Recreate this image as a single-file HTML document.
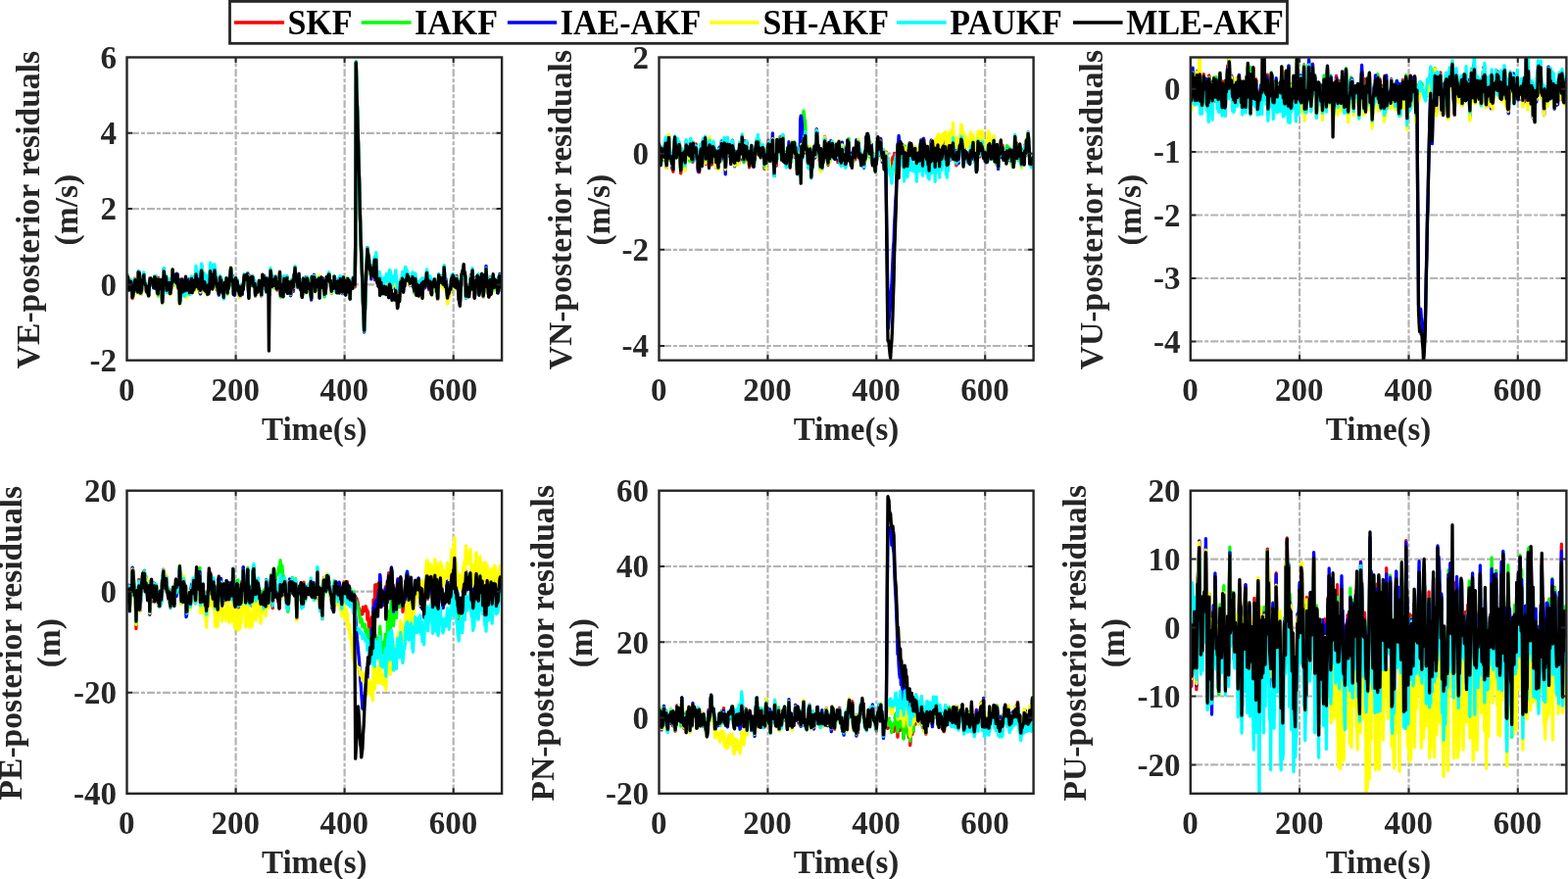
<!DOCTYPE html>
<html><head><meta charset="utf-8"><title>Posterior residuals</title><style>html,body{margin:0;padding:0;background:#fff;}svg{display:block;}text{font-family:'Liberation Serif','Times New Roman',serif;font-weight:bold;}</style></head><body>
<svg width="1600" height="897" viewBox="0 0 1600 897">
<rect width="1600" height="897" fill="#fff"/>
<defs>
<clipPath id="c0"><rect x="129.5" y="58.5" width="382.6" height="309.2"/></clipPath>
<clipPath id="c1"><rect x="672.5" y="58.5" width="382.1" height="309.2"/></clipPath>
<clipPath id="c2"><rect x="1214.8" y="58.5" width="383.6" height="309.2"/></clipPath>
<clipPath id="c3"><rect x="129.5" y="500.7" width="382.6" height="309.1"/></clipPath>
<clipPath id="c4"><rect x="672.5" y="500.7" width="382.1" height="309.1"/></clipPath>
<clipPath id="c5"><rect x="1214.8" y="500.7" width="383.6" height="309.1"/></clipPath>
</defs>
<path d="M240.6 58.5V367.7M351.6 58.5V367.7M462.7 58.5V367.7" stroke="#b3b3b3" stroke-width="2.2" stroke-dasharray="8 2 4 2" stroke-dashoffset="4.2" fill="none"/>
<path d="M129.5 290.4H512.1M129.5 213.1H512.1M129.5 135.8H512.1" stroke="#b3b3b3" stroke-width="2.2" stroke-dasharray="8 2 4 2" stroke-dashoffset="11.6" fill="none"/>
<g clip-path="url(#c0)" fill="none" stroke-width="3.3" stroke-linejoin="round" stroke-linecap="round">
<path stroke="#ff0000" d="M129.5 287.7l.6-6.8 .5 2.1 .6 2 .5 8.9 .6-5.1 .5 4.7 .6-2.8 .5-2.1 .6 4.6 .6 11.5 .5-1.6 .6-3 .5-8.3 .6 2.4 .5-10.1 .6 5.8 .5-.7 .6-2.7 .6 2.6 .5 8.9 .6-19.9 .5 .6 .6-1 .5 11.9 .6 8.9 .5 1.7 .6-2.3 .5-10.9 .6-1.4 .6-2.7 .5-3 .6 8.4 .5 .8 .6 2.7 .5 1.1 .6 5.6 .5-7.2 .6 3.3 .6 5.3 .5 1.2 .6-9 .5-8.2 .6 2.8 .5-2.2 .6 4.6 .5-.4 .6 1.1 .6 1.4 .5 2.1 .6-5.5 .5-4.3 .6 10.2 .5-12.1 .6 7.3 .5 .7 .6 8.9 .6 .1 .5-15.2 .6 11.4 .5-4.7 .6 4.9 .5-1.6 .6-6.3 .5 6.9 .6 14.6 .5-7.6 .6-16.5 .6-7.4 .5 8.4 .6 2.6 .5 3.5 .6-7.3 .5 12.7 .6-2.4 .5-7.3 .6 .7 .6 2.2 .5-4.8 .6 12.4 .5 1 .6-4.1 .5-4.1 .6-1.2 .5-12.2 .6 11.6 .6-5.8 .5 4.4 .6-4.3 .5 5.9 .6 .3 .5-10 .6 9.7 .5-6.6 .6 12 .6-1.7 .5-5.5 .6 20.7 .5-1.8 .6-10.9 .5-7.3 .6-3.4 .5 5.3 .6 7 .6-10.6 .5 1.7 .6 9.1 .5-5.1 .6-8.4 .5 7.6 .6 6.4 .5-4.3 .6-2 .5-4 .6-.5 .6 11.7 .5-.9 .6-9.8 .5-.3 .6-3.1 .5 13.2 .6-2.2 .5-9 .6 8.8 .6-7.6 .5 1.3 .6 3.3 .5-11.5 .6 6.1 .5 1.5 .6-2.7 .5-.9 .6 10.4 .6-1.9 .5 3.6 .6 2.7 .5-18.1 .6-5.6 .5 2.3 .6 17.1 .5-7.5 .6 1.2 .6 7.4 .5-6.7 .6 8.7 .5-.1 .6-.6 .5 .7 .6 1.6 .5-9.9 .6 9.3 .5-3 .6-2.7 .6-16.5 .5 11.9 .6-6.9 .5-5.3 .6 14.9 .5-2.6 .6-4.9 .5 2.6 .6-12 .6 11.3 .5-1.1 .6 7.5 .5 3.6 .6-4.6 .5 5.6 .6-6.2 .5 9.6 .6-4.9 .6-11.2 .5 13.2 .6-12.8 .5 5.4 .6 4.5 .5 2.7 .6-8.9 .5 13.7 .6-10.7 .6-.3 .5 1.7 .6-4.2 .5-4.3 .6 7.4 .5 5.3 .6-7.7 .5 5 .6-3.2 .6-5.8 .5-5.7 .6-4.9 .5 7.7 .6 1.2 .5-2.6 .6 4.5 .5 11.9 .6-2.1 .5 4.9 .6-10 .6-4.6 .5 3.9 .6 5.8 .5-8.7 .6 9 .5-3 .6 8.8 .5 1.5 .6-.4 .6-6.9 .5 1.5 .6-7 .5 7.4 .6-7.5 .5 4.4 .6-11.1 .5-1.1 .6 5.4 .6-2.4 .5-2.2 .6-.6 .5 4.2 .6-4.1 .5 10.7 .6 8.8 .5-10 .6-.3 .6-8.1 .5-2 .6 .3 .5-.3 .6 .1 .5 4 .6 4 .5 0 .6-.9 .6 12.3 .5-6.1 .6 3.4 .5-3.6 .6 3.6 .5-3.8 .6 1.9 .5-6.9 .6 7.9 .5-.7 .6-2.6 .6 7.4 .5-5.9 .6-15.4 .5 2.2 .6 2.2 .5-3.3 .6 7.4 .5 1.2 .6 .3 .6 6.4 .5-13 .6 6.4 .5 1.5 .6 1.1 .5 .7 .6 6.1 .5-13 .6-11.1 .6 5.8 .5 8.7 .6 4.7 .5-5.2 .6-3.2 .5 1.1 .6-3.9 .5 7.9 .6-9.4 .6 6.2 .5 6.7 .6 1.2 .5-2.6 .6-3.3 .5 1.3 .6-4 .5-8.1 .6 20.5 .5 3 .6-9.7 .6 4.1 .5-5.1 .6 8.5 .5-8.5 .6-7.5 .5 1.1 .6 10.3 .5-4.5 .6-6.2 .6-3.1 .5 14.4 .6 0 .5-10.2 .6 7.9 .5 4.5 .6-9.4 .5 12.4 .6-6.4 .6-9.5 .5 7.2 .6-4.6 .5 8.8 .6-11.9 .5-2.7 .6-7.5 .5 8 .6 1.8 .6 .9 .5-2.6 .6 9.9 .5-3.3 .6-10.8 .5 6.4 .6 3 .5 7.4 .6-5 .6 10.1 .5 1.8 .6-5.3 .5-13.3 .6 6.6 .5 6.5 .6-3.8 .5-6.6 .6-4.3 .5 14.3 .6-12.4 .6 1.9 .5 7.4 .6-2.2 .5-4.5 .6 4.5 .5 .9 .6 8.8 .5 3.2 .6-22.1 .6 9.5 .5 .3 .6-3.3 .5-6.4 .6 2.7 .5 12.5 .6-2.7 .5-3 .6-5.5 .6 4.9 .5-5 .6 .5 .5-3.6 .6 20 .5-12.9 .6-5.1 .5-2.6 .6 4.3 .6 4.4 .5-7.5 .6 2.4 .5 10.4 .6 5.3 .5-8.5 .6 5.8 .5-8.8 .6-6.6 .5 4.9 .6-1.9 .6-1 .5-7.2 .6 1.1 .5 9.5 .6 .2 .5 4.2 .6 1.1 .5-8 .6 3.1 .6 4.1 .5 1.6 .6-13 .5 9.4 .6 3.4 .5-2.4 .6-4.5 .5 10.3 .6-12.1 .6 .2 .5 8.8 .6 .9 .5-3.4 .6-8.2 .5 10.2 .6-8.1 .5-1.3 .6 11.6 .6-9.3 .5-5.4 .6 8.6 .5-6.2 .6 11.9 .5 3 .6-5.8 .5-6.7 .6 3.4 .6-5 .5 13.4 .6-3.7 .5-8.8 .6 16.2 .5-14.8 .6 3.3 .5-2.7 .6-2.9 .5 5.9 .6-9 .6 5 .5 1.4 .6 3.6 .5-45.2 .6-183.3 .5 22.8 .6 20.1 .5 15.4 .6 22.4 .6 23 .5 19.5 .6 23.2 .5 19 .6 17.5 .5 14.6 .6 14.6 .5 13.5 .6 18.8 .6 11.3 .5 16 .6-13 .5-15.3 .6-18.1 .5-12.6 .6-9.1 .5-12.3 .6 5.9 .6 .8 .5 4.4 .6 8.1 .5-4.3 .6 8.6 .5 3.6 .6-4.1 .5-2.2 .6-1.6 .5-1 .6 0 .6-8.1 .5 19.8 .6-6.8 .5-12.2 .6 15.2 .5 7.3 .6-.3 .5 2.6 .6-.9 .6-7.5 .5 17.5 .6-2.3 .5-10.2 .6 5.9 .5 1.5 .6 3.9 .5-7.3 .6 6.4 .6-12.4 .5 1.1 .6 .9 .5 1.2 .6-6.6 .5 4.5 .6 4.5 .5-3.5 .6 3.6 .6-12.5 .5-1.3 .6 2.1 .5 4.8 .6 .3 .5 10.2 .6-3.8 .5-.7 .6-.5 .6-3.6 .5 5.7 .6 1.4 .5-9.9 .6 6.4 .5 3.6 .6 8.9 .5-1.7 .6-4.5 .5-1.4 .6 8.2 .6-10.6 .5-2.6 .6 3.6 .5-4.1 .6-6.6 .5 10.3 .6 3.1 .5-7.6 .6 2.5 .6-2.7 .5-3.2 .6-1.6 .5 1.5 .6-5.9 .5 4.8 .6-.6 .5 4.7 .6 .1 .6 2.7 .5-2.4 .6 1.9 .5-2.2 .6-1.5 .5-3.9 .6 8.1 .5-2.5 .6 8.6 .6-5.7 .5-8.6 .6 5.3 .5 11.6 .6-8.1 .5 .6 .6 4 .5 4.3 .6-.6 .6 1.8 .5-8.8 .6-.7 .5-2.2 .6-2.7 .5 15.5 .6-9.5 .5-5.3 .6 4.2 .5 .7 .6 .1 .6-7 .5-1.1 .6-7.7 .5 2.9 .6 3.5 .5 5.9 .6 6.3 .5-5.3 .6-4.7 .6 2.5 .5 9.2 .6 2.7 .5-11.1 .6 2 .5-.7 .6 4.3 .5-8.2 .6-.2 .6 4.9 .5-2.1 .6 8.3 .5-2.2 .6 10.1 .5-9.9 .6-15.5 .5 6.6 .6-5.5 .6 4.3 .5 .5 .6-.3 .5 2 .6-6 .5 7.6 .6-2.9 .5-13 .6 13.9 .5 7 .6-6.3 .6 4.3 .5 5.1 .6 5.2 .5-2.4 .6 2.6 .5-3.4 .6-2.2 .5-.5 .6 1.4 .6-12.2 .5-3 .6 6.9 .5-8.9 .6 2 .5-.8 .6 8.6 .5-2.3 .6 .2 .6 3 .5-10 .6 4.8 .5 1 .6 11.8 .5 6.1 .6 1 .5 3.2 .6-9.1 .6-8.6 .5-9.5 .6-3 .5-2.3 .6-.5 .5-3.4 .6 10.2 .5-2.8 .6 4.4 .6 19.7 .5-11.2 .6 1.1 .5 1 .6 4.9 .5 .1 .6-2.8 .5-8.6 .6-2 .5-6.7 .6 12.4 .6-11.6 .5-4.1 .6 14.2 .5-3 .6 9.2 .5 6.3 .6-6.7 .5-8.4 .6-2.4 .6 2.7 .5-3.2 .6 3.2 .5-5.9 .6 17 .5-2.5 .6-2.9 .5-1.3 .6-2.2 .6-11.6 .5 15.9 .6-3 .5 9.6 .6-5.9 .5-12 .6-3.1 .5 10.6 .6-18.4 .6 11.5 .5 9.7 .6-3.5 .5 7.4 .6 4.8 .5-10.4 .6-7.1 .5-3 .6 14.6 .5-1.6 .6-3.6 .6-6.9 .5-2.1 .6 8.4 .5 4.6 .6-8.9 .5 4.5 .6-4 .5-1.8 .6 3.2 .6 7.8 .5 .3 .6-.8 .5-13.8 .6-2.3 .5 11.3 .6-1.5 .5 2.9 .6-2.7"/>
<path stroke="#00ff00" d="M129.5 288.1l.6-7.1 .5 2.2 .6 2.9 .5 9.7 .6-6.3 .5 2.1 .6-3.4 .5-1.8 .6 4.1 .6 12.2 .5-.6 .6-2.6 .5-6.6 .6 4.7 .5-11.4 .6 3.6 .5-.5 .6-2 .6 2.6 .5 8 .6-20.2 .5 2.7 .6-.1 .5 11.6 .6 7.8 .5 .5 .6-3.1 .5-11.4 .6-1.5 .6-2.5 .5-2.6 .6 8.7 .5 .6 .6 2.2 .5 1.2 .6 6 .5-6.3 .6 3.4 .6 5.2 .5 1.9 .6-8.5 .5-8.1 .6 2.3 .5-3.5 .6 3 .5-.9 .6 1.2 .6 2.4 .5 3.5 .6-5.1 .5-4.7 .6 10.8 .5-11.5 .6 7.3 .5 .8 .6 10 .6 1 .5-16.7 .6 8.6 .5-6 .6 5.9 .5-.7 .6-6.3 .5 7.1 .6 15.2 .5-8.2 .6-18.5 .6-7.9 .5 10.2 .6 3.4 .5 1.9 .6-8.1 .5 13.9 .6-.3 .5-6.2 .6-.3 .6 1.2 .5-5 .6 12.6 .5 1.4 .6-3.5 .5-3.4 .6-1.3 .5-14 .6 9.8 .6-6.2 .5 5.8 .6-2.7 .5 6.3 .6 .5 .5-9.8 .6 8.5 .5-8.9 .6 11.6 .6-.5 .5-4.2 .6 21.1 .5-2.2 .6-10.4 .5-6 .6-2.5 .5 4.8 .6 5.8 .6-12 .5 2.4 .6 9.8 .5-5.2 .6-8.3 .5 8.2 .6 5.4 .5-6.5 .6-2.2 .5-3.3 .6-1.6 .6 10.4 .5 .6 .6-8.7 .5-.2 .6-2 .5 14.2 .6-2.8 .5-10 .6 9 .6-6.2 .5 2.2 .6 2.5 .5-12.2 .6 6.9 .5 2.2 .6-4 .5-1.8 .6 10.4 .6-1.8 .5 3.4 .6 3.3 .5-17.8 .6-6.7 .5 1.8 .6 17.6 .5-7.3 .6 .3 .6 5.5 .5-7.2 .6 10.3 .5 1.9 .6 .3 .5 .7 .6 1.4 .5-10.9 .6 7.3 .5-4.1 .6-2.3 .6-15 .5 14.6 .6-5.9 .5-6 .6 15 .5-2.2 .6-5.4 .5 2.4 .6-11.6 .6 10.5 .5-3.7 .6 6.3 .5 5.6 .6-2.5 .5 5.1 .6-8 .5 9.5 .6-5.2 .6-12.3 .5 13.9 .6-11.2 .5 4.7 .6 3.4 .5 3.9 .6-6.6 .5 13.7 .6-13.1 .6-1.3 .5 2 .6-3.7 .5-3.5 .6 9.3 .5 6.7 .6-9 .5 3.7 .6-2.6 .6-4.5 .5-5.9 .6-6.3 .5 7.5 .6 1.3 .5-2.4 .6 3.5 .5 11.1 .6-2 .5 4.4 .6-10.6 .6-3.5 .5 5.7 .6 6.1 .5-9.1 .6 8 .5-4.3 .6 8.6 .5 2.5 .6 .3 .6-6.8 .5 2 .6-5.3 .5 7.9 .6-9.4 .5 2.4 .6-12.1 .5-1.3 .6 6 .6-1.2 .5-1.2 .6-.9 .5 1.5 .6-5.9 .5 11.5 .6 10.9 .5-9.5 .6-.2 .6-6.7 .5-.8 .6 1.1 .5 .1 .6 .2 .5 3.7 .6 3.8 .5-.1 .6-1.8 .6 11.3 .5-6.2 .6 3.6 .5-5.1 .6 .9 .5-4.7 .6 2.6 .5-5.6 .6 7.9 .5-1.2 .6-1.3 .6 8.8 .5-4.9 .6-15.4 .5 1.3 .6 2.2 .5-1.8 .6 8.6 .5 1 .6-.4 .6 6.3 .5-13 .6 4.7 .5-1 .6 1.1 .5 2.7 .6 7.9 .5-13.2 .6-11.9 .6 5.8 .5 7.9 .6 3.9 .5-4.2 .6-2 .5 1.5 .6-3.4 .5 8 .6-10.7 .6 4.4 .5 5.3 .6-.3 .5-2.3 .6-.6 .5 3.3 .6-5 .5-9.5 .6 21.1 .5 3.9 .6-9.9 .6 5.4 .5-3.5 .6 7.2 .5-9.9 .6-8 .5 1.5 .6 12.2 .5-3.2 .6-6.8 .6-3.7 .5 14.5 .6 0 .5-10.8 .6 6.8 .5 3.1 .6-9.9 .5 13.3 .6-6.1 .6-10 .5 7.5 .6-4.5 .5 7.1 .6-13.6 .5-3.1 .6-6.4 .5 10.7 .6 3.9 .6-.2 .5-4.5 .6 10.2 .5-2.1 .6-9.4 .5 7.1 .6 1.7 .5 5.5 .6-5.5 .6 10.9 .5 3 .6-3.9 .5-12.5 .6 5.6 .5 4.6 .6-3.8 .5-4.9 .6-3.3 .5 13.1 .6-15 .6 .7 .5 8.6 .6 .1 .5-3 .6 2.9 .5-1.3 .6 8.8 .5 4 .6-20.8 .6 9.3 .5-1.7 .6-2.6 .5-3.5 .6 2.6 .5 10.1 .6-4.1 .5-2.3 .6-4.8 .6 5.4 .5-4.4 .6-.1 .5-5.1 .6 19.3 .5-12.9 .6-3.6 .5-1.4 .6 4 .6 4.3 .5-6.6 .6 3 .5 9.9 .6 5 .5-8.7 .6 5.3 .5-9.1 .6-7.1 .5 4.5 .6-1.6 .6-.6 .5-6.6 .6 .8 .5 8.5 .6 .9 .5 7.4 .6 2.6 .5-9.6 .6 .5 .6 2.2 .5 1 .6-11.8 .5 11.4 .6 3.1 .5-5.3 .6-5.3 .5 11.7 .6-11.1 .6 .6 .5 8.8 .6 1.1 .5-3.8 .6-9 .5 9.8 .6-7.2 .5-.1 .6 12.5 .6-8.6 .5-6.2 .6 7.1 .5-6.3 .6 11.9 .5 1.8 .6-7.3 .5-7.2 .6 4.8 .6-3.2 .5 14 .6-3.9 .5-8.4 .6 17.9 .5-14.4 .6 2.5 .5-2.5 .6-2 .5 5.6 .6-10.6 .6 4 .5 .2 .6 2.3 .5-45.3 .6-182.4 .5 23.8 .6 20.6 .5 15.4 .6 22.1 .6 22.1 .5 19.3 .6 24.6 .5 20.5 .6 18.8 .5 14.9 .6 13.1 .5 11.9 .6 18.8 .6 11.7 .5 17.5 .6-11.6 .5-16.8 .6-21 .5-14.7 .6-9.1 .5-12.2 .6 5.9 .6 2.6 .5 6.6 .6 8.7 .5-4.7 .6 7.2 .5 4 .6-1 .5-.4 .6-2.5 .5-2.2 .6-1.4 .6-9.6 .5 17.9 .6-8.8 .5-12 .6 17.5 .5 8.4 .6-.2 .5 2.7 .6-1.1 .6-7.6 .5 17.5 .6-3 .5-10.9 .6 6.7 .5 2.8 .6 4.8 .5-6.1 .6 6 .6-13.2 .5 1.1 .6 1 .5 .7 .6-7.9 .5 3.3 .6 4.7 .5-1.6 .6 6.1 .6-11.7 .5-2.6 .6 .8 .5 4.5 .6 .1 .5 10 .6-4.8 .5-2.9 .6-1.1 .6-.9 .5 7.9 .6 0 .5-11.8 .6 6.7 .5 4.8 .6 10.1 .5-1.2 .6-4.2 .5-.7 .6 9 .6-11.3 .5-4.1 .6 2.8 .5-3.9 .6-6.6 .5 9.6 .6 2.7 .5-7.7 .6 2.8 .6-2.5 .5-2.6 .6-.6 .5 1.5 .6-6.3 .5 4.9 .6-1.4 .5 3.4 .6 .3 .6 3.7 .5-3.7 .6 1.4 .5-1.4 .6-2.1 .5-4.2 .6 9.3 .5-.7 .6 9.4 .6-5.3 .5-9.4 .6 4.2 .5 12.2 .6-8 .5-.9 .6 3.8 .5 3.9 .6-1.4 .6 3.3 .5-7 .6-.8 .5-2.3 .6-2.9 .5 14.2 .6-10.2 .5-5.1 .6 3.5 .5 0 .6 1.8 .6-5.7 .5-2.2 .6-7.1 .5 5.3 .6 2.9 .5 2.5 .6 5.1 .5-3.1 .6-3.1 .6 2.3 .5 8 .6 1.4 .5-11.9 .6 2.1 .5 .9 .6 5.8 .5-8.2 .6-1.1 .6 4.4 .5-2.1 .6 8 .5-2.8 .6 8.9 .5-9.5 .6-14 .5 8.3 .6-3.2 .6 5.2 .5-.5 .6-1.8 .5 2.2 .6-5.8 .5 5.8 .6-4.9 .5-13.5 .6 13.5 .5 7.1 .6-5.4 .6 5.9 .5 7 .6 4.8 .5-5 .6 1.6 .5-1.9 .6-2.1 .5-.9 .6 2.4 .6-11.3 .5-2.2 .6 7.2 .5-8.5 .6 2.4 .5-.8 .6 5.9 .5-4.6 .6 .4 .6 5.4 .5-8.2 .6 3.6 .5-1.2 .6 10.4 .5 5.4 .6 .9 .5 4.6 .6-9.1 .6-9.6 .5-8.8 .6-.5 .5-.8 .6-1.7 .5-5.2 .6 9.3 .5-2.4 .6 5 .6 20.1 .5-9.5 .6 1.4 .5-1 .6 5.1 .5 1.9 .6-2.4 .5-8.8 .6-1.2 .5-5.8 .6 12.1 .6-13.1 .5-5.1 .6 14.6 .5-2.4 .6 8.3 .5 4.6 .6-8.1 .5-8.2 .6-.4 .6 3.3 .5-5.1 .6 1.8 .5-6.1 .6 17.2 .5-1.5 .6-1.1 .5 1.7 .6 .1 .6-12.9 .5 12.7 .6-4.9 .5 9.6 .6-5 .5-11.2 .6-2.9 .5 11.7 .6-17.8 .6 10.1 .5 8.1 .6-4.2 .5 7.5 .6 4.6 .5-9.8 .6-5.9 .5-2.8 .6 13.8 .5-2.5 .6-3.2 .6-6.9 .5-2.7 .6 9.2 .5 5.4 .6-9.3 .5 4.5 .6-2.9 .5-1.7 .6 3.4 .6 8.1 .5-.4 .6-1.2 .5-13.8 .6-1.8 .5 12.1 .6-2.8 .5-.2 .6-4.1"/>
<path stroke="#0000ff" d="M129.5 286.8l.6-6.1 .5 3.1 .6 3.1 .5 9.1 .6-6.9 .5 2.2 .6-3.9 .5-1.1 .6 5.2 .6 11.8 .5-1.6 .6-3.2 .5-6.7 .6 5.5 .5-10.3 .6 3.8 .5-.9 .6-1.8 .6 3.4 .5 7.4 .6-21.1 .5 3.4 .6 .8 .5 11.4 .6 5.9 .5-1.1 .6-3.3 .5-10.3 .6 .2 .6-2.2 .5-3.2 .6 7.8 .5-.2 .6 2.8 .5 1.5 .6 5.3 .5-6.2 .6 3.8 .6 5.1 .5 2 .6-8.8 .5-7.8 .6 3.4 .5-2.2 .6 3 .5-1.5 .6 1.6 .6 2.2 .5 2.7 .6-5.4 .5-4.4 .6 10.1 .5-11.4 .6 7.3 .5-.5 .6 8.3 .6 1.3 .5-14.2 .6 10.3 .5-6.2 .6 4.7 .5-.2 .6-5.3 .5 6.2 .6 13.9 .5-8.2 .6-18.3 .6-7.7 .5 10.4 .6 4.3 .5 2.7 .6-8.8 .5 13 .6-.7 .5-6.3 .6 .4 .6 2.4 .5-4.7 .6 12.2 .5 .7 .6-4.2 .5-4.2 .6-2 .5-13.8 .6 11 .6-4.8 .5 6.6 .6-2.8 .5 5.4 .6-.6 .5-11.2 .6 8.6 .5-8.2 .6 11.9 .6-1.3 .5-5.1 .6 21.3 .5-1.4 .6-9.4 .5-6.1 .6-3.1 .5 4.1 .6 6.1 .6-10.2 .5 2.2 .6 8.1 .5-5.9 .6-7.1 .5 8.7 .6 5.5 .5-5 .6-1.1 .5-4.3 .6-2.1 .6 12 .5 1.2 .6-9.8 .5-1.7 .6-3.3 .5 14.6 .6-.9 .5-9.4 .6 8.1 .6-7.5 .5 1.8 .6 2.9 .5-12.1 .6 5.3 .5 1.3 .6-2.2 .5-1.1 .6 10.2 .6-1.4 .5 3.6 .6 2.9 .5-17.8 .6-5.7 .5 .8 .6 15.6 .5-7.7 .6 .3 .6 7.2 .5-5.3 .6 9.6 .5 .2 .6 .3 .5 1.2 .6 1.4 .5-10.4 .6 7.9 .5-3.9 .6-1.8 .6-14.2 .5 14.4 .6-5.7 .5-6.2 .6 13.9 .5-1.9 .6-4.5 .5 .2 .6-14.2 .6 12 .5-.7 .6 5.7 .5 2.9 .6-4.7 .5 5.4 .6-4.7 .5 11.7 .6-5.2 .6-12.6 .5 13.2 .6-12.1 .5 5.4 .6 4.4 .5 4.3 .6-7.7 .5 12.2 .6-13.6 .6-1 .5 4.4 .6-2.4 .5-5.5 .6 6.7 .5 6.8 .6-8 .5 3 .6-3.6 .6-4.8 .5-5.2 .6-6.5 .5 6.8 .6 2.7 .5-.7 .6 5.9 .5 12.6 .6-2.7 .5 3.5 .6-11.3 .6-5.7 .5 3.4 .6 5.8 .5-7.5 .6 10.3 .5-3.4 .6 7.4 .5 .5 .6-.2 .6-5.9 .5 2.9 .6-5.7 .5 8.6 .6-7.5 .5 2.5 .6-13.7 .5-2 .6 5.6 .6-1.4 .5-1.3 .6-1.7 .5 2.7 .6-4.6 .5 12.2 .6 11.4 .5-10 .6-1.5 .6-7.5 .5-1.2 .6 1.3 .5 .5 .6-1 .5 3.3 .6 4.6 .5 1 .6-1.1 .6 10.8 .5-7.2 .6 3 .5-3.9 .6 2.2 .5-5.2 .6 1.8 .5-6 .6 8.3 .5-.7 .6-1.2 .6 8.6 .5-5.2 .6-14.2 .5 2.5 .6 .7 .5-4.3 .6 8.2 .5 2.5 .6 .5 .6 5.7 .5-13.8 .6 5 .5-.3 .6 1.1 .5 2.1 .6 8.3 .5-11.7 .6-11.2 .6 4.6 .5 6.3 .6 3.2 .5-5 .6-1.4 .5 2.1 .6-4.8 .5 8.5 .6-8.4 .6 6.3 .5 5.6 .6-.8 .5-4.3 .6-2.7 .5 4.3 .6-1.9 .5-7.8 .6 20 .5 2 .6-8.7 .6 6.6 .5-5.1 .6 6.1 .5-10.6 .6-9.8 .5 .2 .6 11.7 .5-2.7 .6-5.7 .6-3.3 .5 14.8 .6-.5 .5-9.6 .6 8.7 .5 3.4 .6-10.1 .5 12.6 .6-5.8 .6-8 .5 7.3 .6-6.9 .5 7.2 .6-11.6 .5-3.1 .6-7.2 .5 10.2 .6 3.1 .6-.9 .5-4.6 .6 10.6 .5-2.2 .6-9.6 .5 6.8 .6 2.5 .5 6.4 .6-6.6 .6 10.2 .5 3.1 .6-4.1 .5-12.5 .6 6.9 .5 5.7 .6-5.4 .5-6 .6-2.9 .5 13.6 .6-14.1 .6 1.3 .5 8.7 .6-.3 .5-4.2 .6 3.5 .5 .1 .6 9 .5 4.5 .6-21.6 .6 7.2 .5-2.4 .6-4.1 .5-4.9 .6 4.1 .5 11.9 .6-3.5 .5-1.4 .6-4.3 .6 4.3 .5-6.3 .6-.2 .5-2.6 .6 21.4 .5-12.2 .6-3.5 .5-1.6 .6 3.7 .6 2.4 .5-8.2 .6 2.6 .5 9 .6 4 .5-7.9 .6 7.8 .5-7.6 .6-7.4 .5 3.4 .6-2.6 .6-.5 .5-5.8 .6 1 .5 8.4 .6 0 .5 5.2 .6 2.3 .5-7 .6 1.5 .6 2 .5 1.5 .6-12 .5 10.9 .6 2.6 .5-4.7 .6-5.1 .5 11 .6-11.3 .6 1.5 .5 9 .6-.3 .5-5.2 .6-8.2 .5 12.3 .6-5.6 .5-.4 .6 10.8 .6-10.6 .5-5.9 .6 8.4 .5-6.2 .6 12.1 .5 2.7 .6-7.3 .5-8.2 .6 3.8 .6-2.5 .5 13.9 .6-4.8 .5-8.4 .6 17.9 .5-14.8 .6 2.9 .5-2.4 .6-2.8 .5 5.4 .6-10.1 .6 5.3 .5 1.1 .6 2.1 .5-45.1 .6-182.2 .5 22.6 .6 19.5 .5 16.4 .6 23.6 .6 21.8 .5 18.6 .6 24.1 .5 19.5 .6 16.6 .5 14.7 .6 16.3 .5 14.2 .6 18.3 .6 11.6 .5 17.3 .6-12.5 .5-16.2 .6-20.5 .5-15.1 .6-9.4 .5-12.5 .6 5.5 .6 1.3 .5 6.1 .6 8.4 .5-4.4 .6 9.4 .5 5.8 .6-3.6 .5-3.3 .6-3.3 .5-2.2 .6 .6 .6-6.6 .5 19.2 .6-8.4 .5-11.9 .6 15.1 .5 6.9 .6 .4 .5 3.7 .6-.6 .6-7.4 .5 17.8 .6-3.1 .5-10.7 .6 6.5 .5 0 .6 1.8 .5-5.9 .6 9 .6-10.6 .5 1.6 .6 .2 .5 .4 .6-7.6 .5 3 .6 4.2 .5-2.8 .6 4.7 .6-12 .5-1.5 .6 2.3 .5 4.7 .6-1 .5 9.7 .6-2.5 .5 0 .6 .5 .6-2.8 .5 5.3 .6 .2 .5-10.5 .6 5.9 .5 1.7 .6 8.7 .5-.7 .6-5 .5-1.3 .6 9.6 .6-10.4 .5-3.6 .6 4 .5-2.4 .6-6.7 .5 9.9 .6 4.1 .5-7.3 .6 1.2 .6-5.8 .5-5.7 .6-.5 .5 4 .6-3.9 .5 5.1 .6-1.8 .5 4 .6 .4 .6 3.6 .5-3.1 .6 1.6 .5-.2 .6-.4 .5-4.1 .6 7.6 .5-4.1 .6 8.7 .6-5.3 .5-9.1 .6 5.1 .5 11 .6-10.3 .5 0 .6 7.1 .5 5.4 .6-2.9 .6 .7 .5-8.8 .6-.6 .5-1.4 .6-1.8 .5 15.9 .6-8.6 .5-4 .6 4.2 .5-.4 .6 0 .6-7.2 .5-1.9 .6-6.8 .5 4.4 .6 3.2 .5 3.8 .6 5.3 .5-3.5 .6-3.2 .6 1.8 .5 7.9 .6 2.2 .5-10.4 .6 2.9 .5 0 .6 4.3 .5-9.2 .6-.7 .6 5.1 .5-3.2 .6 7.1 .5-1.4 .6 11 .5-8.9 .6-15.6 .5 6.2 .6-5.1 .6 3.9 .5-.4 .6-.2 .5 3.8 .6-4.6 .5 6.2 .6-4.7 .5-13.5 .6 12.6 .5 6 .6-6.4 .6 6.2 .5 8.1 .6 5.3 .5-5 .6 1.7 .5-.7 .6-1.5 .5-2.1 .6 1.7 .6-11.6 .5-3.6 .6 7 .5-8.8 .6 1.8 .5-1.3 .6 7.1 .5-2.8 .6 1.1 .6 4.5 .5-8.1 .6 5.2 .5-.8 .6 10.5 .5 6.8 .6 1.4 .5 4.3 .6-8.8 .6-9.9 .5-9.3 .6-2.3 .5-3 .6-1.9 .5-3.8 .6 10.3 .5-2.1 .6 4.5 .6 18.6 .5-11.8 .6 1.1 .5 1.1 .6 5.7 .5 .5 .6-2.5 .5-7.1 .6 0 .5-5.7 .6 11 .6-13.4 .5-4.2 .6 14 .5-4.3 .6 9 .5 7.3 .6-7.2 .5-10.7 .6-3.4 .6 3.2 .5-2.9 .6 3.2 .5-4.7 .6 17.6 .5-1.9 .6-1 .5 1.2 .6-1.6 .6-13.1 .5 14.8 .6-3.2 .5 8.8 .6-6.6 .5-12.1 .6-4 .5 9.1 .6-18.1 .6 11.6 .5 9.7 .6-3 .5 8.1 .6 4.7 .5-10.8 .6-6.4 .5-1.2 .6 15.7 .5-1.9 .6-4.3 .6-8 .5-3.1 .6 8.6 .5 4.2 .6-10.2 .5 5.2 .6-2 .5-1.6 .6 3.4 .6 9 .5 .1 .6-2.3 .5-14.4 .6-2.8 .5 11.5 .6-1 .5 1.5 .6-3.7"/>
<path stroke="#ffff00" d="M129.5 289.6l.6-8.6 .5 .9 .6 2 .5 9.5 .6-5.8 .5 3.1 .6-1.8 .5 .3 .6 4.3 .6 10.4 .5-1.4 .6-2.6 .5-6.9 .6 3.5 .5-11.5 .6 4.6 .5-.2 .6-2.1 .6 3.4 .5 8.8 .6-20.6 .5 1.1 .6-.6 .5 12.8 .6 8.3 .5-.6 .6-3.6 .5-11.6 .6-.7 .6-.6 .5-2.1 .6 6.5 .5-.4 .6 3.9 .5 2.1 .6 5.3 .5-7.5 .6 1.4 .6 5 .5 3.1 .6-8.3 .5-7.1 .6 3.1 .5-3.4 .6 3.3 .5-.5 .6 1 .6-.1 .5 1.1 .6-5.3 .5-3 .6 12.3 .5-9.9 .6 8.9 .5 .6 .6 7.6 .6-.7 .5-16 .6 9.7 .5-5.2 .6 6.1 .5-.8 .6-6.7 .5 6.7 .6 14.4 .5-8.2 .6-16.8 .6-7 .5 9.2 .6 3.7 .5 2.8 .6-8.9 .5 12.5 .6-2.1 .5-7.6 .6 .4 .6 3.4 .5-3.4 .6 13.2 .5 1.1 .6-4.2 .5-5.1 .6-3.1 .5-13.6 .6 11.9 .6-4.1 .5 6 .6-3.9 .5 5.7 .6 1.6 .5-9 .6 7.8 .5-10.4 .6 12.6 .6 2 .5-4.4 .6 19.8 .5-1.9 .6-9.6 .5-6.3 .6-2.3 .5 5.4 .6 5.8 .6-10.8 .5 2.9 .6 9 .5-5.7 .6-7.8 .5 8.3 .6 6.2 .5-4.6 .6-2.5 .5-5.4 .6-2 .6 10.9 .5-1.2 .6-10.5 .5-1.2 .6-3.3 .5 13.7 .6-1.1 .5-8.4 .6 9.7 .6-5.7 .5 1.8 .6 2.1 .5-13.6 .6 5.1 .5 2.4 .6-1.9 .5-1.5 .6 8.8 .6-3.9 .5 3 .6 3.7 .5-17.5 .6-5.1 .5 2.3 .6 16 .5-8.8 .6 1.1 .6 8.1 .5-5.9 .6 10.2 .5 1.2 .6-.6 .5-.6 .6 .5 .5-10.6 .6 9.3 .5-3 .6-3 .6-15.1 .5 14.7 .6-6.1 .5-6.3 .6 14.2 .5-2.7 .6-4.4 .5 3.2 .6-12.1 .6 9.6 .5-4.1 .6 6.8 .5 5.7 .6-3.1 .5 5.1 .6-7.6 .5 8.5 .6-5.8 .6-10.2 .5 15.5 .6-10.7 .5 5.9 .6 3.8 .5 3 .6-8.3 .5 12.4 .6-12.8 .6-.9 .5 2.8 .6-2.7 .5-4.5 .6 6.8 .5 5.6 .6-9 .5 2.9 .6-3.9 .6-5.3 .5-5.4 .6-4.5 .5 9.6 .6 3.3 .5-1.2 .6 4.3 .5 10.7 .6-3.7 .5 3.6 .6-9.2 .6-2.7 .5 4.6 .6 4.2 .5-9.9 .6 8.7 .5-2 .6 9.8 .5 .6 .6-2.4 .6-7.3 .5 3.1 .6-5 .5 7.4 .6-9.8 .5 3.3 .6-11.4 .5-1.2 .6 5.5 .6-1.7 .5-1.1 .6-.1 .5 3.6 .6-5.1 .5 10.8 .6 9.9 .5-10.1 .6-.5 .6-7.6 .5-1.5 .6 1.5 .5 1.3 .6 .2 .5 3.5 .6 3.5 .5-.1 .6-1 .6 10.8 .5-8.2 .6 2.6 .5-2.8 .6 4.1 .5-3.7 .6 1.3 .5-8 .6 6.7 .5 .5 .6-.4 .6 7.4 .5-6.3 .6-14.6 .5 3.8 .6 3.7 .5-2.5 .6 6.8 .5-.1 .6-.5 .6 6.2 .5-14 .6 4.6 .5-.5 .6 .7 .5 1.7 .6 8.5 .5-12.5 .6-12 .6 6.4 .5 9.5 .6 4.7 .5-4.6 .6-2.5 .5 1.3 .6-4.6 .5 7.7 .6-9.5 .6 5.9 .5 6 .6-.9 .5-3.7 .6-1.9 .5 2.6 .6-3.8 .5-7 .6 21.6 .5 2.3 .6-11 .6 4.5 .5-4.4 .6 8.8 .5-7.7 .6-8.2 .5-.3 .6 10.2 .5-3.5 .6-5.7 .6-2.7 .5 14.5 .6-1.5 .5-10.7 .6 8.4 .5 3.1 .6-10.7 .5 12.7 .6-5.7 .6-8.2 .5 7.3 .6-6.4 .5 7.1 .6-11.5 .5-1.3 .6-6.4 .5 9.2 .6 3.1 .6 .6 .5-3.7 .6 9.7 .5-2.7 .6-9.3 .5 6.7 .6 1.5 .5 5.4 .6-6 .6 10.5 .5 2.8 .6-3.7 .5-11.9 .6 5.7 .5 4.2 .6-3.7 .5-3.7 .6-2.6 .5 12.3 .6-15.4 .6 1.4 .5 8.4 .6-1.5 .5-3.8 .6 5.2 .5 .2 .6 8 .5 2.9 .6-22.2 .6 8.6 .5-.1 .6-3 .5-6.1 .6 3.3 .5 13.1 .6-3.7 .5-3.3 .6-4.1 .6 5.5 .5-5.7 .6-.4 .5-5.1 .6 18.9 .5-12 .6-1.6 .5-.4 .6 4.6 .6 4.8 .5-7.7 .6 .3 .5 6.9 .6 4.1 .5-8.6 .6 6 .5-7.4 .6-5.9 .5 4.5 .6-1.7 .6-.8 .5-6.1 .6 1.7 .5 9.1 .6 0 .5 5.3 .6 3.3 .5-8.1 .6-.5 .6 1.9 .5 3.3 .6-10.8 .5 10.4 .6 1.3 .5-5.3 .6-4.8 .5 11.3 .6-10.3 .6 1.4 .5 7.8 .6 .5 .5-2.8 .6-8.7 .5 9.7 .6-6.9 .5-.4 .6 11.3 .6-9.2 .5-5.7 .6 5.6 .5-6.9 .6 13.6 .5 3.7 .6-6.3 .5-7.1 .6 4.1 .6-4.3 .5 13.5 .6-4.6 .5-9.5 .6 16.8 .5-14.2 .6 4.5 .5-1.8 .6-3.5 .5 5.2 .6-10.2 .6 4.5 .5 1 .6 2.9 .5-44.8 .6-181.2 .5 24.2 .6 19.1 .5 14.3 .6 22.4 .6 22.1 .5 18.6 .6 24.2 .5 20.6 .6 18.1 .5 14.9 .6 14.4 .5 13 .6 18.5 .6 10.7 .5 16.4 .6-11.9 .5-15.1 .6-18.7 .5-14.1 .6-9.9 .5-12.8 .6 5.3 .6 .9 .5 5.3 .6 9.5 .5-4 .6 7.4 .5 4.2 .6-2.7 .5-1 .6-1.2 .5-1.8 .6-1.3 .6-9.3 .5 19 .6-7.3 .5-10.8 .6 16.7 .5 6.5 .6-1.5 .5 3.2 .6-1.2 .6-8.4 .5 17.7 .6-1.8 .5-8.7 .6 6.8 .5 .8 .6 2.5 .5-7.1 .6 8.1 .6-11.5 .5 .1 .6-.3 .5 1.3 .6-6.2 .5 3 .6 2.9 .5-2.5 .6 6.2 .6-11 .5-1.8 .6 1.2 .5 5.1 .6 0 .5 9.5 .6-3.7 .5-.8 .6-.3 .6-3.5 .5 4.5 .6-.3 .5-9.8 .6 7.5 .5 3.4 .6 8.9 .5-.5 .6-4.2 .5-1 .6 10 .6-10.2 .5-5 .6 1.2 .5-3.9 .6-6 .5 10.4 .6 4.5 .5-6.7 .6 .8 .6-5 .5-3.3 .6 .5 .5 3.5 .6-4.5 .5 5.2 .6-2.4 .5 4 .6 0 .6 2.1 .5-3.1 .6 2.2 .5-2.1 .6-3.3 .5-4.3 .6 8.9 .5-1.7 .6 9.6 .6-5.1 .5-9.1 .6 4.3 .5 11.8 .6-6.6 .5 1.5 .6 4.2 .5 3.1 .6-2.5 .6 1.4 .5-8.4 .6 .3 .5-.6 .6-1.8 .5 14.7 .6-10.5 .5-5.2 .6 3 .5-1.7 .6 .1 .6-5.3 .5-.5 .6-6 .5 5.2 .6 2.9 .5 2 .6 4.3 .5-2.3 .6-2.6 .6 2.5 .5 8.7 .6 .8 .5-12.2 .6 2.6 .5 1.2 .6 4.9 .5-9.9 .6-2.3 .6 4.6 .5-.2 .6 9.4 .5-2.3 .6 9.7 .5-9 .6-15.6 .5 6.4 .6-4.3 .6 5.1 .5 1.4 .6 .3 .5 2.4 .6-5.1 .5 7.5 .6-5.2 .5-15.1 .6 13.9 .5 8.4 .6-5.7 .6 5.5 .5 7.3 .6 6.6 .5-3.3 .6-.9 .5-5.1 .6-3 .5-1 .6 2.8 .6-11.3 .5-3.9 .6 6.6 .5-8.5 .6 3.5 .5 .1 .6 8.2 .5-3.1 .6-.7 .6 4.5 .5-8.6 .6 2.6 .5-2 .6 10.7 .5 6.3 .6 1.7 .5 4.8 .6-9.8 .6-11 .5-9.3 .6-1.3 .5-2 .6-1.1 .5-3.6 .6 10.2 .5-2.4 .6 3.8 .6 18.8 .5-10.9 .6 1.1 .5 .5 .6 6.4 .5 1.9 .6-2.7 .5-7.2 .6-.8 .5-7.1 .6 12 .6-12.2 .5-4.3 .6 14.1 .5-4.8 .6 6.6 .5 4.5 .6-7.1 .5-7.9 .6-.6 .6 3.1 .5-4.5 .6 3.2 .5-4.9 .6 17.9 .5-.6 .6-1.4 .5-.8 .6-2.4 .6-13.9 .5 14.3 .6-2.1 .5 10.8 .6-5.3 .5-12.1 .6-3.6 .5 10.7 .6-18.5 .6 10.3 .5 9 .6-3.7 .5 7.1 .6 4.7 .5-9.4 .6-6.1 .5-2.6 .6 13.8 .5-3.8 .6-4.5 .6-6.4 .5-1.3 .6 10.6 .5 5.5 .6-9.1 .5 4.5 .6-4.1 .5-2.8 .6 2.3 .6 7.6 .5 1 .6-.6 .5-13.7 .6-1.8 .5 12.6 .6-1.1 .5 .9 .6-4"/>
<path stroke="#00ffff" d="M129.5 287l.6-5.7 .5 4.5 .6 3 .5 7.7 .6-8 .5 1.2 .6-3.5 .5-.9 .6 3.7 .6 11.2 .5-.6 .6-2.1 .5-6.3 .6 5 .5-10.8 .6 4.3 .5 .3 .6-1.7 .6 1.5 .5 7 .6-20.5 .5 2.3 .6 1.2 .5 12.9 .6 6.4 .5-1.1 .6-2.5 .5-10.5 .6-1.7 .6-2.8 .5-2.6 .6 8.2 .5 .3 .6 2.4 .5 1.3 .6 5.8 .5-5.9 .6 3.5 .6 4.3 .5 1.8 .6-7.5 .5-6.5 .6 2.9 .5-3.3 .6 3.5 .5-1.2 .6 .6 .6 2 .5 2.5 .6-5.9 .5-5.1 .6 10.3 .5-10.2 .6 8.8 .5 .8 .6 8.1 .6 .6 .5-14.2 .6 10.2 .5-7.2 .6 4.2 .5-1.3 .6-6 .5 6.7 .6 14.4 .5-7.9 .6-17.6 .6-7.5 .5 9 .6 3.8 .5 4.2 .6-6.3 .5 14.2 .6-2.3 .5-8.2 .6-.5 .6 1.7 .5-4.7 .6 11.5 .5 .4 .6-3.5 .5-3.3 .6-.8 .5-13.5 .6 10.9 .6-5 .5 6.4 .6-3.3 .5 4.1 .6 .3 .5-8 .6 9.5 .5-8.8 .6 11.4 .6-.4 .5-3.6 .6 20.7 .5-3.8 .6-10.6 .5-4.4 .6-1 .5 5.2 .6 6 .6-10.9 .5 2.7 .6 9.4 .5-5.1 .6-8.5 .5 7 .6 4 .5-6.9 .6-1.6 .5-2.1 .6-.1 .6 11.7 .5-.3 .6-10.2 .5-2.3 .6-6 .5 11.7 .6-2.2 .5-8 .6 8.7 .6-9.1 .5-1.5 .6 1.4 .5-11.6 .6 7.6 .5 2.9 .6-2.6 .5-1.5 .6 9.7 .6-2.3 .5 4.3 .6 3.9 .5-18.1 .6-6 .5 1.1 .6 15.5 .5-8.2 .6 1.4 .6 7.4 .5-7.1 .6 8.4 .5 .8 .6 1.7 .5 1.3 .6 .5 .5-11.1 .6 8.2 .5-3.7 .6-2.2 .6-15.1 .5 14.2 .6-5.9 .5-5.9 .6 15 .5-2.1 .6-5.4 .5 2.5 .6-10.8 .6 10.6 .5-3.5 .6 7.3 .5 6.9 .6-2.5 .5 4.9 .6-6.1 .5 10.5 .6-4.9 .6-11.6 .5 13.7 .6-12 .5 6.4 .6 5.4 .5 3.9 .6-7.1 .5 13.6 .6-13.2 .6-1.7 .5 1.6 .6-4.2 .5-4.6 .6 8 .5 6.3 .6-9 .5 2.8 .6-3.7 .6-4.7 .5-4.9 .6-4 .5 10.2 .6 2 .5-4 .6 3.9 .5 12.8 .6-2.9 .5 2.5 .6-9.7 .6-2.4 .5 4.1 .6 4.1 .5-9.2 .6 9.3 .5-4.1 .6 7.4 .5 2.3 .6 .1 .6-7.4 .5 2.2 .6-4.7 .5 8.2 .6-9 .5 3.1 .6-11.5 .5-1.1 .6 5.2 .6-2.3 .5-1.9 .6-.1 .5 5 .6-3.2 .5 11.4 .6 9 .5-11.2 .6-.8 .6-7.4 .5-1.3 .6 1.1 .5-.7 .6-1.1 .5 5.1 .6 4.7 .5-2.1 .6-3.3 .6 10.7 .5-6.4 .6 4.4 .5-2.3 .6 4.5 .5-3.6 .6 1.3 .5-7.6 .6 7.1 .5-.6 .6-1.3 .6 8.3 .5-4.5 .6-14.3 .5 2.3 .6 2 .5-3.6 .6 6.6 .5 1.9 .6 1.5 .6 6 .5-14.9 .6 4.6 .5-.1 .6 .7 .5 2 .6 8 .5-13.2 .6-12 .6 5.5 .5 8.7 .6 5.6 .5-4.1 .6-2.7 .5 .4 .6-4.9 .5 8.6 .6-8.5 .6 6.4 .5 5.7 .6-1.5 .5-3.7 .6-1.6 .5 3.1 .6-4.2 .5-8.3 .6 21.6 .5 3.4 .6-10.7 .6 4.8 .5-3.3 .6 7.2 .5-10.8 .6-9 .5 .8 .6 12 .5-2.7 .6-6.4 .6-3.3 .5 16.3 .6 1 .5-11.3 .6 7.5 .5 3.8 .6-10.5 .5 11.9 .6-6.5 .6-8.6 .5 6.5 .6-7.1 .5 7.3 .6-11.7 .5-1.8 .6-6.5 .5 10 .6 5.1 .6 1.5 .5-4.3 .6 9.5 .5-3.6 .6-10.9 .5 6.8 .6 2.2 .5 5.5 .6-6.2 .6 9.8 .5 2.3 .6-4.3 .5-12.2 .6 7.7 .5 7 .6-3.4 .5-5.4 .6-3.1 .5 12.8 .6-16.4 .6 .8 .5 9.8 .6-.6 .5-4.7 .6 2.8 .5-1.6 .6 8.4 .5 4.6 .6-20.2 .6 10.3 .5-.6 .6-4 .5-5.9 .6 2.6 .5 11.5 .6-3.4 .5-1.7 .6-4.3 .6 3.3 .5-5.3 .6 2.3 .5-3.1 .6 19.1 .5-14.1 .6-3.8 .5-.6 .6 5 .6 4.5 .5-7.6 .6 2 .5 9 .6 4.3 .5-8.8 .6 5.6 .5-8.6 .6-7 .5 3.8 .6-1.9 .6-.6 .5-6.2 .6 1.7 .5 8.8 .6-.8 .5 4.9 .6 3.4 .5-7.3 .6 1 .6 2.1 .5 1.7 .6-10.8 .5 11.6 .6 3.3 .5-4.5 .6-5.7 .5 10 .6-12.7 .6 .4 .5 9.2 .6 1.1 .5-4.1 .6-9.6 .5 10.9 .6-5.2 .5 .3 .6 11.5 .6-10 .5-6.5 .6 8 .5-5.5 .6 12.2 .5 1.2 .6-7.4 .5-5.5 .6 5.6 .6-4.6 .5 12 .6-4.9 .5-8 .6 17.9 .5-14.3 .6 3.3 .5-2 .6-2.5 .5 5.3 .6-10.8 .6 3.8 .5 .9 .6 3.7 .5-44.6 .6-182.6 .5 22.7 .6 18.5 .5 14.7 .6 23 .6 23.1 .5 20.7 .6 24.6 .5 19.7 .6 17.4 .5 14 .6 13.9 .5 12.9 .6 19.3 .6 13 .5 17 .6-13.5 .5-15.8 .6-19.2 .5-14.9 .6-9.8 .5-11.8 .6 6.7 .6 1.5 .5 4.5 .6 6.7 .5-4.8 .6 8.9 .5 3.2 .6-4.8 .5-1.6 .6-1 .5-.7 .6-.4 .6-9.2 .5 17.9 .6-9.7 .5-12.5 .6 17.7 .5 8.2 .6-1.1 .5 2.9 .6-.3 .6-7.6 .5 17.4 .6-2.1 .5-10.1 .6 6.1 .5 2.6 .6 4.5 .5-6.2 .6 7.1 .6-13.2 .5 .7 .6 1.8 .5 1.5 .6-8.1 .5 3 .6 4.9 .5-2.3 .6 4.6 .6-12.1 .5-2.2 .6 1.4 .5 5 .6 .4 .5 10 .6-5.1 .5-2.7 .6-1.1 .6-2.3 .5 6.2 .6-.5 .5-11.1 .6 7.6 .5 4.2 .6 8.8 .5-1.3 .6-4.3 .5-1.3 .6 9.1 .6-10.3 .5-3.1 .6 3.4 .5-3.5 .6-7.6 .5 11.4 .6 3.2 .5-9.5 .6-2.9 .6-4.9 .5-2.2 .6 2 .5 4.7 .6-3.3 .5 5.4 .6-2.4 .5 2.9 .6 .4 .6 3.7 .5-2.4 .6 1.8 .5-2 .6-1.6 .5-3.7 .6 9.3 .5-1.1 .6 7.8 .6-6.4 .5-8.6 .6 5 .5 11.6 .6-8.4 .5 .6 .6 5.8 .5 4.5 .6-3.2 .6 .1 .5-8.9 .6 0 .5-.8 .6-1.2 .5 15.5 .6-10.2 .5-5.4 .6 4.3 .5 .5 .6 .7 .6-5.6 .5-.6 .6-8.2 .5 3.1 .6 1.9 .5 3.3 .6 6 .5-4 .6-3.7 .6 2.1 .5 8.4 .6 3.1 .5-9 .6 2.4 .5-.4 .6 4.8 .5-8.4 .6 .1 .6 6.1 .5-.8 .6 8.8 .5-2.7 .6 8.6 .5-10.1 .6-15.2 .5 7.1 .6-5.2 .6 3.4 .5-.4 .6-.6 .5 2.9 .6-4.4 .5 7 .6-5.2 .5-13.3 .6 14.5 .5 8.1 .6-5.1 .6 5 .5 5.1 .6 4.5 .5-4.3 .6 1.1 .5-2 .6-2.5 .5-2.1 .6 1.9 .6-11.6 .5-2.5 .6 8.2 .5-9.7 .6 1.3 .5 .5 .6 10.8 .5-.9 .6-.5 .6 2.8 .5-10.3 .6 2.6 .5-.8 .6 11.8 .5 6.5 .6 1.5 .5 4.6 .6-9.7 .6-10.3 .5-8.7 .6-1.4 .5-3.1 .6-2 .5-3.8 .6 10.9 .5-1.1 .6 5.1 .6 19.1 .5-10.2 .6 1.7 .5-.9 .6 4.7 .5 1.5 .6-1.9 .5-8 .6-2.1 .5-7.1 .6 11.4 .6-13.9 .5-5.8 .6 14.6 .5-2.3 .6 9.6 .5 5.9 .6-7.5 .5-8.3 .6-.2 .6 4.6 .5-4.5 .6 .6 .5-6.1 .6 19 .5-.9 .6-2.5 .5-1 .6-1.2 .6-12.4 .5 13.6 .6-4.2 .5 10.2 .6-6 .5-12.5 .6-3.2 .5 11.6 .6-16.9 .6 10.3 .5 8.7 .6-2.3 .5 8 .6 2.5 .5-11.8 .6-5.5 .5-.3 .6 15.6 .5-3.1 .6-4.1 .6-6.1 .5-2.1 .6 8.1 .5 3.5 .6-9.3 .5 5.5 .6-3.6 .5-2.8 .6 3.1 .6 8.2 .5-.3 .6-1 .5-12.4 .6-1.8 .5 10.4 .6-2.2 .5 1.6 .6-2.9"/>
<path stroke="#000000" d="M129.5 289.8l.6-7.7 .5 1.5 .6 3.1 .5 9.3 .6-7.6 .5 1.1 .6-2.2 .5 .7 .6 4.7 .6 10.9 .5-1.9 .6-3.3 .5-7.2 .6 5 .5-10.5 .6 3.3 .5-.6 .6-.4 .6 3.1 .5 7.1 .6-20.6 .5 1.8 .6-.3 .5 12.5 .6 7.5 .5-.9 .6-2.2 .5-9.4 .6-.5 .6-2.5 .5-2.9 .6 7.8 .5 .3 .6 2.1 .5 .7 .6 6.2 .5-5.6 .6 3.5 .6 4.7 .5 1.5 .6-8.4 .5-8 .6 1.7 .5-3.4 .6 3.3 .5-1 .6 2.1 .6 2.3 .5 2.3 .6-5.8 .5-4.4 .6 11.4 .5-10.1 .6 7 .5-.6 .6 9 .6 .7 .5-15.1 .6 9.9 .5-5.7 .6 5 .5-1.8 .6-6.8 .5 7 .6 16.1 .5-6.6 .6-17.1 .6-7.9 .5 8.2 .6 2 .5 2.9 .6-7.4 .5 13.5 .6-.7 .5-5.9 .6 .7 .6 2.7 .5-4.7 .6 11.4 .5-.2 .6-5.2 .5-4.5 .6-1 .5-13.9 .6 10.2 .6-4.6 .5 6.1 .6-4.1 .5 4.6 .6 1.1 .5-7.9 .6 9.1 .5-9.2 .6 12.6 .6 1.7 .5-4.5 .6 19.7 .5-3.4 .6-11.8 .5-7 .6-1.9 .5 5.6 .6 6.7 .6-10.5 .5 1.8 .6 7.7 .5-6.3 .6-8.4 .5 7.8 .6 6.1 .5-3.5 .6-1.1 .5-3.2 .6-.3 .6 10.6 .5-1.4 .6-9.9 .5-.8 .6-2.1 .5 14.2 .6-2.9 .5-9.5 .6 9.7 .6-6.7 .5 1.4 .6 2.3 .5-12.9 .6 6.4 .5 2.5 .6-2.4 .5-1.5 .6 9.7 .6-3.2 .5 2.2 .6 2.6 .5-16 .6-4.2 .5 1.8 .6 16.3 .5-7.1 .6 1.8 .6 6.5 .5-7.5 .6 9 .5 .7 .6 0 .5 .5 .6 1.9 .5-9.2 .6 9.1 .5-3.5 .6-3.4 .6-16.4 .5 14.2 .6-5.3 .5-5.5 .6 15.1 .5-2.4 .6-6.2 .5 1.6 .6-12.3 .6 9.9 .5-3.4 .6 6 .5 4 .6-2.8 .5 6.9 .6-6.8 .5 10.1 .6-4.8 .6-12 .5 14.1 .6-11.1 .5 5.9 .6 4.4 .5 3.2 .6-8.3 .5 12.3 .6-13.7 .6-1.5 .5 2.4 .6-3.1 .5-3.7 .6 8.1 .5 6.9 .6-7.4 .5 2.7 .6-5.3 .6-5.8 .5-4.8 .6-4.9 .5 9.1 .6 4 .5-1.2 .6 3.7 .5 11.2 .6-3.2 .5 3 .6-11.2 .6-5.1 .5 4.1 .6 6.3 .5-7 .6 9.6 .5-4.9 .6 6.5 .5 2.1 .6 1.2 .6-6.4 .5 2.4 .6-5.3 .5 7.3 .6-8.8 .5 3.9 .6-11.5 .5-2.1 .6 4.8 .6-2.5 .5-2.5 .6-.6 .5 4.4 .6-2.5 .5 12.9 .6 9.3 .5-11 .6-1.1 .6-7.6 .5-1.7 .6-.1 .5-.4 .6 .4 .5 5.1 .6 4.3 .5-.8 .6-1.9 .6 11.8 .5-6.4 .6 3.2 .5-3.4 .6 3.4 .5-5.2 .6 .2 .5-6.9 .6 9.1 .5 .6 .6-1.6 .6 6.5 .5-7 .6-13.6 .5 3.8 .6 2 .5-3.2 .6 7.6 .5 1.4 .6 0 .6 5.8 .5-13.6 .6 5.5 .5 .1 .6 8.5 .5 59.9 .6-57.3 .5-12.9 .6-11.7 .6 4.9 .5 7 .6 4.3 .5-2.7 .6-.3 .5 1.9 .6-6.1 .5 6.3 .6-8.8 .6 6.2 .5 5.7 .6-.1 .5-3.4 .6-2.4 .5 2.6 .6-5.3 .5-8.5 .6 22.1 .5 2.3 .6-11.4 .6 5.6 .5-2.2 .6 9 .5-10 .6-8.3 .5 1.3 .6 11.2 .5-3.6 .6-6.4 .6-3.3 .5 15.7 .6-.2 .5-11.8 .6 7.1 .5 4 .6-10 .5 11.2 .6-5.9 .6-7.1 .5 7.4 .6-7.1 .5 5.9 .6-12.3 .5-1 .6-6.1 .5 9 .6 3.6 .6 1.4 .5-3.7 .6 9.2 .5-3.4 .6-10.3 .5 7.5 .6 2.9 .5 5.7 .6-5.7 .6 11.2 .5 2.6 .6-5.8 .5-13.6 .6 7.1 .5 6.2 .6-4.1 .5-5.2 .6-2.9 .5 13.2 .6-14.5 .6 2 .5 8.3 .6-1.3 .5-3.4 .6 4.2 .5-.5 .6 8.2 .5 3 .6-22.1 .6 9 .5 0 .6-3.3 .5-5.3 .6 3.1 .5 11.6 .6-4.1 .5-3.5 .6-3.8 .6 6.1 .5-5.4 .6 .3 .5-2.9 .6 20.1 .5-13.5 .6-5 .5-2.5 .6 5.1 .6 5.3 .5-7.8 .6 .8 .5 8.1 .6 5.8 .5-7.3 .6 5.3 .5-9.4 .6-6.8 .5 4.5 .6-1.5 .6 .6 .5-5.9 .6 .8 .5 7.2 .6-1.6 .5 6.2 .6 4.8 .5-6.6 .6 .2 .6 1.3 .5 2 .6-12.2 .5 9.3 .6 2.3 .5-2.8 .6-3.6 .5 11.3 .6-11.6 .6 1.6 .5 9.6 .6 .9 .5-4.3 .6-10.4 .5 8.8 .6-7.1 .5-.1 .6 12 .6-8.9 .5-6.2 .6 7.9 .5-4.7 .6 12.8 .5 2.3 .6-6.7 .5-7.7 .6 2.5 .6-4.8 .5 13.5 .6-4.3 .5-7.1 .6 18.5 .5-15.3 .6 2.1 .5-1.7 .6-1.5 .5 5.6 .6-10.6 .6 3.4 .5 .3 .6 3.3 .5-45.1 .6-181.7 .5 24.1 .6 19.1 .5 14.9 .6 22.5 .6 22 .5 18.8 .6 24.4 .5 21.6 .6 18.6 .5 13.5 .6 13.3 .5 13.6 .6 20.1 .6 12.3 .5 14.4 .6-14.9 .5-15.9 .6-19.1 .5-13.2 .6-8 .5-11.9 .6 5.6 .6 1.1 .5 5.3 .6 9.1 .5-4.6 .6 7.3 .5 4.5 .6-.9 .5-1.1 .6-4.4 .5-2.7 .6 .1 .6-8.2 .5 19 .6-7.9 .5-11.1 .6 16.7 .5 6.9 .6-.6 .5 4.2 .6 .1 .6-8.1 .5 16.9 .6-2.9 .5-10.3 .6 5.5 .5 1 .6 4.7 .5-6.2 .6 6.3 .6-7.2 .5 6.3 .6 .5 .5 1.5 .6-6.8 .5 2.9 .6 4.1 .5-1.7 .6 4.9 .6-12.4 .5-1.4 .6 2.3 .5 3.9 .6-.3 .5 10.4 .6-3.5 .5-1.3 .6 .2 .6-1.6 .5 5.9 .6-.1 .5-9.4 .6 7.4 .5 2 .6 8.5 .5-1 .6-7.5 .5-4.3 .6 5.9 .6-14 .5-5.9 .6 4.6 .5-2.1 .6-6 .5 10.3 .6 3.6 .5-7.1 .6 1.5 .6-4 .5-2.9 .6-.6 .5 1.4 .6-6.2 .5 4.1 .6-2.2 .5 3.8 .6 .8 .6 2.6 .5-3.9 .6 2.2 .5-.1 .6-1 .5-3.9 .6 8.6 .5-2.8 .6 8.4 .6-4.6 .5-7.9 .6 5.8 .5 11.3 .6-10.4 .5-.3 .6 6.6 .5 4.9 .6-2.8 .6 .8 .5-8.7 .6 .2 .5-1.3 .6-1.5 .5 15.5 .6-10.8 .5-6.3 .6 3.3 .5 .3 .6 .9 .6-6.2 .5-.7 .6-6.4 .5 5.1 .6 2.8 .5 2.3 .6 4.9 .5-3.7 .6-2.8 .6 3.3 .5 8.8 .6 1.7 .5-12.5 .6 .1 .5-.7 .6 4.6 .5-7.5 .6 1.6 .6 5.9 .5-2.8 .6 8.1 .5-2 .6 9 .5-9.9 .6-14.2 .5 7.9 .6-5.3 .6 3.7 .5 .1 .6-.8 .5 2.5 .6-5.2 .5 6.5 .6-4.1 .5-13 .6 12.6 .5 7 .6-5.2 .6 5.6 .5 6.4 .6 4.9 .5-5.1 .6 1.2 .5-1.6 .6-3.1 .5-2.6 .6 2.1 .6-10.2 .5-1.4 .6 7.4 .5-10 .6 2 .5 .5 .6 9.3 .5-2.3 .6-.5 .6 3.9 .5-9.3 .6 2.8 .5-.5 .6 12.1 .5 7.3 .6 2.1 .5 4 .6-11.4 .6-11.3 .5-9.9 .6-1.8 .5-2 .6-1.6 .5-4.6 .6 9.8 .5-1.7 .6 5 .6 19.4 .5-10.2 .6 1.3 .5 0 .6 6.2 .5 3.4 .6-.5 .5-8.2 .6-2.4 .5-7.6 .6 10.9 .6-13.7 .5-5.5 .6 13.7 .5-2.8 .6 9.9 .5 7.6 .6-6.4 .5-9.5 .6-2.7 .6 1.4 .5-5.9 .6 4 .5-2.5 .6 18.6 .5-2.2 .6-3.7 .5-2.5 .6-2.4 .6-11.1 .5 16.2 .6-2.8 .5 9.4 .6-6.1 .5-12.5 .6-3.3 .5 11.7 .6-17.5 .6 10.1 .5 8.4 .6-3.4 .5 8.2 .6 5.3 .5-10.7 .6-6.2 .5-.8 .6 15.1 .5-2.4 .6-4.5 .6-9.3 .5-4.6 .6 8.2 .5 5.4 .6-8 .5 5.8 .6-2.5 .5-2.2 .6 3.3 .6 8.9 .5-.6 .6-1.8 .5-13.2 .6-1.8 .5 11.8 .6-2.1 .5 .9 .6-2.9"/>
</g>
<path d="M240.6 58.5v5.5M240.6 367.7v-5.5M351.6 58.5v5.5M351.6 367.7v-5.5M462.7 58.5v5.5M462.7 367.7v-5.5M129.5 290.4h5.5M512.1 290.4h-5.5M129.5 213.1h5.5M512.1 213.1h-5.5M129.5 135.8h5.5M512.1 135.8h-5.5" stroke="#262626" stroke-width="2" fill="none"/>
<rect x="129.5" y="58.5" width="382.6" height="309.2" fill="none" stroke="#262626" stroke-width="2.4"/>
<text transform="translate(129.2 408.8) scale(1 1.045)" text-anchor="middle" font-size="33" fill="#262626">0</text>
<text transform="translate(240.3 408.8) scale(1 1.045)" text-anchor="middle" font-size="33" fill="#262626">200</text>
<text transform="translate(351.3 408.8) scale(1 1.045)" text-anchor="middle" font-size="33" fill="#262626">400</text>
<text transform="translate(462.4 408.8) scale(1 1.045)" text-anchor="middle" font-size="33" fill="#262626">600</text>
<text x="119.1" y="378.9" text-anchor="end" font-size="33" fill="#262626">-2</text>
<text x="119.1" y="301.6" text-anchor="end" font-size="33" fill="#262626">0</text>
<text x="119.1" y="224.3" text-anchor="end" font-size="33" fill="#262626">2</text>
<text x="119.1" y="147.0" text-anchor="end" font-size="33" fill="#262626">4</text>
<text x="119.1" y="69.7" text-anchor="end" font-size="33" fill="#262626">6</text>
<text x="320.8" y="449.0" text-anchor="middle" font-size="33" fill="#262626">Time(s)</text>
<text transform="translate(39.7 214.1) rotate(-90)" text-anchor="middle" font-size="33.6" fill="#262626"><tspan x="0" y="0">VE-posterior residuals</tspan><tspan x="0" y="39.3">(m/s)</tspan></text>
<path d="M783.4 58.5V367.7M894.3 58.5V367.7M1005.2 58.5V367.7" stroke="#b3b3b3" stroke-width="2.2" stroke-dasharray="8 2 4 2" stroke-dashoffset="4.2" fill="none"/>
<path d="M672.5 353.0H1054.6M672.5 254.8H1054.6M672.5 156.7H1054.6" stroke="#b3b3b3" stroke-width="2.2" stroke-dasharray="8 2 4 2" stroke-dashoffset="11.6" fill="none"/>
<g clip-path="url(#c1)" fill="none" stroke-width="3.3" stroke-linejoin="round" stroke-linecap="round">
<path stroke="#ff0000" d="M672.5 148.1l.6 5.6 .5 .5 .6 13.3 .5-4.7 .6-9.4 .5 6.1 .6 .5 .5-1.8 .6-.2 .5 3.7 .6-11.8 .6-6.8 .5 19.6 .6 4.2 .5-17.6 .6 6.5 .5-13.1 .6-4.6 .5 19.4 .6 4.1 .5-.7 .6 .1 .6 5 .5 6 .6-7.9 .5 11.2 .6-18.4 .5-5.9 .6-10.3 .5 6.6 .6 1.3 .5 9.5 .6-6.3 .6-2.9 .5 .4 .6 4.8 .5-8 .6 4.1 .5 15.6 .6 11.1 .5-11.2 .6-7.7 .5 .9 .6 4.1 .6 2.2 .5-5.7 .6 4.6 .5 6.6 .6-14.8 .5-11.7 .6 8.2 .5-5.8 .6 3.7 .5 4.8 .6-1.6 .6 7.3 .5-5.8 .6-9.3 .5 8.1 .6 7.4 .5-11.7 .6 15.9 .5-16 .6 4.9 .5-5.3 .6 1.9 .6 2.2 .5-6.3 .6 8.3 .5 8 .6-1.1 .5 12.2 .6-7.4 .5 9 .6-11.5 .5-8.8 .6-6.3 .6 2.6 .5 16.1 .6-11.9 .5-12.2 .6 9.1 .5-4.5 .6 7.1 .5-10.1 .6 22.1 .5-8.9 .6-2.1 .6-3 .5 4.7 .6 .2 .5 11.1 .6-25 .5 11 .6 8.4 .5-9.4 .6 13.5 .5-10.2 .6-8.5 .6-.6 .5 2.9 .6 3.1 .5 6.7 .6-3.7 .5 11.3 .6-10.8 .5 .8 .6 3.5 .5 7.3 .6-17 .6-1.5 .5 8.1 .6-4.9 .5-3.4 .6-1 .5 8.2 .6 2.5 .5-3.9 .6 1.1 .5-15.1 .6 3.2 .6 26.7 .5-9.1 .6-14.5 .5-.5 .6-2.8 .5 5.6 .6 5.2 .5-.8 .6-7.5 .5 5.5 .6 11 .6-10.9 .5 9 .6-14.3 .5 1.9 .6 2.5 .5 1.2 .6 13.8 .5-7 .6-.4 .5-2.4 .6 2.9 .6-2.1 .5-2.3 .6 8.1 .5-.6 .6-13.1 .5 9.9 .6-2.4 .5-5.7 .6 3.1 .5-17.1 .6 15.8 .6-.4 .5 5 .6-16.1 .5 12.2 .6-.3 .5 .8 .6-10.1 .5 12.4 .6 6.5 .5-2 .6-8 .6 16.1 .5-6.7 .6 4.8 .5-5.1 .6-12.5 .5 13.4 .6-.8 .5-6.6 .6 11.8 .6-11.1 .5 3.7 .6-11.8 .5 1.1 .6-6.5 .5 8.2 .6-2.9 .5-5.7 .6 8.2 .5-6.5 .6 4.3 .6-.5 .5 10.7 .6-3.7 .5 .5 .6-2.8 .5-1.9 .6 2.6 .5 6.6 .6 10.7 .5-1.5 .6-8.4 .6 7.6 .5-7 .6-7.3 .5-9.1 .6-3.5 .5 10.9 .6-7.2 .5 16.5 .6-6 .5-10.5 .6 6.6 .6-2.3 .5-8.6 .6 17.9 .5 2.7 .6 12.8 .5-10.5 .6-5.1 .5 8.3 .6 .5 .5-19.8 .6 10 .6-5.6 .5-4.2 .6 4.3 .5-10.9 .6-3.7 .5 3.3 .6 6.3 .5 12.5 .6-3.2 .5-19.8 .6 24.2 .6 2.6 .5-9.3 .6 7.2 .5 .5 .6 3.7 .5-1.5 .6-7.1 .5-5.4 .6 3.4 .5-6 .6 6.2 .6 14.5 .5-8.6 .6 2.4 .5-16.7 .6-2.9 .5 10.2 .6-.3 .5-5.2 .6-4 .5 12.8 .6-4.8 .6 7.5 .5-8.1 .6 20.1 .5-13.6 .6-5.9 .5 11.3 .6 8.6 .5-7.9 .6-8.7 .5-7.5 .6-2.6 .6 3.9 .5 8.3 .6-4.2 .5-11.1 .6-3 .5 5.2 .6-7.4 .5 15 .6-4.1 .5-.7 .6 5.2 .6 11.1 .5 4.9 .6-6 .5-2.7 .6-7.8 .5 10.4 .6 15.2 .5-9.3 .6 .1 .5-6.1 .6-11 .6-.9 .5-1.3 .6 5.8 .5-9.4 .6-4.2 .5-11.4 .6 8.3 .5 13.4 .6-2.6 .5 7.5 .6 4.7 .6 2.5 .5 7.6 .6-19.4 .5 7.6 .6 9.2 .5-3.8 .6-2.6 .5-7.1 .6-4.4 .5-13.4 .6 20.5 .6-12.2 .5 8 .6-3 .5 11.5 .6 4.2 .5-7.9 .6-10.7 .5 15.8 .6-15.4 .5-7 .6 7.3 .6 6 .5-9.8 .6 11 .5-4.9 .6 2.1 .5-1.7 .6 7.3 .5 .5 .6-13.7 .5 7.5 .6 1.3 .6 9.5 .5-13.3 .6-3.9 .5 8 .6 9.3 .5-13.5 .6 10.7 .5-14.5 .6-2.5 .5 10.7 .6-4.3 .6 6.6 .5 4.3 .6 6 .5 .5 .6-2.2 .5-14.8 .6-1.2 .5-7.9 .6 8 .5-5.9 .6 18 .6-4.4 .5-.8 .6 3.9 .5 .6 .6 2.4 .5-8.5 .6 3.4 .5-6.5 .6 .8 .5 5.3 .6 2.8 .6-5.7 .5-9.6 .6 3 .5 6 .6 2.2 .5-11.8 .6 12.7 .5 .4 .6-5.8 .5 6.8 .6 7.5 .6-2.9 .5-3.2 .6-2.2 .5 1.7 .6 3.5 .5-6.1 .6-3.5 .5 7.5 .6-22.6 .5 12.4 .6-16.4 .6 2 .5 2.5 .6 3.4 .5 14.3 .6-1.8 .5-7.7 .6 9.2 .5-6.7 .6 11.2 .5 .6 .6-6.5 .6 5.5 .5-2.2 .6 6.3 .5 6.2 .6-13.7 .5 5.8 .6-7.6 .5-12.6 .6-2.2 .5 14.5 .6 .4 .6-4.8 .5-5.7 .6-.2 .5 9.8 .6 1.1 .5 2 .6-.9 .5-6.3 .6 17.6 .5 .3 .6-1.7 .6-12.5 .5-1 .6 4.2 .5 2.6 .6-.7 .5 2.9 .6 3.9 .5 6.2 .6 .8 .5-4.2 .6-4.9 .6 .6 .5-4.2 .6-2 .5-.4 .6 2.9 .5-6.7 .6 2.6 .5 0 .6 3.8 .5-1.9 .6-1.1 .6-2.7 .5-2.4 .6 2.7 .5-2.7 .6-4.4 .5-4.8 .6 3.1 .5-2.1 .6 7.4 .5-6.4 .6 8.3 .6-1 .5 13.5 .6-10.8 .5-6.9 .6 5.9 .5 7.8 .6-8.6 .5 15.4 .6-3.7 .5-5 .6-5.1 .6-9.6 .5 12.3 .6-12.3 .5 .8 .6 6.9 .5-1.1 .6 6.4 .5-.4 .6-8.8 .5 2.6 .6-1.5 .6 5.1 .5-5.1 .6 14.9 .5-6.2 .6-1.2 .5-4.3 .6 6.8 .5 0 .6-7.2 .5-3.3 .6-6.9 .6 2.9 .5 9.3 .6 14.1 .5-29.4 .6-.7 .5 6.1 .6 1.2 .5 5.7 .6 .7 .5 4.2 .6 5.9 .6-10.2 .5 18 .6-9.3 .5 10.8 .6-15.3 .5-2.4 .6 6 .5-19 .6 7.5 .5-7.3 .6 3 .6 11.7 .5 1.3 .6-6.5 .5 20.5 .6-20.3 .5 3.1 .6 4.7 .5 1.1 .6-8.6 .5 16.1 .6-16.4 .6 13.6 .5-16.6 .6 2 .5 7 .6 2 .5-5.9 .6-11.7 .5-.7 .6 8.1 .6 .4 .5 2.7 .6-3.6 .5 13.4 .6-2.6 .5 9.8 .6-15.4 .5 6.9 .6-9.8 .5-5.5 .6 5.1 .6 7.3 .5 1.6 .6-13 .5-2.2 .6 10.9 .5-13 .6 16.9 .5 .5 .6-.6 .5 1.7 .6 2.2 .6 3.8 .5-12.9 .6 5.7 .5-.1 .6 2.2 .5-6.3 .6-5.8 .5-2.6 .6 .8 .5-8.2 .6-.3 .6 3.9 .5 7.5 .6 14.3 .5-17 .6 12.5 .5 2.2 .6-4.1 .5-4.4 .6 2.5 .5-2.7 .6 2.9 .6 4.1 .5-7.2 .6 1.8 .5 7.3 .6-8.6 .5-4.5 .6 2.9 .5 7.5 .6-5.6 .5-7.5 .6 10.3 .6-1.7 .5 .3 .6 7.3 .5-3 .6 10.2 .5-3.8 .6-13.8 .5-13.5 .6 13.6 .5-5.2 .6 10.2 .6-6.8 .5-2.5 .6 3 .5-6.1 .6-.6 .5 5.6 .6 6.9 .5-1.3 .6-.3 .5 3.5 .6-2.9 .6 2.3 .5-1 .6 1.7 .5-5.2 .6-5.1 .5 9.4 .6-10.3 .5 6.7 .6-5.3 .5 9 .6-12.3 .6 8.2 .5 4.1 .6-6.6 .5-9.9 .6 17.7 .5 3.4 .6-9.1 .5-1.1 .6 12.5 .5-18.9 .6 13.5 .6 8 .5-14.6 .6-5.5 .5 5.6 .6-1.8 .5-8 .6 14.4 .5-6.5 .6-5.8 .5 9.4 .6 2.9 .6-1.2 .5-2.4 .6 .1 .5-3.5 .6 9.7 .5-12.4 .6 2.6 .5 9 .6-5.7 .5 2.6 .6-6.5 .6 6.5 .5 3.5 .6-5.9 .5 9.5 .6-4 .5-6.6 .6 13.4 .5-5.7 .6-5.2 .5-17.6 .6 7.2 .6-2.9 .5 10.1 .6 6.4 .5-7.5 .6-3.9 .5 8.5 .6-4 .5-3.8 .6 5.6 .5 4.6 .6 9.1 .6-12.4 .5 1 .6 5.6 .5-3.8 .6 2.6 .5-15.2 .6 3.4 .5 7.4 .6-13.8 .5 3.1 .6 2 .6-14.9 .5 5 .6 7.5 .5 18.8 .6-.2 .5 .3 .6 2.3 .5-4.3 .6-1.4 .5-2.4 .6-1.1"/>
<path stroke="#00ff00" d="M672.5 146.8l.6 6.2 .5 2 .6 13.9 .5-6 .6-11.6 .5 6.3 .6 2.6 .5-.2 .6 .2 .5 3.5 .6-11.6 .6-7.1 .5 18.8 .6 3.2 .5-18.7 .6 7.1 .5-12.3 .6-5.1 .5 20.3 .6 5.2 .5-2.2 .6-1.5 .6 2.7 .5 5.2 .6-7.7 .5 11.8 .6-15.3 .5-1.5 .6-8.5 .5 3.9 .6-4.9 .5 6.9 .6-3.7 .6-.3 .5 3.1 .6 7.9 .5-7.4 .6 2.7 .5 12.3 .6 7.1 .5-14.2 .6-8.1 .5 2.3 .6 6.3 .6 1.9 .5-5.3 .6 7.2 .5 7.8 .6-14.7 .5-10 .6 9.7 .5-8.8 .6 .4 .5 5.1 .6 1.4 .6 9.3 .5-8.5 .6-10.2 .5 11.6 .6 7.6 .5-14.5 .6 13.5 .5-18.8 .6 6.3 .5-1.3 .6 3.2 .6 3 .5-4 .6 6.5 .5 2.2 .6-6.8 .5 10.7 .6-4.6 .5 11.9 .6-9.6 .5-6.5 .6-2.8 .6 3 .5 13.5 .6-11.4 .5-8.7 .6 9.8 .5-8.8 .6 2.7 .5-11.6 .6 23.5 .5-4.8 .6 1.2 .6-4.3 .5 .3 .6-2.2 .5 11.2 .6-25.5 .5 9.9 .6 7.8 .5-8 .6 14.6 .5-9.8 .6-7.8 .6-.4 .5 2.5 .6 4.3 .5 8.1 .6-4.3 .5 11.9 .6-10.4 .5 .9 .6 3.8 .5 7 .6-17.9 .6-1.7 .5 9.4 .6-2.5 .5-3.6 .6-5.3 .5 4.9 .6 4.8 .5 1.1 .6 3.5 .5-16 .6 .6 .6 24.7 .5-8.4 .6-13.1 .5-1.7 .6-7.1 .5 3.2 .6 7.1 .5 3.3 .6-7.3 .5 1 .6 10.3 .6-6.7 .5 10.4 .6-15.8 .5 2.8 .6 3.6 .5-1.1 .6 10.6 .5-7.4 .6 .1 .5-2 .6 4.1 .6-1.4 .5-2.2 .6 7.1 .5-2 .6-10.9 .5 13.4 .6-2.6 .5-7.4 .6 3.5 .5-14.6 .6 17.4 .6 0 .5 6.4 .6-16.2 .5 8.1 .6-2.3 .5 .7 .6-12.1 .5 11.4 .6 7.7 .5-1 .6-7.9 .6 14.3 .5-8.3 .6 5.3 .5-3.1 .6-11.9 .5 12.8 .6-1.4 .5-7.3 .6 12.8 .6-7.9 .5 6.4 .6-9.6 .5 1.2 .6-8.9 .5 5.7 .6-3.1 .5-5.7 .6 6.7 .5-9.5 .6 3.4 .6 1.4 .5 10.1 .6-5.4 .5 .3 .6-.3 .5 1.2 .6 2 .5 3.5 .6 10.5 .5 1.8 .6-7 .6 5.7 .5-6.6 .6-4.3 .5-8 .6-3.8 .5 7.4 .6-9.7 .5 17.2 .6-4.6 .5-8.6 .6 7.4 .6-4.5 .5-10.5 .6 20.2 .5 5.9 .6 11.5 .5-13.8 .6-7.5 .5 6.8 .6 .7 .5-16.8 .6 13.1 .6-5.5 .5-5.6 .6 3.7 .5-10.9 .6-3.4 .5 4.2 .6 5.7 .5 12.4 .6-2 .5-20.8 .6 21.8 .6 2 .5-8.7 .6 7 .5 .1 .6 5.2 .5 0 .6-7.4 .5-8.1 .6 1.7 .5-4.3 .6 7.7 .6 12.9 .5-9.9 .6 5.7 .5-12.2 .6-3 .5 7.5 .6-1.4 .5-4.7 .6-3.2 .5 10.4 .6-9.9 .6 7.6 .5-3.8 .6 21.5 .5-14.7 .6-5.2 .5 13.4 .6 9.5 .5-9 .6-8.2 .5-5.3 .6-3.1 .6 2.5 .5-12.4 .6-24.9 .5-3.2 .6 4.2 .5 10 .6-4.6 .5 22.6 .6 5.3 .5-1.7 .6 5.4 .6 11.6 .5 3.3 .6-7.8 .5-3.3 .6-8 .5 9.9 .6 16 .5-7.7 .6 .7 .5-4 .6-9.8 .6-1.3 .5-.9 .6 7 .5-7.5 .6-3.8 .5-14.7 .6 3.4 .5 13.2 .6-.3 .5 7.6 .6 3.7 .6 .7 .5 6.8 .6-16.7 .5 9.6 .6 9 .5-4.2 .6-1.8 .5-4.9 .6-1.9 .5-13.4 .6 17.5 .6-15.2 .5 6.6 .6-2.2 .5 12 .6 3.8 .5-8 .6-11.8 .5 14.9 .6-12.5 .5-3.4 .6 5.6 .6 3.1 .5-10.1 .6 12.7 .5-2.3 .6 4 .5-2.2 .6 4.5 .5-1.5 .6-13.9 .5 5.3 .6-1.4 .6 9.9 .5-11.7 .6-2.7 .5 9 .6 12.3 .5-11.3 .6 9.8 .5-16.2 .6-2.5 .5 14 .6-1.2 .6 4.6 .5-2.4 .6 3.1 .5 2.6 .6 .5 .5-13.5 .6-.8 .5-10.1 .6 4.5 .5-7 .6 19.3 .6-3.9 .5 .3 .6 6.3 .5 1.2 .6 2 .5-8.2 .6 4.6 .5-5 .6-.8 .5 .8 .6 .1 .6-4 .5-7.6 .6 2.7 .5 3.5 .6 1.5 .5-9.4 .6 14.3 .5 .7 .6-4.9 .5 6.6 .6 6.3 .6-2.7 .5-2.7 .6 0 .5 4.4 .6 3.2 .5-8.5 .6-5 .5 7.4 .6-23.2 .5 12.8 .6-16.9 .6 .4 .5 2.9 .6 5.7 .5 14.7 .6-3.4 .5-8.8 .6 8.2 .5-6.8 .6 14 .5 5.2 .6-5.6 .6 2.3 .5-4.4 .6 7.4 .5 7 .6-13.3 .5 5.6 .6-9.8 .5-13.5 .6-1.7 .5 13 .6-1.2 .6-4.4 .5-6.2 .6-.8 .5 11.5 .6 2.6 .5 2.7 .6 .3 .5-6.6 .6 15.7 .5-.8 .6 .7 .6-8.9 .5-.3 .6 1.7 .5 2.2 .6-.1 .5 .9 .6 .1 .5 3.2 .6 4.8 .5 2.1 .6 2.2 .6 5.7 .5-7 .6-3.5 .5-.7 .6 3.7 .5-7.4 .6-.5 .5-4 .6-.4 .5-1.5 .6 1.5 .6-2.2 .5-5.6 .6-.2 .5-3.7 .6-2.9 .5-3.3 .6 3.1 .5-1.4 .6 8.2 .5-5.5 .6 8.7 .6-.9 .5 14.2 .6-13 .5-9.3 .6 6.3 .5 9.3 .6-8.8 .5 11.1 .6-6.8 .5-2.3 .6 .3 .6-6.6 .5 12.1 .6-14.2 .5-1.3 .6 5.6 .5-1.1 .6 6.3 .5 .3 .6-6.9 .5 1.7 .6-3.6 .6 8.2 .5-2 .6 13.3 .5-9.6 .6-1.3 .5-3.2 .6 5.4 .5-1.6 .6-7.3 .5-4.5 .6-5.3 .6 5.9 .5 10.2 .6 14.3 .5-27.7 .6 1.3 .5 5.5 .6-1.5 .5 4.8 .6 1.9 .5 3.5 .6 2.9 .6-13.5 .5 17.7 .6-7 .5 11.9 .6-16.6 .5-2.1 .6 8.4 .5-18.9 .6 6.7 .5-5 .6 7.7 .6 12.4 .5-.4 .6-8.6 .5 16.7 .6-23.3 .5 4.9 .6 6.2 .5-1.3 .6-10.7 .5 15.7 .6-14.8 .6 16.7 .5-14.1 .6 2 .5 5.3 .6 2.4 .5-2.6 .6-8.9 .5-1.3 .6 5.3 .6-3.1 .5 .5 .6-3.4 .5 14.8 .6-2.6 .5 8.1 .6-15.4 .5 9.7 .6-8.6 .5-6.7 .6 4.7 .6 8.6 .5 1.6 .6-11.3 .5 .2 .6 9.2 .5-16.5 .6 13.6 .5-1.5 .6-1.2 .5 2.4 .6 2.7 .6 4.6 .5-8.4 .6 9.9 .5-2.3 .6-.9 .5-5.8 .6-3 .5-1.7 .6-.2 .5-9.3 .6-1.5 .6 2 .5 4.6 .6 14.9 .5-13.4 .6 12.7 .5 .6 .6-2.9 .5-3.7 .6 2.1 .5-1.5 .6 2.5 .6 3.7 .5-4.1 .6 2 .5 3.7 .6-9.8 .5-4.6 .6 3.4 .5 8.2 .6-7.2 .5-8.3 .6 13 .6 .4 .5-1.1 .6 6.8 .5-1.8 .6 9.5 .5-5.7 .6-14.8 .5-13 .6 13.8 .5-6.7 .6 10.6 .6-4.9 .5-1 .6 2.8 .5-7 .6 0 .5 6.5 .6 7.1 .5-2.3 .6-1.7 .5 5.3 .6-1.7 .6 .6 .5-1.3 .6 3.1 .5-7.5 .6-7.5 .5 11.2 .6-8.4 .5 6.4 .6-4.9 .5 9.8 .6-12.2 .6 8.2 .5 3.7 .6-8.5 .5-11.5 .6 18.4 .5 4.9 .6-9.8 .5-2.8 .6 13.3 .5-17.4 .6 14.7 .6 7.6 .5-15.2 .6-5.4 .5 5.8 .6-1.4 .5-8.5 .6 14.2 .5-4.9 .6-5.1 .5 7.6 .6 1.2 .6-.4 .5-.3 .6 1.8 .5-3.5 .6 8.1 .5-16.2 .6 .4 .5 9.8 .6-6.6 .5 1.7 .6-3 .6 10.2 .5 3.9 .6-7.3 .5 8.4 .6-3.8 .5-6.7 .6 15 .5-2.8 .6-5.7 .5-19.6 .6 7.4 .6-2.6 .5 9.5 .6 4.1 .5-9 .6-4.2 .5 9.4 .6-3.7 .5-4.2 .6 7 .5 5 .6 8.3 .6-14.2 .5-2.9 .6 4.3 .5 .7 .6 8.6 .5-13.7 .6 1 .5 4.8 .6-13.6 .5 4.6 .6 4 .6-14.5 .5 3.6 .6 6.1 .5 16.1 .6-1.8 .5 .8 .6 3.6 .5-3.5 .6 .2 .5-1.2 .6-1.6"/>
<path stroke="#0000ff" d="M672.5 149.8l.6 4.8 .5-1.4 .6 13.6 .5-3.7 .6-9.9 .5 6.4 .6 .5 .5-5.4 .6-3.8 .5 5.6 .6-5.8 .6-3.4 .5 20.1 .6 4 .5-18.5 .6 6.3 .5-12.9 .6-5.2 .5 18.6 .6 2.6 .5-2.8 .6-2.5 .6 3.9 .5 8.8 .6-6.6 .5 9.1 .6-20.2 .5-4.4 .6-6.3 .5 9.5 .6 .6 .5 8.9 .6-6.1 .6-3.2 .5-.6 .6 5 .5-6.2 .6 2.8 .5 10.9 .6 10.5 .5-8.2 .6-6.8 .5-1.3 .6 3.4 .6 2.9 .5-5.8 .6 5.6 .5 7.1 .6-13.9 .5-8.4 .6 10.7 .5-9.6 .6-1 .5 3.3 .6-2.1 .6 7.9 .5-5.7 .6-7.5 .5 11.2 .6 6.8 .5-13.6 .6 15.7 .5-15.1 .6 7.6 .5-4.6 .6 .2 .6 1.7 .5-5.6 .6 8.8 .5 7.4 .6-1.6 .5 12.2 .6-8.8 .5 7.9 .6-11.7 .5-9 .6-2.9 .6 5.3 .5 13.3 .6-14.2 .5-10.4 .6 11.1 .5-5.8 .6 6.1 .5-11.6 .6 20.5 .5-5.9 .6 1.1 .6-5.3 .5 .4 .6-.6 .5 13.2 .6-23.5 .5 11.1 .6 7.2 .5-10.6 .6 12.6 .5-9.1 .6-6 .6 .2 .5 3 .6 4.2 .5 6 .6-5.2 .5 13.4 .6-12.1 .5-2.1 .6 4.7 .5 8.7 .6-18.3 .6-1.8 .5 10.5 .6-3.5 .5-6.8 .6-6.5 .5 6.9 .6 6 .5 1.5 .6 3.9 .5-13.3 .6 4.7 .6 24.2 .5-10.5 .6-16 .5-2 .6-4.6 .5 5.1 .6 7.8 .5 1.5 .6-8.1 .5 2.9 .6 7.1 .6-12.4 .5 9.3 .6-14.8 .5 4.1 .6 5.7 .5 3.1 .6 13.8 .5-7.9 .6-3 .5-3.4 .6 3.7 .6-.4 .5 .4 .6 8.5 .5-3.6 .6-13.7 .5 12.9 .6-.8 .5-6.7 .6 1.4 .5-19 .6 15.7 .6 1.8 .5 8.2 .6-15.4 .5 7.6 .6-2.3 .5 2.6 .6-10.5 .5 10.8 .6 6 .5-1.4 .6-8.8 .6 13.7 .5-6.1 .6 6.6 .5-4.3 .6-11.6 .5 13.5 .6-1.5 .5-6.2 .6 13.3 .6-11 .5 3.7 .6-9 .5 4 .6-8.7 .5 4.3 .6-4 .5-4.9 .6 9.9 .5-6.1 .6 2.8 .6-.7 .5 11.1 .6-3.3 .5-1.7 .6-4.7 .5-1.5 .6 2.2 .5 3.4 .6 9.5 .5 3.1 .6-3.7 .6 6 .5-9 .6-4.4 .5-5.4 .6-2.9 .5 6.5 .6-9 .5 18 .6-4.2 .5-8.4 .6 4.6 .6-8.8 .5-11.7 .6 21.7 .5 8.5 .6 13.3 .5-13.6 .6-8.4 .5 6.9 .6-.5 .5-18.9 .6 11.8 .6-3.4 .5-1.7 .6 5.1 .5-11.4 .6-3.9 .5 3.6 .6 5.7 .5 12.3 .6-2.2 .5-20.9 .6 21.7 .6 1.3 .5-7.1 .6 9.9 .5 .7 .6 2.6 .5-1.3 .6-5.2 .5-6.7 .6-1.6 .5-9.5 .6 6.8 .6 15.9 .5-8.6 .6 3.2 .5-11.8 .6-.8 .5 6.2 .6-3.2 .5-4.3 .6-1.3 .5 13.7 .6-7.4 .6 5.7 .5-8.1 .6 21.3 .5-10.3 .6-4.5 .5 9.7 .6 8.7 .5-6.4 .6-47.2 .5-3.8 .6 1.1 .6 8.9 .5 16.3 .6 3.2 .5-4.7 .6-5.1 .5 5.8 .6-5.5 .5 17.6 .6-2.3 .5-1.5 .6 5.7 .6 10.7 .5 1.9 .6-6.9 .5-2.3 .6-9.1 .5 9.2 .6 17.4 .5-7 .6-2.1 .5-7.4 .6-8.7 .6 1.2 .5-.7 .6 7.2 .5-8.1 .6-6 .5-15.1 .6 4.4 .5 13.2 .6-.8 .5 7.4 .6 3.5 .6 2.3 .5 9 .6-16.5 .5 9.7 .6 8.7 .5-5.4 .6-1.5 .5-4.6 .6-4.1 .5-16.3 .6 16.5 .6-12.3 .5 10.3 .6-2.7 .5 9 .6 3.1 .5-8.7 .6-10.8 .5 17 .6-13.1 .5-4.7 .6 6.6 .6 5.1 .5-8.6 .6 12.6 .5-2.6 .6 4.2 .5-3 .6 3.2 .5-1.9 .6-12.2 .5 6.3 .6-1.5 .6 10.2 .5-11.1 .6-4.3 .5 7.3 .6 11.6 .5-11.7 .6 10.8 .5-16.2 .6-4.1 .5 12.6 .6-1.8 .6 4.9 .5-.9 .6 4.4 .5 3.5 .6-.3 .5-15.9 .6-1.3 .5-7 .6 8.7 .5-5.3 .6 16 .6-7.3 .5 1.6 .6 8 .5 .6 .6 1.5 .5-6.8 .6 5.7 .5-6 .6-.3 .5 1 .6-1.6 .6-7.4 .5-9.2 .6 4.5 .5 6.6 .6 2.3 .5-11 .6 13.7 .5 .7 .6-4.4 .5 6.8 .6 3.5 .6-5.5 .5-1.1 .6 2.2 .5 4.9 .6 5.5 .5-7.5 .6-6.8 .5 5.4 .6-23.1 .5 14.7 .6-15 .6 2.2 .5 2.3 .6 2 .5 12.6 .6-3.4 .5-9.3 .6 7.9 .5-6.2 .6 14.5 .5 5.5 .6-5.9 .6 3.8 .5-2 .6 6.2 .5 4.3 .6-14.3 .5 6.7 .6-9.4 .5-12.5 .6 .5 .5 14 .6-2.1 .6-4.6 .5-7.3 .6-3 .5 11.3 .6 6.1 .5 6.8 .6 0 .5-10.5 .6 13.8 .5 .7 .6 0 .6-10.8 .5 36.2 .6 40.1 .5 35.6 .6 30.4 .5 33.8 .6-8.7 .5-6.3 .6-4.1 .5-6.8 .6-12.5 .6-5.9 .5-12.2 .6-13.5 .5-12.7 .6-6 .5-16.9 .6-10.4 .5-12.2 .6-8 .5-13.6 .6-11.4 .6-12.4 .5-12.7 .6-10.3 .5 4.5 .6 5.8 .5-2.6 .6 3.7 .5-.9 .6 9.2 .5-6.7 .6 6.4 .6-3.1 .5 13.6 .6-9.4 .5-5.1 .6 5.8 .5 5.1 .6-11.1 .5 11.1 .6-6.8 .5-1 .6 .6 .6-9.4 .5 10.2 .6-11.7 .5 2.2 .6 5.3 .5-2 .6 7.6 .5 1.1 .6-9 .5 1 .6 .3 .6 10.7 .5-4.5 .6 9.7 .5-10.2 .6-.1 .5-2.7 .6 7 .5-1.6 .6-9.8 .5-3.7 .6-4.7 .6 2.6 .5 7.2 .6 15.7 .5-27 .6 .8 .5 8.7 .6 2.6 .5 6 .6 .2 .5 1.6 .6 2.1 .6-11.9 .5 21.1 .6-7.5 .5 10.3 .6-15.8 .5-5.8 .6 5 .5-16.1 .6 8.6 .5-7.7 .6 4.1 .6 10 .5-.4 .6-5.7 .5 20.1 .6-21.6 .5 5.4 .6 7.6 .5 1.5 .6-9.5 .5 15.6 .6-15.5 .6 14.5 .5-18.5 .6-.7 .5 7 .6 3.2 .5-4.1 .6-9.4 .5-.6 .6 5.7 .6-1.7 .5 1.5 .6-4.1 .5 14.7 .6-2 .5 9.2 .6-13.9 .5 9.4 .6-10.2 .5-7.2 .6 5.3 .6 8.1 .5 1 .6-12.3 .5-1.4 .6 8.3 .5-16.6 .6 16.4 .5 2 .6 .1 .5 .5 .6-.2 .6 2.9 .5-9.1 .6 10.3 .5 .9 .6 2.2 .5-6.1 .6-7 .5-4.4 .6 1.1 .5-6.7 .6 .6 .6 2 .5 3.9 .6 14.9 .5-15 .6 12.1 .5 1.3 .6-3.2 .5-3.2 .6 2.4 .5-2.5 .6 4.6 .6 4.6 .5-6.7 .6-.1 .5 3.2 .6-9.3 .5-2.7 .6 2.3 .5 4.9 .6-4.4 .5-3.1 .6 11.9 .6-3.6 .5-1.8 .6 9.2 .5-.3 .6 9.2 .5-6 .6-13.5 .5-11.6 .6 11.7 .5-9.7 .6 11.1 .6-3.6 .5-1.5 .6 1.9 .5-6.2 .6 .1 .5 5.4 .6 7.5 .5 .4 .6 0 .5 4 .6-1.2 .6 2.2 .5-3.1 .6 .6 .5-7.3 .6-8.4 .5 10.3 .6-9.6 .5 4.8 .6-5.3 .5 11.5 .6-9.8 .6 9.4 .5 2.4 .6-9.4 .5-11 .6 16.5 .5 4.6 .6-7.4 .5-1.5 .6 13.1 .5-17.4 .6 14.7 .6 9 .5-13.9 .6-8 .5 1.8 .6-1.8 .5-6 .6 16 .5-4 .6-4.4 .5 8.2 .6 1.6 .6-.8 .5-1.9 .6-.5 .5-3.9 .6 10.5 .5-13.3 .6 2 .5 9.6 .6-7.8 .5 2.1 .6-3.1 .6 7.7 .5 .7 .6-7.3 .5 8.8 .6-5.3 .5-6.7 .6 14.6 .5-2.7 .6-6.5 .5-19.4 .6 9.6 .6-2.7 .5 8 .6 6.2 .5-6.2 .6-1.7 .5 9.6 .6-6.3 .5-5.8 .6 6.8 .5 4.3 .6 7.4 .6-12.3 .5 2.5 .6 6.6 .5-2.4 .6 3.1 .5-17.1 .6 1.8 .5 6 .6-13 .5 5.9 .6 4.8 .6-14.3 .5 3.1 .6 5.1 .5 15.5 .6-1.7 .5 1.2 .6 4.3 .5-3.8 .6-1.1 .5-1.1 .6-1.1"/>
<path stroke="#ffff00" d="M672.5 153.1l.6 1.4 .5-3.5 .6 13 .5-4.5 .6-9.6 .5 8.2 .6 3.6 .5-1 .6-2.2 .5 3.4 .6-9.7 .6-6.2 .5 20.3 .6 5.2 .5-17.5 .6 6 .5-16 .6-6.6 .5 20.4 .6 4.3 .5-2.2 .6 .4 .6 3.9 .5 4.5 .6-8 .5 10.4 .6-17.4 .5-2.8 .6-8.6 .5 6.2 .6 1.2 .5 10.1 .6-6 .6-5.4 .5-2.4 .6 5.8 .5-7 .6 2 .5 13.6 .6 12.2 .5-9.4 .6-7.4 .5-.2 .6 4.5 .6 1.5 .5-6.7 .6 7.3 .5 11.9 .6-11 .5-10.3 .6 7.4 .5-8.5 .6 1.5 .5 3.7 .6-2.4 .6 7.1 .5-7 .6-8.1 .5 9.4 .6 6 .5-13.4 .6 14.7 .5-15.9 .6 8 .5-2.9 .6 .1 .6 1.8 .5-5.1 .6 6.9 .5 5.9 .6-4.2 .5 10.8 .6-5.4 .5 10.2 .6-11.5 .5-7.7 .6-4.8 .6 2.9 .5 14.3 .6-12.1 .5-8.1 .6 12.4 .5-5.6 .6 5 .5-12.5 .6 21 .5-5.9 .6 0 .6-4 .5 3.5 .6-1.3 .5 8.3 .6-27.7 .5 9.7 .6 7.8 .5-8.2 .6 16 .5-8 .6-8.3 .6-.7 .5 3.7 .6 4.9 .5 7.8 .6-4 .5 10.8 .6-11.2 .5 1.3 .6 4.1 .5 7.7 .6-16.6 .6-1.5 .5 8.4 .6-5.8 .5-6.6 .6-5.1 .5 5 .6 1.8 .5-.6 .6 2.8 .5-13.9 .6 4.8 .6 27.2 .5-7.1 .6-12.9 .5-1 .6-4.2 .5 3.8 .6 5 .5 .3 .6-6.8 .5 2.7 .6 8.4 .6-9.3 .5 11.4 .6-15.4 .5 .3 .6 4.5 .5 3.3 .6 13.1 .5-6.4 .6-.8 .5-4.5 .6 1.9 .6-1.4 .5 .5 .6 10.1 .5-3.7 .6-15.9 .5 12.3 .6-1.6 .5-7.9 .6 1.2 .5-15.8 .6 17.1 .6 1 .5 8.3 .6-12.8 .5 9.6 .6-4 .5 1.5 .6-9.2 .5 11.3 .6 5.1 .5-2.9 .6-7.6 .6 14.9 .5-9.2 .6 3.6 .5-4.5 .6-10.6 .5 14.3 .6-2.3 .5-8 .6 12.4 .6-10.1 .5 6 .6-6.9 .5 4.1 .6-7.6 .5 6.1 .6-2.8 .5-4.9 .6 8.3 .5-7.2 .6 2.9 .6-1.3 .5 9.5 .6-5 .5-.7 .6-3.6 .5-3.1 .6 .7 .5 3.9 .6 9.9 .5 3.1 .6-2.9 .6 8.5 .5-7.1 .6-6.1 .5-7 .6-.3 .5 10.1 .6-10.1 .5 12.7 .6-8.7 .5-7.8 .6 9.3 .6-4.2 .5-11 .6 17.4 .5 3.6 .6 12.4 .5-12.7 .6-8.2 .5 6.1 .6-.9 .5-17.3 .6 15.2 .6-1.9 .5-2.7 .6 3.5 .5-10.8 .6-1 .5 2.8 .6 2.2 .5 10.3 .6-2 .5-18.8 .6 24.2 .6 2.1 .5-8.7 .6 9.4 .5 .8 .6 2.9 .5-1.7 .6-6.8 .5-6.8 .6 1.1 .5-6.1 .6 6.3 .6 14.1 .5-9.9 .6 2.2 .5-15.7 .6-2.5 .5 9.6 .6 0 .5-4.3 .6-2.6 .5 13.3 .6-6 .6 7.7 .5-6.2 .6 21.4 .5-14.2 .6-5.4 .5 13.9 .6 8.5 .5-11.8 .6-10.1 .5-6.9 .6-3.2 .6 1.8 .5 7.1 .6-3.8 .5-8.4 .6-1.9 .5 3.6 .6-9.3 .5 17.8 .6-.7 .5-1.5 .6 3.8 .6 9.8 .5 3.1 .6-7.8 .5-4.1 .6-7.6 .5 12.1 .6 18 .5-7.7 .6-1.3 .5-5.8 .6-11 .6-2.4 .5-.2 .6 8.5 .5-8.6 .6-5.1 .5-12.7 .6 6.7 .5 12.9 .6-3.5 .5 6.7 .6 5.4 .6 4.2 .5 9.9 .6-18.7 .5 7.9 .6 8.6 .5-6.1 .6-2.4 .5-4.9 .6-3.7 .5-16.2 .6 17.4 .6-12.3 .5 9.2 .6-2.5 .5 10.5 .6 2.9 .5-8.1 .6-9.5 .5 18.6 .6-12.4 .5-6.4 .6 4.9 .6 3.5 .5-9.9 .6 13 .5-2.7 .6 3.7 .5-3 .6 3.2 .5-.8 .6-10.8 .5 7 .6-2.3 .6 7 .5-13.6 .6-3.3 .5 9.2 .6 10.9 .5-12.6 .6 12.6 .5-12.6 .6-2.9 .5 11.3 .6-2 .6 5.4 .5-.6 .6 4.3 .5 2.8 .6-.5 .5-16.5 .6-1.1 .5-4.8 .6 8.2 .5-8.3 .6 16.4 .6-4.1 .5 2.6 .6 5.1 .5-1.9 .6 3 .5-4.4 .6 5 .5-8.6 .6-3.5 .5-.6 .6 0 .6-3.3 .5-5.3 .6 4.8 .5 4.4 .6-.1 .5-13.6 .6 11.6 .5 1.7 .6-3.1 .5 7.9 .6 5.7 .6-3.4 .5-1.5 .6 .3 .5 3 .6 3.6 .5-6.2 .6-3.8 .5 7 .6-21 .5 14.2 .6-17.9 .6 1.1 .5 3.5 .6 2.7 .5 11.4 .6-5 .5-8.7 .6 10.9 .5-5.5 .6 12.7 .5 3.1 .6-6.2 .6 2.9 .5-4.6 .6 6.8 .5 6.6 .6-12.9 .5 7.1 .6-7.9 .5-13 .6-2.9 .5 13 .6-.3 .6-3.6 .5-6 .6-1.1 .5 10.9 .6 4.7 .5 3.8 .6-1.9 .5-7.8 .6 17 .5 .6 .6-2.2 .6-12.5 .5-.7 .6 2.7 .5 3.2 .6 .6 .5 1.2 .6 1.4 .5 6.9 .6 7.3 .5-.6 .6-.6 .6 8 .5-4.2 .6-4.4 .5-3.7 .6 2 .5-8.5 .6-1.9 .5-4 .6 1.6 .5 0 .6 .5 .6-3 .5-5.8 .6-.6 .5-3.4 .6-2.7 .5-2.3 .6 5.1 .5-1 .6 5.7 .5-7.1 .6 9.9 .6-1.7 .5 11.7 .6-12 .5-5.5 .6 8.3 .5 7.3 .6-11.2 .5 9.4 .6-6.9 .5-1 .6 1.4 .6-7.5 .5 10.6 .6-13.6 .5 .3 .6 4.9 .5-1.7 .6 7.4 .5 1.5 .6-6.7 .5 .9 .6-4.1 .6 10.6 .5-.2 .6 11 .5-12.1 .6-2.7 .5-3.6 .6 8 .5-.2 .6-6.6 .5-2.5 .6-7.6 .6 1.3 .5 8 .6 16.7 .5-25.2 .6 1.5 .5 5.9 .6-1.6 .5 3.4 .6 2.8 .5 5.3 .6 3.6 .6-13.4 .5 16.7 .6-9.8 .5 10.7 .6-14.3 .5-.6 .6 8.9 .5-17.4 .6 5.3 .5-9 .6 5.9 .6 14.4 .5-2.7 .6-13.5 .5 16.1 .6-21.7 .5 2.3 .6 5.2 .5-.7 .6-11.1 .5 15.6 .6-15.8 .6 15.1 .5-14 .6 2.3 .5 5.8 .6 1.5 .5-2.8 .6-7.8 .5-.8 .6 4.8 .6-5.2 .5-.4 .6-1.1 .5 17.1 .6-2.1 .5 8.1 .6-16.6 .5 7.7 .6-8.5 .5-5.4 .6 5 .6 6.2 .5-.4 .6-11.6 .5-.7 .6 8.4 .5-16.3 .6 17 .5 1 .6-2 .5 .2 .6 2.5 .6 5.6 .5-9.5 .6 9.2 .5 .9 .6 2.5 .5-3.7 .6-3.4 .5-3.5 .6-3.9 .5-11.3 .6 .7 .6 5.2 .5 7.4 .6 14.2 .5-17.9 .6 11.6 .5 1.5 .6-5.9 .5-4.6 .6 4.6 .5-1.3 .6 2.9 .6 5.7 .5-2.7 .6 1.1 .5 0 .6-12.5 .5-2 .6 6.3 .5 7.3 .6-5.7 .5-5.2 .6 12.3 .6-3.7 .5-3.5 .6 7.3 .5-1.1 .6 10.6 .5-2.6 .6-11.5 .5-11 .6 10.8 .5-11.5 .6 10.3 .6-3 .5-.7 .6 1.4 .5-8.1 .6 1 .5 6.7 .6 5.1 .5-2.2 .6 .2 .5 5.1 .6-1.8 .6 1.3 .5 .5 .6 4 .5-9.6 .6-10.2 .5 10.9 .6-8.6 .5 7.2 .6-1.4 .5 13 .6-11.4 .6 7.6 .5 .6 .6-7.6 .5-5.7 .6 19.6 .5 2.8 .6-9.5 .5 .1 .6 14.3 .5-17.2 .6 14.2 .6 7.4 .5-13 .6-3.6 .5 3.7 .6-4.5 .5-9.8 .6 14.3 .5-3.5 .6-3 .5 8.3 .6-.3 .6-2 .5-.9 .6 1.1 .5-3 .6 11.2 .5-12.1 .6 .9 .5 8.4 .6-5.2 .5 2.4 .6-5.9 .6 7.4 .5 2.1 .6-5.9 .5 11.8 .6-3.8 .5-11 .6 12 .5-1.8 .6-5.1 .5-20.8 .6 6.1 .6-2.1 .5 12.2 .6 8.8 .5-6.5 .6-3.6 .5 8 .6-5.7 .5-5.1 .6 5.4 .5 5.6 .6 10.2 .6-13.6 .5-1.7 .6 4.6 .5-2.2 .6 4.9 .5-15.3 .6 1.7 .5 4.8 .6-14.3 .5 5.3 .6 5.2 .6-14.2 .5 3.5 .6 7.2 .5 17.9 .6-.3 .5 2.3 .6 3 .5-6.3 .6-2.3 .5-1.5 .6-.7"/>
<path stroke="#00ffff" d="M672.5 148.6l.6 4.4 .5-3.1 .6 13.1 .5-3.2 .6-9.4 .5 8.3 .6 1.1 .5-6.9 .6-3.8 .5 5.2 .6-8.4 .6-5.7 .5 19.3 .6 4.5 .5-16.6 .6 8.6 .5-10.9 .6-4.7 .5 18.7 .6 2 .5-4.5 .6 .7 .6 6.1 .5 5.6 .6-8.1 .5 10.3 .6-18 .5-4.3 .6-10.1 .5 5.4 .6 .6 .5 9 .6-8.3 .6-4.4 .5 2.5 .6 7.8 .5-6.5 .6 2.1 .5 11.8 .6 10.6 .5-9.2 .6-7.6 .5 1.7 .6 6.4 .6 2.7 .5-5.8 .6 5.3 .5 6.3 .6-15.9 .5-10.6 .6 12.3 .5-7.3 .6-1.2 .5 2.6 .6-2.2 .6 7.7 .5-6.5 .6-7 .5 12.9 .6 8.2 .5-13.1 .6 14.8 .5-17.4 .6 5.7 .5-4.2 .6 1.8 .6 2.8 .5-3.7 .6 9.8 .5 6.1 .6-6.7 .5 7.9 .6-7.6 .5 9.8 .6-12.7 .5-8 .6 .2 .6 6.6 .5 13.1 .6-14.3 .5-11.4 .6 9.5 .5-6.7 .6 5.1 .5-10.5 .6 23.4 .5-6.1 .6-.3 .6-2.8 .5 3.8 .6-2 .5 10.9 .6-22.9 .5 11.4 .6 6.3 .5-11.2 .6 13.2 .5-9.5 .6-7.4 .6-1.6 .5 2.2 .6 4.4 .5 7.1 .6-5.1 .5 11.9 .6-9.5 .5 1.9 .6 4.7 .5 6.8 .6-16.5 .6 .5 .5 8.1 .6-7 .5-5.6 .6-3.2 .5 5.9 .6 2.5 .5-.6 .6 2.8 .5-15.2 .6 2.2 .6 25.4 .5-8.4 .6-13.5 .5-1.9 .6-4 .5 7 .6 7.5 .5 .6 .6-6.6 .5 5.8 .6 10.6 .6-12.1 .5 7.1 .6-16.6 .5 2.3 .6 5.9 .5 .8 .6 10.5 .5-6.5 .6 2.1 .5-1.7 .6 .7 .6-3.2 .5-.1 .6 9.3 .5-3.5 .6-14.9 .5 12.1 .6-1.7 .5-5.3 .6 4.1 .5-17.4 .6 14.8 .6 0 .5 8 .6-13.7 .5 7.9 .6-5 .5 2.3 .6-7.1 .5 11.6 .6 4.8 .5-2.2 .6-6.4 .6 15.6 .5-8.2 .6 3.8 .5-4.3 .6-10.8 .5 13.2 .6-.8 .5-7.7 .6 12 .6-8.8 .5 5.6 .6-10.3 .5 .3 .6-9.6 .5 5 .6-4.6 .5-5.1 .6 11.7 .5-3.5 .6 6.2 .6-.7 .5 8 .6-5.4 .5-1.4 .6-4 .5-.4 .6 5.3 .5 6.4 .6 9.7 .5-.7 .6-8.2 .6 5 .5-7.5 .6-4.1 .5-4.7 .6-3.9 .5 8.6 .6-9.5 .5 15.4 .6-3.9 .5-6.3 .6 8.9 .6-3.9 .5-11.7 .6 17 .5 5.6 .6 14.6 .5-12.4 .6-7.5 .5 6 .6-2.1 .5-18.8 .6 14.3 .6-2.3 .5-4.4 .6 2 .5-11.2 .6-1.5 .5 3.2 .6 2.2 .5 9.3 .6-2.3 .5-17.3 .6 24.7 .6 3.2 .5-7.7 .6 8.6 .5 1.2 .6 3.9 .5-1.8 .6-8.2 .5-8.3 .6 1.5 .5-4.5 .6 7.8 .6 13.2 .5-11.3 .6 2.4 .5-14.1 .6-1.8 .5 8.9 .6-1.3 .5-5.4 .6-3.4 .5 10.2 .6-8.8 .6 8.5 .5-3.7 .6 23.5 .5-11.5 .6-4.3 .5 12 .6 8.3 .5-9.4 .6-10.2 .5-8.2 .6-2.2 .6 4 .5 9.1 .6-5 .5-13.3 .6-4.8 .5 3.9 .6-8.3 .5 17.7 .6-.9 .5-.1 .6 6 .6 11.3 .5 3.6 .6-6 .5-3.5 .6-10.2 .5 10.8 .6 19 .5-7.6 .6-3.2 .5-8.9 .6-11.9 .6-.8 .5 .1 .6 8.7 .5-7.6 .6-5.5 .5-12.7 .6 7.7 .5 13.8 .6-3.1 .5 4.7 .6 2 .6 2.3 .5 10.8 .6-15.3 .5 9.4 .6 6.7 .5-6.6 .6-2.2 .5-4.5 .6-2.6 .5-14 .6 18.7 .6-12.1 .5 9.4 .6-3.5 .5 9.1 .6 1.9 .5-9.7 .6-10.7 .5 17.9 .6-11.2 .5-2.9 .6 6.4 .6 1.6 .5-12.7 .6 12.3 .5-2.1 .6 3.3 .5-2.5 .6 6.5 .5 .1 .6-13.5 .5 4 .6-3.6 .6 8.1 .5-10.9 .6 .5 .5 10.8 .6 10.3 .5-11.8 .6 14 .5-13.9 .6-4.9 .5 10 .6-5.8 .6 3.8 .5 3.1 .6 7 .5 2.5 .6-2.5 .5-18.4 .6-2 .5-5.7 .6 8.4 .5-7.1 .6 17.8 .6-3.2 .5 2.6 .6 5.8 .5-1.4 .6 1.8 .5-8 .6 3.5 .5-7.9 .6-2.6 .5 2 .6 4 .6-3.4 .5-7.9 .6 4 .5 3.5 .6 .2 .5-10.6 .6 14 .5 .1 .6-6.2 .5 6.5 .6 7 .6-.9 .5-.9 .6-.9 .5 3.3 .6 4.1 .5-9.1 .6-6.2 .5 6.7 .6-20.9 .5 17.9 .6-15.3 .6-3.1 .5-1.7 .6 3.4 .5 14.3 .6-2.2 .5-6.7 .6 9.1 .5-7.4 .6 13.5 .5 3.3 .6-7.4 .6 3.2 .5-2.8 .6 6.4 .5 5.8 .6-12.1 .5 7.2 .6-8.9 .5-11.3 .6-.5 .5 12.2 .6-1.2 .6-1.9 .5-5.1 .6-4.4 .5 7.9 .6 3.2 .5 4.1 .6-.6 .5-7.2 .6 16 .5 1.1 .6 .9 .6-11 .5-1.5 .6 1.3 .5 2 .6 2 .5 4.9 .6 2.9 .5 3.2 .6 3.7 .5 .9 .6 1.7 .6 6.5 .5-7.3 .6-5.4 .5-3.2 .6 2.7 .5-7.5 .6-.6 .5-4.3 .6-1.6 .5-2.5 .6 1.4 .6-2 .5-3.5 .6 6.5 .5 1.2 .6-.5 .5-1.2 .6 5.1 .5-3.3 .6 7.1 .5-6 .6 8.6 .6-.5 .5 14.5 .6-11.1 .5-5.3 .6 6.9 .5 5.1 .6-11.4 .5 11.4 .6-5.5 .5-1.9 .6-2.1 .6-9.2 .5 11.8 .6-13.2 .5-1.3 .6 6.5 .5 1.5 .6 7.4 .5-.5 .6-6.7 .5 2.6 .6-2.4 .6 8.8 .5-3.3 .6 12.1 .5-11.7 .6-2.8 .5-3.2 .6 7.1 .5 .2 .6-6.5 .5-4.3 .6-6.4 .6 3.1 .5 6.2 .6 12.4 .5-27.7 .6 2.2 .5 6.8 .6 .3 .5 7.5 .6 4.5 .5 2.9 .6 1.7 .6-12.7 .5 16.4 .6-9.1 .5 10.9 .6-15.4 .5-.8 .6 10.6 .5-16.5 .6 6.2 .5-7.4 .6 5.4 .6 11 .5-2.4 .6-8 .5 19.7 .6-20.9 .5 3.6 .6 4 .5-2 .6-11.4 .5 17.4 .6-12.1 .6 17.2 .5-16.9 .6 .5 .5 6.6 .6 2.2 .5-3.9 .6-8.6 .5-1.3 .6 4.7 .6-3.6 .5 1.4 .6-.4 .5 16.4 .6-4.1 .5 7 .6-15.4 .5 9.3 .6-10.5 .5-9 .6 2.2 .6 4.7 .5-.4 .6-11.8 .5-1.2 .6 7.9 .5-16.2 .6 15.6 .5 .9 .6 1.8 .5 3.9 .6 1 .6 2.8 .5-12 .6 6.2 .5 .1 .6 3.7 .5-5.1 .6-7.3 .5-5.1 .6-.3 .5-7.5 .6 .5 .6 4.3 .5 8 .6 15.8 .5-15.9 .6 11.5 .5 1.5 .6-2.6 .5-2.7 .6 1.7 .5-4 .6 1.7 .6 3.8 .5-3.4 .6 4.3 .5 4 .6-12.4 .5-6.4 .6 2.3 .5 7.1 .6-6.5 .5-7.1 .6 13.3 .6 1.3 .5 .4 .6 7.7 .5-1.9 .6 8.9 .5-5.2 .6-14.2 .5-11.8 .6 13.8 .5-7.8 .6 9.1 .6-5.9 .5-2.1 .6 1.4 .5-7 .6-.5 .5 5.6 .6 7 .5-.1 .6 .4 .5 4.9 .6-1.3 .6 2.4 .5-.6 .6 2.3 .5-6.1 .6-6.3 .5 10 .6-11.6 .5 6 .6-3.9 .5 8 .6-13.2 .6 8.9 .5 3.6 .6-7.4 .5-9.9 .6 17.4 .5 3.1 .6-8 .5 0 .6 11.8 .5-19.7 .6 13.5 .6 8.4 .5-13.8 .6-5.7 .5 5.6 .6-.1 .5-9.5 .6 12.5 .5-4.4 .6-3.7 .5 7.1 .6-.8 .6-.3 .5 0 .6 2.2 .5-2.2 .6 9.9 .5-14 .6 .6 .5 7.9 .6-7 .5 3.7 .6-4.8 .6 5.8 .5 2.9 .6-5.5 .5 10.3 .6-3.7 .5-7 .6 14 .5-3.9 .6-7.2 .5-21 .6 8.7 .6-.2 .5 10 .6 5.5 .5-6 .6-.9 .5 9.6 .6-5.9 .5-6.8 .6 5.2 .5 4.8 .6 7.7 .6-14.3 .5-.2 .6 5.7 .5-1.9 .6 4.7 .5-14.3 .6 2.8 .5 5.8 .6-14.5 .5 2.5 .6 2.5 .6-12.8 .5 6.6 .6 8.7 .5 17.8 .6-1.2 .5 .3 .6 3.5 .5-5.7 .6-4.8 .5-2.4 .6-.5"/>
<path stroke="#000000" d="M672.5 146.9l.6 3.7 .5 1.9 .6 16 .5-5.5 .6-11.6 .5 5.8 .6 2.2 .5 0 .6-1.8 .5 2.9 .6-9 .6-5.4 .5 19.2 .6 3.6 .5-17.5 .6 7.6 .5-13.2 .6-5.3 .5 18.8 .6 2.2 .5-2.1 .6 1.7 .6 3.5 .5 3 .6-7.1 .5 12.5 .6-18.1 .5-5.6 .6-9.5 .5 7.4 .6 2.8 .5 11.1 .6-6 .6-3.3 .5 .8 .6 4.7 .5-10 .6 1.7 .5 13.2 .6 12 .5-7.4 .6-8.5 .5-1.7 .6 4.8 .6 1.5 .5-7.9 .6 4 .5 7 .6-11.2 .5-6.8 .6 9.9 .5-8.4 .6 1.2 .5 3.4 .6-3 .6 7.9 .5-4.8 .6-7.3 .5 10.2 .6 5.4 .5-14.6 .6 15.1 .5-16.6 .6 7.4 .5-1.5 .6 1.6 .6 1.6 .5-4.6 .6 7 .5 4.3 .6-2.2 .5 12.8 .6-7.7 .5 9.5 .6-10.1 .5-7.8 .6-4.6 .6 3.6 .5 13.6 .6-14 .5-10.6 .6 11.9 .5-5.3 .6 3.2 .5-13.8 .6 21.5 .5-6.3 .6-.6 .6-4.2 .5 4.7 .6 2.2 .5 13.5 .6-23.7 .5 10 .6 6.9 .5-10.5 .6 11.4 .5-10.5 .6-5.4 .6 .4 .5 1.6 .6 2.5 .5 5.3 .6-5.6 .5 11.9 .6-9.6 .5 2.3 .6 5.4 .5 7.2 .6-17.2 .6 .7 .5 10.4 .6-5.5 .5-7.4 .6-5.5 .5 6.3 .6 3.6 .5 0 .6 3.5 .5-14.2 .6 1.3 .6 23.5 .5-7.4 .6-12.7 .5-.9 .6-2.3 .5 5 .6 3.6 .5-1.3 .6-6.9 .5 6.1 .6 13.7 .6-9.7 .5 7 .6-16.1 .5 1.7 .6 3.7 .5-.2 .6 12.4 .5-3.9 .6 1.1 .5-4.1 .6 .5 .6-4 .5-1.6 .6 9.6 .5-1.7 .6-14.9 .5 10.5 .6-2.1 .5-5.8 .6 4.5 .5-14.4 .6 16.6 .6-.8 .5 7.1 .6-14.3 .5 8.7 .6-1.3 .5 3.8 .6-10.1 .5 9.1 .6 4.2 .5-1.2 .6-7.2 .6 14.7 .5-7.1 .6 4.6 .5-5.8 .6-12.7 .5 14.1 .6-.3 .5-5.7 .6 14 .6-10.4 .5 3.1 .6-11.4 .5 1 .6-7.7 .5 7.7 .6-3.7 .5-4.2 .6 13.2 .5-5.1 .6 1.9 .6-3.6 .5 9.3 .6-3.9 .5-.5 .6-3.5 .5-2.1 .6 1.9 .5 5.3 .6 9.7 .5-1.7 .6-7.4 .6 8.3 .5-4.3 .6-2.4 .5-7.3 .6-5.8 .5 7.6 .6-6.6 .5 16.7 .6-7.3 .5-9.8 .6 7.5 .6-2.9 .5-9 .6 19.7 .5 4.2 .6 9.7 .5-13.8 .6-5.4 .5 8.8 .6-1.7 .5-22.1 .6 12.7 .6-1.6 .5-2.5 .6 3.9 .5-10.3 .6-2 .5 3.1 .6 5.2 .5 12.5 .6-2.9 .5-19.4 .6 23.4 .6 .9 .5-8 .6 8.7 .5-.7 .6 1.6 .5-3 .6-6.8 .5-6.9 .6 2.2 .5-3.6 .6 8.1 .6 13.5 .5-11 .6 2 .5-14.6 .6-1.2 .5 9.4 .6-.8 .5-4.5 .6-4.1 .5 11 .6-6.1 .6 10.4 .5-4.3 .6 20.8 .5-13.7 .6-5.4 .5 11.6 .6 6.6 .5-11.2 .6-3.8 .5 25.5 .6-37.9 .6 3.2 .5 7.9 .6-5.1 .5-12.1 .6-2 .5 6.6 .6-9.4 .5 14.5 .6-1.8 .5 .4 .6 5.7 .6 8.1 .5 1.4 .6-5.2 .5-1.8 .6-7.6 .5 12.1 .6 16.8 .5-9 .6-.7 .5-4.7 .6-10.4 .6-3.7 .5-3.3 .6 8.7 .5-4.6 .6-3.7 .5-13.7 .6 4.2 .5 10.9 .6-3 .5 5.8 .6 3.9 .6 3.1 .5 9.1 .6-18.2 .5 9 .6 10.5 .5-4 .6-2.5 .5-4.8 .6-1.2 .5-14.6 .6 16.7 .6-14.2 .5 7.4 .6-2.9 .5 11.4 .6 3.9 .5-8.8 .6-12.2 .5 16.4 .6-10.5 .5-1.4 .6 7.8 .6 1.8 .5-13.1 .6 12.5 .5-1.7 .6 4.1 .5-2.1 .6 3.5 .5-2.2 .6-12.9 .5 4.8 .6-3.5 .6 9.3 .5-11.2 .6-2.5 .5 8.6 .6 11.1 .5-11.7 .6 13.8 .5-11.5 .6-1.9 .5 10.7 .6-6.1 .6 1.8 .5-1.3 .6 5.2 .5 4.5 .6-.6 .5-16.1 .6-.9 .5-7.1 .6 6.9 .5-4.5 .6 19 .6-5 .5 2.5 .6 7 .5 .3 .6 2.2 .5-10.8 .6-1.1 .5-8.2 .6 1.3 .5 5.2 .6 3.2 .6-6.4 .5-9.9 .6 4.1 .5 4.3 .6 1.2 .5-8.2 .6 15.2 .5 .1 .6-4.4 .5 6.8 .6 5.2 .6-4.2 .5-3.9 .6-2.2 .5 3.4 .6 5.5 .5-7.8 .6-5.2 .5 7.7 .6-22.2 .5 13.7 .6-17.3 .6 .1 .5 2.5 .6 3.6 .5 14.4 .6-.9 .5-7.5 .6 7.7 .5-7.3 .6 14.1 .5 5.8 .6-5.9 .6 4.9 .5-1.6 .6 5.2 .5 3.6 .6-13.6 .5 5.8 .6-11.3 .5-14.5 .6-1.7 .5 12.5 .6-.6 .6-.7 .5-3.7 .6-2.4 .5 9.5 .6 3.3 .5 3.3 .6-.2 .5-5.5 .6 17.6 .5-.3 .6-1.2 .6-12.1 .5 44.3 .6 50.5 .5 50.5 .6 43.2 .5-.4 .6 2.9 .5 6.2 .6 5.9 .5 3.2 .6-10.8 .6-6.5 .5-9.7 .6-17.6 .5-18.1 .6-16.8 .5-26.8 .6-14.4 .5-16.6 .6-15.4 .5-22.9 .6-21 .6-22.1 .5 14.8 .6 20 .5-15.8 .6-16.2 .5-5 .6 2 .5 0 .6 9.8 .5-6.3 .6 6.7 .6-2.1 .5 15.6 .6-9.5 .5-5 .6 6.9 .5 4.8 .6-9.8 .5 11.9 .6-10.1 .5-4.8 .6-.6 .6-8.4 .5 12.8 .6-11.7 .5-.5 .6 5.5 .5 .8 .6 8.7 .5 1.2 .6-6.4 .5 .2 .6-4.9 .6 9 .5-3.7 .6 9.9 .5-9.2 .6 .6 .5-1.9 .6 8 .5-.1 .6-9 .5-5.2 .6-5.6 .6 2.4 .5 6.7 .6 15.7 .5-25.4 .6 2.2 .5 5 .6-3 .5 6.9 .6 4.9 .5 2 .6 1.4 .6-13.6 .5 18.4 .6-5.3 .5 11.5 .6-17.6 .5-1.5 .6 10 .5-18 .6 5.1 .5-8.3 .6 6.2 .6 13.8 .5 0 .6-11 .5 17.7 .6-19.4 .5 4.3 .6 4.4 .5-.6 .6-11.3 .5 16.4 .6-11.8 .6 17.3 .5-16.6 .6 1 .5 6.3 .6 1.8 .5-3.2 .6-8.3 .5-1.5 .6 3.6 .6-3 .5 2.8 .6-2.9 .5 12.7 .6-3.5 .5 9.6 .6-12.3 .5 11 .6-9.9 .5-8.7 .6 2.9 .6 6.1 .5 1.3 .6-10.7 .5 1.2 .6 11.6 .5-15.1 .6 16.3 .5 .3 .6-3 .5-.9 .6 .4 .6 4.5 .5-8.3 .6 8.2 .5-1.7 .6 .6 .5-7.5 .6-6.1 .5-.9 .6 1.7 .5-7.4 .6 1.3 .6 5.4 .5 7.4 .6 13.8 .5-16.8 .6 9.1 .5-3.4 .6-4.5 .5 .4 .6 5.6 .5-3.7 .6 1.5 .6 5.7 .5-4.6 .6 1.4 .5 6.7 .6-8.7 .5-5.5 .6 2.1 .5 4.9 .6-8.6 .5-6.4 .6 13.9 .6-1.4 .5-1.4 .6 7 .5-1.5 .6 13.7 .5-1.4 .6-15.5 .5-14.4 .6 12.6 .5-10.1 .6 7.3 .6-6.4 .5-.9 .6 4.7 .5-2.4 .6 2.7 .5 5.4 .6 4.2 .5-4.1 .6-1.9 .5 7.4 .6 1.7 .6 .6 .5-2.7 .6 3 .5-7.9 .6-9.7 .5 8.8 .6-10 .5 7.7 .6-2.2 .5 10 .6-12.6 .6 8.1 .5 3 .6-8.1 .5-9.2 .6 18.2 .5 3.3 .6-8.6 .5-2.1 .6 11.5 .5-18.3 .6 14.7 .6 8.2 .5-13 .6-4.7 .5 3 .6-3.3 .5-9.2 .6 13.9 .5-4.3 .6-2 .5 11.1 .6 1.8 .6-2.2 .5-3.4 .6-.9 .5-1.6 .6 11.7 .5-13.1 .6 .3 .5 7.3 .6-7 .5 3.2 .6-4.9 .6 5.2 .5 1.4 .6-6.3 .5 11.1 .6-2.9 .5-6.3 .6 15.6 .5-3.7 .6-7.9 .5-19.6 .6 9.2 .6-2.6 .5 9.3 .6 6.3 .5-7 .6-3.5 .5 8 .6-6.2 .5-6.1 .6 5.6 .5 5.1 .6 9.7 .6-11 .5 .9 .6 5.2 .5-1.2 .6 6.8 .5-14.1 .6 .2 .5 2.4 .6-13.5 .5 4.4 .6 2.8 .6-13.9 .5 5.8 .6 8.9 .5 16.2 .6-2.9 .5 .3 .6 3.1 .5-5.6 .6-.3 .5 1 .6-2.6"/>
</g>
<path d="M783.4 58.5v5.5M783.4 367.7v-5.5M894.3 58.5v5.5M894.3 367.7v-5.5M1005.2 58.5v5.5M1005.2 367.7v-5.5M672.5 353.0h5.5M1054.6 353.0h-5.5M672.5 254.8h5.5M1054.6 254.8h-5.5M672.5 156.7h5.5M1054.6 156.7h-5.5" stroke="#262626" stroke-width="2" fill="none"/>
<rect x="672.5" y="58.5" width="382.1" height="309.2" fill="none" stroke="#262626" stroke-width="2.4"/>
<text transform="translate(672.2 408.8) scale(1 1.045)" text-anchor="middle" font-size="33" fill="#262626">0</text>
<text transform="translate(783.1 408.8) scale(1 1.045)" text-anchor="middle" font-size="33" fill="#262626">200</text>
<text transform="translate(894.0 408.8) scale(1 1.045)" text-anchor="middle" font-size="33" fill="#262626">400</text>
<text transform="translate(1004.9 408.8) scale(1 1.045)" text-anchor="middle" font-size="33" fill="#262626">600</text>
<text x="662.1" y="364.2" text-anchor="end" font-size="33" fill="#262626">-4</text>
<text x="662.1" y="266.0" text-anchor="end" font-size="33" fill="#262626">-2</text>
<text x="662.1" y="167.9" text-anchor="end" font-size="33" fill="#262626">0</text>
<text x="662.1" y="69.7" text-anchor="end" font-size="33" fill="#262626">2</text>
<text x="863.5" y="449.0" text-anchor="middle" font-size="33" fill="#262626">Time(s)</text>
<text transform="translate(582.7 214.1) rotate(-90)" text-anchor="middle" font-size="33.6" fill="#262626"><tspan x="0" y="0">VN-posterior residuals</tspan><tspan x="0" y="39.3">(m/s)</tspan></text>
<path d="M1326.1 58.5V367.7M1437.5 58.5V367.7M1548.8 58.5V367.7" stroke="#b3b3b3" stroke-width="2.2" stroke-dasharray="8 2 4 2" stroke-dashoffset="4.2" fill="none"/>
<path d="M1214.8 348.4H1598.4M1214.8 284.0H1598.4M1214.8 219.5H1598.4M1214.8 155.1H1598.4M1214.8 90.7H1598.4" stroke="#b3b3b3" stroke-width="2.2" stroke-dasharray="8 2 4 2" stroke-dashoffset="11.6" fill="none"/>
<g clip-path="url(#c2)" fill="none" stroke-width="3.3" stroke-linejoin="round" stroke-linecap="round">
<path stroke="#ff0000" d="M1214.8 89l.6-13.1 .5 28.9 .6-12.6 .5-16.2 .6 24.4 .5-5.8 .6-3.9 .6-11.8 .5 25.4 .6-12.4 .5-15.7 .6-3.5 .5 25.5 .6-12.8 .6 6 .5-5 .6-9.5 .5 28.6 .6-7.2 .5-6.2 .6 18.2 .5-3.7 .6-19.1 .6-11.9 .5 6.7 .6 9.8 .5-2.6 .6-2.9 .5 2.8 .6 18.5 .6-.7 .5-26.2 .6 20.1 .5-24.3 .6 4.7 .5 16.9 .6-5.8 .6-5.4 .5 10.5 .6 1.8 .5-16.7 .6-.2 .5-1.6 .6 22.1 .6-13.6 .5 .7 .6-9.4 .5 11.7 .6 6.5 .5-14.8 .6 17.2 .6-5.1 .5-8.3 .6-9.1 .5 27.5 .6-8.4 .5-2 .6 11.5 .5-24.6 .6 10.2 .6 .5 .5-.5 .6 17.3 .5-1.4 .6-26.1 .5 10.4 .6-16.3 .6-10.1 .5 9.3 .6 12.6 .5-25.5 .6 19.4 .5 4.5 .6-6.4 .6-3.6 .5 6.6 .6 14.6 .5-7.7 .6 16 .5-11.7 .6 4.9 .6 4.9 .5-18.4 .6 .2 .5 9.9 .6 1.2 .5-8 .6-9.2 .6-3.2 .5 19.3 .6-10.4 .5-1.4 .6 19.8 .5-11 .6 12 .5-11.3 .6-7.4 .6 4.1 .5-4.7 .6 8.8 .5 12 .6-13.4 .5-16.2 .6 24.2 .6-32.5 .5 19.3 .6 1.8 .5 4.2 .6-20.4 .5 40.9 .6-29.1 .6-10.8 .5 14 .6-3.5 .5-16.9 .6 32.2 .5-15.1 .6 15.2 .6-9.5 .5-10.8 .6 19.4 .5-8.3 .6 16.9 .5-5.1 .6-7.2 .6-.1 .5 7.3 .6-2.9 .5-7.9 .6-.3 .5-2.8 .6-29 .5 19.3 .6 12 .6-33.9 .5 23.5 .6 17.3 .5-5.1 .6 3.5 .5-19.8 .6-1.2 .6 30.7 .5-4.1 .6-13.8 .5 9 .6-5.9 .5-.1 .6-12.1 .6-1 .5 5.7 .6 19.6 .5-5.9 .6 2.1 .5-8.3 .6-1.6 .6 2 .5-8.9 .6 7.6 .5 9.3 .6-13.8 .5 5 .6 1.5 .6 .1 .5 5.8 .6-11.3 .5 11 .6-30.1 .5 11.1 .6 .8 .5 18.1 .6-10 .6 12.8 .5-1.9 .6-15.7 .5-9.7 .6 10.7 .5-1.1 .6 15.8 .6 8.8 .5-41 .6 31.2 .5-2.6 .6-7 .5 19.2 .6-2.7 .6-14.1 .5 10.9 .6-10.3 .5-13.6 .6 4 .5-.3 .6-4.3 .6 23.4 .5-11.2 .6-25.1 .5 10.2 .6 16.4 .5 15.2 .6-13.3 .5-7.5 .6 15.4 .6-23.2 .5 26.3 .6-4.5 .5-4.1 .6-6 .5 2.2 .6-26.1 .6 44.8 .5-15.3 .6 .9 .5 16.6 .6-13.4 .5-2.1 .6-5.9 .6-16.2 .5-10.7 .6 22.4 .5-5.1 .6 10.7 .5 15.3 .6-11 .6-6.1 .5-25.8 .6 22.3 .5 6.6 .6-7.5 .5-3.6 .6 9.2 .6-6 .5 26.6 .6-17 .5-1.6 .6-8 .5-.1 .6-.2 .5 7.8 .6 2.6 .6 6.6 .5-9.7 .6 8 .5 10.8 .6-26.2 .5 6.6 .6-13.8 .6 12.2 .5 6.6 .6 3.7 .5 10.1 .6-25.8 .5-15.2 .6 27.2 .6-5.5 .5 3.5 .6 6.4 .5-3.4 .6-20 .5 5.4 .6 19.4 .6-9.4 .5 15.3 .6 2.2 .5-3.3 .6-23.7 .5 3.9 .6 6.9 .6-17.5 .5 2.1 .6 11.3 .5 16.8 .6-8.3 .5-3.8 .6-13.2 .5 1.6 .6 .1 .6 22.1 .5 2 .6-29.3 .5 18.5 .6-7.9 .5 15.1 .6 4 .6-.3 .5-16.4 .6-20.8 .5 28.1 .6 4.2 .5-3.4 .6 14.4 .6-8.1 .5-4.3 .6-8.9 .5-4.6 .6-7.4 .5 7.5 .6-7.3 .6 4.2 .5 9.5 .6 12.7 .5-19.9 .6 9.2 .5-2.4 .6-4.6 .6 9.1 .5-5.7 .6 .6 .5-2.1 .6 9.2 .5 16.9 .6-9.5 .5-18.3 .6 2.4 .6-10.4 .5-9.5 .6 13.4 .5 10.9 .6-5.8 .5 12.3 .6-23.2 .6 14.3 .5 13.7 .6-21.1 .5 5.4 .6-11.1 .5 13.7 .6 .9 .6-9.8 .5-11.8 .6 29.5 .5-.9 .6-.2 .5 1.1 .6 19.5 .6-12.8 .5-10.4 .6 1.3 .5-10.3 .6 8.9 .5-18.1 .6-.2 .6 6.2 .5-7.1 .6-3.9 .5 23.5 .6-12 .5 17.5 .6-25.4 .5 3.5 .6 21.1 .6-17.8 .5 3.1 .6 5.1 .5-1.1 .6 3.2 .5 13.1 .6-31.3 .6 27.6 .5-2.4 .6-23.4 .5 25.3 .6-12.6 .5 2 .6 4.3 .6-1.4 .5-4.2 .6 3.3 .5 3.4 .6-20.8 .5 17 .6-6.5 .6 8.2 .5-13.5 .6 3.8 .5 5.8 .6 12.2 .5-16.4 .6 2.6 .6-8.6 .5 .2 .6 3.8 .5 11 .6 13 .5-21.9 .6-4.9 .5 24.2 .6-17.6 .6-4.9 .5 6.8 .6-13.5 .5 13.5 .6 7.9 .5-7.9 .6-.2 .6-8.7 .5-3.6 .6 11.8 .5 29.7 .6-37.6 .5 15.8 .6-1.4 .6-7.9 .5 12.3 .6-28 .5 25.4 .6-13.1 .5-8.3 .6 7.9 .6 5.8 .5-6.9 .6-3.3 .5-6.8 .6 15.5 .5 18.5 .6-16.5 .6-2.6 .5 4.9 .6-5.7 .5-5.1 .6 1.4 .5-3.7 .6-1 .5 3.3 .6 8.1 .6-3.2 .5 2.8 .6-2.7 .5 2 .6 1.3 .5 1 .6-2.1 .6-3 .5 .2 .6 6.3 .5-6.9 .6 4.2 .5-6.8 .6 .2 .6-.2 .5-6.2 .6-12.3 .5 17.3 .6 4.5 .5 9.4 .6-17.9 .6 4.1 .5-1.9 .6 4.1 .5-18.6 .6 17.6 .5 10.9 .6 15.2 .6-32.1 .5 1.1 .6 3.6 .5 4.8 .6-5 .5 4.6 .6-17.3 .5 16.3 .6 25.1 .6-21.2 .5-.7 .6 19.6 .5-24 .6 5.4 .5-7.3 .6-.3 .6-4.1 .5-4.1 .6 21 .5 15.3 .6 5.5 .5-37 .6 0 .6-7 .5 14 .6 .8 .5-4.6 .6-14.7 .5-5 .6 23.1 .6 8.5 .5 8.7 .6 10.1 .5-37.6 .6 15.1 .5-17.6 .6 4 .6 .5 .5 7.9 .6 2.8 .5 5.9 .6-4.2 .5-1.6 .6-2.2 .5-3.5 .6-4.2 .6 24.8 .5-16.4 .6 8 .5-16.6 .6-3.2 .5-2.1 .6 21.3 .6-18.1 .5 16.1 .6-2.9 .5 6.2 .6-15.5 .5 15.8 .6-.8 .6 18.4 .5-19.8 .6-14.4 .5-10.1 .6 15.4 .5 2.9 .6 10.2 .6-19.6 .5-15.4 .6 13.9 .5 21.1 .6-2.5 .5-10 .6-.6 .5-7.2 .6 14.3 .6-5.2 .5 6.9 .6-12.2 .5-.9 .6 15.9 .5 6.6 .6-17.6 .6-.6 .5-9.8 .6-6 .5 18.3 .6-14.9 .5 3.1 .6 18.9 .6 11 .5-11 .6-.7 .5-13.2 .6 4.9 .5-4 .6 10.6 .6-1.2 .5 8.3 .6 3.2 .5-27.2 .6 13.4 .5 17.3 .6-10.9 .6-15.1 .5 7.5 .6-4.3 .5 2 .6-7.1 .5 5.8 .6-13.8 .5 17 .6-14.5 .6 10 .5 .4 .6-3.9 .5 12.1 .6-17.8 .5 20.8 .6-.5 .6-1.4 .5-12 .6 3.9 .5-13.2 .6-.5 .5 25.1 .6-1.1 .6 5.7 .5-12.8 .6 19.2 .5 1.2 .6-3 .5-18.6 .6-3.5 .6-11 .5 8.6 .6 4.2 .5-9 .6 6.9 .5 7.9 .6-15.8 .6 24.1 .5-12.4 .6 2.3 .5-1.2 .6 5 .5 4 .6-19.6 .5 18.8 .6-3.1 .6-3.6 .5 1.6 .6-.1 .5-2.5 .6-1 .5 7.5 .6-2.3 .6 7.1 .5-17.3 .6-2.7 .5-2.5 .6 9.1 .5 13.9 .6-45.7 .6 16.7 .5 .8 .6 26.4 .5-34.2 .6 19.1 .5 2 .6 9.9 .6-9.7 .5 15.5 .6-15.3 .5 5.1 .6-1.7 .5 28.5 .6-23.8 .6 14.6 .5 10.2 .6-34.8 .5 0 .6 7.9 .5-3.2 .6 1.1 .5-21.6 .6-1.8 .6 2.7 .5 5.2 .6 2.2 .5-8.2 .6 24.3 .5-.3 .6 2.3 .6-3.3 .5 .2 .6 17 .5-19.6 .6 2.9 .5 5.2 .6-2.6 .6 .8 .5 6.1 .6-1.5 .5-33.3 .6 1.3 .5-.1 .6 28 .6-19.5 .5 18.8 .6-10.5 .5-.4 .6 .2 .5-2.6 .6 5.6 .6 18.3 .5-21.2 .6-1.5 .5 10.2 .6 8.4 .5-9.2 .6 11.1 .5-11.8 .6-9.4 .6-6.7 .5-2.2 .6 18 .5-6.8 .6 10.3 .5-21.5 .6 7.9 .6 16.9 .5 1 .6 .1 .5-8.6 .6-11.1 .5 .2 .6-4.7"/>
<path stroke="#00ff00" d="M1214.8 92l.6-14.9 .5 25.9 .6-15.5 .5-17.6 .6 24.5 .5-2.6 .6-1.2 .6-11 .5 26.3 .6-12 .5-16.8 .6-2.6 .5 28 .6-12.1 .6 3.3 .5-7.7 .6-9.2 .5 29.2 .6-8.2 .5-6.1 .6 19.1 .5-3.5 .6-17.7 .6-10.5 .5 4.3 .6 6.4 .5-3.4 .6-2.9 .5 3.9 .6 19.8 .6-1.2 .5-24.4 .6 22.1 .5-24.7 .6 4.6 .5 14.9 .6-7.8 .6-5.5 .5 11.9 .6 5.1 .5-14.8 .6-2.6 .5-5.9 .6 19.9 .6-12.3 .5 1.7 .6-9.7 .5 12.6 .6 8.3 .5-10.8 .6 19.5 .6-7.7 .5-12.3 .6-13.7 .5 27 .6-4.8 .5 .2 .6 12.4 .5-23.6 .6 10.8 .6 .8 .5-3.7 .6 13.7 .5-.4 .6-25.3 .5 10.6 .6-12.7 .6-8.1 .5 6.3 .6 8.4 .5-27.1 .6 21 .5 6.9 .6-6.8 .6-2.4 .5 8.9 .6 14.7 .5-9 .6 15.1 .5-11.9 .6 4.4 .6 3.4 .5-20.5 .6 .2 .5 12.3 .6 2.7 .5-7.7 .6-8.9 .6-4.2 .5 18.9 .6-9.8 .5-3 .6 19.5 .5-8.4 .6 11.6 .5-13.2 .6-7.6 .6 4.8 .5-4.3 .6 9.8 .5 13.6 .6-11.4 .5-15.6 .6 23.6 .6-34 .5 17.4 .6 0 .5 1.9 .6-22.6 .5 41.2 .6-25 .6-8.4 .5 12.7 .6-3.8 .5-15 .6 31.7 .5-18.4 .6 15.5 .6-7 .5-9 .6 21.2 .5-5.9 .6 16.1 .5-8.2 .6-8 .6 1.8 .5 5.3 .6-6.4 .5-7 .6-.1 .5-5.2 .6-30.2 .5 20 .6 14.1 .6-32.7 .5 22.7 .6 14.8 .5-6.7 .6 6.9 .5-13.2 .6 3.6 .6 30.4 .5-7.3 .6-18.2 .5 5.8 .6-7.8 .5-1.6 .6-13.1 .6 2 .5 10.2 .6 22 .5-5 .6 1.2 .5-8.7 .6-2.4 .6-.4 .5-11.1 .6 7.3 .5 9.7 .6-13.8 .5 5 .6 .7 .6-1.7 .5 5.2 .6-9.8 .5 12.3 .6-28.5 .5 11.9 .6 1.2 .5 19.8 .6-9.1 .6 12.4 .5-.7 .6-16.2 .5-11.1 .6 10.8 .5-2.8 .6 13.6 .6 9.1 .5-40.1 .6 30.3 .5-4.4 .6-7.3 .5 22.3 .6-.1 .6-15.3 .5 9.8 .6-9.3 .5-11.3 .6 4.2 .5 .3 .6-2.1 .6 21.7 .5-18.2 .6-30.9 .5 10.1 .6 21 .5 18.9 .6-13 .5-7.5 .6 15.7 .6-23.9 .5 26.2 .6-3.4 .5-3.7 .6-7.3 .5 1.7 .6-25.3 .6 44.7 .5-16.2 .6 1.3 .5 18.1 .6-12.1 .5 .6 .6-4.8 .6-20.5 .5-16.3 .6 19.5 .5-5.6 .6 12.9 .5 18.6 .6-7.3 .6-3.2 .5-25.5 .6 19.4 .5 2.4 .6-9.5 .5-3.4 .6 10.4 .6-3.6 .5 31 .6-14.7 .5-4.4 .6-11.3 .5-.4 .6-.5 .5 6.8 .6 2.8 .6 6.8 .5-9.9 .6 9.4 .5 13.8 .6-26.1 .5 3.8 .6-16.1 .6 9.4 .5 5.6 .6 5.3 .5 14.2 .6-24 .5-16.4 .6 25.7 .6-7.3 .5 4 .6 7.1 .5-4.8 .6-19 .5 7.7 .6 18.4 .6-12.5 .5 15.8 .6 5.2 .5-2.7 .6-21.9 .5 7.2 .6 8.5 .6-18.7 .5-1 .6 9.9 .5 14.9 .6-10 .5-2.1 .6-10.3 .5 2.1 .6-2.3 .6 18.6 .5 1.7 .6-28.3 .5 15.5 .6-9.5 .5 19.6 .6 7.3 .6-.3 .5-17 .6-23 .5 26.2 .6 6.1 .5 .2 .6 13.9 .6-10.1 .5-5.4 .6-10.3 .5-6.5 .6-4.8 .5 11.2 .6-5.7 .6 5.6 .5 10.4 .6 11.3 .5-21.3 .6 8.7 .5-2.5 .6-6.7 .6 6.4 .5-7.1 .6 1.3 .5-.6 .6 8.8 .5 15 .6-11.2 .5-17.3 .6 6.8 .6-6 .5-7.5 .6 12.5 .5 9 .6-5.6 .5 16.1 .6-22 .6 12.7 .5 10.4 .6-25 .5 3.7 .6-11.2 .5 12.5 .6-.9 .6-8.3 .5-7.6 .6 29.9 .5-4.1 .6-1.8 .5 1.7 .6 19.5 .6-11.7 .5-8 .6 3 .5-9.7 .6 7.7 .5-19.2 .6-1.2 .6 4.9 .5-6.3 .6-3.9 .5 22.4 .6-11.8 .5 20.6 .6-21.7 .5 3.2 .6 19.4 .6-18 .5 .9 .6 2.5 .5-1.1 .6 5.1 .5 15.1 .6-29.5 .6 27.7 .5-6.4 .6-25.6 .5 27 .6-11.7 .5 1.6 .6 4.6 .6-1.6 .5-4.1 .6 6 .5 5.7 .6-21.9 .5 14.2 .6-5.4 .6 10.7 .5-15.1 .6 1.1 .5 6.1 .6 9.5 .5-19.1 .6 3.5 .6-7.3 .5 .9 .6 4.1 .5 11.7 .6 14 .5-21 .6-3.7 .5 26.9 .6-15.7 .6-4.9 .5 6.9 .6-16.4 .5 8.3 .6 4.4 .5-7.2 .6 2.2 .6-10.2 .5-5.9 .6 13.2 .5 32.5 .6-37.2 .5 14.6 .6-.3 .6-3.8 .5 14.1 .6-28.2 .5 23.9 .6-15.7 .5-8.2 .6 10.5 .6 4.8 .5-8.9 .6-1.3 .5-4.2 .6 13.9 .5 15.3 .6-18 .6-3.3 .5 3 .6-4.8 .5-1 .6 3.5 .5-4.7 .6-1.8 .5 2.8 .6 5.3 .6-7.3 .5 1.8 .6 2 .5 5.9 .6 .6 .5-.9 .6-1 .6-.2 .5-.3 .6 4.2 .5-6.5 .6 3.5 .5-6.8 .6 2.5 .6 .8 .5-5.7 .6-12.7 .5 16.4 .6 3.1 .5 9 .6-17.4 .6 3.4 .5-2.7 .6 4.6 .5-19.2 .6 15.4 .5 9.7 .6 14.5 .6-30.7 .5 3.7 .6 4.5 .5 4.6 .6-3.8 .5 6.7 .6-16 .5 15 .6 21.9 .6-22.5 .5 1 .6 22 .5-23.7 .6 3.3 .5-9.4 .6-1.3 .6-2.6 .5-2.1 .6 18.9 .5 14.4 .6 8 .5-32.7 .6 2 .6-9.7 .5 9.2 .6-2.5 .5-3 .6-12.2 .5-4.3 .6 23.4 .6 7.1 .5 6 .6 9.7 .5-35.5 .6 14.8 .5-19.2 .6 5.4 .6 2.1 .5 8.3 .6 3.2 .5 5.4 .6-5.6 .5-2.2 .6-1.6 .5-3.2 .6-4.1 .6 24.5 .5-16.1 .6 10 .5-15.9 .6-5.4 .5-3.4 .6 23.6 .6-17.3 .5 14.3 .6-2.9 .5 6.2 .6-13.5 .5 18.3 .6-.3 .6 16.6 .5-22.2 .6-17.1 .5-11.3 .6 15.8 .5 3 .6 10.1 .6-18.4 .5-14.1 .6 15 .5 21.1 .6-4.4 .5-11.6 .6 .6 .5-5.4 .6 15.2 .6-4.5 .5 9.2 .6-11.4 .5-3.1 .6 14.6 .5 6 .6-18.7 .6 .6 .5-6.4 .6-5.5 .5 14.3 .6-18.7 .5 2.1 .6 19.6 .6 10.7 .5-11.9 .6 0 .5-10.8 .6 6.5 .5-1.4 .6 12.1 .6-4 .5 7.2 .6 3.7 .5-29.8 .6 11.4 .5 19.3 .6-9.2 .6-14 .5 6.7 .6-6.1 .5 1.7 .6-7.8 .5 6.8 .6-13.3 .5 18.4 .6-11.9 .6 9.6 .5-.8 .6-2.1 .5 14.4 .6-17.7 .5 18.3 .6-2.7 .6-1.8 .5-13 .6 2.5 .5-12.9 .6 1.6 .5 26.1 .6-3 .6 3 .5-13.7 .6 19.2 .5 1.8 .6-2 .5-16.9 .6-1.2 .6-10.6 .5 5.7 .6 1.7 .5-7.5 .6 10.9 .5 8.2 .6-16.4 .6 25.1 .5-13 .6-1 .5-4.8 .6 2.5 .5 4.9 .6-15.8 .5 23.1 .6-1.1 .6-3 .5-.7 .6-2.3 .5-1.4 .6-.1 .5 6 .6-3.2 .6 7.8 .5-15.5 .6-1.7 .5-4.4 .6 4.8 .5 11.3 .6-44.6 .6 19.6 .5 4.2 .6 30.4 .5-32.3 .6 16.6 .5-.8 .6 9.9 .6-10.4 .5 13.1 .6-18.8 .5 4.5 .6-1.3 .5 26.9 .6-22.8 .6 17 .5 12.5 .6-31.4 .5 1 .6 8.3 .5-2.4 .6-.1 .5-23.6 .6-4 .6 1.4 .5 4.2 .6 1.4 .5-8 .6 26.4 .5 1.9 .6 3.6 .6-3.8 .5-.6 .6 16.1 .5-20.9 .6 3.3 .5 6.9 .6-3 .6-.6 .5 6 .6-.5 .5-30.9 .6 1.8 .5-2.1 .6 26.3 .6-20 .5 18.8 .6-9.9 .5 .9 .6 1 .5-3.4 .6 4.4 .6 19.1 .5-21.3 .6-1.7 .5 12.6 .6 8 .5-11.6 .6 10 .5-13.8 .6-8.3 .6-3.9 .5-3.1 .6 17.2 .5-4.4 .6 11.6 .5-23.3 .6 6.7 .6 17.8 .5 .9 .6-1.3 .5-10.3 .6-10.6 .5 3.3 .6-2.2"/>
<path stroke="#0000ff" d="M1214.8 90.7l.6-9.5 .5 26.5 .6-19.1 .5-19.5 .6 26.9 .5 .1 .6-1.1 .6-13.7 .5 23.2 .6-11.6 .5-13.7 .6-3.2 .5 25 .6-12.5 .6 4 .5-10 .6-10.9 .5 32.7 .6-3.9 .5-8.7 .6 14.1 .5-3.1 .6-13.6 .6-8.7 .5 4.6 .6 6.2 .5-5.6 .6-5.5 .5 4.3 .6 22.3 .6-.3 .5-25.7 .6 22.6 .5-23.4 .6 3.7 .5 14 .6-7.8 .6-4.7 .5 11.2 .6 3.4 .5-15 .6 .1 .5-3.7 .6 19.9 .6-14.3 .5 2.1 .6-7.6 .5 13.3 .6 6.7 .5-14.2 .6 18.2 .6-5.2 .5-9.8 .6-11.1 .5 25.6 .6-9.7 .5 0 .6 15.6 .5-24.6 .6 8.3 .6-.8 .5-1.2 .6 16.5 .5-1.2 .6-26 .5 9.6 .6-14.1 .6-7.8 .5 8.6 .6 9.1 .5-29.1 .6 19.6 .5 6.7 .6-6.1 .6-.4 .5 10.6 .6 12.5 .5-11.2 .6 17 .5-9.8 .6 4.7 .6 5.3 .5-16.4 .6 1.3 .5 9.9 .6-.6 .5-9.9 .6-10.3 .6-4.5 .5 19.2 .6-9.5 .5-2.7 .6 18 .5-12 .6 11.2 .5-10.9 .6-5.8 .6 6.6 .5-3.2 .6 8.6 .5 10.7 .6-12.4 .5-15.1 .6 23.3 .6-34.2 .5 18.8 .6 1.8 .5 5.5 .6-18.9 .5 40.4 .6-29.5 .6-10.5 .5 15 .6-2.7 .5-16.9 .6 32.8 .5-17.2 .6 12.7 .6-8.4 .5-8.7 .6 19.4 .5-8.3 .6 17.4 .5-4.3 .6-5.8 .6 .8 .5 2.7 .6-9.3 .5-8.3 .6 2.1 .5-2.5 .6-29.2 .5 21.4 .6 13.8 .6-34.5 .5 22.3 .6 16.4 .5-7.6 .6 3.4 .5-14.2 .6 5.1 .6 31.8 .5-7.9 .6-16.9 .5 8.5 .6-5.6 .5-.7 .6-13.9 .6-1.2 .5 7.8 .6 21.6 .5-4.9 .6 1.3 .5-11 .6-4.1 .6 .9 .5-9.1 .6 8.7 .5 10.7 .6-13.1 .5 6.7 .6 1.1 .6-3.6 .5 4.9 .6-10.1 .5 12.6 .6-27.2 .5 12.5 .6-.6 .5 18.7 .6-6.9 .6 13.9 .5-4.1 .6-18.9 .5-11 .6 11.1 .5-2.2 .6 14.3 .6 9.8 .5-39.9 .6 31.2 .5-2.3 .6-5 .5 20.5 .6-4.9 .6-18.2 .5 10.5 .6-7.2 .5-11.8 .6 4.7 .5 2.4 .6-4.3 .6 19.1 .5-14.4 .6-27.2 .5 8.7 .6 19.5 .5 19.8 .6-12.8 .5-10.4 .6 15.1 .6-23.1 .5 24.8 .6-3.3 .5-1.4 .6-5.9 .5 4.5 .6-23.6 .6 40.5 .5-20.2 .6 1.3 .5 18.8 .6-11.6 .5-1.6 .6-7.1 .6-18.5 .5-12.8 .6 21.7 .5-4.1 .6 11.5 .5 15.8 .6-9.6 .6-5.3 .5-25.1 .6 22.6 .5 5.6 .6-9.2 .5-5.9 .6 9.2 .6-2.7 .5 30.4 .6-15 .5-2.1 .6-9.1 .5-.7 .6 .6 .5 8.7 .6 1.3 .6 3.4 .5-10.2 .6 10.1 .5 10.7 .6-27.6 .5 7.5 .6-12 .6 9.5 .5 1.8 .6 2.5 .5 12.2 .6-25.3 .5-13.8 .6 30.8 .6-5.3 .5 2.3 .6 8 .5-2.8 .6-22.8 .5 .6 .6 15 .6-8.3 .5 20.2 .6 4.8 .5-3.5 .6-21.4 .5 7 .6 5.7 .6-18.7 .5 2.4 .6 11.2 .5 14.7 .6-8.5 .5-1.7 .6-12 .5 2.4 .6 .4 .6 20.4 .5-.5 .6-32.3 .5 16.5 .6-6.8 .5 18.1 .6 4.8 .6-1 .5-15.8 .6-21.2 .5 25.1 .6 1.6 .5-1.2 .6 15.5 .6-8.9 .5-2.6 .6-6.6 .5-4.9 .6-7.2 .5 6.9 .6-8.3 .6 5.5 .5 10.8 .6 13.3 .5-21.1 .6 7.8 .5-.5 .6-4.2 .6 7.8 .5-5 .6 1.2 .5-4.1 .6 6.4 .5 18.6 .6-7.5 .5-19.4 .6 1.2 .6-12.5 .5-12.4 .6 13.6 .5 14.3 .6-1.5 .5 17 .6-22.1 .6 13.2 .5 12.6 .6-20.7 .5 6.6 .6-12.2 .5 8.5 .6-4.5 .6-8.6 .5-6.1 .6 31.4 .5-4.2 .6-3.3 .5-.8 .6 19.4 .6-12 .5-10.9 .6 .4 .5-10.3 .6 8.1 .5-17.3 .6 1.5 .6 7.4 .5-4.6 .6-2.4 .5 24 .6-10.6 .5 19.7 .6-24.4 .5 2.6 .6 20 .6-18.2 .5 2.5 .6 2.9 .5-3.9 .6 2 .5 13.7 .6-29 .6 28.2 .5-5.4 .6-25.9 .5 26.6 .6-11.7 .5 1.5 .6 4.3 .6-1.4 .5-3 .6 6.1 .5 5.8 .6-20 .5 13.7 .6-7.4 .6 11.3 .5-13 .6 .3 .5 2.8 .6 10.4 .5-17.4 .6 3.2 .6-6.5 .5 1.9 .6 4.7 .5 12.2 .6 12.1 .5-23.3 .6-4.6 .5 26.7 .6-15.2 .6-3.8 .5 6.5 .6-15.5 .5 12.3 .6 7.3 .5-7.7 .6 .1 .6-11.2 .5-6.6 .6 12.2 .5 32.3 .6-35.6 .5 15.5 .6-3.2 .6-7.3 .5 13.6 .6-26.5 .5 24.8 .6-15.5 .5-9.9 .6 9.5 .6 7.2 .5-6.8 .6-2.6 .5-6.8 .6 15.6 .5 19.1 .6-17.3 .6-5.3 .5 76.6 .6 70.7 .5 72.3 .6 9.4 .5 1.6 .6-6.8 .5 .1 .6 7.8 .6 4.7 .5 9.7 .6 7.6 .5 12.3 .6-7.5 .5-8.5 .6-8.8 .6-26.7 .5-27.9 .6-23.4 .5-32.3 .6-17.4 .5-27.4 .6-22.3 .6-26.1 .5-17.7 .6-22.2 .5 27.1 .6 13.5 .5 16.8 .6-28.4 .6-6.4 .5-11 .6-3.2 .5-19.5 .6 15.1 .5 6.1 .6 11.4 .6-33.2 .5 2.1 .6 4 .5 6 .6-3.1 .5 6.4 .6-15.7 .5 14.7 .6 21.3 .6-22.6 .5 2.3 .6 23.8 .5-22.5 .6 2.6 .5-11.6 .6-2.3 .6-2.6 .5-1.5 .6 20.9 .5 14 .6 6.2 .5-34.6 .6 .5 .6-8.6 .5 10.4 .6-1.5 .5-1.4 .6-10.7 .5-4.8 .6 22.5 .6 8.5 .5 6.9 .6 9.5 .5-36.9 .6 15.4 .5-17.9 .6 3.4 .6 1.6 .5 10.8 .6 5.4 .5 3.2 .6-9.5 .5-3.1 .6-2.8 .5-4.6 .6-2.5 .6 26.1 .5-15.4 .6 9.8 .5-18.5 .6-5.7 .5 1.1 .6 26.2 .6-17.7 .5 13.6 .6-3.2 .5 4.3 .6-18.5 .5 15.9 .6 1 .6 19.6 .5-17.9 .6-15.2 .5-9.7 .6 16.5 .5 .9 .6 9.6 .6-19.6 .5-17.8 .6 14.5 .5 23.2 .6-2.5 .5-10.2 .6-.6 .5-7 .6 15 .6-4.8 .5 8.8 .6-11.8 .5-4.7 .6 13.5 .5 8.9 .6-15.1 .6-2.7 .5-12.5 .6-7.8 .5 17.5 .6-13.2 .5 5 .6 19.5 .6 9.9 .5-11.6 .6 2 .5-9 .6 5.5 .5-6.6 .6 9.9 .6-.8 .5 10.1 .6 3.9 .5-30.5 .6 7.9 .5 15.1 .6-7 .6-9.4 .5 5.9 .6-7.5 .5 3.4 .6-6.7 .5 5.5 .6-15 .5 16.7 .6-13 .6 11.9 .5 3 .6-5.1 .5 7.4 .6-19.1 .5 19.6 .6-.4 .6 1.3 .5-11.1 .6 4.9 .5-11 .6-.7 .5 22.1 .6-2.5 .6 4.5 .5-15.3 .6 20.6 .5 7.4 .6 1.9 .5-18.3 .6-5.3 .6-14.4 .5 4.7 .6 2.9 .5-7.9 .6 9.5 .5 6.2 .6-18.3 .6 25.1 .5-11.2 .6 .2 .5-3.7 .6 5.2 .5 5.2 .6-18.4 .5 23.7 .6 1 .6-4.6 .5-2.4 .6-2.3 .5 .5 .6 1.9 .5 6.9 .6-3.4 .6 7.8 .5-18.1 .6-4.2 .5-3.8 .6 6.7 .5 13.3 .6-43.9 .6 19 .5 2 .6 27.6 .5-34.2 .6 16.5 .5-.1 .6 10 .6-10.6 .5 13.7 .6-16.6 .5 4.7 .6-.2 .5 31.5 .6-23.7 .6 14.8 .5 13.3 .6-30.7 .5 2.4 .6 8.4 .5-6.1 .6-3.8 .5-26.2 .6-3.7 .6 3.8 .5 7.2 .6 3.1 .5-6.9 .6 24.2 .5-3.1 .6 .9 .6-.7 .5 5.2 .6 19.6 .5-19.8 .6 1.7 .5 3 .6-5.8 .6-2.3 .5 5.1 .6 0 .5-31.4 .6 1.3 .5 1.1 .6 29.5 .6-18.2 .5 18.7 .6-13.7 .5-1.9 .6 1.1 .5-2.3 .6 7 .6 20.5 .5-21.9 .6-3.4 .5 10.5 .6 11.1 .5-7.9 .6 6.9 .5-17 .6-8 .6-3.5 .5-2.2 .6 17.4 .5-4.8 .6 12.5 .5-23.7 .6 4.8 .6 15.2 .5 2.5 .6 3.8 .5-8.4 .6-12.5 .5 .6 .6-2.5"/>
<path stroke="#ffff00" d="M1214.8 92.5l.6-9.8 .5 29.4 .6-15.5 .5-20.3 .6 20.4 .5-4.9 .6-1.2 .6-12 .5 24.5 .6-10.7 .5-14.6 .6-4.4 .5 25.6 .6-9.2 .6 6.3 .5-34.4 .6-9.7 .5 31.2 .6 21.1 .5-7.7 .6 14.5 .5-3.2 .6-16.4 .6-11.1 .5 4.2 .6 6.3 .5-2 .6 .4 .5 4.3 .6 17.6 .6-1.3 .5-22.8 .6 21.2 .5-28.4 .6 2 .5 14.8 .6-7.6 .6-3.3 .5 13 .6 3.8 .5-15 .6-.6 .5-4.7 .6 18.2 .6-14.1 .5 3.9 .6-7.3 .5 10.6 .6 4.9 .5-13.4 .6 17.5 .6-7.1 .5-7.2 .6-6.6 .5 28 .6-8.3 .5-2 .6 14.6 .5-20.8 .6 8.4 .6-3.6 .5-2.6 .6 16.7 .5-2.4 .6-27.2 .5 10.9 .6-13.3 .6-8.1 .5 7.4 .6 6 .5-27.7 .6 24.3 .5 5.6 .6-8.9 .6 0 .5 13.1 .6 14.4 .5-11.3 .6 13.6 .5-11.5 .6 3.8 .6 1.1 .5-21.9 .6 2.2 .5 16.8 .6 4.8 .5-7.9 .6-9.4 .6-3.6 .5 19 .6-12.9 .5-6.1 .6 19.7 .5-4.7 .6 14.7 .5-12.7 .6-8.5 .6 1.1 .5-6.6 .6 12 .5 13.7 .6-14.2 .5-19.2 .6 20 .6-32.3 .5 22 .6 1.3 .5 5.9 .6-17.7 .5 38.9 .6-30.9 .6-10.6 .5 14 .6-1.7 .5-15.9 .6 32.9 .5-15.8 .6 13.8 .6-9.7 .5-10.9 .6 19.9 .5-6.6 .6 17.3 .5-4.4 .6-4.7 .6-.3 .5 3.1 .6-6 .5-6.5 .6 1.8 .5-3.4 .6-30.1 .5 19.1 .6 13.6 .6-33.6 .5 20.7 .6 17.2 .5-1.3 .6 6.9 .5-18.4 .6-2.6 .6 26.9 .5-7.2 .6-12.5 .5 9.7 .6-7.9 .5-1.8 .6-13 .6 2.3 .5 9.5 .6 19.4 .5-5.4 .6 2.2 .5-10.3 .6-2 .6 2.4 .5-11.5 .6 4 .5 9.3 .6-10.6 .5 9 .6 2 .6-3.9 .5 2.8 .6-10.9 .5 11.7 .6-29.4 .5 11 .6 2.5 .5 21 .6-5.9 .6 17.6 .5 .1 .6-21.1 .5-18.7 .6 6.7 .5-1.3 .6 15.8 .6 12.5 .5-36.3 .6 30.3 .5-6.4 .6-8.6 .5 20.6 .6 0 .6-13.3 .5 11.6 .6-9.4 .5-11.8 .6 5.7 .5-1.2 .6-7.1 .6 18.6 .5-14 .6-26.9 .5 11.1 .6 18.7 .5 12.5 .6-13.9 .5-3.1 .6 24.3 .6-23.6 .5 27.7 .6-.8 .5-2.9 .6-7.9 .5 2 .6-25.5 .6 44.6 .5-19.1 .6-4.5 .5 16 .6-10.1 .5-2.1 .6-6.4 .6-15.4 .5-11.3 .6 21.5 .5-6 .6 10.6 .5 16.2 .6-9.4 .6-3.7 .5-21.9 .6 21.6 .5 .1 .6-10.6 .5-2.2 .6 10.9 .6-4.2 .5 27.4 .6-17.2 .5 .1 .6-6.9 .5-1 .6-2.1 .5 5.2 .6 3.4 .6 8.6 .5-9.3 .6 9.4 .5 11.8 .6-28.5 .5 4.2 .6-13.6 .6 11.2 .5 4 .6 2.4 .5 11.4 .6-24.1 .5-12.4 .6 30.8 .6-6.4 .5 .2 .6 6.4 .5-.7 .6-18 .5 5 .6 17.3 .6-8.6 .5 17.1 .6 0 .5-6.9 .6-23.7 .5 4.2 .6 5 .6-17.4 .5 4.4 .6 14.6 .5 16.7 .6-9.3 .5-4.6 .6-13.3 .5 2.4 .6 .7 .6 20.2 .5 0 .6-29.8 .5 16.9 .6-8 .5 17.4 .6 2.3 .6 .3 .5-12.8 .6-20.8 .5 25.4 .6 3.5 .5-.1 .6 17.2 .6-8.6 .5-4.4 .6-9.6 .5-6.3 .6-5.1 .5 7.9 .6-10.9 .6 2.8 .5 10.9 .6 16.2 .5-18.7 .6 4.7 .5-4.4 .6-4.8 .6 8.5 .5-5.2 .6 .6 .5-3.1 .6 8.3 .5 18.1 .6-6.9 .5-17.7 .6 1.5 .6-8.2 .5-6.9 .6 14.2 .5 10.3 .6-5.8 .5 14.7 .6-23.7 .6 12.3 .5 10 .6-24.2 .5 2.4 .6-10.6 .5 18.1 .6 1.8 .6-10.2 .5-9.5 .6 28.9 .5-2.4 .6 1.8 .5 1.2 .6 17.9 .6-11.9 .5-9 .6 2.7 .5-12.1 .6 2.9 .5-21.4 .6 .6 .6 8.9 .5-1.4 .6 .3 .5 23.1 .6-16.7 .5 13.6 .6-24.5 .5 3.4 .6 22.1 .6-16.7 .5 .9 .6 3.9 .5 1.8 .6 7.4 .5 15.5 .6-28.9 .6 25.2 .5-7.2 .6-25.4 .5 22.8 .6-15.3 .5 2.5 .6 6 .6-.1 .5-2.3 .6 5.9 .5 3.2 .6-22.5 .5 17.5 .6-5 .6 9.4 .5-14.4 .6 .6 .5 4.9 .6 10.2 .5-18.8 .6 4.4 .6-3.4 .5 1.5 .6-.2 .5 7.9 .6 14.4 .5-19.3 .6-3.8 .5 25 .6-17 .6-4.5 .5 7.4 .6-14.9 .5 13.3 .6 7.3 .5-8.5 .6 2.3 .6-8.8 .5-5.9 .6 12.3 .5 30.2 .6-38.5 .5 14.8 .6-1.1 .6-6.4 .5 12 .6-28.2 .5 25.6 .6-12.1 .5-8.4 .6 8.3 .6 3.9 .5-12.3 .6-6.1 .5-2.6 .6 22.4 .5 20.9 .6-19.2 .6-5.1 .5 1.8 .6-7.1 .5 .6 .6 7.9 .5-7.9 .6-4.5 .5-1 .6 6 .6-5.3 .5 2.1 .6-3.4 .5 .4 .6 1.8 .5 2.6 .6 1.8 .6 1.4 .5-3 .6 0 .5-5.6 .6 7.9 .5-6.9 .6 1.4 .6 2.3 .5-4.8 .6-12.4 .5 14.4 .6 2 .5 10.3 .6-17.3 .6 2.5 .5-2.1 .6 5.4 .5-21 .6 16.5 .5 15 .6 16.4 .6-32.7 .5 0 .6 2.8 .5 5.4 .6-3.6 .5 7.1 .6-17.5 .5 14.1 .6 21.7 .6-22.6 .5 2 .6 22.1 .5-23 .6 3.8 .5-10 .6-.2 .6-1.6 .5-4 .6 18.1 .5 14.5 .6 6.8 .5-35.6 .6-.4 .6-8.2 .5 14.7 .6-.4 .5-6.3 .6-14 .5-2.9 .6 22.1 .6 5.3 .5 8.4 .6 12.2 .5-33.9 .6 17.8 .5-19.3 .6 2.1 .6 2.4 .5 11.5 .6 3.2 .5 4.8 .6-5 .5-3.5 .6-3.2 .5-3.2 .6-5.2 .6 23.4 .5-13.2 .6 10.5 .5-19.7 .6-7.9 .5-2.8 .6 23.3 .6-18.8 .5 11.9 .6-3.3 .5 10.2 .6-12.9 .5 17.8 .6 1.7 .6 18 .5-20 .6-15.7 .5-12.4 .6 14.8 .5 2.9 .6 10.8 .6-17.6 .5-12.7 .6 14.1 .5 18.7 .6-3.4 .5-12.3 .6-2 .5-6.2 .6 14.7 .6-5 .5 8.8 .6-10.3 .5-2.2 .6 13.7 .5 6.8 .6-15.9 .6-.8 .5-11.2 .6-10.6 .5 13.8 .6-15.9 .5 5.1 .6 23.1 .6 13.6 .5-11.4 .6 .7 .5-8.4 .6 8.4 .5-3.1 .6 10.8 .6-3.7 .5 3.6 .6 2.3 .5-26.8 .6 12.5 .5 17.1 .6-10.1 .6-14.5 .5 4.7 .6-5.1 .5 4.7 .6-9.5 .5 4.5 .6-12.3 .5 19.2 .6-13.5 .6 7.8 .5-.8 .6-2.7 .5 16.3 .6-14.1 .5 17.5 .6-7.3 .6-2.4 .5-12.5 .6 3.5 .5-8.9 .6 4.7 .5 26 .6-3.7 .6 2.3 .5-13.8 .6 19.7 .5 2.2 .6-3.9 .5-17.7 .6 .2 .6-12.6 .5 4 .6 4.4 .5-4.9 .6 9.8 .5 6.6 .6-16.8 .6 22.4 .5-15.8 .6-.3 .5-1.5 .6 4.8 .5 3.4 .6-20 .5 21.1 .6-.8 .6-3.3 .5 2 .6 1.8 .5-.4 .6-2.3 .5 6.7 .6 1.4 .6 7.2 .5-20.2 .6-2.8 .5-4.2 .6 4.4 .5 11.9 .6-40.9 .6 22.3 .5 4.5 .6 27.8 .5-37.3 .6 15.5 .5 2.5 .6 10.9 .6-10.7 .5 14.3 .6-15.7 .5 5.4 .6-2.7 .5 25.9 .6-28.8 .6 12.1 .5 15.2 .6-27.1 .5 2.2 .6 7.8 .5-2.4 .6-1.8 .5-24 .6-3 .6 1.5 .5 6.7 .6 2.5 .5-7.2 .6 27 .5-2.8 .6-1.6 .6-2.8 .5 4.3 .6 19.8 .5-21.8 .6 .2 .5 3.8 .6-3.9 .6 3.4 .5 9.3 .6-2.6 .5-34.9 .6 3.4 .5 1.2 .6 26 .6-21.5 .5 17.6 .6-11.6 .5 0 .6 1.7 .5-2.3 .6 6.2 .6 18.4 .5-22.5 .6-.3 .5 12.4 .6 5.8 .5-14.5 .6 12.1 .5-8.4 .6-6.6 .6-5 .5-3.4 .6 16.1 .5-7.2 .6 11.9 .5-21.9 .6 5.8 .6 17.5 .5 3.1 .6 1.3 .5-6.9 .6-10.4 .5-3.4 .6-5.9"/>
<path stroke="#00ffff" d="M1214.8 88.9l.6-10.9 .5 27.9 .6-14.6 .5-17.1 .6 26.5 .5-1.4 .6-2.8 .6-13.6 .5 24.1 .6-12.2 .5-13.8 .6-2.3 .5 27.2 .6-10.8 .6 3.3 .5-5.8 .6-1.1 .5 24.7 .6-7.6 .5-11.5 .6 19.1 .5-10.6 .6-15.4 .6-7.1 .5 14.3 .6-.1 .5-5.2 .6 5 .5 9.5 .6 6.3 .6 .3 .5-15.9 .6 27 .5-36.3 .6 7.6 .5 16.9 .6-12.5 .6-3 .5 17.9 .6 7.2 .5-28.7 .6-2.3 .5-9.8 .6 20.8 .6-12 .5 4 .6-9.8 .5 13.7 .6 12.8 .5-22.1 .6 21.3 .6 4.5 .5-11.9 .6-14.6 .5 20.9 .6-7.3 .5 2.6 .6 14 .5-6.2 .6 .4 .6-13.4 .5 2.4 .6 10.3 .5 6.8 .6-24.4 .5 7.5 .6-19.3 .6-1.2 .5 12.2 .6 7.1 .5-31.2 .6 19.1 .5 6.5 .6-.4 .6-9.9 .5 10.2 .6 18.2 .5-14.6 .6 16.1 .5-1.5 .6-5.6 .6 1.2 .5-12.8 .6-2.2 .5 10.9 .6 3.8 .5-10 .6-8.5 .6 1.7 .5 9.2 .6-16 .5-.3 .6 25.4 .5-7.7 .6 15 .5-5.1 .6-17.7 .6-.8 .5 5.5 .6 15.5 .5 .6 .6-5.2 .5-26.3 .6 26.4 .6-37.7 .5 22.5 .6 7.6 .5 1.5 .6-25.9 .5 39.4 .6-19.5 .6-17.3 .5 14.7 .6-3.4 .5-10.1 .6 25.1 .5-16.3 .6 18.4 .6-11.3 .5-10.4 .6 20.7 .5-11.9 .6 21.3 .5-2.4 .6 .9 .6 .8 .5-5.4 .6-4.1 .5-8.2 .6 8.6 .5 9 .6-41.8 .5 14 .6 13.3 .6-32.7 .5 18.3 .6 14.7 .5-2.7 .6 7.2 .5-23.4 .6 8.6 .6 31.3 .5-13.2 .6-8.6 .5 7.9 .6-14.7 .5-.7 .6-9.8 .6 12.4 .5-7.6 .6 23.8 .5 8.7 .6-8.8 .5-13.2 .6 4.1 .6-1.9 .5-16.9 .6 7.3 .5 22.6 .6-18 .5 4.5 .6-.4 .6 8.2 .5 4.9 .6-22.2 .5 9.9 .6-11 .5-.8 .6 13.1 .5 16.3 .6-11.8 .6 7.8 .5 2.1 .6-19.2 .5-20.2 .6 7.5 .5 9.4 .6 14.4 .6 15.4 .5-36 .6 27.7 .5 9 .6-31.6 .5 20.9 .6-2.7 .6-12.7 .5 12.2 .6-3.7 .5-14.7 .6 5 .5 7.5 .6-14.1 .6 32.5 .5-19.1 .6-32.7 .5 24.8 .6-.3 .5 20.3 .6-20.5 .5-10.4 .6 14.8 .6-22.6 .5 26.5 .6-2.7 .5-2.3 .6-5.9 .5 2.4 .6-26 .6 43.8 .5-15.4 .6 .5 .5 15.9 .6-11.1 .5 1.5 .6-5.8 .6-19.8 .5-13.9 .6 20.8 .5-4.5 .6 13.7 .5 18 .6-11.1 .6-7.6 .5-24.5 .6 23.6 .5 3 .6-11 .5-5.5 .6 7.4 .6-1.5 .5 33.7 .6-16.2 .5-5.2 .6-11.1 .5-1.9 .6 1.5 .5 9.9 .6 3.2 .6 6.7 .5-10.5 .6 7.2 .5 11.2 .6-25.2 .5 8 .6-14.1 .6 8.9 .5 3.8 .6 4.7 .5 12.9 .6-25.7 .5-17.1 .6 27 .6-4.4 .5 5 .6 6.5 .5-3.9 .6-19.3 .5 5 .6 16.8 .6-10.4 .5 17.2 .6 5.2 .5-2.6 .6-22.8 .5 5.4 .6 6.4 .6-19.3 .5 .5 .6 10.7 .5 15.1 .6-8.3 .5-2.7 .6-12.7 .5 1.7 .6-1.2 .6 18.7 .5 .9 .6-27.8 .5 19.8 .6-5 .5 18.8 .6 3.8 .6-.4 .5-15.8 .6-23.3 .5 25.1 .6 5.2 .5-2.3 .6 11.2 .6-10.3 .5 1.4 .6-5.6 .5-8.4 .6-9.1 .5 7.6 .6-9.2 .6 4.4 .5 13.5 .6 14.2 .5-21.5 .6 7.8 .5-3.7 .6-6.2 .6 9.2 .5-3.3 .6 2.4 .5-2.4 .6 8.3 .5 16.6 .6-10.9 .5-19.4 .6 5.3 .6-7.6 .5-10.3 .6 12.8 .5 10.3 .6-5.2 .5 15.7 .6-23.5 .6 12.5 .5 12.1 .6-22.1 .5 4.2 .6-11.9 .5 12.9 .6 .8 .6-7.7 .5-10 .6 27.8 .5-2.8 .6 .3 .5 1.2 .6 18.2 .6-12.3 .5-7.9 .6 3.5 .5-10.4 .6 7.8 .5-18 .6-1.5 .6 4.6 .5-6.8 .6-3.7 .5 22.7 .6-13.4 .5 18.7 .6-22 .5 5.5 .6 21.1 .6-17.8 .5 .6 .6 1.7 .5-.8 .6 6.7 .5 15.6 .6-30.3 .6 27.4 .5-5.3 .6-25.2 .5 26.6 .6-10.8 .5 2 .6 4.4 .6-2.3 .5-6.7 .6 2.3 .5 3.4 .6-21.3 .5 15 .6-6.9 .6 12.6 .5-9.8 .6 3.2 .5 4.1 .6 8.8 .5-18.8 .6 3.8 .6-6 .5-.4 .6 1.6 .5 12.7 .6 16.7 .5-20.1 .6-4.7 .5 24 .6-18.6 .6-5.8 .5 6.7 .6-16.6 .5 9.8 .6 7.2 .5-4.9 .6 3.9 .6-7.5 .5-5 .6 11.8 .5 29.3 .6-40.7 .5 13.5 .6 .9 .6-3.4 .5 14.7 .6-27.3 .5 25 .6-15.4 .5-11.2 .6 8.1 .6 6.3 .5-7.7 .6-2.8 .5-4.1 .6 16.7 .5 16.9 .6-18.5 .6-5.2 .5 2.5 .6-5.1 .5-2.5 .6 2.2 .5-6.6 .6-.5 .5 2.6 .6 6.5 .6-4.6 .5 4 .6-.6 .5 3.9 .6 3.4 .5 1.5 .6-1.6 .6 4.3 .5-8 .6-6.4 .5-7.6 .6 4.1 .5-5.1 .6 2.2 .6 1.3 .5-6 .6-9.7 .5 7.3 .6 6.8 .5 19 .6-20.4 .6-3.3 .5-2.2 .6 13.7 .5-13.9 .6 14.2 .5 2.6 .6 8.6 .6-26.7 .5 2.2 .6-1.6 .5 5.8 .6-1.4 .5 11.1 .6-13.3 .5 12.6 .6 21.1 .6-21.4 .5-.9 .6 24.4 .5-18.4 .6 5 .5-14.1 .6-4.8 .6-4.7 .5-.9 .6 19.4 .5 10.9 .6 4.2 .5-34.7 .6 1.8 .6-6.9 .5 13.1 .6 1.7 .5-3.2 .6-12.1 .5-6.4 .6 19.2 .6 9.7 .5 7.8 .6 11.1 .5-33.7 .6 13.8 .5-20.3 .6 4.9 .6 3.8 .5 11.3 .6-2 .5 .4 .6-1.9 .5 2.5 .6-4.7 .5-5.5 .6-1.2 .6 25.4 .5-18.9 .6 11.7 .5-16.1 .6-.4 .5-1.9 .6 17.5 .6-26.9 .5 17.5 .6-1.8 .5 14.1 .6-7.9 .5 14.3 .6-4.3 .6 15.3 .5-22.9 .6-14.4 .5-6.4 .6 16.7 .5-1.4 .6 7.5 .6-22.2 .5-19 .6 15.4 .5 27.4 .6-3.9 .5-14.7 .6 1.9 .5-.9 .6 11.9 .6-9.2 .5 12.8 .6-8.1 .5-4.6 .6 14.2 .5 12.7 .6-18.7 .6-7.4 .5-8.1 .6 2.3 .5 10.4 .6-21.7 .5 5 .6 22.7 .6 12.3 .5-10.9 .6 3.8 .5-18.7 .6 5.9 .5-5.8 .6 3.9 .6-5.1 .5 18.2 .6 7 .5-31.9 .6 9.2 .5 21.4 .6-8.1 .6-11.9 .5 5.2 .6-7 .5-2.2 .6-6.2 .5 15.2 .6-9.5 .5 20.2 .6-20.3 .6 1.1 .5 3.5 .6 1 .5 10.1 .6-20.7 .5 18 .6-1.1 .6 5.9 .5-12.9 .6 .5 .5-15.4 .6 1.9 .5 22.6 .6-3.2 .6 7.7 .5-15.5 .6 11.6 .5 6.2 .6 5.5 .5-18.1 .6-6.5 .6-5.8 .5 10.1 .6 5.9 .5-14 .6 4.1 .5 11.2 .6-12.9 .6 28.6 .5-12.6 .6-7.2 .5-7.9 .6-1.9 .5 5.6 .6-10.7 .5 24.1 .6 .7 .6-2.7 .5-3.4 .6-5.5 .5-1.3 .6-3 .5 4 .6 3.7 .6 9.1 .5-17.4 .6 5.9 .5-5.1 .6-3.3 .5 13.8 .6-35.3 .6 15.4 .5-1.3 .6 24.7 .5-33.8 .6 21.4 .5 9.9 .6 6.7 .6-15.4 .5 13.6 .6-14.7 .5 5.1 .6-.6 .5 29.6 .6-24.1 .6 16.5 .5 13.8 .6-34.1 .5-4.1 .6-.7 .5-6.4 .6 3 .5-18.4 .6 .7 .6 4 .5 5.2 .6-.3 .5-9.4 .6 24.5 .5-2.1 .6 5.1 .6 1.9 .5-4.5 .6 19.6 .5-14.1 .6 3.3 .5 6 .6-6.2 .6-7.6 .5 2.9 .6 6.1 .5-27.5 .6 5.8 .5-5.4 .6 21.4 .6-21.7 .5 15.4 .6-12.7 .5 4 .6 1.5 .5-3.5 .6 4.5 .6 24 .5-15.2 .6-3.7 .5 5.4 .6 8.1 .5-7.7 .6 9.9 .5-11.5 .6-11 .6-3.3 .5 1.3 .6 13.5 .5-4.4 .6 10.4 .5-24.3 .6 4.8 .6 20.2 .5-.7 .6-2.8 .5-2 .6-8.6 .5 .3 .6-6.2"/>
<path stroke="#000000" d="M1214.8 88.3l.6-13.8 .5 27.9 .6-11.9 .5-15.3 .6 23.6 .5-5.2 .6-1.5 .6-12.2 .5 22.7 .6-12.2 .5-11.9 .6-1.9 .5 25.5 .6-12.2 .6 4.8 .5-7.4 .6-11.4 .5 27.2 .6-7.3 .5-5.9 .6 17.6 .5-2.9 .6-16.4 .6-10.6 .5 5.4 .6 7.9 .5-3 .6-4.5 .5 2 .6 20.5 .6 2 .5-23.4 .6 20.3 .5-24.5 .6 4.4 .5 14 .6-7.4 .6-4.3 .5 12.6 .6 3.3 .5-17.1 .6-1.5 .5-4.4 .6 19.3 .6-13.6 .5 2.9 .6-6.4 .5 12.9 .6 4.9 .5-15.2 .6 17 .6-6.5 .5-9 .6-11.7 .5 26.2 .6-5.4 .5 1.2 .6 13.3 .5-24.6 .6 7.9 .6-.9 .5-.1 .6 17.9 .5-1.5 .6-26.3 .5 11.3 .6-13.7 .6-8.7 .5 8.3 .6 10.7 .5-27.3 .6 19.4 .5 5.5 .6-5.1 .6-.3 .5 6.5 .6 9.8 .5-11.8 .6 15.1 .5-11.9 .6 6.1 .6 8.4 .5-18.3 .6-2 .5 11.1 .6 4.2 .5-6.8 .6-10.4 .6-4.7 .5 19.9 .6-10.9 .5-3.6 .6 21.8 .5-6.9 .6 11.6 .5-16.1 .6-10.6 .6 4.3 .5-2.4 .6 12.2 .5 12.5 .6-13.4 .5-17.6 .6 20.7 .6-34.8 .5 20 .6 4.7 .5 6.3 .6-19.7 .5 40.2 .6-29.4 .6-10.7 .5 13.8 .6-2.7 .5-17.9 .6 31.5 .5-14.6 .6 15.4 .6-8.9 .5-10.6 .6 19 .5-7.8 .6 18.7 .5-5.4 .6-9.5 .6-.6 .5 5.9 .6-4.9 .5-5.8 .6 3.4 .5-3.3 .6-31.5 .5 19 .6 12.4 .6-34.4 .5 21.7 .6 15.9 .5-4.6 .6 6.5 .5-15.4 .6 1.2 .6 28.9 .5-7.7 .6-14.4 .5 9.4 .6-7.2 .5-2.8 .6-13.7 .6 1.9 .5 8.8 .6 18.8 .5-4.3 .6 5 .5-6.6 .6 0 .6-.3 .5-15.4 .6 4.3 .5 12 .6-10.2 .5 5.1 .6-1.7 .6-3.3 .5 5.4 .6-10.6 .5 11.3 .6-27.1 .5 13.7 .6 1.4 .5 17.1 .6-10.4 .6 15.9 .5 .4 .6-18.8 .5-15 .6 8.5 .5-1.5 .6 16.9 .6 12.2 .5-38.6 .6 30.8 .5-2.9 .6-6.7 .5 19.5 .6-1.3 .6-15.3 .5 7.2 .6-11.7 .5-12 .6 6.6 .5 2.5 .6-2.7 .6 20.9 .5-16.9 .6-28.1 .5 9.9 .6 16.2 .5 15 .6-12.2 .5-4.2 .6 18.7 .6-23 .5 25 .6-3.6 .5-2.3 .6-7.9 .5 1.3 .6-24.3 .6 43.2 .5-19 .6 .1 .5 18.6 .6-9.5 .5 1.4 .6-3.7 .6-16.9 .5-13.8 .6 16 .5-9.3 .6 13.1 .5 20.1 .6-8 .6-5.2 .5-26.2 .6 20 .5 2.3 .6-9.7 .5-4.7 .6 9.7 .6-2.3 .5 30.8 .6-17.2 .5-4.1 .6-10 .5 .2 .6 2.2 .5 9.3 .6 1.9 .6 6 .5-9.1 .6 7.7 .5 10.5 .6-25.8 .5 7.4 .6-13 .6 11 .5 5.2 .6 2.3 .5 9.4 .6-26 .5-15.8 .6 27.5 .6-4.4 .5 5.7 .6 8.3 .5-3.5 .6-20.7 .5 2.5 .6 15.5 .6-8.7 .5 50.5 .6-28 .5-3.7 .6-23.5 .5 8.2 .6 9.9 .6-19.9 .5-1.3 .6 9 .5 15.1 .6-6.9 .5-1.1 .6-12.6 .5 2.6 .6 0 .6 17.7 .5-2 .6-30.5 .5 17.3 .6-7.3 .5 19.8 .6 6.7 .6-.4 .5-16.9 .6-21.2 .5 27.6 .6 4 .5-1.7 .6 13.2 .6-11.6 .5-1.6 .6-4 .5-4.6 .6-8.2 .5 7.1 .6-8 .6 4.2 .5 10.3 .6 12.8 .5-21.9 .6 7 .5-2.5 .6-5.3 .6 6.7 .5-6.8 .6 .1 .5-2.4 .6 11.5 .5 20.3 .6-9.2 .5-19.8 .6 3.3 .6-8.8 .5-8.5 .6 14.4 .5 11.6 .6-4.5 .5 14.8 .6-22.3 .6 14.5 .5 11.5 .6-24.6 .5 2.4 .6-11.7 .5 13.2 .6 .6 .6-8.7 .5-11.2 .6 30.3 .5-.7 .6-1.9 .5 0 .6 20.2 .6-12.8 .5-11.7 .6 1.1 .5-9.9 .6 8.7 .5-15.7 .6 1 .6 4.6 .5-5.5 .6-2.4 .5 21 .6-14.3 .5 18.6 .6-22.9 .5 6.4 .6 21.9 .6-19.3 .5 1.1 .6 2.1 .5-2.7 .6 5.5 .5 13.7 .6-33.1 .6 27.7 .5-.5 .6-21.7 .5 25 .6-13.7 .5 1.7 .6 6 .6-2 .5-5.8 .6 5.6 .5 5.6 .6-23 .5 13.1 .6-5.7 .6 11.7 .5-14.5 .6 .5 .5 5 .6 10.9 .5-16.4 .6 5.4 .6-5.2 .5 1.3 .6 2.6 .5 11.1 .6 13.7 .5-22 .6-6.1 .5 22.6 .6-18.2 .6-3.9 .5 8.6 .6-13.4 .5 11.6 .6 6.1 .5-7.9 .6 1.6 .6-10.2 .5-6.1 .6 12.4 .5 29.7 .6-37.5 .5 18.8 .6 3.1 .6-6.1 .5 9.3 .6-30.7 .5 25.3 .6-11.8 .5-7.7 .6 7.4 .6 2.5 .5-8.8 .6-1.6 .5-5 .6 16.6 .5 20.5 .6-16.9 .6-5.9 .5 79.5 .6 71.5 .5 73.9 .6 13.4 .5 8.1 .6-2.4 .5 1.5 .6 3.8 .6-.1 .5 8 .6 5.9 .5 13.5 .6-5.5 .5-10 .6-9.8 .6-27.1 .5-29.5 .6-24.5 .5-31.4 .6-17.4 .5-29.4 .6-25 .6-26.4 .5-15.4 .6-22.1 .5 23.5 .6 8.5 .5 16.4 .6-26 .6-4.2 .5-9.6 .6-3.8 .5-22.6 .6 10.9 .5 4.9 .6 14.3 .6-29 .5 3.7 .6 3.2 .5 5.5 .6-1.3 .5 7.1 .6-19.7 .5 12.1 .6 23.1 .6-20.4 .5 2.3 .6 23.4 .5-23.3 .6 1.6 .5-11.1 .6-.8 .6-1.2 .5-1.9 .6 18.9 .5 12.5 .6 6.6 .5-33.3 .6 1.4 .6-8.6 .5 9.4 .6-2.6 .5-2.3 .6-12.4 .5-4.9 .6 23.8 .6 6.8 .5 7.4 .6 13.2 .5-34.5 .6 14 .5-19.3 .6 5.3 .6 2 .5 7.4 .6 1.9 .5 5.1 .6-2.9 .5 .2 .6-3.5 .5-5.8 .6-5 .6 24 .5-14.7 .6 9.5 .5-19.2 .6-5.4 .5 .7 .6 26.1 .6-19.3 .5 12.1 .6-2.1 .5 8.4 .6-16.1 .5 15.1 .6-3.7 .6 15.9 .5-17.9 .6-11.3 .5-9.2 .6 13.8 .5 .8 .6 10.7 .6-16.6 .5-12.2 .6 15.3 .5 17.6 .6-8.5 .5-11.8 .6 2.2 .5-3.4 .6 16.6 .6-4.9 .5 6.7 .6-12.9 .5-5.1 .6 14.2 .5 8.4 .6-17.2 .6 .3 .5-6 .6-4.3 .5 15.5 .6-17.2 .5 1.9 .6 18.7 .6 9.8 .5-11.5 .6 3 .5-9 .6 5.5 .5-5.9 .6 8 .6-5.3 .5 7.2 .6 4.8 .5-27.2 .6 11.7 .5 17.2 .6-8 .6-12 .5 6.4 .6-6.3 .5 3.1 .6-5.1 .5 7 .6-14.5 .5 16.5 .6-15.2 .6 8.5 .5 .2 .6-1.6 .5 16.1 .6-16.6 .5 17.6 .6-3.2 .6-1.8 .5-12.7 .6 3.1 .5-14.1 .6-1 .5 24.3 .6-1.7 .6 6.5 .5-12 .6 19.4 .5 3.5 .6-.7 .5-17.7 .6-4.6 .6-13.8 .5 8.2 .6 5 .5-8.9 .6 6.8 .5 7.3 .6-13.9 .6 26 .5-14.3 .6-1.3 .5-2.4 .6 5.6 .5 4.8 .6-18.7 .5 21.8 .6-1.7 .6-3.6 .5 .9 .6-2.3 .5-4.3 .6-1.7 .5 6.5 .6-1.9 .6 9.4 .5-15.7 .6-2.6 .5-4.3 .6 6.6 .5 12.8 .6-44.9 .6 17.8 .5 1.8 .6 28.6 .5-29.8 .6 19.6 .5-1.6 .6 9.6 .6-8.7 .5 14.5 .6-18.7 .5 3.5 .6-.7 .5 27.9 .6-25.5 .6 16.4 .5 15.9 .6-31.4 .5-.9 .6 6.2 .5-2.4 .6 1.4 .5-24.6 .6-5.8 .6 1.6 .5 6.9 .6 1.4 .5-8.4 .6 26.1 .5 .3 .6 2.3 .6-4.2 .5 .1 .6 17.5 .5-19.9 .6 3.2 .5 6.6 .6-3.2 .6-1.3 .5 6.5 .6 0 .5-32.5 .6 1.3 .5-.1 .6 29.4 .6-18.6 .5 17.3 .6-12.8 .5-1.1 .6 2 .5-2 .6 5.1 .6 19.4 .5-19.7 .6-3.1 .5 8.4 .6 7.4 .5-10 .6 10.9 .5-13.8 .6-8.6 .6-3.2 .5-2.1 .6 14.6 .5-7.6 .6 11.8 .5-20.2 .6 8.9 .6 18.4 .5 2.1 .6 .3 .5-8.4 .6-11.6 .5-.7 .6-4.1"/>
</g>
<path d="M1326.1 58.5v5.5M1326.1 367.7v-5.5M1437.5 58.5v5.5M1437.5 367.7v-5.5M1548.8 58.5v5.5M1548.8 367.7v-5.5M1214.8 348.4h5.5M1598.4 348.4h-5.5M1214.8 284.0h5.5M1598.4 284.0h-5.5M1214.8 219.5h5.5M1598.4 219.5h-5.5M1214.8 155.1h5.5M1598.4 155.1h-5.5M1214.8 90.7h5.5M1598.4 90.7h-5.5" stroke="#262626" stroke-width="2" fill="none"/>
<rect x="1214.8" y="58.5" width="383.6" height="309.2" fill="none" stroke="#262626" stroke-width="2.4"/>
<text transform="translate(1214.5 408.8) scale(1 1.045)" text-anchor="middle" font-size="33" fill="#262626">0</text>
<text transform="translate(1325.8 408.8) scale(1 1.045)" text-anchor="middle" font-size="33" fill="#262626">200</text>
<text transform="translate(1437.2 408.8) scale(1 1.045)" text-anchor="middle" font-size="33" fill="#262626">400</text>
<text transform="translate(1548.5 408.8) scale(1 1.045)" text-anchor="middle" font-size="33" fill="#262626">600</text>
<text x="1204.4" y="359.6" text-anchor="end" font-size="33" fill="#262626">-4</text>
<text x="1204.4" y="295.2" text-anchor="end" font-size="33" fill="#262626">-3</text>
<text x="1204.4" y="230.7" text-anchor="end" font-size="33" fill="#262626">-2</text>
<text x="1204.4" y="166.3" text-anchor="end" font-size="33" fill="#262626">-1</text>
<text x="1204.4" y="101.9" text-anchor="end" font-size="33" fill="#262626">0</text>
<text x="1406.6" y="449.0" text-anchor="middle" font-size="33" fill="#262626">Time(s)</text>
<text transform="translate(1125.0 214.1) rotate(-90)" text-anchor="middle" font-size="33.6" fill="#262626"><tspan x="0" y="0">VU-posterior residuals</tspan><tspan x="0" y="39.3">(m/s)</tspan></text>
<path d="M240.6 500.7V809.8M351.6 500.7V809.8M462.7 500.7V809.8" stroke="#b3b3b3" stroke-width="2.2" stroke-dasharray="8 2 4 2" stroke-dashoffset="4.2" fill="none"/>
<path d="M129.5 706.8H512.1M129.5 603.7H512.1" stroke="#b3b3b3" stroke-width="2.2" stroke-dasharray="8 2 4 2" stroke-dashoffset="11.6" fill="none"/>
<g clip-path="url(#c3)" fill="none" stroke-width="3.3" stroke-linejoin="round" stroke-linecap="round">
<path stroke="#ff0000" d="M129.5 612.9l.6-9.9 .5-.6 .6-2.5 .5-.3 .6 22.3 .5-18.8 .6-5 .5 2.7 .6 6.2 .6-21.8 .5-2 .6 5.7 .5 8.5 .6 10.4 .5 1.4 .6 7.7 .5 24.6 .6-28 .6-9.8 .5 7.3 .6-1.7 .5-17.8 .6 24 .5 .8 .6-5.2 .5-3.8 .6-6.3 .5-2.2 .6-11 .6 4.5 .5 1.6 .6-11.6 .5 9.9 .6 10.9 .5-8.8 .6 2.8 .5 2.3 .6 9.1 .6-.4 .5-.6 .6-7.4 .5 25.8 .6-19.3 .5-3.8 .6-11.7 .5 13.2 .6 6.9 .6 2.6 .5-8.4 .6-8.5 .5 16.9 .6-10.3 .5 1.8 .6-7.6 .5 6.8 .6 1.1 .6 8.4 .5 4.4 .6-2.9 .5 3.9 .6-16 .5 7.6 .6-1.6 .5-3.3 .6-15.5 .5-.4 .6-9 .6 12.4 .5 4.1 .6-2.4 .5 4.3 .6-12.2 .5 8.5 .6 8 .5 .3 .6 6.8 .6-5.1 .5-3.7 .6 11.6 .5 4 .6-2.2 .5-4.4 .6 1.8 .5-6.4 .6-7.4 .6 12 .5 6 .6-18.4 .5 0 .6-7.4 .5 10.6 .6-3.6 .5-2 .6-2.5 .6 .4 .5 4.2 .6-16 .5 11.3 .6 12.8 .5 8.8 .6-8.7 .5-.9 .6 7.5 .6-20.5 .5 .5 .6 8.8 .5 6.8 .6-8.9 .5 26.5 .6-2.1 .5-8.6 .6-3.9 .5-4.7 .6 0 .6-1.4 .5 4 .6 7 .5-15.7 .6-2.6 .5 4.1 .6-4 .5-2.5 .6-1.9 .6 9.5 .5-.8 .6 4.3 .5-6.1 .6-22.5 .5 9.1 .6 4.8 .5-7.8 .6 17 .6 1.3 .5-14.3 .6 28.6 .5-1.9 .6-1.3 .5-.2 .6 2.8 .5-17.5 .6 14.8 .6-5 .5-.5 .6 7.6 .5-3.7 .6 12.8 .5-19.5 .6 8.3 .5-9.7 .6-2.9 .5-17.7 .6 6.7 .6-6.2 .5 1 .6 9.5 .5 7.5 .6 .5 .5 6 .6-15.5 .5 18.5 .6-9.7 .6 19.2 .5-8.8 .6 3.3 .5-2.3 .6-4.1 .5 7.6 .6-25.6 .5 .3 .6 19.6 .6-10.5 .5-2.2 .6-1.8 .5 12.6 .6 4.9 .5-15.6 .6 2.7 .5-6 .6 5.3 .6 2.6 .5-.9 .6 10.3 .5-16.3 .6 2.4 .5-1.1 .6 .8 .5 13.8 .6-1.8 .6-14.8 .5 1.3 .6 7.3 .5-9.3 .6 12.8 .5-1.4 .6-26.2 .5 23.6 .6 0 .5 9.4 .6 5.4 .6-7.4 .5 1.5 .6-16.1 .5 13 .6-11.3 .5 21.9 .6-5.2 .5 2.8 .6-1.1 .6-17 .5 13.5 .6-19.7 .5 4.3 .6 1.8 .5-20.6 .6 11.8 .5 5.8 .6 8 .6 15 .5-1.2 .6-18.5 .5-5 .6-13.2 .5 29.1 .6-8.7 .5 12.5 .6 2.1 .6-15.6 .5 8.1 .6 2.3 .5 5.6 .6-7.7 .5-26.9 .6-3.6 .5 8.6 .6 15.1 .6-3 .5 8.7 .6-13 .5 8.6 .6-.2 .5-11.2 .6 9.2 .5-1.7 .6 8.3 .5-.7 .6 5.2 .6-2.4 .5 3.6 .6-6 .5 1.4 .6 7 .5-11.2 .6 9.4 .5-4.4 .6 8.6 .6-22.5 .5 16.3 .6-7.3 .5 3.7 .6 6.7 .5-16 .6-2.2 .5-1.3 .6 .5 .6-7.8 .5 2.5 .6 5.7 .5 23.6 .6-20.1 .5-20.3 .6 5.7 .5 5.4 .6 13.6 .6-3.7 .5 2.2 .6 3.3 .5 3.1 .6 4.1 .5 1.6 .6 5.7 .5-10.1 .6-14.5 .5 5.3 .6 7 .6-6.8 .5 3.8 .6 1.4 .5-9.6 .6-3.4 .5-2.7 .6 3.9 .5 10.2 .6 4.8 .6 5.8 .5-4.3 .6 10.7 .5-5.7 .6-11.2 .5-13.8 .6 2.6 .5-2 .6 2.3 .6 7.1 .5-11.3 .6 12.9 .5-10.1 .6 3.3 .5 7.4 .6-.7 .5-9.3 .6 11.5 .6 26.3 .5-14.9 .6-8.8 .5-5.9 .6 .2 .5-3.2 .6 9.9 .5-4.5 .6-5.6 .6 19.4 .5-12.7 .6-10 .5 16 .6-17.7 .5 12.6 .6 4.1 .5 1.8 .6-8.5 .5-4.8 .6 5.5 .6-1.8 .5-5.2 .6 4.4 .5-6 .6 1.8 .5 4 .6-7.8 .5 8.7 .6 3.5 .6 .7 .5-2.1 .6-7.3 .5 13.2 .6-3.5 .5 4.4 .6-10.3 .5 .2 .6 4.6 .6-23.7 .5 22.2 .6-1.7 .5-1.7 .6-.4 .5 19.8 .6-8.5 .5-12.6 .6 8.7 .6 23.1 .5-16.6 .6-13.3 .5-12.2 .6 0 .5 8.7 .6-5.9 .5 7.1 .6-11.5 .5-.6 .6 11.9 .6-10.2 .5 6.7 .6 3.2 .5 1.9 .6 5.6 .5 2.8 .6 2.3 .5 8.2 .6-6.2 .6 9 .5 .7 .6-27.4 .5 7.4 .6-8.8 .5-.2 .6 5.5 .5 5.9 .6-5.4 .6 7.5 .5-8 .6-5.3 .5 7.9 .6 2.1 .5 7.3 .6-5 .5 13 .6-15.9 .6 .1 .5-7.5 .6-2.4 .5 9.4 .6 1.8 .5-6.3 .6-3.7 .5 8.1 .6-9.7 .6 11.5 .5-1.1 .6-6 .5 5.3 .6 7.4 .5-4.5 .6 1.8 .5-2.6 .6 6.9 .5-1.1 .6 4.4 .6-6.5 .5 .1 .6-.9 .5 1 .6 1.9 .5-.8 .6 2.3 .5 1.4 .6 4.6 .6 2.7 .5-.3 .6 3.5 .5 2.8 .6-1.1 .5-1.7 .6 .9 .5 1.3 .6-7.4 .6 1.6 .5 .9 .6-2 .5 3.6 .6-4.8 .5 2.7 .6 .5 .5 10.6 .6-8.5 .6 9.4 .5 13 .6-3.2 .5-7.6 .6 3 .5 9.9 .6-18.8 .5 5.6 .6 12.3 .5-35.6 .6 15.7 .6-.2 .5-30.6 .6 .4 .5 6.3 .6-7.2 .5 3.8 .6 10.1 .5-10.3 .6-5.1 .6 3.8 .5-11.6 .6 11.9 .5 20.3 .6-8.6 .5-.1 .6-1 .5 8.3 .6-10.5 .6-.6 .5-1.9 .6-6.1 .5 28.9 .6-20.4 .5 7 .6-21.3 .5 9.1 .6-17.5 .6 6.3 .5 8.8 .6 12 .5-12.3 .6-12.2 .5 4.3 .6 7.9 .5-1.9 .6 25 .6-12.2 .5 4.2 .6-13.5 .5 3.2 .6 10 .5-6.8 .6-12.4 .5-4.4 .6 7.7 .5 13.6 .6 2 .6-2.5 .5-18.9 .6 5.8 .5 11.5 .6 2.6 .5 12 .6-5.9 .5-7.2 .6 1.8 .6-3.9 .5-17.1 .6 10.7 .5-16.4 .6-1 .5 2.7 .6 11.4 .5 5.6 .6-11.9 .6-4.1 .5 16.7 .6-11.6 .5 9.7 .6 9.2 .5 4.8 .6 5.4 .5-10.4 .6-8 .6 5.7 .5-13.6 .6 1.3 .5 3.7 .6-.3 .5 1.9 .6 1.7 .5-13.3 .6 8.9 .6-1.5 .5 .8 .6 18.2 .5-4.8 .6-15.4 .5 18.4 .6-10.3 .5 3.3 .6 16.6 .5-15.3 .6-.3 .6-9 .5-10.4 .6-5.3 .5 1.7 .6 23.7 .5-11.6 .6 6.9 .5-9.8 .6-8.9 .6 3.1 .5-4.2 .6 4.3 .5 12.1 .6 15.2 .5-12.8 .6-1.2 .5 10.8 .6-27.1 .6 24.3 .5-14 .6-6.3 .5 25.3 .6-2.6 .5 4 .6-6.9 .5-1.9 .6-14 .6-6 .5 7.3 .6-2.7 .5 7 .6 17.1 .5 1.9 .6-3.2 .5-8.5 .6 7.1 .5-10.2 .6 5.1 .6-4.2 .5-5.5 .6-4.5 .5 2.6 .6 2.2 .5 12.6 .6-9.4 .5-3.3 .6 7 .6-18 .5-5.8 .6 1.4 .5 15.5 .6-19.6 .5 .9 .6-11.6 .5 23.8 .6 11.7 .6-8.8 .5 11.1 .6-3.2 .5 15.6 .6 5.5 .5 5.1 .6-10.1 .5-3.1 .6-6.7 .6 12.4 .5-4.6 .6 .6 .5-1.5 .6-14.8 .5-3 .6-5.7 .5 9.5 .6-7.9 .6-14.1 .5 7.1 .6 6.9 .5 2.5 .6-11.5 .5 8.8 .6-7.8 .5 5.9 .6-4.6 .5 10.5 .6 10.5 .6-7.5 .5 5.1 .6 9.3 .5-2.3 .6-2 .5-12.3 .6-4.1 .5-1.2 .6-4.9 .6 8.1 .5 14.2 .6-15.8 .5 16.6 .6-10 .5 1.6 .6-16.7 .5 10.8 .6-2.3 .6-1 .5-4.9 .6 20.3 .5-3.7 .6-9.3 .5 13.3 .6 12.7 .5-30.1 .6 29.7 .6-17.4 .5-12.8 .6 9.8 .5 14.3 .6-12.8 .5 4.3 .6-3.1 .5-1.7 .6-4.5 .5 12.6 .6 6.4 .6-11 .5-14.6 .6-2 .5 6.7 .6-7.6 .5 1.7 .6 5.5 .5 14.4 .6-3.2 .6 6.4 .5-1.5 .6-10.5 .5-2.6 .6-8.2 .5-2.4 .6 4.7 .5-.6 .6-5.8"/>
<path stroke="#00ff00" d="M129.5 610l.6-6.1 .5 2.5 .6-3.5 .5-3 .6 20.5 .5-17.4 .6-2.5 .5 2 .6 4.5 .6-21.6 .5-1.8 .6 3.5 .5 8.2 .6 12.8 .5 2.5 .6 5.5 .5 21.1 .6-28.5 .6-7 .5 8.4 .6-1.5 .5-14.9 .6 26.2 .5-1 .6-7.3 .5-2.7 .6-5.4 .5-2.2 .6-10.6 .6 5.2 .5 1.3 .6-15 .5 7.6 .6 9.5 .5-11.5 .6 2.8 .5 4.9 .6 12.9 .6 2.4 .5-2.5 .6-9.4 .5 26.5 .6-18.3 .5-3.8 .6-11 .5 12.9 .6 4.5 .6 1.6 .5-7.8 .6-7.9 .5 16.9 .6-10.4 .5 4.1 .6-6.9 .5 5.5 .6 1.5 .6 6.7 .5 2.1 .6-3.1 .5 4.7 .6-13 .5 10.5 .6-.6 .5-4.4 .6-18.2 .5-1.5 .6-5.5 .6 14.5 .5 1.2 .6-4.6 .5 6 .6-11.7 .5 6.8 .6 6.2 .5-1.9 .6 6.8 .6-2.6 .5-3.5 .6 10.4 .5 5.1 .6-1.9 .5-6.9 .6 3.5 .5 .8 .6-5.9 .6 8.3 .5 3.9 .6-17 .5 .9 .6-8.2 .5 8.2 .6-5.3 .5 .6 .6-2.3 .6-5 .5 2.3 .6-15.6 .5 10.8 .6 14.5 .5 12.2 .6-6.8 .5 .4 .6 5.5 .6-23.5 .5 1.5 .6 11.3 .5 7.4 .6-11.1 .5 25.8 .6 .4 .5-9.5 .6-6.3 .5-2.3 .6 1.8 .6-5.1 .5 2 .6 9.4 .5-12.9 .6-3.3 .5 3.1 .6-3.8 .5 .3 .6-.2 .6 8.7 .5 1.2 .6 4.9 .5-7.5 .6-25.2 .5 10.2 .6 6.5 .5-11.7 .6 11.2 .6-2.3 .5-15.4 .6 30.1 .5 1.2 .6 .5 .5-1.3 .6 2.6 .5-14.9 .6 17.1 .6-3.6 .5 1.7 .6 8 .5-5.8 .6 12.6 .5-17.6 .6 5.7 .5-12.7 .6-1.6 .5-15.3 .6 9.4 .6-5.6 .5-.7 .6 5.3 .5 2.5 .6-.2 .5 10.4 .6-13.7 .5 16.3 .6-12.9 .6 20.8 .5-4.4 .6 3.1 .5-3.3 .6-2.4 .5 7.9 .6-26.5 .5 0 .6 18.3 .6-11.5 .5-2.9 .6-1.6 .5 13.8 .6 6.5 .5-13.8 .6 2.7 .5-5.9 .6 4.6 .6 1.9 .5-.9 .6 9.2 .5-18 .6 4.4 .5 .4 .6-1.8 .5 12.2 .6 .3 .6-12.7 .5 1.9 .6 9.4 .5-8.5 .6 11.9 .5-3.4 .6-27.6 .5 23 .6 0 .5 10.3 .6 4 .6-10.5 .5 .2 .6-15.5 .5 13.3 .6-13.9 .5 20.9 .6-3.3 .5 6.6 .6 3.7 .6-16.3 .5 13 .6-18.8 .5 3.5 .6 .7 .5-20.8 .6 12.4 .5 6 .6 7 .6 14.4 .5-.8 .6-18.9 .5-6 .6-15.6 .5 27.2 .6-10.2 .5 12.7 .6 4.2 .6-13.6 .5 6.9 .6-.8 .5 7 .6-3.6 .5-26.6 .6-4.9 .5 9.2 .6 18.5 .6-1.8 .5 7.9 .6-12.8 .5 8.6 .6 .3 .5-12.2 .6 8.1 .5-.4 .6 8.6 .5-1 .6 4.9 .6-6 .5 .3 .6-6.1 .5 1.8 .6 7.6 .5-11.4 .6 8.6 .5-2.5 .6 11 .6-21.2 .5 15.1 .6-10.6 .5 2.3 .6 10.8 .5-10.2 .6-.2 .5-5.1 .6-3.8 .6-9.6 .5 .9 .6 5.1 .5 24.5 .6-18.2 .5-18.4 .6 3.9 .5 1.4 .6 8 .6-6.3 .5-.2 .6-.7 .5-.5 .6-1.4 .5-5.9 .6 6.4 .5-6.7 .6-6.7 .5 11 .6 4.9 .6-10.6 .5 5.6 .6 7.3 .5-1.7 .6 3.4 .5 4 .6 5 .5 8.7 .6 2.8 .6 6.3 .5-3.9 .6 9.9 .5-5.3 .6-11 .5-14.3 .6 2.7 .5-3.2 .6-.8 .6 7.4 .5-10.4 .6 12.8 .5-8.2 .6 5.5 .5 6.6 .6-4.3 .5-11.3 .6 11.4 .6 24.9 .5-15.8 .6-7.3 .5-2.3 .6 3 .5-1.3 .6 8.7 .5-7.5 .6-7.4 .6 18.8 .5-11.7 .6-5.3 .5 20.5 .6-18.1 .5 6.5 .6-.8 .5 2.6 .6-5.2 .5-3.5 .6 5.4 .6-1.2 .5-5.2 .6 2.7 .5-5.9 .6 5.1 .5 3.8 .6-10.9 .5 7.5 .6 4.3 .6 2.1 .5-2.9 .6-7 .5 13.5 .6-4.4 .5 3.4 .6-10.9 .5-.5 .6 3.1 .6-23 .5 25.2 .6 0 .5-2.2 .6-.9 .5 18.2 .6-11 .5-10.6 .6 10.3 .6 20.4 .5-17.4 .6-11.5 .5-10.3 .6-.2 .5 9.5 .6-3.9 .5 8.7 .6-11.9 .5-4.1 .6 9.3 .6-10.2 .5 5.6 .6 3.5 .5 4.8 .6 7.1 .5 2.5 .6 1.2 .5 7.9 .6-7.6 .6 7.1 .5-.1 .6-26.5 .5 9.2 .6-7.2 .5-.2 .6 4.7 .5 6.1 .6-6.8 .6 7.4 .5-4.1 .6-3.6 .5 5.6 .6 1.7 .5 8.6 .6-6.9 .5 10.4 .6-15.4 .6 2 .5-4.8 .6-1.4 .5 7.8 .6 0 .5-5.7 .6-2.8 .5 7.7 .6-8.2 .6 13.4 .5-1.4 .6-8.8 .5 1 .6 4.8 .5-5.3 .6 3.4 .5-.4 .6 5.3 .5-3.8 .6 3.6 .6-4.6 .5 4.3 .6 2.8 .5 1.5 .6 1.1 .5 .3 .6 2.7 .5 1.4 .6 2.2 .6 2.3 .5 3.5 .6 5.6 .5 3.5 .6-1.9 .5-2 .6 2.3 .5 6 .6-2.9 .6 2.6 .5 .8 .6-3 .5 6.9 .6-1 .5 3.4 .6-1.4 .5 8.5 .6-11.3 .6 6.6 .5 12.2 .6-1.2 .5-6 .6 2.3 .5 9.7 .6-15.1 .5 4.9 .6 12.4 .5-30.1 .6 26.4 .6 9.9 .5-26.4 .6 .4 .5 7.6 .6-3.3 .5 5.4 .6 9.3 .5-12 .6-4.6 .6 3.8 .5-15.3 .6 8.4 .5 19.4 .6-10.4 .5-1.4 .6 1.8 .5 9.8 .6-11.1 .6-.3 .5-2 .6-6 .5 28 .6-23.2 .5 4.4 .6-23.9 .5 8.3 .6-17.5 .6 5.5 .5 8 .6 7.1 .5-21.3 .6-16.2 .5 3 .6 10.6 .5-3.4 .6 21.9 .6-13.3 .5 1.3 .6-14.6 .5 6.6 .6 12 .5-11.6 .6-17 .5-6 .6 7.5 .5 13.3 .6 2.8 .6-2.8 .5-21 .6 3.5 .5 9.2 .6-.6 .5 8.3 .6-6.1 .5-5.1 .6 4 .6-.5 .5-13.8 .6 12.4 .5-19.2 .6-4.9 .5 3.1 .6 14.9 .5 8.9 .6-10.8 .6-4.9 .5 12.1 .6-13.4 .5 11.1 .6 10.4 .5 4.4 .6 4.2 .5-12.1 .6-9.4 .6 5.6 .5-13.9 .6 .7 .5 5.3 .6 2.1 .5 3.4 .6 2.3 .5-11 .6 9.2 .6-4.4 .5-.7 .6 16.7 .5-4.9 .6-13.4 .5 19.1 .6-9.9 .5 5.5 .6 17.8 .5-17.9 .6-3 .6-9.4 .5-11 .6-6.5 .5 2.1 .6 25.2 .5-12 .6 4.3 .5-9.9 .6-4.5 .6 4.5 .5-6.1 .6 1.7 .5 9.9 .6 17.6 .5-8.2 .6 1.2 .5 9.9 .6-28.2 .6 23.9 .5-14.5 .6-7.3 .5 24.8 .6-1.1 .5 3.8 .6-8.9 .5-3.3 .6-15.4 .6-5 .5 11.3 .6-.8 .5 3.9 .6 13.4 .5 2.6 .6-.9 .5-8.3 .6 7.5 .5-11.1 .6 4.2 .6-3.4 .5-7.1 .6-2.5 .5 6 .6 1 .5 11.8 .6-8.4 .5-6.2 .6 4.5 .6-17.2 .5-4.6 .6 2.1 .5 16.9 .6-18.6 .5 1.4 .6-11 .5 21.9 .6 9.7 .6-8.5 .5 11.8 .6-3.8 .5 12.9 .6 3.9 .5 7.5 .6-4.9 .5-1.5 .6-9.3 .6 11 .5-1.9 .6 1.3 .5-3.7 .6-18.3 .5-5.3 .6-4.1 .5 13.1 .6-6.1 .6-15.7 .5 4 .6 5.9 .5 4.4 .6-10.6 .5 8.4 .6-9 .5 4.2 .6-4.3 .5 12.1 .6 10.6 .6-5.8 .5 8.7 .6 10.8 .5-5 .6-4.9 .5-12.4 .6-4 .5-2.1 .6-5.9 .6 8.7 .5 17.4 .6-14.7 .5 14.8 .6-11.2 .5 .3 .6-19 .5 12.4 .6 .6 .6 1.1 .5-5.4 .6 18.1 .5-3.5 .6-6.6 .5 13 .6 9.8 .5-29.7 .6 31.7 .6-17.3 .5-14.4 .6 7.7 .5 14.3 .6-10.8 .5 4.6 .6-4.1 .5-3.3 .6-7.2 .5 11.3 .6 7.8 .6-7.6 .5-12.4 .6-2.2 .5 6 .6-7.6 .5 2.9 .6 6.1 .5 14.1 .6-4.9 .6 5.1 .5-3.1 .6-11 .5-1 .6-7.4 .5-1.6 .6 7.1 .5 .7 .6-6.2"/>
<path stroke="#0000ff" d="M129.5 613.2l.6-9.1 .5-1.4 .6-4.2 .5-1.3 .6 24.7 .5-14.6 .6-4 .5-2 .6 .5 .6-22.7 .5 2.1 .6 10.3 .5 9.2 .6 7.6 .5-1.4 .6 4.1 .5 23.3 .6-25.3 .6-5.1 .5 10.1 .6-2 .5-16.2 .6 27.3 .5 .4 .6-7.1 .5-5.8 .6-10.5 .5-5 .6-8.5 .6 10.4 .5 3.3 .6-17.4 .5 5.7 .6 11.6 .5-9 .6 2.1 .5 3.6 .6 11 .6 .9 .5-2 .6-7.3 .5 27.8 .6-19.5 .5-4.9 .6-10.9 .5 13.3 .6 4.6 .6 1 .5-8 .6-7.8 .5 15.2 .6-12.3 .5 3.6 .6-3.7 .5 8.7 .6 1.5 .6 5.9 .5 2.4 .6-2.3 .5 4.4 .6-15.1 .5 10 .6 .9 .5-2.6 .6-18 .5-3 .6-8.4 .6 12.5 .5 1.7 .6-2.8 .5 6.5 .6-11.6 .5 6 .6 5.9 .5 .3 .6 10.1 .6-1.6 .5-4.9 .6 10.9 .5 5 .6-5.4 .5-9.8 .6 .6 .5-2 .6-4 .6 10.9 .5 5.4 .6-16.5 .5 2 .6-5 .5 12 .6-4.9 .5-4.5 .6-4 .6-2.4 .5 2.4 .6-13.9 .5 12.7 .6 10.7 .5 5.3 .6-10.2 .5 1.9 .6 11 .6-18.9 .5 1.7 .6 8.9 .5 6.8 .6-8.1 .5 26.6 .6-2.1 .5-9.7 .6-6.8 .5-6.5 .6 .4 .6-1.7 .5 3.1 .6 8.4 .5-14.5 .6-4 .5 4.6 .6-2.2 .5-1.6 .6-3 .6 9.5 .5 4.2 .6 8.2 .5-5.9 .6-25.3 .5 7.6 .6 4.6 .5-10.5 .6 12.7 .6-1.1 .5-14.5 .6 28.9 .5-1.5 .6-1.3 .5-.6 .6 3.3 .5-15.5 .6 16.1 .6-4.7 .5 .3 .6 6.2 .5-4.9 .6 15.2 .5-16.7 .6 8.3 .5-10.7 .6-2.4 .5-15.4 .6 8.3 .6-7.1 .5-2 .6 7.5 .5 6.1 .6-.4 .5 6.2 .6-15.5 .5 18.4 .6-9.7 .6 20.8 .5-6.6 .6 2.8 .5-3.3 .6-2.7 .5 8.8 .6-26.9 .5-2.2 .6 18.6 .6-11 .5-4.1 .6-3.7 .5 15.7 .6 10.3 .5-12.7 .6 3.3 .5-6.8 .6 3.6 .6 .6 .5-1.1 .6 10.6 .5-18.2 .6 .6 .5-2 .6 .1 .5 13.4 .6-.9 .6-11.8 .5 3.4 .6 7.6 .5-8.8 .6 13.4 .5-2.8 .6-26.1 .5 23.9 .6-1.9 .5 8.4 .6 5.1 .6-9.7 .5 .6 .6-12.4 .5 15.5 .6-12.7 .5 19.5 .6-4.9 .5 4.5 .6 1.2 .6-15.4 .5 13.7 .6-20.9 .5 2.2 .6 .9 .5-20.8 .6 11.9 .5 6.8 .6 7.1 .6 11.1 .5-3.4 .6-14.6 .5-.9 .6-15.1 .5 26.3 .6-8.8 .5 12.5 .6 4.5 .6-13.5 .5 7.7 .6 1.7 .5 6.8 .6-6.9 .5-28.1 .6-4.5 .5 7.8 .6 14.3 .6-3.2 .5 9.8 .6-12.2 .5 8.6 .6-.4 .5-10.9 .6 9.5 .5-2 .6 9.1 .5 .9 .6 5.5 .6-4.1 .5 2 .6-6.8 .5 2.5 .6 8 .5-10.8 .6 11 .5-5.3 .6 4.1 .6-25.1 .5 17.5 .6-6.7 .5 2.5 .6 7 .5-14.3 .6 .4 .5 .8 .6 .4 .6-9.6 .5 2.9 .6 5.4 .5 20.5 .6-19.6 .5-15.9 .6 8.3 .5 4.2 .6 10.1 .6-5.2 .5 4.9 .6 4.4 .5 1.6 .6 2 .5-1.1 .6 5.2 .5-9.5 .6-13.8 .5 6.7 .6 6.7 .6-7.7 .5 3.2 .6 1.1 .5-6.9 .6-.8 .5-2 .6 4.5 .5 9.8 .6 5.1 .6 6.2 .5-6.6 .6 6.8 .5-5.1 .6-8.3 .5-15.6 .6 1.3 .5 0 .6 2.9 .6 8.4 .5-9.4 .6 11.6 .5-11.4 .6 5.6 .5 7.8 .6-3.2 .5-11.2 .6 10.6 .6 24 .5-16.9 .6-8 .5-2.9 .6 2.5 .5-2.3 .6 8.6 .5-7.6 .6-6.9 .6 21.1 .5-10.8 .6-7.1 .5 19.1 .6-18.2 .5 8.7 .6 1.9 .5 1.9 .6-8.3 .5-4.2 .6 7.7 .6 0 .5-5.4 .6 2.9 .5-6.7 .6 2 .5 4.2 .6-6.4 .5 10.2 .6 2.1 .6-1.7 .5-4.1 .6-9 .5 11.9 .6-1.9 .5 7.4 .6-8.3 .5 .6 .6 2.8 .6-25 .5 22.5 .6-.3 .5-.5 .6-.8 .5 19.3 .6-9.4 .5-12.1 .6 7.2 .6 19 .5-16.4 .6-8.6 .5-8.9 .6-1.3 .5 8.1 .6-5.8 .5 5 .6-11.7 .5 1.6 .6 12 .6-12.5 .5 4.4 .6 2.6 .5 2.1 .6 5.9 .5 4.2 .6 4.1 .5 9 .6-7.4 .6 8.6 .5 1.8 .6-25.9 .5 7.3 .6-10.8 .5-.7 .6 7.6 .5 7.9 .6-6.8 .6 8.4 .5-7 .6-9.5 .5 3.7 .6 3.9 .5 10.7 .6-6.1 .5 10 .6-16.3 .6 2.5 .5-4.4 .6-.5 .5 8.3 .6-1.7 .5-7.2 .6-1.6 .5 10.7 .6-8.9 .6 9.5 .5-2.3 .6-6.6 .5 3.8 .6 7.8 .5-5 .6 1.7 .5-1.5 .6 7.1 .5 .5 .6 5.6 .6-8.1 .5-2.6 .6 8.5 .5 12.3 .6 8.2 .5 7.5 .6 9.1 .5 4.3 .6 6.3 .6 6.8 .5 5.8 .6 8.1 .5 8.8 .6 7.1 .5 7.9 .6 7.7 .5 7.6 .6 .6 .6-.9 .5-2.7 .6-10.1 .5-2.1 .6-9.8 .5-3.1 .6-5.4 .5 4.1 .6-18 .6-1.7 .5 3.9 .6-7.2 .5-11.1 .6-1.9 .5 3.3 .6-19.8 .5 3.8 .6 9.6 .5-34.4 .6 19.9 .6 4.1 .5-29.5 .6-1.4 .5 5.1 .6-6.5 .5 .8 .6 7.1 .5-11.9 .6-5.9 .6 1.6 .5-17.2 .6 7.7 .5 18.3 .6-10.4 .5 2.4 .6 1.5 .5 11.3 .6-9.2 .6 .4 .5-1.1 .6-6.1 .5 28 .6-21.6 .5 7.3 .6-21.4 .5 9.5 .6-15 .6 7.1 .5 6.5 .6 7.2 .5-17 .6-13 .5 4.6 .6 14.1 .5 1.3 .6 25.4 .6-11.8 .5 4.1 .6-13.1 .5 4.3 .6 11.4 .5-8.1 .6-15.2 .5-4.4 .6 9.5 .5 13.8 .6-.2 .6-5.1 .5-19.6 .6 6.4 .5 10.5 .6 .6 .5 11 .6-3.6 .5-3.9 .6 4.1 .6-2.7 .5-16.2 .6 10.6 .5-19.9 .6-3.4 .5 6.7 .6 14.6 .5 4.7 .6-12.4 .6-6.1 .5 10.8 .6-12.4 .5 14.3 .6 11.6 .5 3.8 .6 4.4 .5-12.6 .6-10.9 .6 4.9 .5-12.6 .6 3.5 .5 6.9 .6-.7 .5-.5 .6 .7 .5-12.1 .6 8.9 .6-.7 .5 2.9 .6 18.3 .5-3.7 .6-13.7 .5 18.3 .6-12 .5 3 .6 18.3 .5-15.2 .6-1.8 .6-10 .5-11 .6-5.5 .5 1.4 .6 22.4 .5-12.1 .6 6.9 .5-10.3 .6-6.9 .6 4.6 .5-5.9 .6 1.4 .5 11.1 .6 19 .5-7 .6 .4 .5 7.7 .6-30.3 .6 22.8 .5-15.6 .6-6.1 .5 27 .6-.1 .5 4.5 .6-8.5 .5-2.3 .6-13.2 .6-6.6 .5 8.7 .6-.2 .5 5.1 .6 14.3 .5 2.1 .6-3.4 .5-9.6 .6 8.2 .5-9.2 .6 4.2 .6-6.1 .5-8.5 .6-3.3 .5 5.5 .6 2.7 .5 13.6 .6-6.9 .5-2.4 .6 7 .6-18.5 .5-8.5 .6-2.1 .5 17.1 .6-15.9 .5 3.3 .6-13.9 .5 19.4 .6 12.9 .6-5.9 .5 10.5 .6-6.4 .5 12.2 .6 3.6 .5 5.1 .6-8.8 .5-1.2 .6-4.9 .6 15 .5-1.2 .6 2.7 .5-2.7 .6-17.7 .5-6.7 .6-5.6 .5 12 .6-6.1 .6-13.5 .5 6.3 .6 5.9 .5 3.1 .6-10.8 .5 8.2 .6-10.1 .5 3.8 .6-3.3 .5 11.9 .6 8.4 .6-8.9 .5 6.8 .6 10.2 .5-3.7 .6-2.4 .5-9.9 .6-1.5 .5-2.4 .6-9 .6 5.1 .5 16.2 .6-12.7 .5 16.4 .6-9.9 .5 2.9 .6-16.8 .5 11.1 .6-2.6 .6 .6 .5-1.9 .6 20.1 .5-6.2 .6-12.5 .5 9.7 .6 10.5 .5-28.4 .6 33.9 .6-14.9 .5-14.7 .6 5.3 .5 14.4 .6-7.1 .5 7.3 .6-4.7 .5-6.2 .6-7.7 .5 14.2 .6 9.9 .6-8.5 .5-14.2 .6-1.3 .5 6.5 .6-10.1 .5-.5 .6 6.2 .5 17 .6-3.7 .6 4.5 .5-3 .6-9.7 .5-1.1 .6-9.6 .5-4.1 .6 6.8 .5 1.7 .6-5.7"/>
<path stroke="#ffff00" d="M129.5 616.4l.6-13.3 .5-2.2 .6-2.8 .5 .1 .6 24.1 .5-16.8 .6-4.8 .5-.1 .6 2.9 .6-22.6 .5 .3 .6 8.5 .5 8.7 .6 10 .5 2.3 .6 5.5 .5 20.8 .6-27.9 .6-5.3 .5 9.7 .6-1.5 .5-14.4 .6 26.4 .5-1.7 .6-8.4 .5-4 .6-7.8 .5-5.4 .6-10 .6 8.3 .5 2.3 .6-14.2 .5 7 .6 9.5 .5-9.6 .6 2.4 .5 2.2 .6 10.4 .6 1.3 .5 .2 .6-6.6 .5 25.8 .6-21.3 .5-3.9 .6-5.7 .5 15.7 .6-.2 .6-2.3 .5-6.6 .6-5.2 .5 17 .6-11.1 .5 3.4 .6-6.8 .5 7.9 .6 3.2 .6 6.8 .5 .6 .6-4.2 .5 4.4 .6-15.2 .5 9.7 .6 .3 .5-2.7 .6-17.2 .5-2.7 .6-7.6 .6 14.7 .5 3.5 .6-5.1 .5 2.7 .6-11.5 .5 9.8 .6 7.3 .5-.9 .6 8.2 .6-2.1 .5-2.5 .6 11.1 .5 2.5 .6-6.9 .5-8.2 .6 3.7 .5-2.6 .6-7.8 .6 8.8 .5 5.8 .6-14.9 .5 1.8 .6-7.5 .5 10.5 .6-3 .5 .8 .6-.1 .6-1.1 .5 2.6 .6-17 .5 9.6 .6 12.9 .5 9.6 .6-9.1 .5-1.1 .6 4.7 .6-23.9 .5 3.9 .6 14.3 .5 6 .6-12.8 .5 24.7 .6-.3 .5-6.4 .6-5.9 .5-7.3 .6 .6 .6 .7 .5 7 .6 9.9 .5-15 .6-6.2 .5 .1 .6-4.5 .5-.3 .6-.9 .6 10.2 .5 2.8 .6 8.2 .5-3.8 .6-24.6 .5 7.1 .6 5 .5-7.9 .6 16.2 .6 1.5 .5-13.4 .6 29.3 .5-.7 .6-1.7 .5-2.4 .6 1.2 .5-15.5 .6 19.1 .6-2.5 .5 .4 .6 7.3 .5-3.8 .6 13.4 .5-19.8 .6 8.1 .5-8.5 .6-1.5 .5-16.4 .6 7.7 .6-6.5 .5-.6 .6 9.3 .5 6.8 .6-3 .5 3 .6-15.8 .5 19.9 .6-8.4 .6 24.3 .5-2.3 .6 3.2 .5-5.8 .6-3.7 .5 8.7 .6-27.4 .5-2 .6 18.4 .6-9.3 .5 .5 .6-1.8 .5 11.2 .6 5.6 .5-13.1 .6 5.8 .5-4.5 .6 4.3 .6 .5 .5-1.7 .6 7.6 .5-20.8 .6 1.9 .5-.2 .6 0 .5 16.8 .6 4.2 .6-10.1 .5 2.4 .6 4.9 .5-11.8 .6 13.6 .5 .3 .6-24.7 .5 24 .6-2.5 .5 7.5 .6 3.3 .6-11.1 .5 2.5 .6-11 .5 14.5 .6-14 .5 20.4 .6-3.6 .5 2.5 .6-2.4 .6-17.2 .5 13.5 .6-19.6 .5 5.6 .6 3.4 .5-22.2 .6 10.7 .5 6.3 .6 6.1 .6 13.2 .5 .3 .6-16.4 .5-3.8 .6-13.8 .5 26.2 .6-11.6 .5 13.2 .6 6.9 .6-13.8 .5 4.8 .6 .1 .5 7.5 .6-7.3 .5-30.2 .6-4.9 .5 10.7 .6 18.7 .6-.5 .5 7.3 .6-16.9 .5 7.5 .6 1.1 .5-11.4 .6 7.8 .5-1.8 .6 10.6 .5 2.7 .6 3.5 .6-10.1 .5-1 .6-5.6 .5 1.4 .6 4.3 .5-13.6 .6 11.6 .5-2.1 .6 7.9 .6-24 .5 16.2 .6-9.2 .5 .5 .6 7.7 .5-13.1 .6-.9 .5-2.3 .6-1.3 .6-9.5 .5 2.1 .6 2.9 .5 18.1 .6-20.8 .5-14.9 .6 9.1 .5 3.4 .6 12 .6-2.2 .5 3.8 .6 2.8 .5 .7 .6 2.5 .5-.2 .6 4 .5-7.8 .6-8.8 .5 8.3 .6 3.2 .6-13 .5 1.1 .6 2.8 .5-6.2 .6-1.5 .5-2.6 .6 4.7 .5 10.8 .6 3.3 .6 4.6 .5-5.8 .6 9.5 .5-2 .6-7.7 .5-15.7 .6 1.2 .5-.4 .6 1.6 .6 7.3 .5-10.1 .6 12.3 .5-9.7 .6 4.7 .5 6.2 .6-3.4 .5-9 .6 13.4 .6 25.5 .5-18.1 .6-11.6 .5-4.9 .6 2.7 .5-1.8 .6 9 .5-6 .6-5.9 .6 20.6 .5-10.4 .6-6.8 .5 16.6 .6-20.1 .5 8.1 .6 2.5 .5 4.2 .6-5.8 .5-2.8 .6 5.1 .6-2.6 .5-4.8 .6 4.6 .5-7.5 .6 0 .5 2.2 .6-8.6 .5 10.1 .6 5.7 .6 3.3 .5-2.2 .6-10.5 .5 10.4 .6-2.1 .5 6.9 .6-11.6 .5-2.9 .6 4.1 .6-20.2 .5 26.5 .6 .6 .5-2 .6-2.6 .5 17.5 .6-11 .5-11.9 .6 10.1 .6 21.5 .5-17.2 .6-11.3 .5-10.4 .6-2.4 .5 6.5 .6-5.1 .5 8.8 .6-11.8 .5-2.2 .6 11.8 .6-8.8 .5 6.9 .6 2.7 .5 1.8 .6 6.1 .5 3.8 .6 1.7 .5 6.5 .6-7.7 .6 8.8 .5 2.8 .6-24.5 .5 9.7 .6-7.2 .5-.4 .6 6.8 .5 9.6 .6-4.8 .6 6.8 .5-6.8 .6-4.6 .5 7.6 .6 2.9 .5 6.3 .6-8.2 .5 13.4 .6-11.3 .6 4.2 .5-4.8 .6 .6 .5 12 .6 3.2 .5-6.4 .6-4.7 .5 9.7 .6-5.4 .6 14.7 .5 1.5 .6-5 .5 5.2 .6 9 .5-3.6 .6 4.4 .5 .9 .6 9.8 .5 3 .6 8.2 .6-3.4 .5 4.9 .6 1 .5 .7 .6 1.3 .5 .9 .6 2.1 .5-.6 .6 1.5 .6-.2 .5-.4 .6 4.9 .5 2.6 .6-2.5 .5 0 .6 2.8 .5 5.2 .6-4.1 .6 1.3 .5-.8 .6-3.2 .5 8.9 .6-1 .5 3.2 .6 .4 .5 8.5 .6-14 .6 3.2 .5 9.7 .6-3.4 .5-7.1 .6 3.7 .5 10.2 .6-14.8 .5 7.6 .6 12 .5-35.9 .6 18.5 .6 6.1 .5-23.9 .6 4 .5 7.7 .6-4.9 .5 2.1 .6 8.4 .5-11.4 .6-4.5 .6 4 .5-13.6 .6 8.8 .5 17.3 .6-9.7 .5 1 .6 .4 .5 9.2 .6-9.9 .6 .3 .5-1.6 .6-7.6 .5 24 .6-23.9 .5 5.4 .6-20.5 .5 12.9 .6-12.7 .6 9.9 .5 7.7 .6 5.9 .5-20.3 .6-16.3 .5 1.9 .6 10.1 .5-2 .6 22.7 .6-13.7 .5 3.2 .6-14.6 .5 3 .6 11.3 .5-8 .6-14.3 .5-4.3 .6 5.8 .5 10.1 .6-.3 .6-6.1 .5-22.8 .6 2.4 .5 10.6 .6 1.9 .5 7.9 .6-7 .5-6 .6 1.7 .6-3.9 .5-15.5 .6 12.2 .5-20.2 .6-3.5 .5 4.8 .6 11.5 .5 5.3 .6-12.9 .6-8.4 .5 9.3 .6-14.2 .5 12.1 .6 11.3 .5 3.4 .6 2.5 .5-13.8 .6-11 .6 3.6 .5-15.8 .6 1.1 .5 6.2 .6-.1 .5-2.5 .6-1.8 .5-12 .6 9.4 .6-3.9 .5-.1 .6 19.3 .5-5.7 .6-19.1 .5 16.1 .6-11.2 .5 2.6 .6 17.3 .5-16.8 .6-3.4 .6-9.1 .5-9.1 .6-6.2 .5-1.3 .6 21.2 .5-12.2 .6 6.5 .5-9.6 .6-2.3 .6 9.5 .5-6.7 .6-.6 .5 9.3 .6 14.2 .5-13.7 .6-1.2 .5 12.1 .6-27.5 .6 22.1 .5-14.2 .6-3.7 .5 26.6 .6-1.8 .5 2.6 .6-9.5 .5-2 .6-12.5 .6-4.7 .5 8.1 .6-5.1 .5 2.5 .6 15.4 .5 3.6 .6-2.8 .5-10.7 .6 6.6 .5-8.4 .6 7.5 .6-3.5 .5-8.3 .6-4.1 .5 4.4 .6 1.2 .5 11.4 .6-8.7 .5-3.3 .6 6.2 .6-18.3 .5-6.4 .6 .2 .5 15.9 .6-20 .5 1.5 .6-10.1 .5 23.5 .6 10.8 .6-8.4 .5 13 .6-2.6 .5 11.8 .6 .6 .5 2.8 .6-7.7 .5-.3 .6-5.1 .6 14 .5-2.9 .6-.8 .5-3.3 .6-14.1 .5-2.1 .6-3.8 .5 10.3 .6-10.6 .6-16.6 .5 6 .6 7.8 .5 4.6 .6-9.8 .5 9.7 .6-9.7 .5 1.9 .6-7.1 .5 10 .6 11.7 .6-5.1 .5 8.1 .6 11.4 .5-3.5 .6-3.8 .5-10.4 .6-2.5 .5-4.3 .6-8.1 .6 8.6 .5 19.8 .6-12.4 .5 15.5 .6-11.7 .5 .8 .6-16.6 .5 12.1 .6-2.4 .6-.8 .5-2.2 .6 21.6 .5-5.7 .6-11.2 .5 12.3 .6 12.5 .5-30 .6 31.1 .6-15.5 .5-13.1 .6 8.5 .5 15 .6-11.2 .5 4.3 .6-3.6 .5-2.5 .6-6.4 .5 12.3 .6 9.6 .6-6.8 .5-13.1 .6-2.4 .5 5.1 .6-8.2 .5 2.1 .6 5.2 .5 13.4 .6-3.6 .6 6.4 .5-2.5 .6-9.8 .5 .3 .6-7.7 .5-3.4 .6 6.2 .5 1.9 .6-4.7"/>
<path stroke="#00ffff" d="M129.5 614.8l.6-10.6 .5-1.8 .6-4.1 .5 .7 .6 25.1 .5-16.4 .6-5.3 .5-.4 .6 2.5 .6-21.2 .5 2.5 .6 6.9 .5 6.2 .6 7.7 .5-.2 .6 5.5 .5 22.6 .6-27.1 .6-7.4 .5 8.8 .6-.1 .5-15.5 .6 26.1 .5 .8 .6-6.8 .5-4.8 .6-8.7 .5-4.1 .6-9 .6 8.5 .5 2.5 .6-14.6 .5 7.1 .6 11.3 .5-6.9 .6 4.1 .5 3.3 .6 9.5 .6-.5 .5-2.7 .6-9.5 .5 25 .6-20.5 .5-3 .6-7.1 .5 14.8 .6 2.7 .6 .2 .5-7.7 .6-7.5 .5 15.9 .6-10.7 .5 3.9 .6-8.6 .5 4.6 .6 3.7 .6 8.8 .5 3.8 .6-1 .5 3.3 .6-16.5 .5 11 .6 2 .5-3.6 .6-20.3 .5-3.7 .6-6.5 .6 14.4 .5 2.8 .6-3.1 .5 5.1 .6-12 .5 5.5 .6 4.5 .5 .3 .6 10.4 .6-.8 .5-3.4 .6 10.6 .5 3.8 .6-4.1 .5-5.5 .6 2.8 .5-5.4 .6-9 .6 9.4 .5 6.1 .6-16.1 .5 .7 .6-6.5 .5 12.7 .6-3.4 .5-3.1 .6-4.3 .6-3.3 .5 2.2 .6-13.5 .5 15.8 .6 13.6 .5 5.2 .6-11.1 .5 .1 .6 7.2 .6-20.2 .5 5.5 .6 10.7 .5 2.9 .6-12 .5 27.9 .6 .7 .5-8.8 .6-4.9 .5-3 .6 0 .6-3 .5 4.8 .6 8.3 .5-15.1 .6-5.4 .5 .5 .6-6.9 .5-2.5 .6 .8 .6 12.3 .5 4.3 .6 8.1 .5-7.5 .6-26.5 .5 7.6 .6 4 .5-8.2 .6 15.1 .6-.8 .5-12.3 .6 30.8 .5-3.6 .6-4.5 .5-1.2 .6 5.8 .5-13.6 .6 14 .6-8 .5 2.5 .6 10.7 .5-4.5 .6 11.8 .5-19.7 .6 8.2 .5-10.8 .6-2.4 .5-16 .6 7.3 .6-6.3 .5 .2 .6 6.5 .5 4.5 .6-.4 .5 6 .6-14.5 .5 20.2 .6-9.9 .6 20.7 .5-7.4 .6 .7 .5-4.4 .6 .4 .5 10.2 .6-26.1 .5 .8 .6 18.4 .6-11.4 .5-3.4 .6-4.4 .5 13.2 .6 7.3 .5-13.9 .6 4.3 .5-6.2 .6 2.3 .6-.1 .5-.2 .6 9.8 .5-17.6 .6 4.1 .5 .1 .6-.4 .5 14.2 .6-.3 .6-12.9 .5 3.5 .6 9.2 .5-9 .6 10.5 .5-5.2 .6-26.3 .5 24.3 .6-1.8 .5 8.6 .6 4.2 .6-9.7 .5 2.8 .6-13.8 .5 13.3 .6-11.7 .5 22 .6-6.6 .5 .7 .6 .6 .6-14.1 .5 17.3 .6-17.4 .5 3.4 .6 .9 .5-21.6 .6 9.9 .5 5.4 .6 6 .6 12.4 .5 .4 .6-13.7 .5-3.2 .6-15.2 .5 27.1 .6-10.7 .5 12.3 .6 4.4 .6-14 .5 7.3 .6 .3 .5 4.5 .6-8.8 .5-27.8 .6-2.7 .5 9.5 .6 16.3 .6 .3 .5 11.3 .6-14.7 .5 4.5 .6-2.3 .5-10.4 .6 10.8 .5 .1 .6 9.7 .5-1.1 .6 3.3 .6-4.7 .5 3 .6-4.6 .5 4.5 .6 9.8 .5-11.4 .6 7.1 .5-6.2 .6 5.7 .6-24.4 .5 16.4 .6-7.6 .5 4.5 .6 9 .5-13.4 .6 1.4 .5-.7 .6-2.8 .6-9.4 .5 3.3 .6 4.7 .5 21 .6-19.4 .5-18.5 .6 6.7 .5 5.2 .6 9.5 .6-7.3 .5 2.5 .6 4.1 .5 .2 .6 1.4 .5 1.5 .6 5.6 .5-12.1 .6-11.5 .5 9.7 .6 5.9 .6-9.9 .5 4.6 .6 4.1 .5-6.8 .6-1.3 .5-2.7 .6 3.4 .5 12.9 .6 8.1 .6 6.8 .5-7.1 .6 8.3 .5-4.5 .6-8.7 .5-13.5 .6 2.8 .5-4 .6-1.7 .6 6.4 .5-8.5 .6 14 .5-10.6 .6 3.1 .5 7 .6-1.2 .5-11 .6 9.5 .6 24.9 .5-16.3 .6-7.8 .5-1.7 .6 5 .5-1.6 .6 5.7 .5-8.1 .6-4.6 .6 24.3 .5-9.5 .6-7.7 .5 15.4 .6-20.2 .5 8.2 .6 2.6 .5 3.2 .6-8.2 .5-5.1 .6 5.4 .6-2.6 .5-5.9 .6 4.5 .5-5.1 .6 2.3 .5 1.5 .6-10 .5 10.9 .6 6.6 .6 2.9 .5-.8 .6-7.4 .5 10.3 .6-7.3 .5 3.1 .6-9.6 .5 .3 .6 3.5 .6-23.9 .5 24.1 .6-.4 .5-1 .6 2.1 .5 20.6 .6-11 .5-11.4 .6 9.7 .6 20.5 .5-18.7 .6-12.6 .5-8.4 .6 1.6 .5 9 .6-5.3 .5 5.5 .6-12.1 .5-1.4 .6 9.5 .6-11.8 .5 6.4 .6 3.5 .5 1 .6 3.7 .5 2.7 .6 3.9 .5 8.4 .6-7.1 .6 9.4 .5 2.6 .6-23.8 .5 10.1 .6-9.1 .5-2.7 .6 5.6 .5 8.5 .6-4.2 .6 8.1 .5-8.4 .6-7.2 .5 5.2 .6 2.4 .5 9.1 .6-5.7 .5 12 .6-13.5 .6 4.4 .5-7.1 .6-4.5 .5 7.4 .6 .2 .5-3.1 .6 1 .5 9.8 .6-9.8 .6 10.9 .5-.6 .6-8.5 .5 3 .6 8 .5-5.5 .6 .9 .5-2.6 .6 6.5 .5 .1 .6 7.2 .6-6.6 .5-1 .6 9.8 .5 11.6 .6 1.3 .5 .4 .6 1.6 .5-1.8 .6 .9 .6 .5 .5 0 .6 2.9 .5 1.5 .6-1.3 .5-.2 .6 1.7 .5 4.9 .6-3.9 .6 1.6 .5 .6 .6-2.5 .5 6.5 .6-2.3 .5 2.7 .6-1.3 .5 10.4 .6-9.4 .6 4.6 .5 10.3 .6-1.2 .5-5.9 .6 3 .5 8.1 .6-16.8 .5 6.2 .6 15.5 .5-27.6 .6 23.6 .6 6.2 .5-25.6 .6 .3 .5 5.2 .6-2.3 .5 6.7 .6 7.2 .5-13.9 .6-5.3 .6 6.1 .5-9.1 .6 11.2 .5 19.1 .6-8 .5-.3 .6-.5 .5 10.2 .6-9.6 .6-1.8 .5-2.4 .6-5.4 .5 28.1 .6-20.6 .5 7 .6-23.6 .5 8.6 .6-15.5 .6 8.1 .5 9.4 .6 9.6 .5-16.9 .6-13 .5 3.5 .6 9.2 .5-.7 .6 28.7 .6-9.8 .5 2 .6-13.4 .5 7.9 .6 12 .5-10.8 .6-16.1 .5-4.2 .6 7.7 .5 11.3 .6 .3 .6-4.6 .5-20.7 .6 5.9 .5 13.1 .6 2.4 .5 9.9 .6-6.7 .5-8.4 .6 .7 .6-4.6 .5-17.6 .6 11.6 .5-15.9 .6-1.1 .5 2.9 .6 10 .5 5.5 .6-10 .6-5.4 .5 11.2 .6-13.1 .5 11.1 .6 9.9 .5 5.1 .6 3.5 .5-14.7 .6-11.3 .6 3.9 .5-13.6 .6 3.9 .5 9.9 .6 2.1 .5-.4 .6-1 .5-13.5 .6 6.8 .6-8.3 .5-1.1 .6 19.1 .5-.5 .6-12.2 .5 20.4 .6-10.9 .5 0 .6 13.8 .5-17.1 .6-1.2 .6-8.5 .5-8.1 .6-3.8 .5 .9 .6 23.7 .5-12.7 .6 4 .5-9.7 .6-5.6 .6 2.9 .5-6.6 .6 4.3 .5 11.8 .6 14.2 .5-13.1 .6-.9 .5 11.5 .6-27 .6 24.1 .5-13.8 .6-6.7 .5 24.3 .6-.9 .5 4.8 .6-8.9 .5-3.2 .6-13.4 .6-3 .5 12.5 .6-1.9 .5 1.2 .6 12.4 .5 1.6 .6-4 .5-10.2 .6 7.8 .5-7.6 .6 7.2 .6-3.4 .5-8.2 .6-6.8 .5 3.7 .6 4.3 .5 13.5 .6-9.8 .5-5.2 .6 4.6 .6-18.3 .5-4.5 .6 1.1 .5 17.1 .6-17.1 .5 2.8 .6-11.6 .5 19.2 .6 8 .6-7.7 .5 15.1 .6-1.7 .5 12.6 .6 3.2 .5 4 .6-10.9 .5-3.6 .6-8.2 .6 12.9 .5-.6 .6 2 .5-5.2 .6-18.5 .5-.6 .6-.2 .5 11.6 .6-9.4 .6-15.9 .5 4.1 .6 5.7 .5 5.5 .6-9.7 .5 7.1 .6-11.2 .5 2 .6-5.8 .5 12.2 .6 11.4 .6-5.6 .5 9 .6 11.2 .5-2.5 .6-1.1 .5-12.2 .6-5.8 .5-2.9 .6-7.1 .6 6.1 .5 13.5 .6-16 .5 16.9 .6-9.5 .5 .3 .6-17.7 .5 14.2 .6-1.1 .6-3.8 .5-8 .6 20.2 .5-.9 .6-8.4 .5 11.2 .6 9.6 .5-28.2 .6 34.1 .6-17.1 .5-15.6 .6 7 .5 14.5 .6-11.1 .5 5.1 .6-1.9 .5-3.9 .6-8 .5 13.6 .6 9.3 .6-8.3 .5-13.7 .6-1.3 .5 6.1 .6-9.6 .5 1.3 .6 4.7 .5 11.4 .6-7 .6 5.5 .5-.7 .6-10.2 .5-2.9 .6-7.1 .5-.6 .6 7.5 .5 .6 .6-5.9"/>
<path stroke="#000000" d="M129.5 614.2l.6-9.9 .5-.2 .6-2.8 .5-.4 .6 22.7 .5-17.7 .6-4.9 .5-1 .6 3.4 .6-20.8 .5-.5 .6 7.7 .5 8.7 .6 9.2 .5 .1 .6 3.6 .5 22.6 .6-25.6 .6-6.1 .5 9.4 .6 .6 .5-14.4 .6 24.4 .5-3.1 .6-10.1 .5-5.6 .6-7.7 .5-2.9 .6-7.9 .6 10.3 .5 4.2 .6-14.4 .5 7.4 .6 11.4 .5-9 .6 3 .5 4.4 .6 10.3 .6-.7 .5-4 .6-10.3 .5 26.3 .6-19 .5-3.9 .6-9.6 .5 13.8 .6 3.8 .6 .8 .5-5.9 .6-5.9 .5 15.8 .6-13.4 .5 2.2 .6-4.5 .5 8.8 .6 1.3 .6 5.8 .5 1.2 .6-2.3 .5 5.5 .6-15.3 .5 9.4 .6-.8 .5-4.1 .6-15.1 .5 0 .6-9.6 .6 10.4 .5 1.8 .6-1.9 .5 7.6 .6-10.4 .5 7.7 .6 6.5 .5-2 .6 7.7 .6-2.1 .5-4.1 .6 10.2 .5 4.5 .6-3.5 .5-6.2 .6 2.4 .5-5.2 .6-7.2 .6 11.7 .5 7.6 .6-16.6 .5-.9 .6-9.9 .5 8.5 .6-4.8 .5-.3 .6 .5 .6 1 .5 .7 .6-18.8 .5 12.6 .6 14.2 .5 8.9 .6-8.5 .5 .8 .6 8.6 .6-20.7 .5 1.5 .6 8.8 .5 4.8 .6-10.7 .5 26.6 .6-.6 .5-8 .6-3.2 .5-2.7 .6-.3 .6-5.3 .5 1.5 .6 10.2 .5-11.1 .6-2.8 .5 3.3 .6-3.9 .5-4.2 .6-5.3 .6 8.7 .5 3.9 .6 7.8 .5-7.6 .6-26.1 .5 8.8 .6 4.9 .5-9.4 .6 16.5 .6 2.1 .5-14.4 .6 27 .5-2.6 .6-1.4 .5 .2 .6 3.3 .5-18.2 .6 15.5 .6-3.4 .5 2.4 .6 7.5 .5-7.7 .6 13.2 .5-14.3 .6 9.7 .5-13.3 .6-6.7 .5-18.8 .6 9 .6-3.1 .5 2.4 .6 10.5 .5 7.8 .6-.9 .5 5.4 .6-17.1 .5 15.5 .6-11.6 .6 20.6 .5-5.1 .6 1.7 .5-2.8 .6 .3 .5 9.6 .6-29.6 .5-4.3 .6 18.6 .6-9 .5-1 .6-.7 .5 14.9 .6 7.2 .5-15.1 .6 .9 .5-7.8 .6 3.7 .6 1.6 .5 .5 .6 10.1 .5-19.6 .6 2.2 .5 1.8 .6 1.9 .5 13.4 .6-1.3 .6-13 .5 2.1 .6 4.9 .5-10.2 .6 13.6 .5-1.8 .6-25.4 .5 25.1 .6 .9 .5 10.1 .6 2.4 .6-11.7 .5 1.8 .6-13.8 .5 13.5 .6-12.4 .5 20.3 .6-5.4 .5 3.9 .6 1.1 .6-15.7 .5 14.1 .6-19 .5 4 .6 1.6 .5-19.6 .6 13.2 .5 4.6 .6 4.1 .6 11 .5-1.1 .6-15.4 .5-3.1 .6-13.9 .5 27.4 .6-10.7 .5 12 .6 5.2 .6-12.1 .5 7.9 .6-1.9 .5 4.8 .6-5 .5-26 .6-2.4 .5 10.3 .6 15.1 .6-4.9 .5 5.5 .6-13.7 .5 10.6 .6 1.8 .5-10.4 .6 8 .5-2 .6 10.2 .5 1.2 .6 4.2 .6-6 .5 .9 .6-4.1 .5 3.6 .6 6.2 .5-12.7 .6 10 .5-3.2 .6 7.8 .6-25 .5 14.5 .6-7.9 .5 4.9 .6 9.9 .5-12.4 .6 .1 .5-2.3 .6-2.5 .6-10.5 .5 .4 .6 3.3 .5 21.6 .6-17.8 .5-14.8 .6 11.1 .5 6 .6 11.6 .6-4.9 .5 1.2 .6 2.4 .5 1.6 .6 2.9 .5 1.9 .6 6.6 .5-10 .6-14.3 .5 5.9 .6 5.7 .6-8.3 .5 2.8 .6 .8 .5-7.5 .6 0 .5-2.2 .6 3.2 .5 10 .6 4.3 .6 4.4 .5-8.1 .6 9.1 .5-.4 .6-7.5 .5-14.6 .6 2.1 .5-2.7 .6 .2 .6 8.9 .5-8.8 .6 11.9 .5-10.7 .6 4.6 .5 8.3 .6-1.7 .5-10.3 .6 10.9 .6 23.2 .5-18.2 .6-7.9 .5-1.3 .6 1.1 .5-5.8 .6 7.6 .5-5.5 .6-5.1 .6 21.2 .5-10.3 .6-7.3 .5 17.7 .6-19.9 .5 8.2 .6 2.3 .5 3.7 .6-5.6 .5-4.9 .6 5.1 .6 .4 .5-3.6 .6 5 .5-6.7 .6 .2 .5 1.9 .6-9 .5 10.4 .6 5.5 .6 .1 .5-5 .6-8.3 .5 12.3 .6-4.3 .5 6 .6-7.7 .5 .1 .6 4 .6-22.5 .5 22.5 .6-4.3 .5-2.8 .6 .5 .5 20.3 .6-8.4 .5-10.8 .6 8.2 .6 19.2 .5-18.3 .6-10.6 .5-7.6 .6 1.2 .5 8 .6-5.7 .5 7.9 .6-11.8 .5-4 .6 9.8 .6-8.6 .5 8.1 .6 3.2 .5 1.4 .6 3.6 .5 1.5 .6 2.9 .5 8.1 .6-6.3 .6 10.7 .5 2.9 .6-26.6 .5 7.4 .6-9 .5-1.8 .6 4 .5 6.3 .6-6.2 .6 8.2 .5-4 .6-4.7 .5 4.3 .6 1 .5 7.8 .6-6.6 .5 11.9 .6-16.9 .6 0 .5-4.2 .6 .2 .5 9.6 .6 .3 .5-7.4 .6-4.7 .5 8.6 .6-6 .6 13.7 .5-2.9 .6-8.2 .5 5.1 .6 8 .5-5 .6 1.7 .5-1.9 .6 6.1 .5-3.5 .6 3.8 .6-6.3 .5 .5 .6 82.8 .5 84.1 .6-9.6 .5-8.6 .6-8.4 .5-14 .6-12.8 .6 8.2 .5 7.9 .6 12.4 .5 9.6 .6 5.2 .5 8.8 .6-5.5 .5-3.5 .6-14.3 .6-7.9 .5-11 .6-15.7 .5-4.6 .6-12.8 .5-7 .6-9.4 .5 6.3 .6-16.8 .6-.2 .5 6.3 .6-5.8 .5-10.3 .6 .2 .5 7 .6-17.2 .5 3.3 .6 7.6 .5-37.4 .6 19.4 .6 6.1 .5-27.3 .6-.4 .5 5.5 .6-5.5 .5 .9 .6 6.3 .5-12.7 .6-7.6 .6 .1 .5-14.7 .6 8.4 .5 16.8 .6-12 .5-3.1 .6-.6 .5 9.3 .6-6.9 .6 2.7 .5 .5 .6-4.7 .5 27.2 .6-23.4 .5 6.8 .6-22.5 .5 9.3 .6-14.3 .6 7.3 .5 6.5 .6 9.1 .5-16.6 .6-13.9 .5 2.9 .6 12.9 .5 .8 .6 24.8 .6-11.7 .5 3.5 .6-11.3 .5 7.9 .6 11.8 .5-9.3 .6-14 .5-3.5 .6 8.6 .5 11.9 .6-3.5 .6-6.3 .5-17.1 .6 7.4 .5 8.7 .6 .5 .5 12.8 .6-3.1 .5-5.9 .6 1.4 .6-3.1 .5-13.5 .6 13.3 .5-18 .6-1.5 .5 5.4 .6 12.2 .5 7.1 .6-9.7 .6-5.4 .5 9 .6-16.5 .5 10.7 .6 10.6 .5 4.7 .6 5.3 .5-11.4 .6-9 .6 5.8 .5-13.8 .6 2.5 .5 6.6 .6 .1 .5-.4 .6 .4 .5-11.3 .6 10.7 .6-1 .5-.4 .6 16.5 .5-3.9 .6-11.6 .5 20.7 .6-11.7 .5 1.3 .6 15.6 .5-16.3 .6-1.8 .6-7.3 .5-7.4 .6-6 .5 .2 .6 21.7 .5-14.3 .6 6.2 .5-8.1 .6-4.4 .6 4.4 .5-5.2 .6 3.8 .5 11 .6 16.5 .5-10.8 .6-1.3 .5 9 .6-29.4 .6 23.3 .5-13.9 .6-5.1 .5 26.9 .6-.5 .5 3.4 .6-10.2 .5-3.9 .6-13.6 .6-3.6 .5 11.5 .6-.8 .5 2.4 .6 11.3 .5 2.6 .6-1.4 .5-9.1 .6 8.6 .5-7.7 .6 6.6 .6-5.1 .5-8.8 .6-4.4 .5 3 .6 1.2 .5 15.4 .6-6.1 .5-4.8 .6 4.7 .6-17.2 .5-5.2 .6-1 .5 14.8 .6-18.6 .5 .8 .6-13.3 .5 22 .6 13.5 .6-5.1 .5 11.6 .6-6.4 .5 12.7 .6 3.3 .5 4.7 .6-7.9 .5-1.3 .6-6.2 .6 15.3 .5-1.1 .6 1.1 .5-3.5 .6-17.4 .5-4.4 .6-4.5 .5 10.3 .6-8.6 .6-13.2 .5 7.6 .6 5.6 .5 2.5 .6-10.1 .5 11.1 .6-9.2 .5 .2 .6-7.4 .5 13.7 .6 13.8 .6-6.2 .5 6.3 .6 8.3 .5-5.4 .6-2.3 .5-9.1 .6-3.1 .5-4.9 .6-10.2 .6 7.5 .5 18.1 .6-13.8 .5 15.8 .6-10.1 .5 1.9 .6-17 .5 10.8 .6-3.4 .6-.7 .5-1.5 .6 24.7 .5-1.3 .6-10.6 .5 10.8 .6 10.6 .5-29.8 .6 29.9 .6-19.9 .5-15 .6 9.5 .5 15.3 .6-11 .5 4.3 .6-5.8 .5-4.3 .6-6.5 .5 12.9 .6 9.4 .6-7.7 .5-13 .6 .1 .5 8.8 .6-8.1 .5-.3 .6 6.7 .5 15.6 .6-6.8 .6 3.3 .5-1.2 .6-10.8 .5-3.7 .6-7.9 .5-2.3 .6 5.4 .5-.2 .6-5.9"/>
</g>
<path d="M240.6 500.7v5.5M240.6 809.8v-5.5M351.6 500.7v5.5M351.6 809.8v-5.5M462.7 500.7v5.5M462.7 809.8v-5.5M129.5 706.8h5.5M512.1 706.8h-5.5M129.5 603.7h5.5M512.1 603.7h-5.5" stroke="#262626" stroke-width="2" fill="none"/>
<rect x="129.5" y="500.7" width="382.6" height="309.1" fill="none" stroke="#262626" stroke-width="2.4"/>
<text transform="translate(129.2 850.9) scale(1 1.045)" text-anchor="middle" font-size="33" fill="#262626">0</text>
<text transform="translate(240.3 850.9) scale(1 1.045)" text-anchor="middle" font-size="33" fill="#262626">200</text>
<text transform="translate(351.3 850.9) scale(1 1.045)" text-anchor="middle" font-size="33" fill="#262626">400</text>
<text transform="translate(462.4 850.9) scale(1 1.045)" text-anchor="middle" font-size="33" fill="#262626">600</text>
<text x="119.1" y="821.0" text-anchor="end" font-size="33" fill="#262626">-40</text>
<text x="119.1" y="718.0" text-anchor="end" font-size="33" fill="#262626">-20</text>
<text x="119.1" y="614.9" text-anchor="end" font-size="33" fill="#262626">0</text>
<text x="119.1" y="511.9" text-anchor="end" font-size="33" fill="#262626">20</text>
<text x="320.8" y="891.1" text-anchor="middle" font-size="33" fill="#262626">Time(s)</text>
<text transform="translate(22.2 656.2) rotate(-90)" text-anchor="middle" font-size="33.6" fill="#262626"><tspan x="0" y="0">PE-posterior residuals</tspan><tspan x="0" y="39.3">(m)</tspan></text>
<path d="M783.4 500.7V809.8M894.3 500.7V809.8M1005.2 500.7V809.8" stroke="#b3b3b3" stroke-width="2.2" stroke-dasharray="8 2 4 2" stroke-dashoffset="4.2" fill="none"/>
<path d="M672.5 732.5H1054.6M672.5 655.2H1054.6M672.5 578.0H1054.6" stroke="#b3b3b3" stroke-width="2.2" stroke-dasharray="8 2 4 2" stroke-dashoffset="11.6" fill="none"/>
<g clip-path="url(#c4)" fill="none" stroke-width="3.3" stroke-linejoin="round" stroke-linecap="round">
<path stroke="#ff0000" d="M672.5 736.3l.6-6.7 .5-2.7 .6-1 .5 13 .6 1.2 .5-4.3 .6 6.1 .5-13 .6-7.4 .5 9.1 .6-3.4 .6 .8 .5-2.7 .6 12.1 .5 5.4 .6 3.6 .5-13.4 .6-4.5 .5 3 .6-3.1 .5 7.8 .6-10.4 .6 9 .5-3.3 .6 9 .5-12 .6 5.9 .5 7.6 .6-.1 .5 4.3 .6-20 .5 11.5 .6-17.9 .6 5.3 .5 3.9 .6-6.4 .5 10 .6 .5 .5-6.7 .6 8.3 .5-7.1 .6-13.5 .5 17.1 .6 8.5 .6 1.2 .5 2.5 .6-5.3 .5-6.5 .6 .2 .5 11.1 .6-9.5 .5-5.5 .6 10.6 .5-13.4 .6-3.7 .6 1.8 .5 21.4 .6-14.4 .5 2.4 .6-.2 .5 6.8 .6-19.5 .5 13.1 .6-7.4 .5-.3 .6 5.4 .6-1.7 .5-3.7 .6 18.3 .5-1.3 .6-9.4 .5-7.1 .6 8.8 .5-8.9 .6 8.4 .5 6.8 .6-9.1 .6 .7 .5-2.3 .6 11.2 .5-9.2 .6-.8 .5 3.5 .6 1.8 .5-.1 .6 8.2 .5-6.5 .6 11.6 .6-5.2 .5-5 .6-15.3 .5 8.1 .6-2.1 .5 .1 .6-17 .5-3.8 .6 10.7 .5 5.2 .6 5.5 .6-5 .5 3.6 .6 6.4 .5 9.1 .6-4.1 .5-1.6 .6-1.2 .5-.2 .6-.4 .5-2.4 .6 .7 .6-5.1 .5 9.4 .6-3.4 .5-7.1 .6-2.3 .5 4.6 .6 3.2 .5-8.9 .6-3.5 .5 13 .6-1.1 .6-4.9 .5 7 .6-4.8 .5 4.1 .6 2.5 .5-7.8 .6-3.5 .5 3 .6 .9 .5 1.7 .6-5.4 .6-1.9 .5-2.6 .6 1.2 .5 5.6 .6 9.3 .5 1.5 .6 .2 .5-11.3 .6 4.8 .5-1.9 .6-2.4 .6 2.1 .5 4.1 .6-2.1 .5-6.4 .6 3.9 .5 10 .6-7.3 .5-2.2 .6-10.8 .5 4 .6 6.1 .6-3.9 .5 14.1 .6-.2 .5-6.8 .6-.5 .5-10.9 .6 1.4 .5 16 .6-8.3 .5-4.5 .6 4.9 .6 .5 .5-2.7 .6 2.6 .5-1.2 .6 10.7 .5-7.9 .6 5.5 .5-5.2 .6-1.8 .6 8.2 .5 7 .6-10.4 .5-14.8 .6-4.7 .5-5.9 .6 18.7 .5-9.3 .6 18.3 .5-4.2 .6 4.2 .6-7.4 .5 7.7 .6-17.4 .5 11.9 .6-.1 .5-2.8 .6-.8 .5 8.5 .6-2.5 .5 2.8 .6-17.3 .6-9.1 .5 14.6 .6-4.9 .5 12.9 .6-3.7 .5 5.3 .6 1.3 .5-11.6 .6 19.8 .5-12.3 .6-3.8 .6 4.9 .5-2.2 .6-1 .5 .1 .6-7.4 .5-8.6 .6 17.7 .5 4.1 .6 2.6 .5-6.2 .6-4.2 .6 6.6 .5-13.9 .6 20 .5-13 .6 2 .5-1.9 .6 7.1 .5-3 .6-3.8 .5-5.4 .6 7.7 .6-8.9 .5-3 .6 11.3 .5 2.6 .6-1.9 .5-.4 .6 8.9 .5-8.4 .6-6.2 .5-12.6 .6 15 .6 10.2 .5-6.8 .6-2.3 .5 6.1 .6 5.4 .5-10.1 .6 1.8 .5 5.9 .6-7.1 .5-4.8 .6-9.1 .6 8.6 .5 3.7 .6 1.1 .5-9.9 .6 4 .5 11.5 .6-8.4 .5-1 .6 9.4 .5 3 .6-1.7 .6 .5 .5-5.9 .6-10.8 .5-6.9 .6 16.2 .5 .6 .6 5.4 .5 .3 .6 2.8 .5 1.8 .6-9.6 .6 5.3 .5-13.9 .6-3.7 .5-2.4 .6 7.1 .5 4 .6 13.2 .5-.4 .6-2.3 .5-13.4 .6 7.8 .6 5.8 .5-6.4 .6-4.6 .5 6.7 .6-2.4 .5-.3 .6-12.1 .5-.3 .6 16.4 .5-7.7 .6 7.8 .6-7.8 .5 6.8 .6-10.8 .5 2.2 .6-.6 .5 13.4 .6-4.2 .5 .6 .6-5.6 .5-1.5 .6 7.5 .6-13.3 .5-2 .6 7.2 .5 9.4 .6-4.5 .5-4.1 .6 4.3 .5-5.5 .6 6.9 .5-6.9 .6 14.6 .6-19.1 .5 3.1 .6-3.7 .5 4.1 .6 5.6 .5 10.1 .6-14.1 .5 4 .6-3 .5-1.5 .6-3.2 .6 2.3 .5 5.2 .6-6.5 .5-5.1 .6 11.7 .5 4 .6-4.9 .5-.7 .6 10 .5 2.3 .6-7.5 .6 10.1 .5-9.9 .6 .2 .5-6.6 .6-4.3 .5 11.8 .6 5.9 .5-15.6 .6-2 .5-5.1 .6-5.1 .6 14.2 .5-1.2 .6-8.4 .5 9.2 .6-14.7 .5 1.2 .6 20.5 .5 3.4 .6 3.6 .5-4.2 .6-6.8 .6-3.2 .5 17.2 .6-1.6 .5 2.1 .6-.1 .5-15.8 .6 4 .5-6.1 .6-.5 .5-7.8 .6-2.4 .6 4.8 .5-7.7 .6 8.5 .5-6.3 .6 13.5 .5 .6 .6 7.5 .5 2.9 .6 .5 .5-1.1 .6-9.9 .6-.4 .5-7.5 .6 3.7 .5 9.3 .6 1.9 .5-16.5 .6 5.6 .5-2.7 .6 2.8 .5-7.1 .6 5.3 .6 5.7 .5-2 .6 7.3 .5 1.3 .6 4 .5 2.7 .6-13.3 .5-2.8 .6-3.3 .5 5.2 .6-11.7 .6 2.8 .5 10.3 .6-14.3 .5 11.1 .6-.2 .5 5.2 .6 5.4 .5 11.3 .6-11.4 .5-1.8 .6 5.1 .6-7.1 .5-.6 .6 1.6 .5 3.9 .6 2 .5-3.8 .6-3 .5 5.3 .6-1.4 .5-1.8 .6 2.8 .6 5.8 .5-1.3 .6-3.4 .5 2.3 .6 1.6 .5-3 .6-1.2 .5-8.8 .6-1.6 .5 4.4 .6 2.8 .6 13.2 .5-15.7 .6 7.2 .5 2.1 .6-.2 .5-17.4 .6 15 .5-8.9 .6 7 .5 1 .6 .9 .6 10.3 .5-6.7 .6-17 .5-.5 .6-1.6 .5 10.6 .6-4.8 .5 9.5 .6 7.2 .5-.7 .6 3.2 .6-6.5 .5 14.4 .6-7.1 .5-16 .6-3.4 .5 15.3 .6-9.3 .5 6.7 .6-14 .5-2.5 .6 9.1 .6-1.6 .5-13 .6 .9 .5-.4 .6 11.3 .5-.5 .6-11.3 .5 2.3 .6 4.2 .5 1.2 .6 2 .6-11 .5 8.7 .6 9.9 .5-8.6 .6 .5 .5 10.4 .6-9.5 .5 1.9 .6 12.4 .5-14.6 .6-7.7 .6 11.4 .5-11.9 .6 1.9 .5-.3 .6-1 .5-.9 .6 9.3 .5-6.2 .6 2.3 .5 8.2 .6-11.4 .6-3.8 .5 6.5 .6-2 .5 .2 .6-.9 .5-12.3 .6 4.4 .5 5.4 .6 11.3 .5-1 .6 5.3 .6-5.8 .5-3.6 .6 9.2 .5-4.9 .6 1.9 .5-.1 .6 5.9 .5-9.4 .6 12.1 .6-1.3 .5-14.3 .6-4.3 .5-1.2 .6 7.8 .5 0 .6-7.2 .5 2.4 .6-2.8 .5-1.8 .6 6.8 .6 8.9 .5-3.8 .6 1.8 .5-5.7 .6 7.8 .5-13.4 .6-3 .5 8.1 .6 2.8 .5 2 .6 .5 .6-16.2 .5 15.8 .6-8.1 .5 4.3 .6 5.9 .5-4.5 .6-8.5 .5-.3 .6-.6 .5 1.8 .6 5.9 .6-10.3 .5 8.8 .6 5.9 .5 9.9 .6-4 .5-9 .6 1.9 .5-2.4 .6-7 .5 1.8 .6 10.1 .6-6.4 .5 1.1 .6-6 .5 11.1 .6-6 .5 8.6 .6-20.2 .5 16.9 .6-5.8 .5 5.7 .6 3.3 .6 6.2 .5-3.3 .6-5.2 .5-3.6 .6-10.2 .5 7 .6-.7 .5 8.2 .6-3.9 .5-6.5 .6 1.8 .6-4.9 .5-5.2 .6-2.2 .5 6.9 .6 14.9 .5-15.6 .6-10.3 .5 15.1 .6 17.6 .5-3.7 .6-4.7 .6 5.2 .5-10.1 .6 5 .5 .8 .6 2.7 .5 5.2 .6-23.8 .5 15.3 .6-5.4 .5-7.6 .6 1.8 .6 3.6 .5-.9 .6-5.3 .5-3.4 .6 12.9 .5-3.5 .6-10.6 .5 16.8 .6-6.7 .5-9.5 .6 7.6 .6 11.6 .5-1.9 .6-1.7 .5 9.5 .6-5.1 .5-4 .6 3.7 .5 6.5 .6-1.7 .5-7.9 .6-4.6 .6-1.9 .5-7.7 .6-1.5 .5 7.3 .6 1.7 .5-3.9 .6 3 .5-3 .6-3.4 .5 9.3 .6 4.9 .6-2.5 .5-3.7 .6 5.9 .5-4.4 .6-3.8 .5 3.4 .6 2 .5-3.6 .6 4.6 .5-10.3 .6-.9 .6 9.8 .5 .9 .6-8 .5-10.3 .6 12.6 .5 .2 .6 7.4 .5-5.8 .6 12.9 .5 3.1 .6-7.7 .6 3.9 .5-2.7 .6-2.3 .5 .5 .6-11.1 .5-.7 .6-1.5 .5 7 .6 7.5 .5-1.7 .6-7.7 .6 5.6 .5-3.6 .6 1.9 .5-10.3 .6 12.1 .5 1 .6 .8 .5-3.3 .6-20.9 .5 11.1 .6 3.6"/>
<path stroke="#00ff00" d="M672.5 735.1l.6-7.6 .5-2.6 .6 .2 .5 15.6 .6 3 .5-5.1 .6 3.6 .5-15.2 .6-6.4 .5 10.8 .6-3 .6 1.7 .5-2.8 .6 10.5 .5 5.2 .6 2.7 .5-14.7 .6-2.6 .5 4.8 .6-4.4 .5 5.6 .6-11.3 .6 9.8 .5-3 .6 8.6 .5-12.1 .6 5 .5 6.5 .6-.3 .5 7.5 .6-16.4 .5 12.2 .6-18.3 .6 4.4 .5 3.7 .6-6.6 .5 9.3 .6 .7 .5-3.8 .6 10.7 .5-7.4 .6-17.1 .5 13.8 .6 8.1 .6 0 .5-.7 .6-6.2 .5-3.9 .6 3.2 .5 13.3 .6-9.9 .5-7 .6 10.4 .5-12.5 .6-2 .6 2.8 .5 21.1 .6-15.8 .5 3.2 .6 1 .5 5.8 .6-20.9 .5 11.7 .6-9.3 .5-.1 .6 8.2 .6 .2 .5-6.6 .6 14.4 .5-1.4 .6-6.9 .5-5.9 .6 8.6 .5-7.4 .6 9.6 .5 5.9 .6-9.7 .6 .7 .5-2.8 .6 11.2 .5-9.2 .6 .4 .5 5.6 .6 2.3 .5-2.1 .6 5.2 .5-8.7 .6 13.1 .6-1.3 .5-3.4 .6-14.9 .5 8.1 .6-4.3 .5-1.3 .6-16.4 .5-3.5 .6 10.1 .5 4.1 .6 5 .6-6.4 .5 2.7 .6 8.6 .5 11 .6-5.9 .5-2.8 .6 .3 .5 1.2 .6-.1 .5-1.4 .6 1.2 .6-5.9 .5 8.3 .6-4.3 .5-7.3 .6-3.2 .5 2.7 .6 2.4 .5-3.9 .6 1.2 .5 10.7 .6-3.5 .6-4 .5 7.7 .6-5.1 .5 4.7 .6 3.2 .5-8.9 .6-3.9 .5 3.1 .6 .3 .5 1.6 .6-5.9 .6-3 .5-4 .6-.3 .5 5.2 .6 10.8 .5 4 .6-.7 .5-12.8 .6 4.9 .5-2.5 .6-2.5 .6 4.1 .5 6.8 .6-1.3 .5-6.8 .6 4 .5 10.7 .6-7.6 .5-3.9 .6-12 .5 4.7 .6 6.5 .6-6.6 .5 10.8 .6-1 .5-4 .6 2.6 .5-8.3 .6 3.4 .5 16 .6-10 .5-6.5 .6 4.4 .6 .1 .5-3.5 .6 2.4 .5-.5 .6 10.9 .5-9.7 .6 4.1 .5-4.9 .6 0 .6 9.7 .5 6.1 .6-10.6 .5-13 .6-4 .5-6.4 .6 17.9 .5-9 .6 19.6 .5-3.9 .6 3.8 .6-7.7 .5 7.1 .6-18.9 .5 9.3 .6-.8 .5-1.6 .6 .2 .5 9.8 .6-1.7 .5 2.3 .6-16.7 .6-8.2 .5 15.5 .6-4 .5 12 .6-5 .5 3.9 .6 .4 .5-11.2 .6 21.5 .5-12.2 .6-5.8 .6 4.1 .5-2.9 .6-1.4 .5 .9 .6-6.8 .5-6 .6 19.2 .5 2.2 .6 .1 .5-7.5 .6-4.6 .6 6.3 .5-12 .6 23.3 .5-12.5 .6 .2 .5-1.4 .6 9.4 .5-2 .6-4.9 .5-7.1 .6 7.3 .6-6.8 .5-2.7 .6 8 .5 .9 .6-1.3 .5-.3 .6 8.9 .5-8.2 .6-5.5 .5-12.4 .6 14.9 .6 9.8 .5-7.5 .6-2.5 .5 7.9 .6 6.8 .5-10.4 .6-.4 .5 4.2 .6-3.8 .5-1 .6-10.3 .6 4.9 .5 3.8 .6 2.6 .5-10.5 .6 1.8 .5 10.7 .6-7.4 .5-.7 .6 9.1 .5 3.2 .6-1.3 .6 .9 .5-5.4 .6-11.6 .5-7.3 .6 17 .5 2.6 .6 6 .5-1.6 .6 1 .5 2.4 .6-7.5 .6 6.1 .5-14.4 .6-3.9 .5-1.2 .6 7.9 .5 1.2 .6 9 .5-.3 .6 1 .5-12.7 .6 6.1 .6 4.8 .5-5.1 .6-3.8 .5 5.2 .6-3 .5 1.2 .6-10.3 .5 .3 .6 14.1 .5-9.9 .6 8.8 .6-4.7 .5 10.8 .6-9.5 .5 .1 .6-4.3 .5 10 .6-6.1 .5 2 .6-4.6 .5-3.3 .6 8.6 .6-9.4 .5-1.1 .6 6.6 .5 8.5 .6-6.5 .5-5.2 .6 6.8 .5-2.5 .6 6.8 .5-9.9 .6 11.2 .6-19 .5 5.6 .6-2.9 .5 1.6 .6 3.5 .5 12 .6-11.6 .5 4.9 .6-2.7 .5-1 .6-2.5 .6 1.2 .5 4 .6-5.2 .5-3.2 .6 9.8 .5 2.7 .6-3.5 .5 .1 .6 9.4 .5 2.2 .6-7 .6 10.2 .5-10.5 .6 .1 .5-6.5 .6-4 .5 10.3 .6 2.9 .5-17.2 .6-2.2 .5-4 .6-3.3 .6 14.6 .5-1.6 .6-7.6 .5 11.2 .6-13 .5 1.4 .6 19.4 .5 2.2 .6 4.7 .5-2.2 .6-7.3 .6-5.9 .5 16.1 .6-1.3 .5 .1 .6-.6 .5-12.9 .6 5.8 .5-6.8 .6-2.5 .5-8.5 .6-1.6 .6 4.1 .5-6.9 .6 10.3 .5-6.8 .6 12.6 .5 .3 .6 5.9 .5 1.4 .6 2.3 .5 1.7 .6-9.1 .6-.9 .5-7 .6 1.6 .5 6.3 .6 3.4 .5-13.7 .6 6 .5-3.5 .6 2.2 .5-5.9 .6 6.2 .6 5.1 .5-3.4 .6 6.1 .5 1.2 .6 4.5 .5 2.6 .6-12.1 .5-1.7 .6-3.7 .5 5 .6-9.8 .6 4.4 .5 9.1 .6-16.5 .5 9.6 .6-3 .5 2.7 .6 5.9 .5 13.1 .6-9.8 .5-2.4 .6 4.1 .6-4.8 .5 1.1 .6 1.9 .5 1.7 .6-1 .5-3.9 .6-1.6 .5 6.7 .6-.9 .5-2.4 .6 3.1 .6 7.4 .5-2.2 .6-5.5 .5 .3 .6 .1 .5-2.1 .6 .2 .5-7.8 .6-2.2 .5 3.6 .6 3.1 .6 12 .5-15.9 .6 8.3 .5 2.1 .6 .3 .5-15.6 .6 16.1 .5-8.2 .6 5.7 .5 .9 .6 3.5 .6 10 .5-9.8 .6-17.9 .5 1.1 .6-.7 .5 9 .6-4.3 .5 11.2 .6 7.2 .5-2.1 .6 .6 .6-7.3 .5 15.1 .6-5.9 .5-13.3 .6-3.8 .5 14.1 .6-9.3 .5 7.8 .6-14 .5-5.2 .6 7.9 .6-.6 .5-10.4 .6 5.2 .5 .1 .6 8.5 .5-.3 .6-8.9 .5 1.3 .6 1.5 .5 .7 .6 3.1 .6-11.2 .5 8.5 .6 10.5 .5-10.2 .6 .9 .5 13.4 .6-9.5 .5-.8 .6 9.7 .5-14.3 .6-5.7 .6 13.3 .5-9.3 .6 1.1 .5-2.7 .6-1.7 .5-.8 .6 9 .5-7.1 .6 2.6 .5 9.9 .6-10.8 .6-6.2 .5 4.2 .6-.8 .5 3.6 .6 1.9 .5-11.3 .6 4 .5 3.9 .6 9.9 .5-2.3 .6 3.3 .6-7.6 .5-3.2 .6 12.1 .5-3.6 .6-.6 .5-2.9 .6 6.4 .5-7.6 .6 11.9 .6-1.2 .5-11.6 .6-1.9 .5-.2 .6 8.7 .5-1 .6-8.2 .5 2.6 .6-4.2 .5-5.9 .6 4.5 .6 9.6 .5-1.5 .6 4.5 .5-5.6 .6 4.4 .5-15.3 .6 .2 .5 11.5 .6 1.2 .5 .4 .6 1.9 .6-15.3 .5 16.4 .6-7.1 .5 3.3 .6 4.5 .5-3.9 .6-7.6 .5-1.5 .6-2.2 .5 .3 .6 5.4 .6-9.5 .5 10.4 .6 4.8 .5 7.9 .6-2 .5-6.7 .6 .7 .5-3.4 .6-6.3 .5 3 .6 8.8 .6-9.1 .5 2.1 .6-3.5 .5 12.9 .6-5.9 .5 6.5 .6-21.5 .5 16.7 .6-5.5 .5 6.6 .6 4.6 .6 6 .5-4.1 .6-6.2 .5-2.5 .6-7.1 .5 7.7 .6-1.3 .5 7.3 .6-5.6 .5-5.8 .6 2.9 .6-4.8 .5-5.7 .6-2.9 .5 4.8 .6 12.7 .5-13.8 .6-7.9 .5 13.9 .6 16.2 .5-3.7 .6-4 .6 5.3 .5-11.9 .6 1.7 .5-.3 .6 3.9 .5 7.9 .6-20.9 .5 16.3 .6-6 .5-7.5 .6 2.8 .6 3.1 .5-2.4 .6-4.8 .5-2 .6 14.1 .5-2.7 .6-10.2 .5 18.2 .6-7.7 .5-14.2 .6 6.1 .6 13.9 .5-1 .6-2.7 .5 8.3 .6-4.9 .5-4.5 .6 2.2 .5 5.3 .6-1 .5-8.3 .6-4.6 .6 1.6 .5-5.3 .6-3.7 .5 5.8 .6 3.4 .5-1.9 .6 4.2 .5-3.6 .6-6.1 .5 9.2 .6 7.3 .6-2 .5-5.6 .6 5 .5-4.2 .6-4 .5 2.4 .6 .1 .5-5.7 .6 4.9 .5-7.1 .6 .5 .6 8.3 .5 1.5 .6-6 .5-10.4 .6 12.7 .5 .9 .6 6.1 .5-7.2 .6 13.1 .5 1.7 .6-9.1 .6 3.5 .5 .7 .6 .4 .5 0 .6-11.1 .5 1.6 .6-.7 .5 4.3 .6 4.2 .5-1.9 .6-5.5 .6 7.1 .5-3.9 .6 .6 .5-11.3 .6 11.5 .5 .5 .6 1.2 .5-4 .6-21.3 .5 11.7 .6 4.5"/>
<path stroke="#0000ff" d="M672.5 733.8l.6-7.9 .5-1.7 .6 1.4 .5 16.9 .6 2.3 .5-7.7 .6 2.4 .5-13.7 .6-5.3 .5 10.5 .6-4 .6 1.7 .5-1.6 .6 11.8 .5 4.7 .6 2.1 .5-13.7 .6-3.4 .5 3.7 .6-2.6 .5 8.7 .6-10.1 .6 7.8 .5-5.4 .6 8 .5-11.6 .6 6 .5 7.5 .6-1.6 .5 4.5 .6-17.3 .5 12.3 .6-17.9 .6 4.8 .5 4 .6-5.3 .5 10.2 .6-.4 .5-6.4 .6 8.7 .5-8.7 .6-15.6 .5 16.4 .6 9.7 .6 2.3 .5 .9 .6-6.7 .5-4.3 .6 3.4 .5 12.9 .6-11.1 .5-7 .6 12.9 .5-11.1 .6-3.9 .6-.4 .5 19.3 .6-15.6 .5 3.1 .6 .4 .5 5.3 .6-21 .5 12 .6-8.6 .5 .5 .6 8.2 .6-.1 .5-5.4 .6 16.6 .5 .4 .6-6.8 .5-5.6 .6 9.6 .5-10 .6 4.9 .5 4.6 .6-7.1 .6 2.5 .5-3.9 .6 9.8 .5-10 .6-.9 .5 6.2 .6 5.8 .5 .4 .6 6 .5-8.3 .6 11.5 .6-4 .5-4.3 .6-15.8 .5 5.8 .6-4.2 .5 1.5 .6-14.7 .5-3.7 .6 10.7 .5 3.6 .6 3.5 .6-4.5 .5 5.3 .6 8 .5 9.4 .6-5.8 .5-2.8 .6-.3 .5 1.8 .6 1.5 .5-2 .6-1.7 .6-8.4 .5 8.9 .6-1.9 .5-6.1 .6-1.4 .5 3.9 .6 .8 .5-7.2 .6-.4 .5 11.3 .6-3 .6-2.7 .5 9.8 .6-4.9 .5 3.3 .6 2.8 .5-8.9 .6-5 .5 1.1 .6-.3 .5 3.1 .6-3.8 .6-2.1 .5-4.3 .6-.1 .5 4.8 .6 8.9 .5 3.2 .6 .9 .5-12.2 .6 4.1 .5-1.7 .6-2 .6 3 .5 7.1 .6 .8 .5-6.1 .6 3.1 .5 8.8 .6-8.6 .5-3.3 .6-11.5 .5 4.6 .6 7.2 .6-5.5 .5 11.2 .6-1.9 .5-6.1 .6 3 .5-8 .6 2.3 .5 15.4 .6-9.2 .5-4.9 .6 3.5 .6-1.9 .5-2.5 .6 4.5 .5 1.3 .6 11.9 .5-10 .6 1.8 .5-5.4 .6 1.3 .6 11.1 .5 6.8 .6-12.5 .5-16.4 .6-4.5 .5-5.7 .6 19.2 .5-9.3 .6 17.6 .5-4.5 .6 3.2 .6-7.7 .5 9.2 .6-16.1 .5 12.1 .6-.5 .5-1.7 .6 .7 .5 8.3 .6-4.8 .5 1.5 .6-15.3 .6-7.3 .5 12.8 .6-6.5 .5 13.3 .6-4.1 .5 3.9 .6-.5 .5-12 .6 22 .5-12.8 .6-6.5 .6 5.2 .5 0 .6 .2 .5 0 .6-6.9 .5-6.9 .6 18.9 .5 3.3 .6 1 .5-6.1 .6-3.1 .6 7.2 .5-14.1 .6 19.8 .5-14.1 .6 1.3 .5-.6 .6 8.3 .5-2 .6-3.3 .5-7.1 .6 6.4 .6-7.4 .5-2.6 .6 8.8 .5 1.4 .6-.3 .5 1.3 .6 9.4 .5-8.9 .6-7.7 .5-14.1 .6 15.3 .6 10.9 .5-8 .6-3.9 .5 6.5 .6 7.2 .5-8.2 .6 1.1 .5 3.7 .6-7 .5-2.6 .6-8.7 .6 7.1 .5 4.9 .6 1.2 .5-11.8 .6 2.9 .5 12 .6-7.3 .5-.9 .6 9.6 .5 3.5 .6-1.9 .6 1 .5-4.5 .6-10 .5-7.1 .6 15.4 .5 .3 .6 4.4 .5-1.1 .6 2.7 .5 2.5 .6-10.4 .6 3.7 .5-12.8 .6-1.3 .5-1.8 .6 7.2 .5 3.3 .6 11.6 .5-.7 .6-.9 .5-11.9 .6 9.2 .6 5.9 .5-7.7 .6-4.9 .5 5.7 .6-3.6 .5-.4 .6-11.4 .5-.3 .6 14.5 .5-9.2 .6 10.1 .6-5.1 .5 8 .6-11.2 .5-.3 .6-3.6 .5 13.3 .6-3.6 .5 1 .6-4.9 .5-2.8 .6 8.6 .6-10.5 .5-2.4 .6 6.6 .5 10.8 .6-2.9 .5-4.7 .6 4.6 .5-4.6 .6 7.3 .5-7 .6 13.3 .6-21.1 .5 1.7 .6-4.5 .5 2.9 .6 3.8 .5 9.9 .6-12.6 .5 6.2 .6-2.1 .5-2.4 .6-4.2 .6 2.5 .5 7.5 .6-3.9 .5-6 .6 8.2 .5 4.8 .6-2 .5-1.7 .6 9 .5 3.9 .6-5.4 .6 9 .5-11.9 .6 .2 .5-6.8 .6-4.8 .5 10.8 .6 5 .5-16.5 .6-2.4 .5-5.1 .6-4.4 .6 14.6 .5-1.8 .6-6.7 .5 11.9 .6-12.6 .5 1.2 .6 17.2 .5 0 .6 2.9 .5-1.5 .6-3.2 .6-2.3 .5 17 .6-2.4 .5-1 .6-2.3 .5-15.8 .6 4.7 .5-6.1 .6-1.2 .5-6.7 .6-.8 .6 4.2 .5-8.7 .6 9.2 .5-5.6 .6 13.6 .5 1.2 .6 7.3 .5 1.9 .6 .9 .5 1.7 .6-8.6 .6-1.2 .5-7.9 .6 1.7 .5 7.8 .6 3.2 .5-15.6 .6 4.5 .5-5 .6 2 .5-7.1 .6 4.9 .6 7.9 .5-.3 .6 7 .5 .7 .6 2.8 .5 2.2 .6-11 .5-.2 .6-3.9 .5 2.7 .6-12.8 .6 4 .5 11.5 .6-14.7 .5 10.1 .6-1 .5 4.5 .6 6.5 .5 13.6 .6-10.3 .5-3.9 .6 2.4 .6-7.6 .5-4 .6-66.5 .5-63.1 .6-61 .5-.3 .6-.5 .5 5.5 .6-2.9 .5-1.2 .6 5.9 .6 10.4 .5 .2 .6-1.6 .5 5.5 .6 3.9 .5 13.5 .6 16.2 .5 10.8 .6 9.8 .5 14.7 .6 14.3 .6 24 .5-6.2 .6 17.1 .5 7.2 .6 5.8 .5-12.1 .6 19.2 .5-5.2 .6 6.9 .5 2.9 .6 5.7 .6 14.1 .5-5.7 .6-16.7 .5 .6 .6 .2 .5 9.9 .6-5.7 .5 10.1 .6 8.1 .5-.2 .6 2.4 .6-7.2 .5 14.9 .6-4 .5-13 .6-3.5 .5 16.2 .6-8 .5 9.2 .6-10.4 .5 .1 .6 10.5 .6-.7 .5-12.1 .6 3.6 .5 2.3 .6 12.8 .5 1.9 .6-9.5 .5 1.3 .6 3.3 .5 .9 .6 1.6 .6-11.1 .5 7.4 .6 7.5 .5-10.9 .6 .7 .5 13.3 .6-8.1 .5 1.4 .6 11.4 .5-15.3 .6-6.8 .6 13.9 .5-9 .6 2.2 .5-3.1 .6-2.6 .5-1.2 .6 9.2 .5-6.1 .6 3 .5 9.6 .6-10.7 .6-5.7 .5 3.9 .6-2.3 .5 1.6 .6 1.6 .5-9.8 .6 4.7 .5 3.2 .6 9.5 .5-1.6 .6 3 .6-8.6 .5-4.4 .6 9.8 .5-3.6 .6 4.2 .5 1.4 .6 5.7 .5-10.6 .6 10.7 .6-1.6 .5-12.3 .6-1.9 .5 .2 .6 9.9 .5 1.7 .6-6.7 .5 1.4 .6-5.2 .5-4.4 .6 5.5 .6 8.3 .5-3.5 .6 1.6 .5-8.5 .6 5.9 .5-12.1 .6 .8 .5 9.5 .6 .1 .5 .7 .6 2.3 .6-14.6 .5 16.9 .6-5.7 .5 5.8 .6 4.3 .5-5.8 .6-7.6 .5-.6 .6-2.9 .5-.4 .6 4.4 .6-10.1 .5 11.7 .6 5.4 .5 6.4 .6-3.8 .5-7.9 .6 1.5 .5-1.5 .6-4.4 .5 4.8 .6 9.9 .6-7 .5 1.3 .6-6.3 .5 11.8 .6-5.7 .5 6.8 .6-22 .5 15.5 .6-6.1 .5 5.2 .6 4.9 .6 7.8 .5-3.8 .6-6.2 .5-3.3 .6-8.8 .5 7.6 .6-.5 .5 7 .6-5.1 .5-5.8 .6 3.5 .6-4.5 .5-6.8 .6-3.4 .5 5.5 .6 14.9 .5-14.5 .6-10.6 .5 14.3 .6 17.5 .5-3.9 .6-3.6 .6 7.4 .5-9.3 .6 2.8 .5-.4 .6 2.4 .5 5.1 .6-22.8 .5 16.9 .6-4.9 .5-7.8 .6 2.2 .6 4 .5-1 .6-6.3 .5-5.1 .6 14.3 .5-2.2 .6-11.3 .5 18 .6-5.9 .5-11 .6 8.7 .6 13.3 .5-3.3 .6-5.2 .5 6.9 .6-6.4 .5-4.8 .6 4.9 .5 8.4 .6-.6 .5-8.5 .6-5.8 .6-1.5 .5-6.6 .6-1 .5 9.7 .6 5 .5-3.8 .6 1.6 .5-3.8 .6-4.2 .5 9.5 .6 5.5 .6-4.1 .5-6.2 .6 6 .5-5 .6-3.8 .5 5.2 .6 2 .5-5.4 .6 5.3 .5-9.8 .6-2.9 .6 8.3 .5 4.2 .6-3.6 .5-8.7 .6 11.9 .5-1 .6 5.6 .5-7.8 .6 11.9 .5 3.9 .6-7.4 .6 2 .5-2.4 .6-.3 .5 .8 .6-12.3 .5-.4 .6-.6 .5 6.7 .6 7.4 .5-2 .6-7.1 .6 7.9 .5-3 .6-.2 .5-11.4 .6 12 .5 1.2 .6 1.9 .5-3.9 .6-21.7 .5 10.6 .6 4"/>
<path stroke="#ffff00" d="M672.5 733.7l.6-7.8 .5-3.7 .6-.3 .5 17.1 .6 4.7 .5-4.4 .6 4.5 .5-13.7 .6-6.2 .5 9.2 .6-4.5 .6 1.3 .5-2.5 .6 10.7 .5 4.4 .6 3.6 .5-12.6 .6-3.6 .5 1.9 .6-5.3 .5 7 .6-9.8 .6 11.2 .5-3.5 .6 7.3 .5-11.7 .6 5.2 .5 5.5 .6-.6 .5 7 .6-16.7 .5 12.9 .6-16.3 .6 4.7 .5 .3 .6-8.4 .5 10.2 .6 .6 .5-5.2 .6 11.6 .5-5.1 .6-15.3 .5 13.6 .6 8.1 .6 2 .5 1.2 .6-7 .5-4.1 .6 5 .5 11.6 .6-14 .5-9.7 .6 10.7 .5-11.8 .6-1.8 .6 4.3 .5 21.8 .6-16.3 .5 2 .6 0 .5 5.8 .6-18.7 .5 14.4 .6-8.6 .5-1.9 .6 5.7 .6-1 .5-5 .6 17.4 .5 .3 .6-8.5 .5-8.5 .6 8.3 .5-7.1 .6 8.3 .5 5.8 .6-7.9 .6 .2 .5-4.2 .6 9.7 .5-10.4 .6 1.6 .5 7.9 .6 3.1 .5-1.3 .6 7.2 .5-6.9 .6 13.1 .6-3.2 .5-4.2 .6-15.3 .5 8.5 .6-3.3 .5-.6 .6-15.7 .5-2.4 .6 11.6 .5 3.9 .6 4.6 .6-4.3 .5 4.1 .6 7.8 .5 9.6 .6-4.7 .5-1.5 .6 .5 .5 2.3 .6 2 .5-.3 .6 1.9 .6-5.1 .5 9.2 .6-3.5 .5-6.7 .6-1 .5 4.3 .6 1.5 .5-5.6 .6 1.7 .5 13.1 .6-3.2 .6-3.9 .5 9.1 .6-3.9 .5 3.8 .6 .5 .5-10.2 .6-3 .5 4.3 .6 1.5 .5 3.6 .6-3.4 .6-2.9 .5-4.3 .6 3.1 .5 6.7 .6 8.7 .5 1.7 .6-1.3 .5-13.9 .6 4.6 .5-.9 .6-2.8 .6 2.9 .5 7.1 .6-.7 .5-7 .6 2.6 .5 9.1 .6-6.8 .5-2.4 .6-13 .5 3.8 .6 7.5 .6-5.7 .5 7.6 .6-4.3 .5-7.5 .6 .4 .5-9.7 .6 .1 .5 10.6 .6-13.4 .5-5.7 .6 4.3 .6-1.8 .5-5.6 .6 2.1 .5 .6 .6 12.7 .5-7.1 .6 5.5 .5-5.4 .6-1.9 .6 8.6 .5 7 .6-10.7 .5-15.4 .6-5.1 .5-4.7 .6 20.4 .5-8.7 .6 17 .5-6.9 .6 2.5 .6-6.9 .5 9 .6-16.2 .5 11.4 .6-1.6 .5-2.6 .6 .4 .5 9.3 .6-2.5 .5 1.9 .6-17.5 .6-9.7 .5 13.6 .6-3.8 .5 14.4 .6-2.7 .5 5.5 .6-.3 .5-12.1 .6 20 .5-14.2 .6-5.6 .6 6.3 .5-.1 .6-1.2 .5-1.4 .6-8.8 .5-8.4 .6 19.2 .5 4.9 .6 3.6 .5-4.8 .6-4.5 .6 5.4 .5-13.4 .6 21.6 .5-13.3 .6 1.8 .5-.9 .6 7.9 .5-2.9 .6-5.3 .5-8.4 .6 7 .6-5.8 .5-2.9 .6 7.7 .5 2.5 .6-.4 .5-1.1 .6 8.4 .5-6.9 .6-4.9 .5-13.1 .6 14.4 .6 10 .5-6.5 .6-2.8 .5 7.2 .6 7.3 .5-10 .6-.1 .5 4 .6-6.4 .5-2.7 .6-8.6 .6 7.4 .5 4.4 .6 1.4 .5-12.4 .6 1.5 .5 11.6 .6-7.6 .5 .6 .6 10.1 .5 .4 .6-4.6 .6 2.1 .5-2.2 .6-10.3 .5-8.9 .6 16.4 .5 3.6 .6 6.5 .5-.5 .6 1.1 .5 .2 .6-9.1 .6 7.3 .5-11 .6-2.6 .5-3.8 .6 6.6 .5 3.6 .6 10.8 .5-1.7 .6-2.1 .5-13.4 .6 8.7 .6 6.6 .5-7.1 .6-6.7 .5 4.4 .6-2.8 .5 1.7 .6-8.5 .5 1.2 .6 12 .5-11.2 .6 9.8 .6-4.5 .5 9.2 .6-10.2 .5 1.2 .6-1.5 .5 12.7 .6-5.9 .5 .6 .6-4.8 .5-1.9 .6 9.1 .6-11.7 .5-4 .6 6.3 .5 10 .6-4 .5-4.2 .6 5.4 .5-3.4 .6 7.9 .5-8.6 .6 11 .6-21.1 .5 3 .6-3.7 .5 3.4 .6 5.1 .5 10.4 .6-13.2 .5 6.3 .6-1.6 .5-2.7 .6-3.8 .6 3.8 .5 7.2 .6-5.6 .5-6 .6 9.3 .5 4.8 .6-3.2 .5-2.5 .6 7.7 .5 2.3 .6-7.4 .6 9.3 .5-9.5 .6 2.6 .5-5 .6-3.8 .5 11.5 .6 5 .5-17.1 .6-4.3 .5-6.9 .6-5.1 .6 14 .5-.9 .6-5.2 .5 12.7 .6-12.8 .5 1.1 .6 18.9 .5 1.4 .6 2.7 .5-4.4 .6-7.1 .6-2.7 .5 18.7 .6-1.7 .5-1.1 .6-2.1 .5-14 .6 5.8 .5-6.4 .6-2.2 .5-6.5 .6 .1 .6 4.3 .5-9.6 .6 8.4 .5-5.1 .6 13.9 .5 0 .6 6.8 .5 2 .6 .4 .5 .6 .6-9.5 .6-1 .5-6.6 .6 3.4 .5 8.7 .6 3.5 .5-15.8 .6 4.3 .5-3.6 .6 3.4 .5-5.8 .6 4.9 .6 4.7 .5-3 .6 5.6 .5 0 .6 3.5 .5 2.6 .6-10.6 .5 1.4 .6-2.5 .5 3.6 .6-11.1 .6 4.7 .5 8.7 .6-18.6 .5 9.3 .6 0 .5 4.7 .6 5.7 .5 12.6 .6-10.3 .5-1.5 .6 4.8 .6-5.8 .5-6.1 .6-4.6 .5-3.3 .6 .9 .5-3.3 .6-2.4 .5 3.3 .6-2.3 .5 .7 .6 4.1 .6 4.7 .5-3.4 .6-4.8 .5 1.9 .6 .2 .5-3.6 .6-1 .5-6.6 .6 1.5 .5 5.6 .6 3 .6 12.6 .5-15.6 .6 8.1 .5 3.5 .6 1.5 .5-15.5 .6 17 .5-8 .6 4.9 .5-.3 .6 2.1 .6 9.4 .5-9.5 .6-18.6 .5 .5 .6 1.1 .5 10.8 .6-4.4 .5 11.1 .6 7.1 .5-1.2 .6 3.7 .6-5.4 .5 15.4 .6-5.8 .5-15.2 .6-6.2 .5 14.7 .6-9.3 .5 7.7 .6-11.2 .5-.8 .6 9.9 .6-.9 .5-11.5 .6 2.4 .5-1 .6 10.8 .5 3 .6-8.2 .5 1.6 .6 1 .5-1.5 .6 .8 .6-11.9 .5 9.2 .6 10.5 .5-8.6 .6 2.4 .5 12.8 .6-9.9 .5 .3 .6 11.4 .5-15 .6-6.7 .6 14.4 .5-8.3 .6 1.3 .5-4 .6-3.6 .5-1.5 .6 9.2 .5-8.2 .6 1.2 .5 10 .6-8.5 .6-3.3 .5 4.5 .6-3.2 .5 1.6 .6 1.7 .5-10.1 .6 5.2 .5 4.3 .6 9.2 .5-2.2 .6 4.4 .6-7.5 .5-4.2 .6 10.4 .5-3.7 .6 1.6 .5-.2 .6 6 .5-11.5 .6 9.4 .6-1.3 .5-11.2 .6-1.6 .5 .8 .6 9.5 .5-.1 .6-6.7 .5 3.9 .6-3.7 .5-4.6 .6 4.5 .6 7.6 .5-2.2 .6 3.7 .5-6.7 .6 5.9 .5-13.5 .6-.9 .5 8.3 .6 .1 .5 .7 .6 1.2 .6-14.5 .5 16.3 .6-7.9 .5 4.4 .6 4.6 .5-4.6 .6-7.1 .5 .2 .6-.8 .5 1.4 .6 4.6 .6-10.7 .5 10.5 .6 5.2 .5 8 .6-4.4 .5-10.3 .6 .7 .5 .3 .6-3.5 .5 3.6 .6 9 .6-7.8 .5 .7 .6-5.3 .5 13.1 .6-6.2 .5 6.9 .6-21.6 .5 16 .6-5.3 .5 5.7 .6 4.2 .6 7.1 .5-4.7 .6-6.3 .5-.4 .6-7.1 .5 5.7 .6-2.9 .5 8.2 .6-2.6 .5-5.5 .6 1.4 .6-6.9 .5-7.1 .6-1.2 .5 7.9 .6 14.1 .5-16.1 .6-9.5 .5 14.2 .6 16.8 .5-2.5 .6-3.3 .6 3.8 .5-12.8 .6 2.6 .5 .6 .6 3.3 .5 6.4 .6-21.8 .5 17.9 .6-4.6 .5-8.3 .6 .7 .6 .7 .5-2.2 .6-3.2 .5-1.4 .6 13.6 .5-2.3 .6-9.1 .5 17.2 .6-7.5 .5-10 .6 9.5 .6 13 .5-4.1 .6-5.5 .5 7.5 .6-4.3 .5-3.8 .6 2.8 .5 6.1 .6-1.2 .5-8 .6-4.8 .6-.4 .5-6.2 .6-1 .5 7.3 .6 2.3 .5-3.2 .6 2.7 .5-5.6 .6-6.1 .5 9.9 .6 7.6 .6-2.1 .5-3.2 .6 7.4 .5-5.2 .6-4.8 .5 1.9 .6-.4 .5-5.6 .6 4.3 .5-8.7 .6 1.6 .6 10.7 .5 2 .6-6.5 .5-9.4 .6 13.5 .5 .2 .6 5.6 .5-7.9 .6 13.3 .5 3.9 .6-8.1 .6 3.5 .5-2.4 .6-3.4 .5-2.6 .6-11.9 .5 3 .6 .9 .5 4.6 .6 5.5 .5-.6 .6-4.9 .6 7.5 .5-5.2 .6-2 .5-11.6 .6 12.6 .5 1.6 .6 3 .5-1.8 .6-19.9 .5 12.2 .6 3.1"/>
<path stroke="#00ffff" d="M672.5 736.8l.6-8.6 .5-4.3 .6-.5 .5 15.8 .6 1.6 .5-5.3 .6 5.4 .5-13.6 .6-4.9 .5 12.4 .6-4.2 .6-1.6 .5-2.9 .6 13.2 .5 5.4 .6 2.8 .5-13.7 .6-4.6 .5 2.5 .6-3.6 .5 8.1 .6-11.5 .6 7.7 .5-4 .6 8.2 .5-10.5 .6 7.2 .5 7.8 .6-.6 .5 4.2 .6-18.9 .5 13 .6-16.5 .6 6.3 .5 3.5 .6-7.4 .5 8.7 .6 .1 .5-5.3 .6 9.7 .5-8.1 .6-17.3 .5 14.2 .6 9.3 .6 2.1 .5 2 .6-4.9 .5-4.5 .6 2.4 .5 11.8 .6-10.7 .5-5.9 .6 12 .5-12.7 .6-4.5 .6 .4 .5 21.1 .6-13.8 .5 3.5 .6-.2 .5 5.4 .6-19.9 .5 12.8 .6-7.7 .5 .7 .6 6.9 .6-.7 .5-5.9 .6 14.9 .5-1.3 .6-9 .5-8.5 .6 8.7 .5-7.4 .6 8.9 .5 7.8 .6-6.4 .6 2 .5-2.9 .6 8.2 .5-11.9 .6 1.3 .5 6.5 .6 2.3 .5-.3 .6 6.5 .5-9.4 .6 12.1 .6-1.5 .5-3.1 .6-15.6 .5 6.9 .6-4.2 .5-.7 .6-15.3 .5-3 .6 10.2 .5 2.9 .6 3.5 .6-4.9 .5 4.6 .6 7.1 .5 8.3 .6-6.2 .5-.8 .6 1.4 .5 1.1 .6 .5 .5-1.9 .6 .1 .6-6.4 .5 8.2 .6-3.3 .5-5.8 .6 0 .5 3.9 .6-.3 .5-6.1 .6 .7 .5 10.3 .6-4.4 .6-3.5 .5 8.2 .6-5.4 .5 3 .6 1.1 .5-8.4 .6-2.7 .5 4 .6-.1 .5 1.4 .6-4.3 .6-2.4 .5-4.2 .6 1.5 .5 7 .6 10.5 .5 2.3 .6-.7 .5-11.9 .6 3.6 .5-4.3 .6-4.5 .6 2.3 .5 5.7 .6-3.1 .5-10 .6 .9 .5 8.1 .6-9.2 .5-2.2 .6-10.7 .5 6.3 .6 10.6 .6-1.5 .5 13.2 .6-.8 .5-4.5 .6 4 .5-6.3 .6 2.7 .5 15.8 .6-8.8 .5-6.3 .6 3.2 .6-.5 .5-2.9 .6 3.1 .5 .2 .6 11.3 .5-9.2 .6 3.9 .5-6.3 .6-1.3 .6 9.8 .5 7.2 .6-10.8 .5-16.2 .6-5 .5-5.2 .6 18.1 .5-9 .6 19.2 .5-5.3 .6 2.4 .6-6.6 .5 9.4 .6-17.3 .5 10.6 .6-.4 .5-1.2 .6 1.1 .5 9.7 .6-3.7 .5 .9 .6-15.9 .6-7 .5 13.8 .6-6.2 .5 12 .6-4 .5 5.8 .6 1.3 .5-10.7 .6 19.7 .5-15.1 .6-5.9 .6 7.7 .5 .6 .6-1.6 .5-1.7 .6-9.1 .5-8.8 .6 19.1 .5 4.2 .6 1.8 .5-6.2 .6-3.7 .6 7.1 .5-13.5 .6 20.6 .5-12.6 .6 3.3 .5 .2 .6 8.3 .5-3.3 .6-5.1 .5-7.6 .6 5.7 .6-8.9 .5-3.1 .6 9.8 .5 3.5 .6-.1 .5-.3 .6 8.8 .5-6.9 .6-5.3 .5-14.6 .6 12.1 .6 10.6 .5-5.1 .6-2.6 .5 6 .6 5.7 .5-8.9 .6 1.3 .5 3 .6-7.3 .5-1.5 .6-7.6 .6 6.7 .5 3.9 .6 2.1 .5-11.8 .6 1.7 .5 11.2 .6-8.6 .5-2 .6 10.6 .5 4.8 .6-1.7 .6 1.7 .5-4.1 .6-10.8 .5-7.3 .6 17.5 .5 1.7 .6 4.3 .5-1.1 .6 3.1 .5 1.7 .6-11.4 .6 3.7 .5-13.9 .6-3.3 .5-.8 .6 10.4 .5 3.2 .6 9.3 .5-1.8 .6-1.6 .5-13.2 .6 7.2 .6 5 .5-5 .6-1.6 .5 6.7 .6-4.6 .5-1.4 .6-10 .5 2.3 .6 14.8 .5-11.2 .6 9.4 .6-3.5 .5 8.5 .6-12 .5 .8 .6-2.2 .5 11.4 .6-5.8 .5 0 .6-6.2 .5-2.5 .6 9.6 .6-8.2 .5-1.1 .6 4.4 .5 7 .6-5 .5-3.6 .6 7.8 .5-3 .6 5.3 .5-9.1 .6 14 .6-19.5 .5 3.9 .6-3 .5 2.2 .6 4 .5 11.3 .6-11.7 .5 6.6 .6-3.9 .5-4.1 .6-4.4 .6 2.2 .5 5.6 .6-5.7 .5-3.6 .6 11 .5 3.6 .6-4.6 .5-2 .6 10.7 .5 3.9 .6-7.3 .6 8.9 .5-11.6 .6-.6 .5-6.5 .6-3.3 .5 11.5 .6 4.7 .5-15.6 .6-1.2 .5-3.3 .6-3.9 .6 12.3 .5-3.6 .6-7.1 .5 13.5 .6-12.1 .5 .4 .6 17.7 .5 .1 .6 2.5 .5-1.7 .6-3.4 .6-3 .5 14.6 .6-3.6 .5-.3 .6-1 .5-13.1 .6 5.5 .5-7.9 .6-1.7 .5-7 .6-2 .6 4.9 .5-6.4 .6 10.7 .5-6.4 .6 13.2 .5 2.8 .6 7.1 .5 .6 .6 .9 .5 1.3 .6-8.9 .6-.6 .5-8.6 .6 .1 .5 6.7 .6 3.1 .5-15.7 .6 4.6 .5-3.1 .6 3.2 .5-5.9 .6 5.5 .6 5.7 .5-.6 .6 7.5 .5 .6 .6 3.3 .5 .9 .6-12.6 .5-.5 .6-2.7 .5 3.9 .6-13.3 .6 3.3 .5 11.8 .6-14.8 .5 11.1 .6 .2 .5 4.1 .6 4.5 .5 12.7 .6-9.4 .5-2.1 .6 3.2 .6-7.1 .5-7 .6-6.2 .5-6.3 .6 .3 .5-1.7 .6-.7 .5 5.1 .6-3.1 .5-3.3 .6 2 .6 6 .5-1.8 .6-2.5 .5 3.6 .6-.5 .5-5 .6-.1 .5-7.1 .6-.5 .5 5.5 .6 4.4 .6 14.2 .5-16.5 .6 5.5 .5 .2 .6 .9 .5-15.9 .6 17.1 .5-7 .6 5 .5-.9 .6 1.1 .6 9.2 .5-8.3 .6-16.4 .5 .5 .6-1.1 .5 10.6 .6-4.7 .5 9.1 .6 5 .5-.7 .6 5.1 .6-5.2 .5 16.1 .6-7.1 .5-17.8 .6-3.4 .5 18.6 .6-7.3 .5 8 .6-13.8 .5-2.8 .6 8.6 .6-2.6 .5-11.8 .6 3.6 .5 .1 .6 11.4 .5 1.8 .6-9.9 .5 1.3 .6 3.7 .5 .6 .6 .8 .6-11.5 .5 10.4 .6 10 .5-10.5 .6 1.2 .5 12.8 .6-8.7 .5 1 .6 10.5 .5-15.6 .6-5.9 .6 14.4 .5-11 .6 .2 .5-2.4 .6-.2 .5 1.3 .6 10.3 .5-6.8 .6 2 .5 7 .6-13 .6-6.7 .5 3.9 .6-1.2 .5 4.7 .6 2.8 .5-9.8 .6 5.3 .5 3.9 .6 8.3 .5-2.7 .6 4.4 .6-7.3 .5-3.6 .6 10.6 .5-4.1 .6 1.9 .5 1.4 .6 8.2 .5-9.4 .6 10.2 .6-2 .5-13.4 .6-3.5 .5 1.5 .6 11.6 .5 4.1 .6-6.9 .5 3.4 .6-2.3 .5-4 .6 4.6 .6 8.3 .5-1.4 .6 3.3 .5-7 .6 6.5 .5-12.7 .6 .6 .5 11.3 .6 1.8 .5-.6 .6-.2 .6-15.2 .5 17.1 .6-7.1 .5 4 .6 4.9 .5-4.4 .6-6.4 .5 1 .6-2.2 .5-1.5 .6 3.9 .6-9.9 .5 10.5 .6 5.3 .5 7.8 .6-3 .5-6.8 .6 1.9 .5-3.7 .6-6.6 .5 4.7 .6 11.3 .6-7 .5-.2 .6-7.3 .5 12.6 .6-4.7 .5 6.3 .6-21.6 .5 17.3 .6-5.2 .5 5.2 .6 2.6 .6 6.8 .5-2.7 .6-5.7 .5-2.4 .6-6.7 .5 8.1 .6-1.9 .5 5.8 .6-6.1 .5-5.2 .6 3.3 .6-5.6 .5-5.8 .6-.4 .5 6.3 .6 12.8 .5-14.9 .6-9.5 .5 12.7 .6 17.8 .5-1.4 .6-4.7 .6 3.5 .5-9.5 .6 5 .5-.7 .6 1.8 .5 4.6 .6-23.2 .5 17.7 .6-4.5 .5-8.4 .6 1 .6 2.4 .5 .2 .6-2.7 .5-3.3 .6 13.4 .5-3.2 .6-11.9 .5 17.8 .6-5.1 .5-10.1 .6 8.1 .6 12.1 .5-3.1 .6-4.1 .5 8.8 .6-5.1 .5-5.8 .6 3 .5 7.6 .6-.9 .5-9.9 .6-5.3 .6 2.7 .5-5.8 .6-5.4 .5 6.5 .6 4.4 .5-1 .6 4.5 .5-3.8 .6-4.8 .5 9.7 .6 4.9 .6-4.7 .5-6 .6 7.3 .5-2.7 .6-3.9 .5 2.7 .6 .2 .5-6.8 .6 5.9 .5-6.3 .6-1.4 .6 5.7 .5 .8 .6-6.5 .5-9.7 .6 15.1 .5 3.1 .6 6.7 .5-7.6 .6 12.9 .5 3.3 .6-8.6 .6 2.4 .5-1 .6-.3 .5-.4 .6-11.2 .5 .7 .6-1.9 .5 4.6 .6 6.6 .5-1 .6-6.3 .6 6.5 .5-4.1 .6 .3 .5-10.8 .6 13 .5 1.3 .6 .7 .5-2.9 .6-20.3 .5 9.5 .6 2.9"/>
<path stroke="#000000" d="M672.5 732l.6-6.9 .5 .4 .6 1.7 .5 14.2 .6 .9 .5-6.2 .6 4.3 .5-12.9 .6-4.3 .5 10.7 .6-5.6 .6 .8 .5-1.4 .6 10.4 .5 3.2 .6 3 .5-12.1 .6-1.6 .5 3.8 .6-5.1 .5 6.7 .6-9.3 .6 9.6 .5-5 .6 6.7 .5-12.4 .6 6.2 .5 7.4 .6-.4 .5 6 .6-17.7 .5 12.4 .6-17.8 .6 3.5 .5 1.9 .6-4.8 .5 12.6 .6 .7 .5-7.2 .6 8.5 .5-8.3 .6-16.6 .5 15.1 .6 10.4 .6 2.4 .5 .8 .6-5.1 .5-2.7 .6 4.1 .5 10.7 .6-13.2 .5-8.4 .6 11.8 .5-12 .6-4.5 .6 1.6 .5 22.5 .6-14.5 .5 2.4 .6 .3 .5 6.4 .6-20.8 .5 11.8 .6-8.6 .5-.9 .6 6.3 .6 .3 .5-3.9 .6 18.5 .5 .2 .6-8.5 .5-8.6 .6 7.3 .5-9 .6 8.5 .5 7.9 .6-7 .6 .4 .5-4.5 .6 10.3 .5-10.1 .6-.9 .5 5.1 .6 3.7 .5 0 .6 6.8 .5-6.6 .6 14.1 .6-2.4 .5-5.4 .6-16.6 .5 7.9 .6-3.4 .5-1.3 .6-17.6 .5-3.9 .6 10.4 .5 2.6 .6 3.9 .6-3 .5 4.7 .6 6.2 .5 9.9 .6-4 .5-1 .6-.9 .5-.5 .6 1.5 .5-.6 .6-2 .6-8.5 .5 10.2 .6-1.4 .5-6.8 .6-2.3 .5 3.9 .6 2.3 .5-4.8 .6-.5 .5 8.7 .6-5.3 .6-2.8 .5 10.8 .6-3.5 .5 3.5 .6 .7 .5-9.5 .6-4.3 .5 1.2 .6-1.3 .5 1.8 .6-3.8 .6-.3 .5-3.1 .6-.4 .5 5.4 .6 11.4 .5 4.9 .6 1.2 .5-12.4 .6 3.9 .5-3 .6-3.2 .6 3.4 .5 7.7 .6-1.7 .5-9.9 .6 .9 .5 9.4 .6-6 .5-1.6 .6-11.1 .5 4.8 .6 8 .6-3.7 .5 12.3 .6-2.5 .5-7.1 .6 1 .5-8.1 .6 3.9 .5 16.3 .6-9.8 .5-5.1 .6 3 .6-3.7 .5-4.4 .6 3.8 .5 2.4 .6 13 .5-9.7 .6 2.2 .5-5.6 .6 1.1 .6 10 .5 6 .6-11.4 .5-13.8 .6-4.2 .5-7.1 .6 18.7 .5-8 .6 18.9 .5-4.4 .6 4.9 .6-7.2 .5 7.7 .6-17.3 .5 10.7 .6-1.8 .5-2.7 .6-.2 .5 8.4 .6-2.6 .5 4.1 .6-14 .6-9.2 .5 10.7 .6-6.4 .5 12.7 .6-4 .5 6 .6 1.9 .5-11.3 .6 20.3 .5-14 .6-6.5 .6 5.2 .5-1 .6 0 .5 2 .6-6.1 .5-7.8 .6 17.9 .5 3.4 .6 .4 .5-7.5 .6-3.3 .6 8 .5-13.5 .6 19 .5-14.4 .6 2.9 .5 .1 .6 7.5 .5-3.4 .6-4.8 .5-6.9 .6 6.4 .6-7.9 .5-2.3 .6 9.1 .5 2.2 .6 .9 .5 1.7 .6 9.3 .5-8.3 .6-6.4 .5-13.2 .6 14.3 .6 9.6 .5-8 .6-4 .5 6.4 .6 7.4 .5-8.3 .6 1.6 .5 5 .6-6.4 .5-2.9 .6-9 .6 8.3 .5 4.9 .6-.9 .5-13.5 .6 1.8 .5 10.7 .6-7.8 .5 .7 .6 11.4 .5 2.2 .6-3.5 .6 1.3 .5-3.6 .6-10.2 .5-7.8 .6 16.4 .5 2.1 .6 5.8 .5 .5 .6 2.7 .5 .9 .6-10.3 .6 5.3 .5-13.8 .6-3.6 .5-1.6 .6 8 .5 3.1 .6 11.1 .5-.9 .6-.4 .5-11.8 .6 7.3 .6 4.1 .5-7.3 .6-4.7 .5 5 .6-3.6 .5 1.2 .6-10 .5 2 .6 15 .5-11 .6 7.6 .6-5.6 .5 9.1 .6-10.2 .5 1.3 .6-2.8 .5 11.3 .6-4.3 .5 2.1 .6-4.7 .5-.9 .6 9.7 .6-11.5 .5-3.7 .6 4.9 .5 8.2 .6-4.4 .5-3.9 .6 5.8 .5-2.8 .6 8.8 .5-8.9 .6 10.2 .6-21.7 .5 3.6 .6-1.7 .5 4.5 .6 4.5 .5 10.6 .6-12.8 .5 5.5 .6-2.8 .5-2.8 .6-4.9 .6 1.3 .5 6.9 .6-4.1 .5-4.7 .6 10.2 .5 3.6 .6-4.6 .5-1.1 .6 10.1 .5 3.6 .6-7.5 .6 7.9 .5-10.5 .6 1.8 .5-6.2 .6-4.4 .5 11.7 .6 5.7 .5-15.5 .6-2.6 .5-6.1 .6-6.1 .6 12.9 .5-1.6 .6-5.9 .5 11.9 .6-13.8 .5 1.7 .6 20.8 .5 2.5 .6 2.3 .5-4.4 .6-5.5 .6-3.2 .5 16.3 .6-2 .5-.5 .6-1.7 .5-13.2 .6 6.3 .5-6.6 .6-1 .5-7.8 .6-3 .6 2.5 .5-8.8 .6 10.4 .5-5 .6 14.1 .5 1.7 .6 7.7 .5 1.2 .6 .5 .5 1.4 .6-9.9 .6-1.9 .5-8.2 .6 2.7 .5 9.6 .6 5 .5-15.8 .6 2.8 .5-4.7 .6 3.6 .5-4.5 .6 6.1 .6 5.9 .5-2.1 .6 4.2 .5-1.3 .6 4.1 .5 3.2 .6-12.5 .5-1.1 .6-2.9 .5 5.6 .6-10.3 .6 4.4 .5 9.4 .6-16.8 .5 8.8 .6-2.1 .5 4.9 .6 6.9 .5 12.3 .6-10.5 .5-1.1 .6 4.6 .6-6.3 .5-2.9 .6-77.4 .5-75.7 .6-73.9 .5 1.9 .6 2.3 .5 10.5 .6 2.9 .5-.1 .6 9.8 .6 5 .5-1.7 .6-.4 .5 4.8 .6 4.5 .5 17.6 .6 20.4 .5 9.1 .6 5.6 .5 14.3 .6 14.4 .6 21.6 .5-9.1 .6 12.9 .5 10.7 .6 10.1 .5-11.9 .6 19.7 .5-7.8 .6 10.4 .5 5.8 .6 2.4 .6 8 .5-7.2 .6-14 .5 3.2 .6 1.2 .5 11.6 .6-4.9 .5 12.9 .6 10.1 .5-7.6 .6 2.4 .6-5.2 .5 12.8 .6 0 .5-5 .6-3.3 .5 13.2 .6-9.4 .5 14.5 .6-6.7 .5-5.2 .6 11 .6 1.1 .5-10.7 .6 4.8 .5 3.5 .6 11.5 .5 .8 .6-7.3 .5 3.1 .6 2.2 .5-1.5 .6 .7 .6-11.6 .5 8.1 .6 8.4 .5-10.1 .6 1.9 .5 13.3 .6-7.9 .5 2.1 .6 10.6 .5-15.5 .6-5.9 .6 14.4 .5-7.8 .6 3.4 .5-3.5 .6-4.3 .5-2.2 .6 8.8 .5-6.8 .6 1.5 .5 8.6 .6-9 .6-4.5 .5 2.7 .6-3.5 .5 1.8 .6 2.6 .5-8.4 .6 6.4 .5 4.1 .6 8.8 .5-1.6 .6 4.7 .6-8.5 .5-5.9 .6 8 .5-5.3 .6 3.2 .5 1.9 .6 8.1 .5-8.3 .6 10.1 .6-3.9 .5-14.2 .6-2.3 .5 2.4 .6 11.3 .5 .5 .6-8.6 .5 1.3 .6-3.6 .5-4.6 .6 3.5 .6 7.2 .5-3 .6 3.8 .5-5.1 .6 6.7 .5-14.6 .6-1.2 .5 10.4 .6 1.8 .5 1.8 .6 2.6 .6-16 .5 15.1 .6-6.2 .5 6.2 .6 5.5 .5-5.2 .6-9 .5-2.2 .6-1.6 .5 .6 .6 4 .6-10.3 .5 11.5 .6 6 .5 8.6 .6-2 .5-9.3 .6-2.3 .5-3.6 .6-4.2 .5 4.2 .6 10.9 .6-5.5 .5 2.4 .6-6 .5 12.4 .6-6.6 .5 3.5 .6-22.8 .5 17.9 .6-4.7 .5 5.7 .6 4.9 .6 6.8 .5-3.8 .6-5 .5-2 .6-7.6 .5 6.6 .6-3.5 .5 6.1 .6-4.3 .5-5.9 .6 1.7 .6-4.4 .5-3.2 .6-.8 .5 6.3 .6 14.6 .5-15.5 .6-11.6 .5 11.7 .6 16 .5-3.3 .6-3.6 .6 6.5 .5-8.6 .6 4.1 .5-.3 .6 1.6 .5 4.6 .6-22.2 .5 18.2 .6-3.6 .5-7 .6 1.6 .6 1.6 .5-2.2 .6-5.4 .5-4.5 .6 12.8 .5-1.6 .6-10.1 .5 17.6 .6-5.5 .5-10.8 .6 7.1 .6 13.4 .5-1 .6-3.4 .5 8.2 .6-5.3 .5-5.3 .6 1 .5 4.8 .6-.6 .5-6.7 .6-2.9 .6-.4 .5-8.4 .6-3.5 .5 7.3 .6 4.3 .5-2.6 .6 2.9 .5-3.1 .6-3.8 .5 9.6 .6 6.1 .6-3.4 .5-5.7 .6 7.4 .5-2.8 .6-4.8 .5 1.4 .6-.1 .5-6.2 .6 6.1 .5-6.3 .6-1.5 .6 6.4 .5 1.4 .6-5.7 .5-8.7 .6 14.3 .5 0 .6 4.9 .5-6.6 .6 14.4 .5 3.9 .6-8.2 .6 2.9 .5-2.2 .6-1.7 .5-.7 .6-10.8 .5 1.9 .6-.8 .5 4.7 .6 4.9 .5-2.4 .6-5.6 .6 9 .5-2.2 .6 .4 .5-12.4 .6 10.2 .5-1.1 .6 .4 .5-2.4 .6-19.9 .5 10.5 .6 3"/>
</g>
<path d="M783.4 500.7v5.5M783.4 809.8v-5.5M894.3 500.7v5.5M894.3 809.8v-5.5M1005.2 500.7v5.5M1005.2 809.8v-5.5M672.5 732.5h5.5M1054.6 732.5h-5.5M672.5 655.2h5.5M1054.6 655.2h-5.5M672.5 578.0h5.5M1054.6 578.0h-5.5" stroke="#262626" stroke-width="2" fill="none"/>
<rect x="672.5" y="500.7" width="382.1" height="309.1" fill="none" stroke="#262626" stroke-width="2.4"/>
<text transform="translate(672.2 850.9) scale(1 1.045)" text-anchor="middle" font-size="33" fill="#262626">0</text>
<text transform="translate(783.1 850.9) scale(1 1.045)" text-anchor="middle" font-size="33" fill="#262626">200</text>
<text transform="translate(894.0 850.9) scale(1 1.045)" text-anchor="middle" font-size="33" fill="#262626">400</text>
<text transform="translate(1004.9 850.9) scale(1 1.045)" text-anchor="middle" font-size="33" fill="#262626">600</text>
<text x="662.1" y="821.0" text-anchor="end" font-size="33" fill="#262626">-20</text>
<text x="662.1" y="743.7" text-anchor="end" font-size="33" fill="#262626">0</text>
<text x="662.1" y="666.5" text-anchor="end" font-size="33" fill="#262626">20</text>
<text x="662.1" y="589.2" text-anchor="end" font-size="33" fill="#262626">40</text>
<text x="662.1" y="511.9" text-anchor="end" font-size="33" fill="#262626">60</text>
<text x="863.5" y="891.1" text-anchor="middle" font-size="33" fill="#262626">Time(s)</text>
<text transform="translate(565.2 656.2) rotate(-90)" text-anchor="middle" font-size="33.6" fill="#262626"><tspan x="0" y="0">PN-posterior residuals</tspan><tspan x="0" y="39.3">(m)</tspan></text>
<path d="M1326.1 500.7V809.8M1437.5 500.7V809.8M1548.8 500.7V809.8" stroke="#b3b3b3" stroke-width="2.2" stroke-dasharray="8 2 4 2" stroke-dashoffset="4.2" fill="none"/>
<path d="M1214.8 780.4H1598.4M1214.8 710.5H1598.4M1214.8 640.6H1598.4M1214.8 570.6H1598.4" stroke="#b3b3b3" stroke-width="2.2" stroke-dasharray="8 2 4 2" stroke-dashoffset="11.6" fill="none"/>
<g clip-path="url(#c5)" fill="none" stroke-width="3.3" stroke-linejoin="round" stroke-linecap="round">
<path stroke="#ff0000" d="M1214.8 635.7l.6 31.3 .5 33.3 .6-48.8 .5-.5 .6 25.7 .5-19.8 .6-47.5 .6 31.3 .5 17.6 .6 29 .5 16.4 .6-50.3 .5-60.7 .6-10.5 .6-5.6 .5-23.9 .6 56.1 .5 14.8 .6 44.8 .5-8.2 .6-9.7 .5 17.9 .6-52.6 .6 19.1 .5-18 .6 16.6 .5-24.3 .6-45 .5 38 .6 40.2 .6 71.3 .5-54 .6 29.8 .5-83.7 .6 57.6 .5 19.9 .6-29 .6-29.4 .5 79.5 .6-40.5 .5-17.2 .6-12.2 .5 21.5 .6 6.7 .6-65.7 .5 21.9 .6 50.3 .5-15.7 .6 10.4 .5-24.6 .6 48.5 .6 6.4 .5-50 .6-11.2 .5 18.3 .6-18.3 .5 37.3 .6-16.8 .5-45.3 .6 11.9 .6-10.5 .5 38.9 .6-13.1 .5 60.7 .6-38 .5 4.7 .6 13 .6-33.5 .5 4.9 .6 28.6 .5-67.9 .6-44.1 .5 73.9 .6-15.6 .6-4.5 .5-13.1 .6 1.1 .5 12.3 .6-10.2 .5 54.4 .6 5.3 .6-22.6 .5 11.5 .6-.9 .5-21.6 .6-1 .5 66.3 .6-28.2 .6-44.5 .5-25 .6 14.7 .5 2.8 .6 51.2 .5 61.3 .6-59.1 .5 2.2 .6-32 .6-7.9 .5 21.2 .6-50.6 .5-8.5 .6 46.6 .5-5.5 .6 52.9 .6-33.9 .5 7.7 .6 33 .5-77.5 .6 18 .5 33.8 .6-36 .6 13.4 .5-15.2 .6 23.7 .5 27.8 .6-18.7 .5-56.4 .6 13 .6 21.4 .5 49 .6-31.9 .5-40.6 .6 .4 .5-23.4 .6 45.3 .6 101.4 .5-85 .6-22.1 .5-12.4 .6 69.3 .5-12.3 .6-43.3 .5 46.4 .6-34.5 .6-21.2 .5 30.6 .6 5.8 .5-36.2 .6 5.5 .5-32.7 .6-42.8 .6 62.9 .5-32.9 .6 22.4 .5 40.4 .6 17.5 .5 24.5 .6-20.7 .6-1.8 .5-29.2 .6-14.9 .5 79.9 .6 14.4 .5-45.5 .6-20.5 .6-37.2 .5-34.8 .6 40.9 .5 27.6 .6-12.4 .5 3.5 .6-.7 .6 12.2 .5-17.6 .6 46.1 .5 36.5 .6-39.5 .5-6.5 .6 60.7 .5-36.8 .6-32.8 .6-31.4 .5 23.7 .6 10.6 .5-92 .6 53.1 .5-80.9 .6 52.3 .6 3.2 .5-24.5 .6 51.5 .5-19.3 .6 7.5 .5-1.9 .6 33.7 .6 45.1 .5 .9 .6-46 .5 66.2 .6-36.8 .5 48.2 .6 12.1 .6-66.9 .5 44.1 .6-33.3 .5-48 .6 10.1 .5-16.7 .6-6 .5-21.8 .6 19.4 .6 38.9 .5-68.8 .6-8.3 .5 32 .6 5 .5 60.4 .6 2.2 .6-9.2 .5 40.1 .6-47.7 .5 29.1 .6-86.2 .5 28.8 .6 15.8 .6-32.7 .5 20.4 .6-22.2 .5 61.4 .6-76.5 .5 22 .6 33.7 .6-29.1 .5 19.9 .6-37.5 .5-47.4 .6 53 .5 62.5 .6-55.6 .6 1.6 .5-3 .6 11.4 .5 29 .6 28.6 .5 57 .6-112 .5 1.1 .6 39.6 .6-29.8 .5 45.1 .6-22.7 .5-30.8 .6 13.2 .5 57.5 .6-11 .6-69.2 .5 58 .6-41.5 .5 76.5 .6-43.3 .5-17.1 .6-54.8 .6 41.2 .5-62.8 .6 46 .5-32.8 .6 92.5 .5-13.6 .6-67.7 .6 38.3 .5-58.9 .6 53.9 .5 1.7 .6-27.1 .5-8.2 .6 47.9 .6-33.1 .5 4.6 .6-34.6 .5 67.7 .6-16.3 .5 13.6 .6-4.6 .5-6.4 .6-6.5 .6 1.2 .5-47.6 .6 35 .5 7.1 .6 41.8 .5 15.3 .6 .7 .6 14.6 .5-38.9 .6-12.1 .5-24.9 .6 9.6 .5-18.4 .6 38.2 .6-2.3 .5-28.8 .6 40.5 .5-66.4 .6 45 .5-38.1 .6 34 .6 48.1 .5-21.5 .6-44.1 .5-12.3 .6 28.7 .5-20.2 .6-25.8 .6 17.7 .5-36.3 .6 86 .5 28.9 .6-36 .5 48.6 .6 19.7 .5-62.5 .6-95.5 .6 25.2 .5-6.1 .6 41.2 .5 5 .6 11.5 .5-3.8 .6-21.1 .6 11.6 .5 41.3 .6 15.8 .5-44.4 .6 40.8 .5 13.8 .6-26.3 .6-15.3 .5-44.4 .6-57.7 .5 79.7 .6-45.9 .5-.5 .6 16.9 .6 68.1 .5-69.2 .6-13.1 .5 24.7 .6 63.2 .5-14.2 .6-28.3 .6-45.6 .5 57.7 .6 50.1 .5-58.7 .6-49.9 .5 85.6 .6 28.4 .5-31.1 .6-65.2 .6 32.1 .5-20 .6 6.8 .5-25 .6 59.1 .5-31.9 .6-19.7 .6 47.5 .5 9.1 .6-91.4 .5 31.7 .6 14.8 .5 16.6 .6-25.7 .6 43 .5 .1 .6-67.4 .5 32.4 .6 24.6 .5 78.5 .6-1.8 .6-78.9 .5 2.2 .6 62.1 .5-39.6 .6-40.3 .5-29.4 .6-18.3 .6 39.2 .5 23.2 .6 3.8 .5-42.1 .6-7.5 .5 26.2 .6 19.5 .5 20.6 .6 24.1 .6-99.5 .5 22.3 .6 66.2 .5-38.3 .6 75.6 .5-96.5 .6 34.8 .6 61.3 .5-165.5 .6 91.1 .5-25.1 .6 60.7 .5 14.4 .6-52.1 .6 8.5 .5-22.1 .6 17.8 .5 35.5 .6-51.8 .5 19.5 .6-1.8 .6 33.3 .5-23.4 .6-40.1 .5 9.2 .6 19.4 .5 14 .6-18 .6-.9 .5 6.1 .6-7.8 .5-26.7 .6-22.7 .5 48.8 .6 32.5 .5-47.9 .6 38.4 .6 18.8 .5-36.6 .6-37.7 .5-.4 .6-11.1 .5 5.3 .6 57.7 .6-19.4 .5 40.6 .6-20.3 .5-2.1 .6 7.4 .5-34.9 .6-23.9 .6 93.5 .5-67.1 .6 49.2 .5-48.9 .6 62.4 .5 6.5 .6-63.2 .6-47.1 .5 72.3 .6 21.2 .5-53.6 .6 34.5 .5 28.9 .6-19.2 .6-39.6 .5-66.6 .6 19.9 .5-6.4 .6 1.8 .5 29.7 .6 11.9 .5 25.3 .6-40.8 .6 88.8 .5-17.8 .6-35.3 .5 64.1 .6-59.7 .5 26.6 .6 32.2 .6-37.8 .5 1 .6-9.6 .5 9.3 .6-38.1 .5-46 .6 22.2 .6-5.9 .5-25.5 .6 43.7 .5 32.3 .6 13.6 .5-1.4 .6-.7 .6 25.3 .5-15 .6-47.9 .5-13.4 .6-18.9 .5 37.3 .6-24.4 .6 9.6 .5 48 .6 51.9 .5-61.1 .6 44.6 .5-18.4 .6-34 .5-55.7 .6 6.2 .6 59.2 .5-9.3 .6 .1 .5-20.4 .6 19.4 .5-7.3 .6-15.9 .6 26.2 .5 52.2 .6-38.8 .5-46.4 .6 14.3 .5-25.7 .6-5.9 .6 91.7 .5-16.8 .6-45 .5-8.3 .6-3.7 .5-14.4 .6 33.6 .6 .1 .5 32.9 .6 20.5 .5-76.9 .6 55.2 .5-.6 .6-24.6 .5-18 .6 19.9 .6-20.6 .5 4.7 .6-25.5 .5-18.5 .6 66.7 .5-3.3 .6 18.9 .6-31.2 .5-12.2 .6 62.8 .5-28.2 .6 53.2 .5-88 .6 40.7 .6-.2 .5-18.4 .6 34.3 .5 2 .6-30.2 .5-16 .6 2.9 .6-12.4 .5 10.3 .6 18.3 .5-69.4 .6 17 .5 11.7 .6 55.6 .6-79.6 .5 10.8 .6 20.5 .5 2.9 .6-43 .5 69 .6 33.9 .5-55.5 .6 30.9 .6 10.9 .5-4.4 .6 21.7 .5-9.1 .6-72.8 .5-23.5 .6 85.1 .6-53.4 .5-40.4 .6 38.9 .5 16.6 .6 0 .5 39.9 .6-49.8 .6 99.3 .5 10.2 .6-60.6 .5-77.3 .6 24.5 .5 19.3 .6-8.2 .6 13.7 .5 35.9 .6 13.8 .5 45.6 .6-80.9 .5-13.9 .6 14 .6 16 .5-50.9 .6 37.9 .5 7.9 .6 3.6 .5-72.3 .6 18.4 .5 12 .6-37.6 .6 44.8 .5 10.8 .6-78.5 .5 38.9 .6 30.1 .5-40.3 .6 53.9 .6 82.7 .5-53.6 .6-43.6 .5 46.9 .6 4.2 .5-64.2 .6 87.4 .6-31.1 .5 14.4 .6-68.1 .5-59.2 .6 50.9 .5-51.7 .6 24.4 .6 61.9 .5-89 .6 45.3 .5 8.7 .6 29.9 .5-34.5 .6 72.8 .6-25.6 .5-9 .6 11.2 .5-32.6 .6 66.2 .5-53.7 .6 10.5 .5 .3 .6 58.3 .6-22.5 .5-26.4 .6 18.7 .5-54.9 .6 7.2 .5-61.9 .6 44.9 .6-.2 .5 69.8 .6 12.7 .5-48.5 .6 26.4 .5-29.4 .6-5.4 .6-19.5 .5 58.7 .6-48.9 .5 28.1 .6 28.6 .5-77 .6 40.1 .6-31.1 .5 15.7 .6 1.4 .5-44.3 .6 66.2 .5-53.1 .6 20.7 .6-27.4 .5 3.3 .6 32.7 .5 26.7 .6 29.8 .5-2 .6-4.5 .5 .2 .6 .4 .6-72.1 .5 25.8 .6-24.8 .5-24.9 .6-34.7 .5 110.9 .6 44.5 .6-58.8 .5 .5 .6-31.6 .5 3.6 .6 25.6 .5-7.9 .6-3"/>
<path stroke="#00ff00" d="M1214.8 640.5l.6 19.1 .5 22.4 .6-45.7 .5 13.3 .6 33.6 .5-19.6 .6-44 .6 34.8 .5 12.4 .6 14.2 .5 6.5 .6-44.6 .5-48 .6-2.1 .6-6.4 .5-23.9 .6 61 .5 12.1 .6 39.4 .5-16.1 .6-15.3 .5 18 .6-51.7 .6 18.5 .5-18.4 .6 19 .5-19.9 .6-39.9 .5 33.9 .6 31.3 .6 68.3 .5-53.2 .6 32.4 .5-75.7 .6 64 .5 22.1 .6-22.6 .6-30.1 .5 75.5 .6-43.6 .5-26.9 .6-18.4 .5 24.9 .6 12.6 .6-64.5 .5 10.9 .6 44 .5-7.4 .6 18.2 .5-16.2 .6 54.5 .6 6 .5-65.4 .6-26.9 .5 16.8 .6-7.8 .5 46.1 .6-15.9 .5-49.7 .6 1.2 .6-9.9 .5 52.3 .6-6.1 .5 58.2 .6-49 .5-.8 .6 20.5 .6-24.5 .5 6.7 .6 19.1 .5-78.5 .6-37.5 .5 92.8 .6-9 .6-11.5 .5-16.8 .6-1.8 .5 5.1 .6-12.5 .5 58.7 .6 7.3 .6-29.4 .5 8.7 .6 5.5 .5-17.7 .6-5.1 .5 59.4 .6-27.8 .6-37.5 .5-20 .6 18.1 .5 .5 .6 48.5 .5 61.5 .6-60.3 .5-2.1 .6-34.1 .6-6.9 .5 22.4 .6-46.8 .5-2.5 .6 44.2 .5-20 .6 44.5 .6-30.8 .5 11.1 .6 39.9 .5-76.9 .6 10.7 .5 32.9 .6-29.2 .6 17.5 .5-11.2 .6 28.1 .5 27.1 .6-17.7 .5-49.9 .6 11.7 .6 16.9 .5 53.7 .6-31.6 .5-53 .6-5.6 .5-20.4 .6 44.6 .6 91.1 .5-89.6 .6-11.4 .5-1.5 .6 67.4 .5-17 .6-36.5 .5 50.7 .6-45.6 .6-29.5 .5 30.3 .6 5.3 .5-34.7 .6 15 .5-28.3 .6-44.9 .6 56.3 .5-35.8 .6 35.7 .5 50.6 .6 10.7 .5 16.7 .6-18.9 .6-1.6 .5-32.8 .6-18.9 .5 73.6 .6 13.7 .5-39.4 .6-13.1 .6-29.1 .5-31.6 .6 37.6 .5 18.5 .6-21.1 .5 8 .6 6.4 .6 7.1 .5-25.5 .6 43.3 .5 44.2 .6-25.7 .5-2.2 .6 51.8 .5-45.2 .6-30.5 .6-34.4 .5 14.7 .6 9.5 .5-79.7 .6 65.5 .5-77.1 .6 44.8 .6-6.2 .5-27.2 .6 50.5 .5-19.6 .6 10.3 .5 7.7 .6 36.8 .6 39.9 .5-1.4 .6-39.3 .5 72.9 .6-40.8 .5 40.4 .6 11.9 .6-69.1 .5 35.2 .6-31.4 .5-40.4 .6 11.2 .5-17.9 .6-11.1 .5-23.6 .6 17 .6 31.6 .5-68.8 .6 2 .5 36.6 .6 .7 .5 58.2 .6 6.4 .6-4.5 .5 40.6 .6-47.1 .5 30 .6-86.7 .5 27.7 .6 18.4 .6-28.4 .5 17.9 .6-24.6 .5 65 .6-79.8 .5 10.9 .6 28.7 .6-24.2 .5 23.7 .6-33.4 .5-44.5 .6 55.9 .5 66.1 .6-55.1 .6-6.6 .5-12.8 .6 13 .5 35.2 .6 24.2 .5 51.3 .6-108.8 .5-1.3 .6 29.3 .6-27.1 .5 55.9 .6-15.8 .5-31.4 .6 9.2 .5 59 .6-4.8 .6-66.7 .5 52.8 .6-49 .5 77.8 .6-35.5 .5-14.2 .6-57.4 .6 39 .5-57.6 .6 45.7 .5-43.8 .6 87 .5-7 .6-60.7 .6 38.2 .5-64.2 .6 47.7 .5-.9 .6-25.7 .5 .2 .6 55.1 .6-26.8 .5 7.1 .6-37.6 .5 61.8 .6-18.3 .5 14.5 .6-8.3 .5-14.4 .6-7.2 .6 5 .5-45.5 .6 34.7 .5 1.4 .6 33.1 .5 8 .6 5.1 .6 29 .5-29.1 .6-8.6 .5-24 .6 10.7 .5-12.2 .6 43.2 .6-8.7 .5-48.3 .6 28.8 .5-60 .6 53.2 .5-41.1 .6 25.8 .6 44.4 .5-21.1 .6-43.3 .5-6.1 .6 36.6 .5-16.8 .6-23 .6 18.1 .5-37.5 .6 93.1 .5 32.9 .6-46.6 .5 38.2 .6 15.4 .5-57.2 .6-85.3 .6 28.6 .5-9.6 .6 35.9 .5 7.8 .6 18.3 .5-1.1 .6-23.9 .6-1 .5 35.3 .6 21 .5-43 .6 36 .5 6.5 .6-29.7 .6-5.5 .5-38.1 .6-64.4 .5 76.9 .6-38.3 .5 9.6 .6 24.2 .6 61.3 .5-84 .6-14.2 .5 34.1 .6 64.1 .5-23.2 .6-27.6 .6-32.8 .5 69.2 .6 47.4 .5-68.5 .6-56.1 .5 79.4 .6 22.7 .5-31.7 .6-55.4 .6 42.4 .5-20 .6-1.6 .5-33.6 .6 63.5 .5-24.7 .6-20 .6 46.1 .5 17.6 .6-85.6 .5 25.2 .6 5 .5 15.4 .6-19.5 .6 43.7 .5-4 .6-72.7 .5 27 .6 20.7 .5 78.3 .6 3.9 .6-70.8 .5 9.1 .6 63.2 .5-46.7 .6-39.1 .5-20.2 .6-17.6 .6 35.7 .5 22.5 .6 .4 .5-43.7 .6-5.4 .5 26.4 .6 14.7 .5 9.5 .6 16.7 .6-94.5 .5 30.9 .6 67.5 .5-38.7 .6 77.9 .5-99.5 .6 34.4 .6 74.7 .5-157.9 .6 79.5 .5-31.5 .6 63.4 .5 16.7 .6-47 .6 14.7 .5-16.1 .6 11.6 .5 26.7 .6-53.7 .5 14 .6-8.5 .6 33 .5-19.5 .6-33.2 .5 14.8 .6 22.2 .5 19.6 .6-23.8 .6-11.7 .5 8.1 .6-5.7 .5-33.4 .6-23.4 .5 50.6 .6 28.4 .5-57.8 .6 36.2 .6 23 .5-23.1 .6-31.3 .5-6.9 .6-12.7 .5 13.2 .6 61.9 .6-23.5 .5 41.8 .6-18.1 .5-6.4 .6 2.4 .5-32.2 .6-18.2 .6 88.5 .5-73.6 .6 54.9 .5-45.9 .6 61.3 .5 17 .6-55.4 .6-55.6 .5 57.6 .6 14 .5-56.2 .6 32.3 .5 30.5 .6-13.2 .6-34.8 .5-66 .6 21.4 .5-5.9 .6 .8 .5 29.3 .6 11.2 .5 24.2 .6-39.1 .6 88.7 .5-14.8 .6-31.7 .5 57.4 .6-67.2 .5 30.8 .6 29.9 .6-46.3 .5 9.6 .6 6.9 .5 15 .6-47.8 .5-56.9 .6 23.1 .6-.8 .5-20.3 .6 48.8 .5 31.1 .6 6.6 .5-9.4 .6-4.1 .6 28.4 .5-8.5 .6-46.3 .5-8.5 .6-12.6 .5 28.2 .6-39 .6 7.8 .5 52.6 .6 52.9 .5-63.2 .6 35.4 .5-20.8 .6-21.2 .5-42.1 .6 11.2 .6 57.1 .5-18.4 .6-3.3 .5-15.6 .6 26.9 .5-3.9 .6-23.5 .6 14.5 .5 51.7 .6-31.7 .5-38.2 .6 13.3 .5-36.7 .6-10.3 .6 92.7 .5-17 .6-44.1 .5-7.6 .6-4 .5-11.7 .6 37.3 .6 2.6 .5 32.9 .6 14.4 .5-80.5 .6 53.2 .5 2.5 .6-14.3 .5-15.6 .6 16.7 .6-22.1 .5 6.5 .6-22.9 .5-26.2 .6 57.2 .5 1.5 .6 28.6 .6-24.5 .5-10.1 .6 60.2 .5-29 .6 51.8 .5-98.5 .6 34.7 .6-.3 .5-20.7 .6 34.8 .5 6.8 .6-23.8 .5-9.2 .6 3.3 .6-20 .5 3.1 .6 10.1 .5-72.8 .6 19.8 .5 19.6 .6 67.7 .6-72.1 .5 14.1 .6 18 .5-6 .6-47.3 .5 69.4 .6 32 .5-60.8 .6 29.2 .6 18.3 .5-3.6 .6 20.7 .5-3 .6-69.8 .5-30.7 .6 80.1 .6-53.4 .5-48.1 .6 38.2 .5 31.1 .6 6.1 .5 38.3 .6-46.8 .6 95 .5-5.8 .6-67 .5-75.3 .6 25.4 .5 27.4 .6 2.4 .6 24.6 .5 39.2 .6 10.6 .5 45.9 .6-86 .5-16.2 .6 16.2 .6 9.9 .5-58.8 .6 33.6 .5 5.5 .6 6.7 .5-66.9 .6 24 .5 16.2 .6-39.2 .6 39.6 .5 7.1 .6-77.4 .5 39.9 .6 23 .5-48 .6 58.5 .6 90.4 .5-49.3 .6-43.1 .5 40.7 .6 4.7 .5-55.4 .6 88.2 .6-38.8 .5 11.8 .6-65.5 .5-63.6 .6 45.3 .5-46.8 .6 37.5 .6 70 .5-92.5 .6 37.2 .5 10.2 .6 27.8 .5-45 .6 76.1 .6-15.9 .5-7.6 .6 8.3 .5-34.7 .6 65.5 .5-56.2 .6 7.1 .5-1.5 .6 58.8 .6-19 .5-26.1 .6 18.7 .5-50.2 .6 10.1 .5-60.8 .6 47.8 .6 2.2 .5 68.1 .6 7.6 .5-53.8 .6 24.7 .5-24.7 .6 1.6 .6-22.1 .5 48.7 .6-58.5 .5 29.4 .6 38.8 .5-74.6 .6 40 .6-29.2 .5 15.7 .6-1.5 .5-46.1 .6 64.5 .5-50.7 .6 25 .6-29.3 .5 3.8 .6 40.8 .5 23.3 .6 20.1 .5-2.1 .6 3.5 .5 1.6 .6-4.8 .6-77.3 .5 17.9 .6-22.1 .5-4.9 .6-26.7 .5 98.6 .6 33.4 .6-54.6 .5 8.6 .6-34.4 .5-5.8 .6 22.3 .5-6.2 .6 .3"/>
<path stroke="#0000ff" d="M1214.8 646.4l.6 24.3 .5 18.2 .6-61.6 .5-.2 .6 39.4 .5-1.6 .6-34.2 .6 32.7 .5 8 .6 16.3 .5 11.9 .6-46.7 .5-54.9 .6-12.4 .6-15.3 .5-18.3 .6 67.9 .5 16.2 .6 47.1 .5-13.8 .6-22.1 .5 11.6 .6-50.1 .6 25.5 .5-19.5 .6 5.1 .5-30.7 .6-39.5 .5 44.5 .6 44.8 .6 68.5 .5-56 .6 35.8 .5-78.4 .6 61.5 .5 28 .6-20.4 .6-28 .5 79 .6-47.1 .5-35.7 .6-28.5 .5 16.1 .6 11.3 .6-60.3 .5 20.5 .6 49.6 .5-3.8 .6 20.1 .5-22.9 .6 44.7 .6 .3 .5-55.9 .6-11 .5 25.1 .6-13.8 .5 39 .6-12.3 .5-41.8 .6 6.8 .6-14.2 .5 35.1 .6-22.1 .5 57.3 .6-39.4 .5 5.4 .6 16.8 .6-31 .5 8.3 .6 29.9 .5-68.4 .6-43.3 .5 78.7 .6-9.4 .6-6.2 .5-19.8 .6 4.4 .5 18.9 .6-9.4 .5 52 .6-1.4 .6-33.4 .5 9.8 .6 5.8 .5-21.9 .6-4.1 .5 67.3 .6-28.7 .6-45.6 .5-21.3 .6 20.7 .5-.5 .6 47.3 .5 63.3 .6-56.6 .5 5.2 .6-32.9 .6-12.7 .5 25.1 .6-48.7 .5-13 .6 41.3 .5-14.6 .6 49.7 .6-28.6 .5 12.2 .6 39.4 .5-77.4 .6 12.4 .5 33 .6-31.1 .6 16.7 .5-11.7 .6 28.5 .5 27.2 .6-19.2 .5-54.4 .6 12.9 .6 26.9 .5 55.2 .6-37.6 .5-47.1 .6-6.6 .5-29.6 .6 41.5 .6 96.7 .5-84.9 .6-15.4 .5-9.4 .6 62.5 .5-14.2 .6-36.4 .5 45 .6-39.2 .6-15 .5 41.8 .6 7.2 .5-40.2 .6 8 .5-28.4 .6-42.8 .6 58 .5-39.9 .6 25.8 .5 48.4 .6 19.2 .5 17.5 .6-30 .6-8.4 .5-33.1 .6-13.4 .5 79.7 .6 11.7 .5-46.2 .6-18 .6-32.8 .5-23.3 .6 60.6 .5 33.2 .6-26.9 .5-6.8 .6 1.3 .6 7.9 .5-23.4 .6 48.2 .5 42.2 .6-29.8 .5-5.2 .6 49.4 .5-47.1 .6-28.2 .6-27.5 .5 23.9 .6 9.6 .5-89.5 .6 57.7 .5-83.3 .6 39.4 .6 .7 .5-15.6 .6 54.4 .5-17 .6 12.9 .5 .8 .6 26.9 .6 39.3 .5 3.8 .6-41.3 .5 68.1 .6-41.7 .5 44 .6 18.4 .6-63.4 .5 35.6 .6-40.9 .5-50.4 .6 14.3 .5-12.1 .6-13.8 .5-20.4 .6 25 .6 30.7 .5-71.4 .6-.1 .5 34.8 .6 3.5 .5 57.1 .6 .8 .6-1.7 .5 55.6 .6-39.1 .5 21.4 .6-94.6 .5 29.8 .6 16.6 .6-34 .5 19.9 .6-22.4 .5 57.3 .6-79.2 .5 20.7 .6 27.6 .6-36.2 .5 16.6 .6-30.7 .5-38.9 .6 60.3 .5 69.7 .6-53 .6-1.4 .5-10.3 .6 3.8 .5 21.3 .6 23.7 .5 60.7 .6-104.6 .5 1.4 .6 41.7 .6-23.8 .5 39.9 .6-30.2 .5-30.3 .6 18.4 .5 69.9 .6-4.3 .6-74.6 .5 44.4 .6-49.2 .5 83.3 .6-34.6 .5-13.1 .6-56.7 .6 30.7 .5-66.8 .6 47.5 .5-37.7 .6 87.6 .5-6 .6-56.9 .6 41.1 .5-56.3 .6 53.7 .5-4.3 .6-27.6 .5-2.4 .6 52.8 .6-27.4 .5 7.5 .6-36.8 .5 65.2 .6-17 .5 9.4 .6-13.6 .5-17.1 .6-12.5 .6 1.2 .5-42.7 .6 36.7 .5-1.3 .6 37.8 .5 17.7 .6 5.6 .6 28.7 .5-27.9 .6-15 .5-31.1 .6 6.7 .5-13.2 .6 42.6 .6-8.7 .5-39.7 .6 41.1 .5-58.1 .6 48.9 .5-43.9 .6 29.4 .6 51.3 .5-21.6 .6-45.6 .5-5.8 .6 35.9 .5-22.1 .6-28.9 .6 22.4 .5-33.5 .6 85.4 .5 21 .6-47.8 .5 46 .6 19.7 .5-58.4 .6-88.1 .6 28.8 .5-2.9 .6 40.7 .5-1.7 .6 7.4 .5 4.2 .6-13.1 .6 9.5 .5 39.4 .6 13.1 .5-51.2 .6 33.3 .5 8.1 .6-23.3 .6-8.6 .5-44.9 .6-64.4 .5 77.9 .6-43.4 .5 4.5 .6 25.7 .6 72.3 .5-73.6 .6-13.9 .5 31.9 .6 63.7 .5-21.2 .6-29.8 .6-41.2 .5 60.6 .6 51.8 .5-65.2 .6-59.4 .5 83.3 .6 28.1 .5-34.7 .6-58.2 .6 50.3 .5-15.9 .6-3.8 .5-30 .6 61.5 .5-27.8 .6-23 .6 40.1 .5 12.9 .6-86.1 .5 24.2 .6 8.4 .5 17 .6-24 .6 49.8 .5 1.1 .6-72.7 .5 31.2 .6 23.5 .5 77.7 .6-5 .6-77.5 .5 11.7 .6 68.2 .5-39.5 .6-41.2 .5-31.6 .6-23.9 .6 41.4 .5 32.6 .6 3 .5-47 .6-13.6 .5 20 .6 20.7 .5 22.5 .6 22 .6-95 .5 27.6 .6 61.3 .5-39.9 .6 78.4 .5-101.4 .6 33.5 .6 67.7 .5-163.3 .6 83.1 .5-26.2 .6 70 .5 20.2 .6-52.4 .6 6.5 .5-19.1 .6 17.2 .5 33.2 .6-54.1 .5 10.1 .6-6.9 .6 43.5 .5-10.8 .6-36.5 .5 5.9 .6 10.9 .5 7.6 .6-20.7 .6-.8 .5 9.6 .6-10.5 .5-35.1 .6-25.6 .5 54.8 .6 43.2 .5-46.9 .6 29.1 .6 15.4 .5-27.8 .6-32.1 .5-3.8 .6-14.7 .5 10.3 .6 62.3 .6-22.1 .5 38.7 .6-20.8 .5 1.8 .6 13.1 .5-31.4 .6-26.5 .6 87.6 .5-67.9 .6 52.7 .5-50.8 .6 47.9 .5-3.1 .6-54.3 .6-36.8 .5 73.5 .6 22.4 .5-53.2 .6 30.3 .5 25.5 .6-15.6 .6-41.4 .5-75 .6 13.6 .5-2.4 .6 13.7 .5 32 .6 8.2 .5 24.3 .6-40.4 .6 86.1 .5-17.5 .6-28.8 .5 66.6 .6-60.7 .5 29.4 .6 31.7 .6-38.3 .5 6.5 .6-8.5 .5 4.3 .6-43.6 .5-47.1 .6 25 .6-6.2 .5-30.2 .6 41.6 .5 27.5 .6 9.2 .5 6.6 .6 9.9 .6 34.1 .5-9.1 .6-48.1 .5-16.6 .6-26.4 .5 22 .6-37 .6 11.2 .5 51.6 .6 47.4 .5-60 .6 52.2 .5-12.5 .6-28.3 .5-53.1 .6-4.3 .6 51.9 .5-3.3 .6 7.4 .5-19.8 .6 23.2 .5 0 .6-16.4 .6 17.7 .5 44.9 .6-34.2 .5-36.1 .6 18.2 .5-30.5 .6-7.8 .6 93.4 .5-18.5 .6-49 .5-17.5 .6-15.5 .5-15.9 .6 47.4 .6 14.6 .5 33.4 .6 9.3 .5-81.1 .6 59.8 .5 4.2 .6-23.1 .5-19.1 .6 16.3 .6-19.5 .5 10.3 .6-30.6 .5-29.9 .6 59.6 .5-1.1 .6 23.7 .6-23.6 .5-1.2 .6 64.4 .5-31.9 .6 47.1 .5-101.9 .6 37.3 .6 13 .5-10.4 .6 33.7 .5 4.3 .6-24.8 .5-16.8 .6-.8 .6-18.2 .5 1.7 .6 15.6 .5-66 .6 17.4 .5 14.1 .6 58 .6-81.2 .5 17.3 .6 28.8 .5 .2 .6-49.7 .5 65.2 .6 32.4 .5-51.5 .6 32.1 .6 10.5 .5-5.7 .6 18 .5-12.1 .6-73.6 .5-27.6 .6 79.5 .6-53.9 .5-36.2 .6 47.2 .5 28.5 .6 7 .5 33.9 .6-57.9 .6 99.3 .5 14.3 .6-54.2 .5-75.6 .6 16 .5 9.7 .6-9.6 .6 17.8 .5 34.3 .6 10.1 .5 47.2 .6-85.1 .5-14.7 .6 29 .6 31.1 .5-44.5 .6 33.1 .5-5.4 .6-1.1 .5-75 .6 13.5 .5 10.6 .6-36.5 .6 44.2 .5 13.5 .6-74 .5 37 .6 25.2 .5-40.1 .6 58.4 .6 79.3 .5-59.4 .6-37.2 .5 53.8 .6 .2 .5-68.2 .6 90.7 .6-25.8 .5 12.1 .6-68.5 .5-57 .6 46.7 .5-51.3 .6 26.1 .6 60.8 .5-90 .6 44.6 .5 14 .6 32.4 .5-38.3 .6 76.7 .6-19.9 .5-18.9 .6-1.8 .5-29.7 .6 74.3 .5-56.4 .6 4.2 .5-3.3 .6 61.9 .6-9.7 .5-18.6 .6 15.5 .5-60.8 .6 6.1 .5-57.9 .6 40.1 .6-2.2 .5 72.8 .6 9.7 .5-51.4 .6 27.7 .5-29.5 .6-6.4 .6-22 .5 53.1 .6-51.9 .5 33.6 .6 43.2 .5-64.9 .6 40.6 .6-39.5 .5 8.9 .6-.3 .5-46.5 .6 66.3 .5-50.8 .6 23.7 .6-26.2 .5 1.7 .6 31.6 .5 20.6 .6 22.9 .5-2.8 .6 1 .5 5.4 .6-2.5 .6-78.1 .5 26.1 .6-13.6 .5-15 .6-39.4 .5 99.5 .6 42.4 .6-51 .5 6.8 .6-32.2 .5 .2 .6 23.2 .5-11 .6-7.2"/>
<path stroke="#ffff00" d="M1214.8 632.5l.6 33 .5 26.9 .6-56.6 .5 2.4 .6 38.7 .5-11.2 .6-38.6 .6 32.3 .5 6.4 .6 15.9 .5 16.1 .6-44.2 .5-54.7 .6-12.4 .6-12.9 .5-20.3 .6 61.7 .5 15.8 .6 45.1 .5-12.9 .6-15.3 .5 14.4 .6-47.3 .6 20.4 .5-26.7 .6 11.3 .5-22.7 .6-35.9 .5 45.7 .6 38.9 .6 65.4 .5-56.2 .6 32 .5-81.8 .6 55.4 .5 21.7 .6-19.8 .6-30.7 .5 75.9 .6-40.9 .5-19.8 .6-14.5 .5 16.6 .6 8.4 .6-55.4 .5 26.3 .6 46.4 .5-19.6 .6 9.2 .5-26.3 .6 46.6 .6 9.6 .5-51.8 .6-21.3 .5 13.9 .6-8.9 .5 48.7 .6-10 .5-46.7 .6 3.3 .6-16.6 .5 37.3 .6-8.3 .5 62.6 .6-41 .5 7.6 .6 15.2 .6-37.4 .5 1.3 .6 26.3 .5-65.7 .6-35.6 .5 85.7 .6-9.4 .6-6.3 .5-23.1 .6-3.7 .5 12.1 .6-11.8 .5 55.4 .6-3.7 .6-36.3 .5 18.3 .6 13.8 .5-22.8 .6-8 .5 60.4 .6-33.3 .6-41.7 .5-10.4 .6 28 .5-2.7 .6 39.5 .5 58.6 .6-51.9 .5 7.9 .6-34.5 .6-17.5 .5 22.7 .6-39.8 .5-3.6 .6 43.2 .5-16.8 .6 38 .6-41.7 .5 21.7 .6 51.9 .5-77.3 .6 8.6 .5 30.1 .6-36.5 .6 12.2 .5-10.3 .6 37.8 .5 32.9 .6-20.3 .5-62.2 .6 4.2 .6 18.8 .5 54.8 .6-24.7 .5-39.2 .6-8.2 .5-36.9 .6 34.9 .6 98.4 .5-82.5 .6-16.6 .5-3.8 .6 71.8 .5-12.4 .6-35.3 .5 49.3 .6-43.4 .6-21.8 .5 38.9 .6 11.8 .5-35.8 .6 6.9 .5-32.2 .6-48.3 .6 53.2 .5-43.9 .6 22.7 .5 46.5 .6 18.4 .5 24.5 .6-16.7 .6-1.4 .5-35 .6-13.6 .5 84 .6 13.6 .5-48.5 .6-22.2 .6-33.5 .5-20.1 .6 53.7 .5 17.2 .6-30.6 .5 3 .6 3 .6 3.9 .5-23.9 .6 47.5 .5 44.1 .6-28.1 .5-3.5 .6 53.5 .5-37.9 .6-24.5 .6-30.2 .5 15.8 .6 3.5 .5-88.5 .6 61.3 .5-79.2 .6 43.3 .6-.7 .5-20.4 .6 58.2 .5-18.9 .6 1.6 .5-2.5 .6 35.4 .6 48.7 .5-2.2 .6-50.3 .5 63.4 .6-42.4 .5 52.5 .6 26.2 .6-66.8 .5 30.9 .6-38.4 .5-45.1 .6 15.6 .5-13.4 .6-5.9 .5-21.5 .6 18.1 .6 31.6 .5-74.8 .6-5.5 .5 35.7 .6 4.4 .5 54.1 .6-2.5 .6-2.9 .5 54.8 .6-40.3 .5 23.2 .6-88.4 .5 34.8 .6 20.4 .6-32.6 .5 19.2 .6-25 .5 58.5 .6-74.5 .5 19.6 .6 27.2 .6-32.4 .5 22.3 .6-30.1 .5-48.4 .6 49.2 .5 68 .6-48.3 .6 .9 .5-10.1 .6 1.6 .5 26.8 .6 21.5 .5 52.1 .6-100.2 .5-.5 .6 41.3 .6-13.4 .5 44 .6-17.9 .5-20.7 .6-2.2 .5 65.8 .6-20.7 .6-58.8 .5 62.9 .6-45.4 .5 85.5 .6-34 .5-5.8 .6-38 .6 9.7 .5-32.3 .6 2.7 .5-35.4 .6 77.1 .5 41.4 .6-49 .6-6.7 .5-30 .6 24.8 .5 55.9 .6-68.4 .5 25.3 .6 5.5 .6-9.4 .5 10.6 .6 14.4 .5 38.4 .6 33.4 .5-11.4 .6-97.2 .5-10.5 .6 121.1 .6-65.8 .5-18.5 .6-1.7 .5-29.7 .6 88 .5 19 .6-94.5 .6 11.7 .5 31.3 .6-13.6 .5 31.8 .6-74.3 .5 15.9 .6 21 .6 14.6 .5-9.8 .6 48.5 .5-27.7 .6 25.9 .5 5.6 .6-63.1 .6-21.6 .5-44.8 .6 87.1 .5-53.4 .6 44.3 .5-11.7 .6 11.5 .6 31.3 .5-3.4 .6 26.4 .5-50.9 .6 25.7 .5-5.5 .6-20.2 .5 34.1 .6-12.6 .6-136.5 .5 90.7 .6-32.3 .5 16.3 .6 38.3 .5 21.7 .6-18.6 .6 3.9 .5-1.8 .6 99 .5-72.4 .6 60.8 .5-82.7 .6-6.9 .6 42.5 .5 37 .6-104.3 .5-45.5 .6 110 .5-77.2 .6-9.6 .6 26.6 .5-55.8 .6 59.6 .5 2.9 .6-6.8 .5 90.9 .6-39 .6-31.3 .5 67.9 .6-45.9 .5-71.7 .6 29.7 .5 90.3 .6-83.9 .5 31.5 .6-43 .6 21.6 .5-45.3 .6 25.2 .5 63.7 .6-31.9 .5-12.7 .6-26.3 .6 .8 .5-16.7 .6 35.8 .5-21.7 .6 24.9 .5 26 .6-49.7 .6 27.9 .5-8.4 .6-3.1 .5 4.7 .6 13.3 .5 44.1 .6-41.6 .6 5.3 .5 33.6 .6 24.5 .5-9.9 .6-56.1 .5-4.8 .6-8.5 .6 37.1 .5-15.5 .6-5.1 .5 27.5 .6-10.3 .5 48.9 .6-109.5 .5 16.8 .6 35.1 .6-81.9 .5 44.9 .6-67 .5 14.7 .6 102.8 .5-85.3 .6 54.1 .6-3.1 .5-71.9 .6 85.4 .5-12.3 .6 48.2 .5 4.9 .6-18.2 .6 32.5 .5-55.5 .6-14.4 .5 67.2 .6-43 .5-39.5 .6 30 .6 21.7 .5-58.8 .6-7.6 .5 85.2 .6-70.3 .5 15.5 .6 15.3 .6-18.6 .5-2.3 .6 3.8 .5-34 .6-12.1 .5 38.5 .6 .1 .5 23.4 .6 41.1 .6-15.4 .5-18 .6-46.4 .5 70.4 .6-21.1 .5-50.5 .6 17.5 .6 10 .5-5.2 .6 36.4 .5-24.4 .6-10.6 .5 2.2 .6 15.7 .6 49.8 .5-110.3 .6 102.5 .5-48.1 .6 16.9 .5-36.2 .6 31.1 .6 3.4 .5 15.7 .6 24.2 .5-120.3 .6 11.7 .5 84.4 .6 1.2 .6-40.4 .5-91.9 .6 85.2 .5-36.4 .6 16.4 .5 55.1 .6-39.1 .5-18.6 .6 20.2 .6 20.6 .5 29.5 .6 16 .5 26.2 .6-108.8 .5 20.9 .6 42.6 .6-32.9 .5-4.1 .6 .9 .5 47.7 .6 27.7 .5-81.6 .6-12.2 .6-14.7 .5 19.6 .6-22.3 .5 25.3 .6-16.6 .5 26.5 .6-38.4 .6 12 .5 89.6 .6-34.8 .5-29.8 .6 33.3 .5-41.8 .6-61.1 .6 44.8 .5 88.9 .6-11.5 .5 3.7 .6-21.7 .5-19.3 .6-15.3 .5-13.9 .6-24.1 .6-10.3 .5 53.9 .6 50.3 .5-47.4 .6 16.3 .5-29.6 .6-4.4 .6 18 .5 19.2 .6-46.3 .5 14.4 .6 16.6 .5-61.2 .6 43.4 .6 49.2 .5-32.2 .6-74.4 .5 21.8 .6 63.6 .5-56.1 .6 100 .6-30.3 .5-38.4 .6-28.6 .5-72.4 .6 89.4 .5 38.9 .6 30.8 .5-29.2 .6-39.7 .6-9.4 .5-33 .6 7.6 .5 44 .6-15.8 .5 37.6 .6-14 .6-64.7 .5 54.5 .6 13.2 .5-5.7 .6 35.1 .5-30.3 .6 10.6 .6 58 .5-89.3 .6-7.4 .5 26.3 .6 38 .5-32.6 .6-29.5 .6-2.3 .5-1.5 .6-33.2 .5-21.6 .6 32.2 .5 54 .6-39.7 .6-63.4 .5 81.1 .6-5.8 .5-3.2 .6-9.7 .5 15.3 .6 27.1 .5-85.7 .6 116.6 .6-18.2 .5-12.4 .6 31.5 .5-21.9 .6-64.1 .5 31.8 .6 18 .6-36.2 .5-20.8 .6 44.4 .5-2.3 .6 .5 .5-3.4 .6 2.7 .6 20.7 .5 61.9 .6-85.4 .5-87 .6 78.2 .5 6.7 .6 13 .6-4.3 .5-22.1 .6 49.6 .5-22.9 .6-32.3 .5 23.5 .6 26 .6 23.9 .5-41 .6 16.5 .5-41.4 .6 61.7 .5-81.5 .6-10.4 .5 39.4 .6-19.7 .6-1.2 .5-10.1 .6 42.9 .5-26.7 .6 18 .5-28 .6 34.5 .6 63.2 .5-61.9 .6 4.6 .5-20.3 .6 41.7 .5-55.4 .6 39.8 .6-49.2 .5 69.5 .6-40.2 .5-27.5 .6-26.5 .5-5.7 .6 14.4 .6 76.5 .5-52.3 .6 20.2 .5-27.5 .6 51.3 .5-36.2 .6-13.3 .6 48.1 .5-2.8 .6-9.6 .5-66 .6 55.5 .5 22.5 .6 6.5 .5-5.6 .6 6.2 .6-15.9 .5-38 .6 25.7 .5 12.6 .6-28.1 .5-45.5 .6 22.2 .6 1.1 .5 44.8 .6 37.7 .5-10.8 .6 26.4 .5-23.6 .6 .3 .6 3.4 .5-2.7 .6-56.6 .5-.3 .6 54 .5-66 .6 23 .6-28.5 .5 42.6 .6 20.4 .5-35.6 .6 70.5 .5-70.1 .6-29.9 .6-18.5 .5-2.9 .6 22.1 .5 32.5 .6 5.6 .5-27.1 .6-3.5 .5 64.9 .6-22.6 .6-9.2 .5-18.2 .6 7.2 .5-55.2 .6 40.3 .5 26.2 .6 30.7 .6-21.2 .5 12.5 .6-50.8 .5 50.8 .6-8.7 .5-29.5 .6 22.3"/>
<path stroke="#00ffff" d="M1214.8 597.9l.6 26.2 .5 24.6 .6-54.1 .5 8.4 .6 40.5 .5-11.7 .6-22.7 .6 31 .5 13.1 .6 21 .5 19.1 .6-40.6 .5-49.2 .6-7 .6-9.8 .5-19.5 .6 62.1 .5 15 .6 43.9 .5-25.3 .6-15.2 .5 36.4 .6-44.9 .6 17.1 .5-26.9 .6 15.6 .5-3.5 .6-49.6 .5 29.8 .6 33.6 .6 69.1 .5-59.2 .6 42.7 .5-73.8 .6 55.4 .5 28.8 .6-37.9 .6-34.3 .5 71.6 .6-40.6 .5-28.6 .6-6.1 .5 32.4 .6 3.4 .6-60.4 .5 24.7 .6 40.4 .5-17.6 .6 14.6 .5-22.4 .6 44.6 .6 4.2 .5-59.3 .6-8.4 .5 14.8 .6-5.6 .5 38.8 .6-7.8 .5-36.5 .6 15.9 .6-25.2 .5 34.2 .6-10.7 .5 52.7 .6-28.2 .5-.6 .6 13.8 .6-28.9 .5 .9 .6 34.2 .5-84.6 .6-47.7 .5 91.8 .6-14.3 .6 .2 .5-18.7 .6 15.7 .5-1.2 .6-15.2 .5 45.7 .6 9.7 .6-27.9 .5 9.1 .6 15.3 .5-17.2 .6 2.8 .5 67.9 .6-44.2 .6-55.2 .5-25.7 .6 27.7 .5 3.9 .6 47.2 .5 62.5 .6-46.8 .5 19.2 .6-52.5 .6 37.7 .5-15.3 .6-35.9 .5-6.5 .6 23.9 .5-2.9 .6 58.3 .6-22.2 .5 20.1 .6 .2 .5-47.5 .6 53.2 .5-41.1 .6 21.7 .6 1.6 .5-15.8 .6-12.8 .5 47.6 .6 32.8 .5-92.6 .6-22.2 .6 48 .5 25 .6 23.9 .5-52.4 .6-31.9 .5-43 .6 119.5 .6 86.3 .5-145 .6-12.7 .5-15.4 .6 68.2 .5-8 .6-20.8 .5 29.7 .6 26.3 .6-79.4 .5 23.8 .6 28.6 .5-43.8 .6 20.4 .5-30.4 .6-71.1 .6 64.1 .5-41.6 .6 81.8 .5 34.1 .6-17.7 .5 68.7 .6-78.1 .6 34.7 .5-31.7 .6-17.6 .5 28.5 .6 21.9 .5-22.5 .6-38 .6-34.1 .5 6 .6 21.2 .5 30.4 .6-51.6 .5 11.4 .6 33.8 .6-33 .5-21.5 .6 123.1 .5 17.5 .6-54 .5 9.5 .6 33.3 .5-6.9 .6-72.4 .6-39.7 .5 15.2 .6 16.7 .5-79.1 .6 68.2 .5-88.4 .6 61.2 .6-13.8 .5 .7 .6 84.8 .5-38.5 .6-17.9 .5 34.9 .6 45.1 .6-9.1 .5-2.2 .6-54.6 .5 108.7 .6-68.4 .5 53.9 .6-.3 .6-20.6 .5 .3 .6-41.4 .5-15.6 .6-5.7 .5-39.7 .6-6.3 .5 .2 .6-4.5 .6 37.1 .5-74.5 .6 23.6 .5 9.1 .6-.9 .5 59.7 .6 26.8 .6-39.3 .5 74.8 .6-31.5 .5 3.5 .6-99.1 .5 27.4 .6 39.2 .6-23.4 .5 10.8 .6-10.8 .5 23.1 .6-82.4 .5 20.4 .6 32.3 .6-8.5 .5-3.1 .6-30.2 .5-32.7 .6 58.1 .5 98.9 .6-55.1 .6-30.2 .5-24.2 .6 11 .5 37.3 .6 34.1 .5 52.3 .6-114.9 .5-9.4 .6 41.7 .6-15.6 .5 34.3 .6-31.3 .5-23.7 .6 41.2 .5 45.1 .6 .1 .6-80.4 .5 56 .6-24.7 .5 73 .6-56.6 .5 3.8 .6-64.4 .6 42.8 .5-69.8 .6 44.2 .5-55.4 .6 109.2 .5-14.5 .6-66.8 .6 40.2 .5-54.6 .6 35.3 .5 13.7 .6-51.4 .5 4.8 .6 72.1 .6-15.6 .5-12.9 .6-34.5 .5 52.5 .6-6.2 .5 12.7 .6 9.7 .5-19.7 .6-32.1 .6 2.3 .5-35.4 .6 43.6 .5 17 .6 15.6 .5-2.5 .6 32.9 .6 20 .5-47.2 .6-2.3 .5-37.8 .6 8.1 .5-8.2 .6 32 .6 10.8 .5-37.7 .6 42.8 .5-74 .6 61.4 .5-25.2 .6 15.8 .6 29.2 .5-11.2 .6-56.5 .5-2.9 .6 40.5 .5-20.2 .6-25 .6 18 .5-44.8 .6 81.9 .5 19.3 .6-25.9 .5 34.1 .6 16.6 .5-70.7 .6-87.8 .6 27.5 .5-6.1 .6 43 .5 8.3 .6 28.4 .5 11.8 .6-21.3 .6 5.8 .5 36.4 .6 15.2 .5-46.8 .6 27.7 .5-1.7 .6-21 .6 11.7 .5-59.2 .6-66.8 .5 87.6 .6-28.5 .5-2.1 .6 .2 .6 75.1 .5-86.5 .6-1.6 .5 20.9 .6 91.8 .5-31.5 .6-13.1 .6-59.8 .5 55.1 .6 48.4 .5-55 .6-58 .5 90 .6 22.3 .5-25.1 .6-75.6 .6 32.2 .5 8.6 .6-4.5 .5-34.7 .6 57 .5-4.8 .6-34.6 .6 34.2 .5 3.6 .6-68.1 .5 19.7 .6 15.7 .5 2 .6-28.5 .6 42.1 .5 2.8 .6-59.5 .5 31.9 .6 37.8 .5 62.5 .6 7.7 .6-69 .5 10.5 .6 38.2 .5-27 .6-32.6 .5-23.2 .6-17.9 .6 10.9 .5 43.4 .6-21 .5-35.9 .6-4.5 .5 46.7 .6 10.7 .5 .1 .6 9.1 .6-98.1 .5 30.5 .6 65.9 .5-28.6 .6 85.4 .5-91.3 .6 23.1 .6 70 .5-152 .6 71.8 .5-25.1 .6 81.1 .5 19.7 .6-54.1 .6-16.1 .5-7.8 .6 18.1 .5 14.1 .6-59.2 .5 20.6 .6-11.3 .6 56.4 .5-6.6 .6-39 .5 .4 .6 19.8 .5 13.5 .6-3.9 .6-27.7 .5 3.2 .6-6.4 .5-20.2 .6-22.1 .5 43.9 .6 34.7 .5-64 .6 32.9 .6 38.9 .5-24.7 .6-48.7 .5-8 .6 8.8 .5-8.9 .6 60.4 .6-1.4 .5 43.5 .6-16.5 .5-14.7 .6-3.2 .5-20.9 .6-28.9 .6 88 .5-63 .6 58.8 .5-55.7 .6 44 .5-.1 .6-47.3 .6-41.8 .5 60.9 .6 18 .5-67.6 .6 37.1 .5 25.2 .6-12.8 .6-44.5 .5-53.5 .6 33.2 .5-16.9 .6 20 .5 39.9 .6 6.6 .5 10.7 .6-49 .6 103.7 .5-5 .6-48.4 .5 80.8 .6-83.2 .5 14.6 .6 52.9 .6-38.4 .5-14.5 .6-10.2 .5 25 .6-23.8 .5-70.5 .6 17.2 .6 2.9 .5-33.6 .6 50.2 .5 35.9 .6 6.3 .5-.7 .6-2.2 .6 28.7 .5-10 .6-33.6 .5-20.8 .6-32.8 .5 31.2 .6-40.5 .6 12.8 .5 63.4 .6 41.2 .5-63 .6 49 .5-14.4 .6-31 .5-42.8 .6 1.2 .6 49.3 .5-4.2 .6-.2 .5 .7 .6 2.8 .5 3.7 .6-23.3 .6 .7 .5 51.9 .6-25.7 .5-35.6 .6 29.2 .5-27 .6-18.4 .6 105.7 .5-37.1 .6-43.9 .5-22.5 .6-6.4 .5-15.6 .6 41.3 .6 5.1 .5 31.1 .6 45.9 .5-92.3 .6 44.5 .5 7.5 .6-10.4 .5-15.3 .6 38.5 .6-34.6 .5 6.1 .6-44.3 .5-27.4 .6 53.1 .5 9.6 .6 24.9 .6-42.5 .5-11.7 .6 59.6 .5-25.2 .6 47.7 .5-59.1 .6 28.1 .6-6.4 .5-29.9 .6 54.3 .5-.6 .6-19.9 .5-9.1 .6 4.3 .6-13.4 .5 5 .6-1 .5-33.4 .6 13.3 .5-18 .6 52.2 .6-83.8 .5 9.7 .6 32.9 .5 1.5 .6-34.5 .5 55.6 .6 26.3 .5-39.7 .6 35.8 .6 16 .5-6.2 .6 4.2 .5-4.7 .6-37.7 .5-38.7 .6 84.7 .6-50.5 .5-54.2 .6 39.4 .5 11.1 .6 5.9 .5 34.7 .6-31.7 .6 94.5 .5 12.6 .6-70.4 .5-83 .6 9.3 .5 40.3 .6-11.2 .6 11.7 .5 55.6 .6-5.8 .5 38 .6-74.7 .5-23.7 .6 18.5 .6 14 .5-47.2 .6 49.8 .5-4.8 .6-.7 .5-65.8 .6 12.3 .5 21.8 .6-40.3 .6 51.4 .5 7.9 .6-71.8 .5 36 .6 33.3 .5-51.3 .6 57.2 .6 80.3 .5-67.5 .6-37.7 .5 43.7 .6-1.2 .5-45.2 .6 80.3 .6-35.9 .5 25 .6-60.5 .5-70.8 .6 35.9 .5-49.6 .6 39.5 .6 57.6 .5-84.8 .6 67.7 .5 21.8 .6 3 .5-34.7 .6 71.3 .6-15.5 .5-7.3 .6-4.7 .5-30.7 .6 59.4 .5-54.3 .6 30.1 .5-8.7 .6 48.7 .6-21.4 .5-11.5 .6-8.4 .5-62.9 .6 23.4 .5-45.8 .6 45.9 .6-4.3 .5 71.1 .6-1.4 .5-32.8 .6 36.3 .5-28.7 .6-24.8 .6-20.5 .5 51.9 .6-30.4 .5 23.8 .6 11.2 .5-74 .6 41.5 .6-26.7 .5 24.2 .6-1.3 .5-50.6 .6 76.2 .5-44.1 .6 27.6 .6-35 .5 8.3 .6 43.6 .5-2.2 .6 21.9 .5-7.6 .6-9.6 .5 2.1 .6 24.9 .6-96 .5 15 .6-18.6 .5-1.9 .6-23.7 .5 101.7 .6 25.4 .6-46.7 .5 2.2 .6-28.3 .5 11.4 .6 16.1 .5-7.1 .6-23.8"/>
<path stroke="#000000" d="M1214.8 644.3l.6 22.4 .5 23.6 .6-52.5 .5 5.2 .6 38.8 .5-12.5 .6-45.1 .6 35.9 .5 13.2 .6 7.2 .5 1.3 .6-43.9 .5-42 .6 2.7 .6-10.3 .5-29.6 .6 53.8 .5 11.4 .6 44.3 .5-12.8 .6-12.2 .5 20.9 .6-55.7 .6 14.4 .5-18.8 .6 19.8 .5-18.6 .6-41.5 .5 35.5 .6 44.3 .6 73.8 .5-58.1 .6 27.5 .5-77.6 .6 62.5 .5 21.2 .6-19.5 .6-29.7 .5 70 .6-45 .5-23.5 .6-20.3 .5 16.3 .6 6.9 .6-59.5 .5 26 .6 47.7 .5-12.4 .6 18.7 .5-16.8 .6 49.9 .6 4.1 .5-61.6 .6-23.4 .5 13 .6-10.5 .5 48 .6-15.2 .5-50.4 .6 8.3 .6-6.8 .5 43.3 .6-8.7 .5 63.4 .6-45.1 .5-10.1 .6 6.9 .6-27.9 .5 20.2 .6 39.7 .5-71.1 .6-50.9 .5 79.3 .6-4 .6-8.5 .5-20.9 .6 8.2 .5 9.2 .6-24.8 .5 51.5 .6 8.5 .6-30.1 .5 6.8 .6 9.2 .5-11.4 .6 1 .5 62.3 .6-34.5 .6-51.9 .5-25.3 .6 22.6 .5 6.3 .6 51.2 .5 58.5 .6-65.3 .5-2.6 .6-24.9 .6 2.8 .5 22.4 .6-57.7 .5-4.6 .6 50.2 .5-14.6 .6 45.2 .6-39.4 .5 2.4 .6 38.1 .5-67.2 .6 21.4 .5 38.9 .6-30.8 .6 11.8 .5-16.5 .6 23.9 .5 29.2 .6-19.1 .5-58.1 .6 10.8 .6 26.5 .5 61.6 .6-35.5 .5-58.1 .6-8 .5-20.4 .6 42.1 .6 91.9 .5-81.8 .6-5.3 .5-6.2 .6 58.6 .5-22.1 .6-40.4 .5 57.8 .6-32.4 .6-22 .5 36 .6 9.5 .5-35.1 .6 4.4 .5-38 .6-46.4 .6 63.4 .5-31.8 .6 27.4 .5 42.2 .6 8.1 .5 10.1 .6-23.7 .6 5.2 .5-25.4 .6-17.1 .5 72.8 .6 6.6 .5-41.8 .6-5.7 .6-25.4 .5-29 .6 43.4 .5 18.3 .6-23.3 .5 8.5 .6 3.9 .6 4.7 .5-20.4 .6 47.6 .5 41.1 .6-31.5 .5-5.7 .6 52.4 .5-42.2 .6-27.2 .6-31.9 .5 20.6 .6 11.2 .5-90 .6 55.3 .5-83.6 .6 43.4 .6-.1 .5-14.1 .6 60.6 .5-18.6 .6 6.2 .5-3.6 .6 24.4 .6 36.6 .5-1.5 .6-37.5 .5 77.7 .6-38.8 .5 42.5 .6 14.4 .6-71.2 .5 34 .6-31.3 .5-36.9 .6 14.4 .5-18.1 .6-9.1 .5-21.3 .6 15.1 .6 28.3 .5-66.4 .6 5.4 .5 36.5 .6 .3 .5 57.7 .6 2.3 .6-5.2 .5 48.2 .6-43.4 .5 28.2 .6-85.7 .5 32 .6 14.2 .6-37.5 .5 11.6 .6-32.1 .5 62.4 .6-69.4 .5 23.1 .6 20.3 .6-43.5 .5 22.2 .6-19.9 .5-37.1 .6 53 .5 64.4 .6-45 .6-.3 .5-21.1 .6 1.2 .5 33.7 .6 35.9 .5 58.4 .6-112.5 .5-5.3 .6 36.2 .6-23.3 .5 48 .6-22.6 .5-32.8 .6 16.4 .5 64.2 .6-3.6 .6-58.7 .5 54.8 .6-60.5 .5 69.8 .6-39.2 .5-15.1 .6-54.7 .6 37.7 .5-61.5 .6 47.5 .5-36.6 .6 85.6 .5-12.1 .6-58.1 .6 39.9 .5-68.8 .6 43 .5-1.1 .6-24.4 .5 .3 .6 61 .6-20.2 .5 11.1 .6-39.4 .5 60.7 .6-14.9 .5 14.4 .6-12 .5-20.9 .6-14 .6 8.8 .5-35.6 .6 38.7 .5 4.5 .6 39.7 .5 3.7 .6-8.7 .6 19.9 .5-27.5 .6-6.5 .5-27.5 .6 10.2 .5-12.8 .6 36.7 .6-12.1 .5-35.7 .6 44.7 .5-58.6 .6 49.6 .5-39.4 .6 27.8 .6 48.8 .5-18.7 .6-47.9 .5-14.6 .6 33.4 .5-15.4 .6-26.9 .6 15.5 .5-39.5 .6 84.2 .5 28.4 .6-39.2 .5 52.3 .6 19.8 .5-61.4 .6-85.3 .6 27.8 .5-14.2 .6 33.6 .5 5.2 .6 15.4 .5 .6 .6-17.4 .6 11.9 .5 35.3 .6 12.7 .5-42.6 .6 41.4 .5 13.7 .6-28.6 .6-20.8 .5-52.3 .6-60.5 .5 92.2 .6-37 .5-.6 .6 20.2 .6 64.1 .5-81.6 .6-13.5 .5 42.3 .6 73.2 .5-22.5 .6-34.4 .6-40.4 .5 60 .6 41.7 .5-66.9 .6-53.1 .5 87.4 .6 27.3 .5-36.4 .6-60.3 .6 47.3 .5-16.8 .6-6.5 .5-37.2 .6 62.3 .5-17 .6-12.4 .6 46.6 .5 12.8 .6-88.5 .5 24.6 .6 8.7 .5 14.4 .6-26.1 .6 43.5 .5 0 .6-66.6 .5 33.1 .6 19.8 .5 74.6 .6-3.9 .6-84.4 .5 2.4 .6 67.9 .5-31.5 .6-31.3 .5-25.8 .6-23.8 .6 31.1 .5 24.7 .6 8.6 .5-36.1 .6-7 .5 19.5 .6 11.9 .5 12.3 .6 17.5 .6-99.6 .5 25.9 .6 72.5 .5-29 .6 83.2 .5-97.3 .6 32.3 .6 63.5 .5-167 .6 76.9 .5-33.4 .6 70.5 .5 27.3 .6-47.5 .6 9.8 .5-21.9 .6 12.7 .5 35.7 .6-51.5 .5 12.4 .6-2.6 .6 33.5 .5-31.7 .6-46.9 .5 8.3 .6 23 .5 21.4 .6-10.6 .6 3.3 .5 9.5 .6-6.3 .5-34.1 .6-31.3 .5 49.6 .6 38.1 .5-44.7 .6 36.8 .6 19.2 .5-34.6 .6-45.5 .5-15.5 .6-17.2 .5 15.8 .6 73.4 .6-17.5 .5 37.6 .6-17.6 .5-.2 .6 6.4 .5-34.8 .6-22.6 .6 96.1 .5-66.4 .6 47.9 .5-54.5 .6 53.2 .5 3.2 .6-60.1 .6-46.8 .5 68.2 .6 21 .5-52.8 .6 32.5 .5 32.2 .6-12.7 .6-42.6 .5-70.4 .6 28.3 .5 5.4 .6 4.8 .5 23.8 .6 5.9 .5 23.9 .6-40.7 .6 82.7 .5-17.6 .6-30.1 .5 59.9 .6-66.3 .5 30.2 .6 29.9 .6-42.3 .5 10.1 .6 2.3 .5 18.2 .6-41.1 .5-55.7 .6 22.5 .6-1.5 .5-27.2 .6 36.2 .5 26 .6-34 .5-76.9 .6 118.2 .6 33.5 .5-1.2 .6-40.3 .5-11 .6-30.4 .5 22.6 .6-25 .6 14.7 .5 47.8 .6 45.5 .5-64.8 .6 41.8 .5-21.5 .6-29.1 .5-46.3 .6 4.3 .6 53.8 .5-12 .6 4.9 .5-11.9 .6 27.5 .5-.6 .6-15.8 .6 19 .5 44.2 .6-37 .5-34.5 .6 14.6 .5-36.8 .6-10 .6 89.1 .5-25.7 .6-47.6 .5-.5 .6-3.6 .5-22.3 .6 36.8 .6 11.9 .5 32.1 .6 8.5 .5-76 .6 68.3 .5 10.8 .6-18.4 .5-19.1 .6 16.2 .6-18.1 .5 4.1 .6-33.2 .5-28 .6 59.3 .5 1.6 .6 29.2 .6-32.5 .5-21.4 .6 57.2 .5-30.9 .6 46.1 .5-94.4 .6 47.4 .6 13.8 .5-14.2 .6 34.5 .5 8.8 .6-29.7 .5-17.3 .6 6.5 .6-18.7 .5 4.8 .6 24.9 .5-64.2 .6 8.4 .5 3.7 .6 53.8 .6-75.6 .5 25.1 .6 25.6 .5-1.8 .6-44.3 .5 62.2 .6 26.2 .5-58.3 .6 28.5 .6 17 .5 1.9 .6 20.8 .5-11.7 .6-70.8 .5-20.3 .6 80.3 .6-58.6 .5-42.7 .6 40.8 .5 24.2 .6 5 .5 39.4 .6-44.8 .6 102.4 .5 .8 .6-68.7 .5-79.7 .6 23.8 .5 26.2 .6-.9 .6 21.8 .5 38.3 .6 4.5 .5 40.9 .6-90.7 .5-18.7 .6 24.7 .6 23.4 .5-50.9 .6 33.1 .5 1.8 .6 3.6 .5-71.6 .6 16.5 .5 10 .6-36.6 .6 42.1 .5 11.2 .6-68.8 .5 46.5 .6 29 .5-44.2 .6 51.9 .6 77.4 .5-57.7 .6-42.2 .5 47.6 .6 5.9 .5-55.2 .6 99.1 .6-29.8 .5 5.9 .6-75.5 .5-63.6 .6 51.5 .5-44.8 .6 27.5 .6 56.1 .5-96.2 .6 41.1 .5 10.8 .6 27.8 .5-38.3 .6 82.8 .6-11.2 .5-5.5 .6 5.1 .5-36 .6 68.8 .5-56.7 .6 1.8 .5-4.7 .6 58.4 .6-17.4 .5-27.3 .6 13.6 .5-53.4 .6 10.6 .5-63.5 .6 42.4 .6 3.5 .5 70.7 .6 12.5 .5-42.8 .6 30.5 .5-23.9 .6 1.5 .6-27.5 .5 44.7 .6-55.4 .5 35.8 .6 42.9 .5-72.7 .6 34.9 .6-40.9 .5 11.3 .6 8.9 .5-42.8 .6 58.9 .5-51.2 .6 34.1 .6-25.6 .5-6.7 .6 28.8 .5 22.4 .6 21.4 .5-7 .6-9.5 .5 3.4 .6 11.2 .6-68.6 .5 17.9 .6-22 .5-4.1 .6-27.3 .5 98.9 .6 38.2 .6-49.8 .5 3.3 .6-41.2 .5 .1 .6 26.3 .5-14.3 .6-9.2"/>
</g>
<path d="M1326.1 500.7v5.5M1326.1 809.8v-5.5M1437.5 500.7v5.5M1437.5 809.8v-5.5M1548.8 500.7v5.5M1548.8 809.8v-5.5M1214.8 780.4h5.5M1598.4 780.4h-5.5M1214.8 710.5h5.5M1598.4 710.5h-5.5M1214.8 640.6h5.5M1598.4 640.6h-5.5M1214.8 570.6h5.5M1598.4 570.6h-5.5" stroke="#262626" stroke-width="2" fill="none"/>
<rect x="1214.8" y="500.7" width="383.6" height="309.1" fill="none" stroke="#262626" stroke-width="2.4"/>
<text transform="translate(1214.5 850.9) scale(1 1.045)" text-anchor="middle" font-size="33" fill="#262626">0</text>
<text transform="translate(1325.8 850.9) scale(1 1.045)" text-anchor="middle" font-size="33" fill="#262626">200</text>
<text transform="translate(1437.2 850.9) scale(1 1.045)" text-anchor="middle" font-size="33" fill="#262626">400</text>
<text transform="translate(1548.5 850.9) scale(1 1.045)" text-anchor="middle" font-size="33" fill="#262626">600</text>
<text x="1204.4" y="791.6" text-anchor="end" font-size="33" fill="#262626">-20</text>
<text x="1204.4" y="721.7" text-anchor="end" font-size="33" fill="#262626">-10</text>
<text x="1204.4" y="651.8" text-anchor="end" font-size="33" fill="#262626">0</text>
<text x="1204.4" y="581.8" text-anchor="end" font-size="33" fill="#262626">10</text>
<text x="1204.4" y="511.9" text-anchor="end" font-size="33" fill="#262626">20</text>
<text x="1406.6" y="891.1" text-anchor="middle" font-size="33" fill="#262626">Time(s)</text>
<text transform="translate(1107.5 656.2) rotate(-90)" text-anchor="middle" font-size="33.6" fill="#262626"><tspan x="0" y="0">PU-posterior residuals</tspan><tspan x="0" y="39.3">(m)</tspan></text>
<rect x="234.5" y="1.4" width="1079" height="42.9" fill="#fff" stroke="#262626" stroke-width="2.8"/>
<line x1="239.0" y1="22.9" x2="290.0" y2="22.9" stroke="#ff0000" stroke-width="3.5"/>
<text transform="translate(293.4 35.0) scale(1 1.028)" font-size="34" fill="#000">SKF</text>
<line x1="368.7" y1="22.9" x2="419.6" y2="22.9" stroke="#00ff00" stroke-width="3.5"/>
<text transform="translate(423.1 35.0) scale(1 1.028)" font-size="34" fill="#000">IAKF</text>
<line x1="517.9" y1="22.9" x2="568.1" y2="22.9" stroke="#0000ff" stroke-width="3.5"/>
<text transform="translate(571.8 35.0) scale(1 1.028)" font-size="34" fill="#000">IAE-AKF</text>
<line x1="724.1" y1="22.9" x2="774.4" y2="22.9" stroke="#ffff00" stroke-width="3.5"/>
<text transform="translate(778.6 35.0) scale(1 1.028)" font-size="34" fill="#000">SH-AKF</text>
<line x1="915.0" y1="22.9" x2="965.6" y2="22.9" stroke="#00ffff" stroke-width="3.5"/>
<text transform="translate(969.3 35.0) scale(1 1.028)" font-size="34" fill="#000">PAUKF</text>
<line x1="1095.0" y1="22.9" x2="1145.6" y2="22.9" stroke="#000000" stroke-width="3.5"/>
<text transform="translate(1149.3 35.0) scale(1 1.028)" font-size="34" fill="#000">MLE-AKF</text>
</svg></body></html>
